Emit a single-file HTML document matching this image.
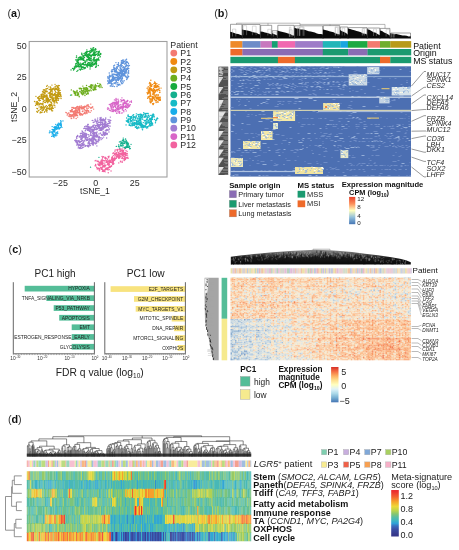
<!DOCTYPE html>
<html><head><meta charset="utf-8"><title>Figure</title>
<style>
html,body{margin:0;padding:0;background:#fff;}
body{width:459px;height:550px;overflow:hidden;}
svg{display:block;font-family:"Liberation Sans",Arial,sans-serif;}
</style></head><body>
<svg width="459" height="550" viewBox="0 0 459 550">
<rect width="459" height="550" fill="#fff"/>
<text x="7.4" y="17.2" font-size="10.8" fill="#333">(<tspan font-weight="bold" fill="#111">a</tspan>)</text>
<rect x="29.2" y="41.5" width="137.8" height="135.5" fill="none" stroke="#a0a0a0" stroke-width="1.1"/>
<text x="26.6" y="48.9" font-size="8.9" text-anchor="end" fill="#2a2a2a">50</text>
<text x="26.6" y="80.2" font-size="8.9" text-anchor="end" fill="#2a2a2a">25</text>
<text x="26.6" y="111.7" font-size="8.9" text-anchor="end" fill="#2a2a2a">0</text>
<text x="26.6" y="143.3" font-size="8.9" text-anchor="end" fill="#2a2a2a">−25</text>
<text x="26.6" y="174.7" font-size="8.9" text-anchor="end" fill="#2a2a2a">−50</text>
<text x="60.3" y="185.8" font-size="8.9" text-anchor="middle" fill="#2a2a2a">−25</text>
<text x="95.6" y="185.8" font-size="8.9" text-anchor="middle" fill="#2a2a2a">0</text>
<text x="134.7" y="185.8" font-size="8.9" text-anchor="middle" fill="#2a2a2a">25</text>
<text x="95" y="193.6" font-size="8.7" text-anchor="middle" fill="#2a2a2a">tSNE_1</text>
<text transform="translate(17,107) rotate(-90)" font-size="8.7" text-anchor="middle" fill="#2a2a2a">tSNE_2</text>
<text x="170.3" y="48" font-size="8.8" fill="#2a2a2a">Patient</text>
<circle cx="173.8" cy="53.1" r="3.4" fill="#F37A72"/>
<text x="180.3" y="56.3" font-size="8.8" fill="#2a2a2a">P1</text>
<circle cx="173.8" cy="61.5" r="3.4" fill="#F08A12"/>
<text x="180.3" y="64.7" font-size="8.8" fill="#2a2a2a">P2</text>
<circle cx="173.8" cy="69.8" r="3.4" fill="#C39B12"/>
<text x="180.3" y="73" font-size="8.8" fill="#2a2a2a">P3</text>
<circle cx="173.8" cy="78.2" r="3.4" fill="#6EAE1E"/>
<text x="180.3" y="81.4" font-size="8.8" fill="#2a2a2a">P4</text>
<circle cx="173.8" cy="86.5" r="3.4" fill="#18AB3E"/>
<text x="180.3" y="89.7" font-size="8.8" fill="#2a2a2a">P5</text>
<circle cx="173.8" cy="94.8" r="3.4" fill="#14B08E"/>
<text x="180.3" y="98" font-size="8.8" fill="#2a2a2a">P6</text>
<circle cx="173.8" cy="103.2" r="3.4" fill="#16BAC6"/>
<text x="180.3" y="106.4" font-size="8.8" fill="#2a2a2a">P7</text>
<circle cx="173.8" cy="111.5" r="3.4" fill="#18ADEA"/>
<text x="180.3" y="114.8" font-size="8.8" fill="#2a2a2a">P8</text>
<circle cx="173.8" cy="119.9" r="3.4" fill="#5E93DC"/>
<text x="180.3" y="123.1" font-size="8.8" fill="#2a2a2a">P9</text>
<circle cx="173.8" cy="128.2" r="3.4" fill="#A27CD2"/>
<text x="180.3" y="131.4" font-size="8.8" fill="#2a2a2a">P10</text>
<circle cx="173.8" cy="136.6" r="3.4" fill="#D866C8"/>
<text x="180.3" y="139.8" font-size="8.8" fill="#2a2a2a">P11</text>
<circle cx="173.8" cy="144.9" r="3.4" fill="#F2639F"/>
<text x="180.3" y="148.1" font-size="8.8" fill="#2a2a2a">P12</text>
<path d="M71.5 111.4h.1M67.7 113.8h.1M72.0 109.2h.1M72.3 109.5h.1M72.2 114.7h.1M85.7 106.3h.1M79.2 112.2h.1M77.5 106.5h.1M74.2 111.9h.1M87.1 111.8h.1M91.2 110.7h.1M79.6 114.8h.1M92.0 107.8h.1M79.7 109.1h.1M81.2 114.9h.1M80.0 107.4h.1M86.7 108.3h.1M86.0 112.5h.1M85.2 113.8h.1M70.5 111.7h.1M76.0 108.9h.1M80.9 113.7h.1M79.3 112.2h.1M79.0 109.8h.1M86.9 113.5h.1M79.7 111.1h.1M77.7 107.9h.1M77.8 108.5h.1M73.9 117.1h.1M90.8 108.3h.1M79.5 106.7h.1M85.9 110.9h.1M78.4 109.1h.1M86.4 110.2h.1M75.6 109.0h.1M89.7 107.1h.1M76.3 110.8h.1M76.1 118.5h.1M79.8 114.6h.1M83.4 108.5h.1M79.9 113.0h.1M84.5 106.8h.1M79.3 106.9h.1M75.5 108.9h.1M92.7 106.9h.1M88.5 110.6h.1M90.7 104.1h.1M74.5 108.0h.1M72.3 115.1h.1M77.2 111.5h.1M82.3 108.9h.1M87.4 104.9h.1M85.3 110.8h.1M82.7 114.5h.1M71.9 107.5h.1M81.5 108.9h.1M72.2 116.1h.1M83.6 106.9h.1M84.4 106.6h.1M76.2 112.5h.1M69.4 114.8h.1M75.1 110.3h.1M88.7 106.5h.1M79.7 109.8h.1M76.9 113.0h.1M77.7 110.7h.1M79.3 109.7h.1M90.7 108.0h.1M79.4 108.7h.1M69.6 116.2h.1M81.7 114.3h.1M81.8 106.9h.1M67.5 113.9h.1M76.4 107.9h.1M79.4 113.9h.1M73.7 108.4h.1M86.3 111.1h.1M74.4 115.7h.1M71.6 118.2h.1M81.2 108.6h.1M83.0 108.2h.1M86.7 106.9h.1M75.4 108.8h.1M80.3 107.1h.1M88.5 106.3h.1M67.9 113.8h.1M76.3 110.0h.1M71.5 111.0h.1M79.8 106.2h.1M86.0 110.6h.1M83.0 111.1h.1M76.4 115.5h.1M73.8 113.7h.1M77.0 110.9h.1M87.3 109.9h.1M65.8 112.3h.1M80.4 115.1h.1M88.7 112.0h.1M70.8 114.6h.1M76.9 114.8h.1M71.2 115.5h.1M71.0 116.5h.1M68.4 116.1h.1M78.3 112.6h.1M74.9 113.9h.1M78.3 108.3h.1M75.6 107.7h.1M73.5 111.3h.1M70.4 114.8h.1M78.3 112.7h.1M75.6 110.3h.1M83.2 113.8h.1M79.5 111.4h.1M75.3 111.2h.1M70.8 110.6h.1M79.3 108.0h.1M73.4 113.0h.1M84.9 113.2h.1M81.0 107.8h.1M66.3 112.7h.1M83.4 107.0h.1M88.4 104.9h.1M75.4 112.9h.1M74.3 113.4h.1M82.1 108.6h.1M75.6 114.6h.1M88.1 108.2h.1M77.0 113.0h.1M81.3 108.0h.1M91.7 107.4h.1M78.2 106.9h.1M75.2 112.7h.1M67.8 113.8h.1M81.1 107.8h.1M72.1 109.3h.1M85.5 106.7h.1M71.1 118.6h.1M88.6 111.3h.1M84.1 107.0h.1M70.1 110.6h.1M81.3 105.8h.1M85.3 106.8h.1M82.3 111.6h.1M82.5 115.0h.1M75.5 113.2h.1M77.6 111.9h.1M75.8 115.7h.1M76.0 110.4h.1M71.9 110.4h.1M82.7 107.6h.1M68.2 113.2h.1M72.5 111.1h.1M73.1 107.5h.1M70.5 115.0h.1M82.5 111.2h.1M71.1 111.9h.1M73.3 116.0h.1M77.5 115.4h.1M74.9 114.5h.1M88.5 111.9h.1M86.7 111.3h.1M86.9 113.0h.1M75.9 108.8h.1M79.2 110.7h.1M68.9 112.9h.1M92.5 106.9h.1M79.7 111.9h.1M75.1 113.2h.1M84.3 112.1h.1M76.3 112.6h.1M93.6 109.1h.1M84.1 106.8h.1M86.7 105.3h.1M77.7 109.8h.1M73.8 118.1h.1M73.7 117.7h.1M84.0 109.1h.1M77.6 117.1h.1M74.9 115.2h.1M82.3 107.0h.1M79.6 112.3h.1M75.9 114.2h.1M74.0 114.3h.1M75.2 111.7h.1M76.7 114.2h.1M84.8 109.9h.1M82.9 110.9h.1M77.1 111.8h.1M80.5 107.6h.1M76.6 106.8h.1M79.6 110.8h.1M69.6 114.3h.1M70.4 114.9h.1M74.1 111.1h.1M67.1 115.1h.1M81.1 113.7h.1M84.7 106.2h.1M87.5 110.4h.1M79.6 110.4h.1M84.3 113.4h.1M75.5 113.0h.1M78.9 112.5h.1M80.7 115.1h.1M87.2 105.8h.1M71.6 109.6h.1M74.6 115.9h.1M84.3 107.7h.1M73.1 114.7h.1M90.1 112.3h.1M70.0 116.8h.1M75.9 109.3h.1M72.6 111.7h.1M83.1 113.8h.1M73.5 115.9h.1M78.7 109.5h.1" stroke="#F37A72" stroke-width="1.35" stroke-linecap="round" fill="none"/>
<path d="M154.1 93.9h.1M151.8 100.1h.1M156.3 90.1h.1M155.1 90.3h.1M156.0 85.6h.1M156.2 87.5h.1M150.6 98.9h.1M156.8 95.0h.1M158.5 97.3h.1M150.1 90.8h.1M153.9 83.4h.1M157.6 86.9h.1M151.4 90.5h.1M152.4 90.3h.1M157.8 101.4h.1M152.3 97.9h.1M155.8 97.0h.1M154.7 85.6h.1M150.2 84.3h.1M156.2 100.8h.1M151.9 100.2h.1M147.9 89.9h.1M153.3 92.0h.1M148.8 97.1h.1M150.2 89.3h.1M149.3 98.0h.1M150.2 100.9h.1M152.1 97.9h.1M156.3 100.4h.1M157.3 89.3h.1M155.5 91.6h.1M152.8 91.9h.1M154.0 92.8h.1M154.9 99.3h.1M156.8 97.8h.1M157.0 90.5h.1M150.5 87.9h.1M150.5 85.1h.1M152.1 100.1h.1M152.7 94.2h.1M155.5 91.4h.1M154.1 96.9h.1M149.7 82.5h.1M150.1 94.6h.1M154.8 82.3h.1M153.0 97.0h.1M154.5 87.3h.1M148.7 86.8h.1M147.6 94.0h.1M158.4 94.9h.1M154.6 83.0h.1M154.6 92.7h.1M159.7 92.6h.1M156.9 85.8h.1M151.0 102.4h.1M150.1 94.9h.1M149.9 88.3h.1M160.2 98.9h.1M156.0 101.2h.1M156.7 98.7h.1M149.6 91.5h.1M160.2 97.2h.1M158.4 99.9h.1M159.0 90.2h.1M159.1 88.5h.1M153.5 88.4h.1M158.9 84.6h.1M149.0 93.2h.1M154.3 89.5h.1M154.1 89.1h.1M159.1 97.2h.1M157.9 102.4h.1M147.1 88.2h.1M150.8 99.1h.1M152.9 104.6h.1M156.7 89.6h.1M157.0 87.0h.1M159.0 99.9h.1M153.7 94.0h.1M150.7 89.1h.1M150.9 95.8h.1M154.8 98.9h.1M152.5 103.6h.1M152.5 100.2h.1M155.3 90.1h.1M159.3 99.8h.1M156.7 98.9h.1M155.8 86.9h.1M159.0 86.9h.1M148.0 97.0h.1M150.0 95.8h.1M155.1 85.5h.1M159.2 100.3h.1M153.4 88.6h.1M150.8 84.9h.1M150.6 94.1h.1M159.6 98.1h.1M160.1 100.2h.1M154.2 85.3h.1M153.2 98.4h.1M154.6 81.8h.1M159.9 92.2h.1M155.5 83.2h.1M155.4 96.0h.1M147.6 98.2h.1M152.6 96.9h.1M156.3 97.4h.1M150.5 83.9h.1M155.9 94.9h.1M149.7 90.8h.1M151.1 99.1h.1M153.4 90.2h.1M151.1 88.7h.1M153.2 104.6h.1M150.7 86.3h.1M150.1 102.2h.1M158.2 99.5h.1M149.0 93.3h.1M157.0 98.7h.1M156.4 95.0h.1M156.9 86.9h.1M153.3 98.3h.1M151.7 100.9h.1M150.0 101.5h.1M150.8 80.2h.1M149.0 96.5h.1M149.3 83.6h.1M152.3 96.4h.1M158.4 86.3h.1M152.3 99.2h.1M149.9 89.6h.1M148.3 91.5h.1M148.4 92.0h.1M153.6 103.5h.1M154.5 86.0h.1M153.5 98.4h.1M151.4 85.2h.1M153.7 98.6h.1M154.1 95.2h.1M153.8 92.8h.1M161.0 88.1h.1M153.4 94.1h.1M150.2 83.0h.1M153.4 90.3h.1M159.7 90.5h.1M150.3 96.5h.1M150.4 85.9h.1M153.7 96.9h.1M153.7 97.0h.1M152.0 96.6h.1M149.9 85.4h.1M148.6 90.2h.1M157.2 91.0h.1M156.1 97.7h.1M158.5 98.3h.1M150.0 100.0h.1M155.1 83.5h.1M153.0 93.4h.1M157.5 85.5h.1M150.0 99.4h.1M147.3 92.9h.1M154.2 93.1h.1M154.5 99.5h.1M149.9 88.0h.1M158.2 89.3h.1M156.2 87.0h.1M157.3 98.4h.1M158.1 95.2h.1M151.5 101.3h.1M152.1 89.4h.1M156.1 102.3h.1M152.3 101.1h.1M157.8 97.0h.1M158.3 99.6h.1M151.7 86.3h.1M152.6 100.1h.1M156.1 102.5h.1M153.9 90.5h.1M149.7 89.1h.1M155.5 90.9h.1M148.0 93.1h.1M152.3 97.8h.1M151.1 88.3h.1M154.8 92.6h.1M147.0 92.6h.1M155.6 86.5h.1M154.3 91.8h.1M150.4 93.0h.1M157.8 97.9h.1M156.8 83.6h.1M151.1 84.1h.1M149.5 87.9h.1M153.8 91.0h.1M152.6 90.9h.1M156.5 98.4h.1M152.6 84.6h.1M154.0 89.1h.1M151.6 89.7h.1M150.5 89.3h.1M148.9 88.8h.1M154.6 97.1h.1M149.2 89.6h.1M158.6 99.7h.1M150.6 102.7h.1M158.0 86.6h.1M159.5 92.3h.1M148.1 86.9h.1M153.2 98.2h.1M149.8 96.4h.1M155.2 100.3h.1M153.6 98.0h.1M160.3 100.2h.1M150.1 91.6h.1M154.0 86.7h.1M158.0 94.8h.1M150.9 95.8h.1M155.7 87.5h.1M149.7 92.7h.1M156.6 97.2h.1M156.8 97.9h.1M152.7 97.5h.1M154.1 94.4h.1M150.2 99.0h.1M151.6 99.2h.1M155.7 84.5h.1M157.2 90.8h.1" stroke="#F08A12" stroke-width="1.35" stroke-linecap="round" fill="none"/>
<path d="M55.5 96.5h.1M42.4 104.2h.1M39.0 98.6h.1M58.6 89.7h.1M43.7 101.6h.1M52.8 99.2h.1M58.1 93.5h.1M44.4 95.4h.1M56.6 97.0h.1M55.0 84.3h.1M39.1 98.5h.1M42.9 103.5h.1M56.3 100.4h.1M46.9 112.1h.1M37.2 101.5h.1M59.4 96.5h.1M49.3 108.9h.1M36.2 101.9h.1M42.5 91.7h.1M42.2 110.8h.1M51.5 108.9h.1M47.3 106.7h.1M41.2 104.0h.1M59.0 94.0h.1M38.6 110.6h.1M56.5 89.3h.1M57.2 86.3h.1M58.7 94.9h.1M50.5 89.1h.1M46.6 98.4h.1M50.3 99.4h.1M42.9 104.9h.1M52.5 94.5h.1M37.3 104.1h.1M60.5 95.1h.1M45.7 109.8h.1M50.0 97.1h.1M50.0 109.0h.1M52.1 108.4h.1M42.7 104.5h.1M37.8 103.3h.1M42.9 99.6h.1M54.7 94.4h.1M57.8 95.1h.1M39.9 96.5h.1M59.6 90.5h.1M50.8 104.5h.1M46.0 90.9h.1M35.5 105.4h.1M42.1 98.2h.1M54.6 94.5h.1M41.9 112.4h.1M40.0 112.9h.1M47.7 102.7h.1M47.4 108.3h.1M41.8 106.7h.1M44.6 107.1h.1M53.1 88.5h.1M54.5 90.1h.1M58.2 92.4h.1M58.6 94.6h.1M54.3 100.7h.1M57.2 88.1h.1M56.3 102.0h.1M56.2 96.6h.1M41.2 103.7h.1M50.8 90.5h.1M45.4 102.5h.1M54.9 107.1h.1M51.2 109.2h.1M50.5 94.7h.1M51.6 93.3h.1M49.3 104.3h.1M43.3 109.4h.1M45.1 93.7h.1M50.0 106.3h.1M41.9 98.0h.1M58.0 95.2h.1M42.8 104.2h.1M56.9 98.5h.1M57.4 89.9h.1M60.3 92.7h.1M58.2 100.2h.1M41.1 104.1h.1M58.9 95.6h.1M56.4 99.2h.1M45.1 92.1h.1M52.3 97.7h.1M60.8 96.8h.1M42.3 96.7h.1M57.4 94.5h.1M55.5 97.3h.1M46.0 88.6h.1M49.6 96.1h.1M46.7 99.4h.1M36.1 103.2h.1M42.1 96.6h.1M44.0 107.3h.1M45.3 100.1h.1M53.2 99.2h.1M46.8 109.1h.1M54.7 93.8h.1M56.4 99.7h.1M52.2 96.6h.1M54.9 86.9h.1M53.9 100.1h.1M39.8 96.2h.1M57.9 92.6h.1M54.7 93.6h.1M50.1 97.5h.1M49.4 108.1h.1M53.0 89.2h.1M39.1 106.9h.1M56.9 97.4h.1M54.8 101.4h.1M46.6 101.1h.1M53.9 98.0h.1M46.1 91.4h.1M52.5 100.3h.1M43.5 92.7h.1M53.9 105.0h.1M54.8 89.6h.1M56.1 88.4h.1M37.2 104.8h.1M56.3 98.7h.1M55.6 100.4h.1M46.1 96.3h.1M45.3 96.1h.1M46.9 101.0h.1M57.9 90.6h.1M56.7 97.4h.1M57.1 103.1h.1M46.1 90.9h.1M43.4 96.5h.1M54.6 93.3h.1M43.5 101.4h.1M51.7 110.1h.1M50.8 91.6h.1M41.6 96.4h.1M45.4 106.3h.1M53.5 94.7h.1M59.3 94.1h.1M49.1 89.6h.1M53.5 99.5h.1M49.2 107.8h.1M41.1 112.5h.1M37.5 102.8h.1M51.5 93.8h.1M52.8 98.6h.1M47.7 99.8h.1M37.3 103.7h.1M38.6 102.9h.1M49.8 99.8h.1M50.4 87.0h.1M59.0 93.0h.1M37.1 104.3h.1M59.1 92.9h.1M53.8 94.5h.1M57.7 97.1h.1M43.3 98.6h.1M55.7 99.9h.1M49.2 99.8h.1M38.1 103.3h.1M40.9 106.5h.1M55.4 95.2h.1M54.9 97.9h.1M41.6 96.7h.1M51.3 93.7h.1M42.7 103.4h.1M47.5 97.2h.1M47.4 101.7h.1M59.9 93.2h.1M49.6 105.1h.1M41.4 94.3h.1M54.2 102.7h.1M36.2 104.0h.1M42.0 98.8h.1M53.2 108.4h.1M58.2 89.4h.1M49.4 100.5h.1M46.6 89.0h.1M59.1 88.6h.1M51.1 94.3h.1M36.3 104.0h.1M47.6 88.3h.1M43.4 107.0h.1M51.9 96.9h.1M51.5 105.9h.1M53.6 101.5h.1M47.3 99.7h.1M50.0 93.2h.1M55.1 90.8h.1M58.7 89.5h.1M52.0 110.9h.1M46.1 96.4h.1M43.1 91.4h.1M36.8 108.3h.1M40.8 108.8h.1M56.9 100.6h.1M35.9 96.3h.1M43.7 95.7h.1M59.3 92.6h.1M50.4 95.5h.1M50.2 95.1h.1M41.7 98.5h.1M52.2 100.8h.1M45.0 89.6h.1M43.2 101.7h.1M51.8 94.6h.1M56.0 88.6h.1M40.8 94.8h.1M52.2 99.0h.1M45.4 96.0h.1M40.3 100.3h.1M55.2 98.0h.1M52.4 91.9h.1M42.0 109.9h.1M56.7 85.7h.1M44.3 107.5h.1M58.6 87.9h.1M48.6 101.5h.1M47.2 97.4h.1M49.4 92.6h.1M46.9 91.1h.1M38.1 98.4h.1M56.4 89.0h.1M34.5 101.5h.1M50.6 96.7h.1M48.8 86.9h.1M49.7 94.0h.1M46.5 100.5h.1M39.3 100.7h.1M51.2 107.7h.1M41.4 108.2h.1M53.5 88.2h.1M53.5 100.8h.1M51.8 98.5h.1M55.8 86.1h.1M51.1 102.7h.1M47.0 108.1h.1M57.0 86.1h.1M51.7 109.3h.1M48.1 93.1h.1M47.2 91.6h.1M56.0 92.5h.1M51.8 97.7h.1M39.4 104.0h.1M58.3 100.3h.1M57.0 102.7h.1M41.8 108.1h.1M58.0 91.0h.1M49.6 109.5h.1M53.6 99.3h.1M40.5 103.3h.1M46.2 101.5h.1M59.5 93.1h.1M59.6 94.2h.1M55.1 88.1h.1M49.7 107.8h.1M53.1 88.8h.1M41.6 95.9h.1M46.0 95.4h.1M43.2 99.2h.1M50.0 104.7h.1M53.5 100.6h.1M44.8 102.3h.1M58.7 94.5h.1M46.5 96.0h.1M59.0 92.2h.1M57.7 89.7h.1M57.4 89.5h.1M36.5 104.4h.1M46.1 98.4h.1M50.6 93.7h.1M49.8 89.4h.1M38.8 100.2h.1M52.9 98.9h.1M48.0 108.8h.1M50.6 90.0h.1M53.7 101.7h.1M42.6 103.6h.1M47.1 95.2h.1M49.5 109.3h.1M59.2 90.1h.1M53.4 95.6h.1M61.0 98.5h.1M58.7 88.9h.1M47.8 108.8h.1M58.7 95.1h.1M42.9 110.2h.1M51.6 110.3h.1M39.5 104.3h.1M46.0 91.8h.1M50.0 105.5h.1M51.7 94.6h.1M53.1 88.5h.1M43.1 108.6h.1M43.3 90.0h.1M43.4 106.1h.1M40.9 104.0h.1M50.7 87.6h.1M43.5 97.6h.1M42.4 110.3h.1M41.2 107.2h.1M50.4 105.2h.1M48.3 98.5h.1M48.6 100.4h.1M60.6 94.5h.1M43.2 99.0h.1M56.5 100.6h.1M53.7 88.9h.1M48.5 108.6h.1M47.1 99.4h.1M42.7 107.7h.1M40.2 109.2h.1M48.8 100.9h.1M47.2 98.5h.1M44.1 97.2h.1M41.2 103.7h.1M41.7 104.0h.1M52.7 99.7h.1M55.4 88.8h.1M52.6 110.8h.1M56.0 98.0h.1M58.1 87.2h.1M56.3 94.9h.1M50.3 95.4h.1M55.6 100.3h.1M36.8 104.3h.1M41.4 97.9h.1M51.9 99.3h.1M43.9 89.7h.1M61.2 96.1h.1M44.3 112.3h.1M41.5 96.4h.1M55.0 94.7h.1M36.8 111.5h.1M53.7 88.8h.1M41.4 107.7h.1M46.7 95.8h.1M50.2 92.7h.1M52.2 93.5h.1M56.5 97.8h.1M51.8 104.0h.1M47.2 85.3h.1M51.4 90.2h.1M48.3 108.4h.1M60.5 95.5h.1M55.5 98.8h.1M50.5 87.3h.1M52.0 101.1h.1M49.2 92.8h.1M46.4 108.2h.1M51.4 105.5h.1M51.7 105.6h.1M47.0 96.2h.1M59.2 92.3h.1M58.1 87.6h.1M42.0 94.6h.1M53.9 95.2h.1M48.6 99.4h.1M57.5 92.9h.1M54.5 93.6h.1M42.3 95.1h.1M48.9 105.6h.1M52.8 97.8h.1M44.2 108.6h.1M51.9 85.1h.1M39.0 96.6h.1M59.3 85.6h.1M44.6 93.2h.1M44.5 90.0h.1M47.5 108.7h.1M53.2 97.9h.1M55.7 97.6h.1M55.0 93.4h.1M53.3 94.6h.1M56.2 94.7h.1M37.5 108.7h.1M40.4 98.2h.1M42.7 103.5h.1M58.2 85.3h.1M58.9 94.8h.1M41.3 108.6h.1M52.3 89.0h.1M50.5 88.9h.1M55.4 94.6h.1M49.8 100.6h.1M45.7 110.3h.1M57.7 87.4h.1M44.8 102.4h.1M57.9 92.4h.1M37.5 97.8h.1M43.5 109.8h.1M45.3 97.0h.1M58.1 92.4h.1M53.7 98.7h.1M55.3 91.3h.1M56.6 95.6h.1M43.3 99.3h.1M48.5 99.5h.1M57.2 96.7h.1M49.9 105.3h.1M52.2 90.0h.1M39.1 99.4h.1M52.6 105.8h.1M38.4 104.8h.1M58.2 96.4h.1M44.9 91.0h.1M38.2 110.9h.1M44.5 92.1h.1M57.8 96.2h.1M54.8 102.8h.1M55.8 89.2h.1M46.3 101.4h.1M52.5 107.2h.1M57.4 87.2h.1M37.5 102.5h.1M52.8 89.3h.1M38.9 110.3h.1M54.1 94.3h.1M38.2 97.5h.1M52.4 89.4h.1M51.6 89.0h.1M51.7 90.7h.1M42.5 96.8h.1M48.5 108.5h.1M45.7 99.9h.1M43.7 94.4h.1M53.9 88.8h.1M58.0 86.3h.1M44.7 97.0h.1M46.0 110.0h.1M50.3 101.8h.1M51.1 94.6h.1M49.0 108.4h.1M53.2 101.0h.1M41.5 95.4h.1M42.3 94.0h.1M46.3 105.6h.1M44.1 100.3h.1M50.0 94.2h.1M49.6 95.6h.1M51.1 105.7h.1M53.7 100.3h.1M55.4 97.1h.1M50.6 91.5h.1M44.3 96.6h.1M46.5 95.0h.1M58.4 91.2h.1M49.8 95.0h.1M39.2 99.5h.1M44.6 111.6h.1M50.2 101.7h.1M49.1 93.0h.1M51.0 97.2h.1M45.5 90.9h.1M51.4 110.0h.1M50.8 108.6h.1M46.2 107.8h.1M49.3 93.2h.1M37.4 112.2h.1M39.4 104.7h.1M54.0 95.6h.1M43.6 109.7h.1M50.9 90.6h.1M54.7 105.3h.1M57.6 98.5h.1M54.1 103.1h.1M47.1 110.6h.1M45.2 106.7h.1M41.2 107.8h.1M41.6 95.3h.1M55.5 92.8h.1M40.7 107.5h.1M59.0 92.3h.1M42.9 99.4h.1M52.0 95.9h.1M54.8 100.4h.1M56.0 99.0h.1M58.8 98.5h.1M48.7 105.4h.1M46.1 111.1h.1M41.1 106.4h.1M58.0 98.9h.1M49.9 105.4h.1M54.8 94.3h.1M51.4 102.6h.1M40.4 112.0h.1M41.1 97.9h.1M60.6 94.4h.1M45.9 109.3h.1M60.1 90.3h.1M52.6 99.6h.1M56.2 88.9h.1M46.6 96.9h.1M53.9 94.4h.1M38.6 100.0h.1M46.6 86.3h.1M42.3 110.1h.1M50.4 92.2h.1M60.1 93.9h.1M47.4 100.6h.1M49.8 96.3h.1M49.5 106.3h.1M54.7 89.1h.1M53.3 101.3h.1M50.3 91.9h.1" stroke="#C39B12" stroke-width="1.35" stroke-linecap="round" fill="none"/>
<path d="M95.3 85.5h.1M82.8 93.7h.1M80.1 88.5h.1M87.2 91.2h.1M94.4 89.7h.1M99.8 83.8h.1M83.7 92.1h.1M84.3 88.0h.1M85.9 90.3h.1M102.0 87.5h.1M83.8 89.4h.1M85.8 91.5h.1M93.0 85.9h.1M85.5 93.1h.1M74.9 92.6h.1M79.7 88.9h.1M86.6 87.8h.1M95.7 87.2h.1M91.4 86.6h.1M85.9 91.8h.1M87.3 88.2h.1M94.9 89.5h.1M73.9 91.7h.1M81.4 88.6h.1M90.8 87.4h.1M83.1 93.5h.1M94.1 88.7h.1M95.1 89.4h.1M91.1 85.3h.1M78.2 95.0h.1M82.8 86.1h.1M93.3 89.8h.1M93.3 90.2h.1M87.2 93.5h.1M83.3 88.1h.1M74.9 93.9h.1M86.9 89.7h.1M77.8 93.5h.1M78.5 94.5h.1M90.6 85.1h.1M79.7 91.6h.1M86.9 88.0h.1M85.0 91.2h.1M80.9 91.9h.1M86.3 87.6h.1M79.2 96.7h.1M82.5 93.9h.1M77.9 95.0h.1M97.7 83.4h.1M78.5 93.2h.1M100.5 84.4h.1M75.0 94.0h.1M81.3 89.9h.1M87.2 88.2h.1M81.9 90.5h.1M75.3 93.0h.1M88.0 92.2h.1M83.3 92.7h.1M94.4 89.6h.1M83.0 91.6h.1M94.7 85.9h.1M74.7 91.7h.1M81.1 93.0h.1M91.5 88.2h.1M94.1 87.0h.1M75.2 95.3h.1M92.6 85.7h.1M95.6 88.0h.1M90.4 86.8h.1M84.0 93.8h.1M95.6 86.2h.1M77.7 92.9h.1M89.4 90.9h.1M96.8 85.9h.1M71.6 95.0h.1M81.6 93.4h.1M86.1 90.5h.1M84.9 95.5h.1M85.7 87.6h.1M81.7 92.3h.1M79.7 91.5h.1M83.8 88.7h.1M81.5 90.6h.1M87.6 90.0h.1M99.8 86.0h.1M91.5 86.6h.1M90.0 87.6h.1M98.5 86.5h.1M85.3 89.3h.1M81.8 90.2h.1M96.0 89.6h.1M84.5 90.8h.1M79.2 88.2h.1M82.7 93.6h.1M82.9 93.7h.1M88.7 90.5h.1M95.3 85.8h.1M91.9 87.3h.1M85.4 88.9h.1M78.6 93.0h.1M99.9 84.5h.1M91.3 85.5h.1M77.1 92.8h.1M77.0 90.5h.1M76.0 91.8h.1M88.2 93.4h.1M83.6 88.7h.1M84.6 89.1h.1M86.2 87.4h.1M89.5 86.3h.1M95.7 85.5h.1M85.0 91.5h.1M71.3 89.9h.1M86.3 88.8h.1M95.7 86.6h.1M93.9 87.4h.1M99.0 85.6h.1M85.9 88.2h.1M81.8 94.0h.1M92.8 89.2h.1M77.2 92.5h.1M94.7 88.1h.1M74.2 91.3h.1M95.4 87.9h.1M87.8 88.8h.1M90.7 89.8h.1M91.2 88.2h.1M85.7 89.6h.1M79.1 96.2h.1M89.1 90.2h.1M87.5 89.3h.1M94.2 89.8h.1M88.1 93.9h.1M84.6 88.6h.1M98.2 85.9h.1M82.1 90.8h.1M88.8 86.6h.1M75.7 93.3h.1M83.2 93.6h.1M80.6 88.1h.1M77.1 95.6h.1M96.3 86.0h.1M92.8 84.8h.1M73.3 91.0h.1M81.2 90.0h.1M86.4 94.4h.1M95.1 87.5h.1M75.4 94.5h.1M85.9 88.0h.1M101.1 86.0h.1M87.7 89.0h.1M74.6 93.4h.1M93.1 89.4h.1M74.2 93.3h.1M87.5 91.9h.1M77.6 94.4h.1M94.0 87.8h.1M87.9 90.9h.1M82.7 94.7h.1M90.5 86.2h.1M77.1 91.0h.1M83.2 88.6h.1M91.1 90.7h.1M86.5 85.4h.1M95.3 84.3h.1M76.0 94.9h.1M87.2 91.3h.1M76.6 92.1h.1M91.3 84.7h.1M83.5 87.8h.1M74.1 92.4h.1M84.9 92.8h.1M82.8 91.9h.1M83.6 91.9h.1M83.4 90.4h.1M99.9 87.5h.1" stroke="#6EAE1E" stroke-width="1.35" stroke-linecap="round" fill="none"/>
<path d="M82.9 67.0h.1M91.7 63.5h.1M91.5 60.7h.1M80.3 65.3h.1M89.1 62.4h.1M93.1 64.3h.1M89.0 54.2h.1M96.4 64.8h.1M88.2 63.8h.1M90.1 66.5h.1M96.5 61.4h.1M83.7 59.6h.1M84.0 65.1h.1M87.2 56.4h.1M88.5 63.9h.1M84.0 53.8h.1M82.7 58.5h.1M81.0 66.6h.1M95.9 59.6h.1M85.9 60.9h.1M81.6 66.4h.1M92.9 50.1h.1M94.1 55.6h.1M81.7 58.4h.1M96.0 54.2h.1M93.3 53.6h.1M96.0 52.1h.1M94.9 52.0h.1M95.4 60.6h.1M77.3 61.8h.1M85.8 54.3h.1M93.6 47.6h.1M92.5 50.0h.1M100.8 53.8h.1M76.8 71.3h.1M80.4 69.3h.1M93.0 47.8h.1M83.0 63.1h.1M98.6 57.8h.1M98.9 52.3h.1M79.2 64.5h.1M94.0 54.8h.1M80.0 56.9h.1M76.9 60.1h.1M98.7 53.0h.1M81.4 67.7h.1M96.4 63.2h.1M89.3 51.3h.1M77.9 65.9h.1M82.1 69.4h.1M92.9 50.0h.1M79.2 69.1h.1M78.1 65.2h.1M92.1 50.0h.1M96.0 64.1h.1M85.0 68.3h.1M83.7 58.3h.1M96.5 59.4h.1M92.1 66.4h.1M82.7 63.8h.1M83.9 56.0h.1M94.6 53.7h.1M83.4 62.9h.1M85.4 64.5h.1M91.1 60.6h.1M79.8 58.7h.1M95.5 48.7h.1M93.5 59.6h.1M83.1 59.5h.1M96.4 63.7h.1M98.2 52.0h.1M90.9 56.6h.1M79.2 67.0h.1M88.9 57.5h.1M81.0 65.5h.1M93.4 53.1h.1M81.8 57.0h.1M97.7 53.9h.1M75.6 64.0h.1M96.0 59.7h.1M88.0 51.4h.1M91.7 51.3h.1M90.4 62.9h.1M77.7 61.7h.1M86.3 53.9h.1M86.6 66.1h.1M87.9 63.6h.1M98.1 58.7h.1M77.3 61.3h.1M78.6 66.8h.1M89.6 52.1h.1M85.1 61.4h.1M90.3 58.3h.1M83.8 67.6h.1M99.3 54.8h.1M80.4 70.0h.1M81.3 57.9h.1M84.1 53.5h.1M89.8 64.4h.1M92.9 51.1h.1M90.9 59.4h.1M81.9 67.3h.1M99.2 52.8h.1M92.2 54.6h.1M95.1 48.8h.1M92.5 64.0h.1M100.7 54.2h.1M86.9 55.2h.1M83.7 64.5h.1M95.7 60.1h.1M95.2 62.7h.1M83.1 63.6h.1M98.2 59.5h.1M83.3 60.0h.1M76.3 57.6h.1M75.1 67.7h.1M84.5 62.1h.1M80.8 66.9h.1M76.8 61.2h.1M92.1 62.7h.1M94.2 58.3h.1M71.0 69.9h.1M88.5 57.6h.1M87.1 52.3h.1M98.2 65.5h.1M93.9 53.5h.1M89.8 64.4h.1M91.3 49.4h.1M78.7 65.9h.1M95.2 49.7h.1M81.7 53.2h.1M90.8 60.3h.1M97.1 60.2h.1M93.9 54.4h.1M98.9 54.7h.1M89.5 58.6h.1M77.0 60.0h.1M77.9 66.2h.1M98.8 59.6h.1M78.1 59.2h.1M93.8 60.5h.1M94.6 57.3h.1M75.6 59.9h.1M85.9 53.5h.1M84.1 60.4h.1M81.1 66.9h.1M88.1 63.8h.1M83.9 57.0h.1M88.1 65.5h.1M95.3 63.3h.1M87.7 56.9h.1M83.3 67.1h.1M77.8 63.2h.1M78.3 65.1h.1M86.1 65.8h.1M92.2 63.6h.1M82.7 59.3h.1M81.6 66.2h.1M98.6 54.5h.1M96.0 54.6h.1M81.9 59.6h.1M100.0 56.8h.1M88.9 64.9h.1M81.7 54.2h.1M89.3 57.8h.1M81.9 54.2h.1M91.3 64.1h.1M90.0 50.9h.1M91.0 65.6h.1M83.8 68.9h.1M76.2 66.3h.1M81.9 67.0h.1M95.0 59.8h.1M94.4 54.2h.1M74.9 67.1h.1M96.6 59.2h.1M83.0 55.6h.1M93.6 63.9h.1M78.0 66.2h.1M93.2 49.5h.1M95.0 54.6h.1M78.2 60.4h.1M78.5 62.5h.1M80.5 58.2h.1M84.6 67.7h.1M81.7 64.3h.1M90.7 65.9h.1M84.6 62.1h.1M91.9 54.8h.1M88.2 54.5h.1M76.3 63.5h.1M94.3 51.8h.1M91.5 61.0h.1M74.3 68.5h.1M93.6 65.0h.1M94.2 52.2h.1M88.8 56.9h.1M89.2 58.4h.1M90.6 60.8h.1M76.2 65.1h.1M87.3 65.2h.1M90.0 68.9h.1M82.6 67.5h.1M76.4 59.8h.1M79.2 57.3h.1M89.4 65.5h.1M91.2 52.0h.1M91.0 50.3h.1M99.3 51.2h.1M85.3 52.3h.1M84.4 57.4h.1M78.1 65.6h.1M83.2 59.4h.1M88.7 58.9h.1M74.3 69.0h.1M79.0 63.6h.1M87.5 54.4h.1M85.3 67.6h.1M74.7 67.6h.1M85.8 55.1h.1M90.3 58.1h.1M84.6 54.0h.1M91.3 55.5h.1M83.5 63.5h.1M93.3 55.6h.1M79.3 64.3h.1M92.1 63.4h.1M92.2 64.7h.1M77.6 61.9h.1M86.6 51.7h.1M94.6 64.2h.1M86.2 65.8h.1M80.2 65.1h.1M78.3 62.4h.1M93.3 48.1h.1M87.8 63.2h.1M77.8 70.5h.1M90.8 55.5h.1M91.3 49.8h.1M84.8 64.7h.1M86.2 56.0h.1M97.7 55.7h.1M97.3 59.4h.1M74.5 68.3h.1M85.4 62.7h.1M80.3 56.9h.1M85.8 52.3h.1M94.1 59.0h.1M98.9 60.3h.1M96.0 66.2h.1M94.9 50.5h.1M75.8 64.1h.1M88.3 62.6h.1M72.5 68.4h.1M79.1 59.7h.1M96.8 51.4h.1M82.0 54.8h.1M91.2 58.8h.1M95.8 49.5h.1M88.1 56.6h.1M74.8 68.2h.1M92.8 49.5h.1M95.9 62.5h.1M86.7 53.0h.1M89.6 63.6h.1M94.6 55.5h.1M81.3 58.7h.1M93.0 62.0h.1M78.2 58.0h.1M89.0 53.6h.1M95.7 60.5h.1M87.7 65.2h.1M80.5 65.3h.1M80.0 64.7h.1M86.5 64.7h.1M85.4 67.9h.1M98.7 53.1h.1M94.9 61.2h.1M86.8 49.9h.1M91.0 58.3h.1M91.9 63.2h.1M98.2 53.0h.1M96.3 66.7h.1M80.4 63.1h.1M85.2 55.3h.1M80.8 57.9h.1M77.1 66.5h.1M98.0 53.4h.1M89.5 54.4h.1M87.2 51.6h.1M87.5 66.9h.1M81.5 57.7h.1M86.8 59.5h.1M87.0 56.7h.1M92.3 55.1h.1M78.4 59.4h.1M90.5 64.8h.1M78.6 60.1h.1M74.2 67.1h.1M96.3 61.9h.1M80.7 58.7h.1M88.1 55.0h.1M76.5 66.2h.1M86.9 64.9h.1M93.5 55.5h.1M83.8 55.9h.1M82.9 56.9h.1M93.9 55.2h.1M96.8 54.3h.1M96.1 60.0h.1M94.6 60.4h.1M99.6 55.2h.1M92.8 48.6h.1M88.6 58.5h.1M88.1 57.9h.1M88.9 57.3h.1M93.6 59.0h.1M88.3 56.4h.1M82.5 64.3h.1M98.8 51.5h.1M78.0 59.7h.1M95.4 63.2h.1M100.6 53.5h.1M80.1 64.5h.1M94.7 49.3h.1M81.9 58.8h.1M98.2 52.3h.1M92.4 65.0h.1M93.6 57.8h.1M84.0 55.7h.1M91.3 66.1h.1M91.3 56.3h.1M93.4 50.7h.1M76.6 67.1h.1M98.6 57.8h.1M86.5 52.6h.1M88.3 57.7h.1M98.2 53.2h.1M90.9 48.4h.1M88.6 55.2h.1M83.6 67.1h.1M94.2 63.3h.1M82.5 63.6h.1M78.3 60.6h.1M98.5 55.0h.1M82.3 59.6h.1M92.7 50.4h.1M95.4 55.5h.1M88.2 62.7h.1M80.4 57.8h.1M80.6 65.8h.1M89.0 54.2h.1M90.3 63.1h.1M86.7 55.9h.1M87.2 57.1h.1M96.3 60.3h.1M87.4 67.0h.1M92.7 59.8h.1M93.3 52.9h.1M86.6 55.6h.1M77.9 65.7h.1M93.9 60.8h.1M95.5 67.2h.1M75.0 66.7h.1M89.3 63.9h.1M89.7 55.5h.1M87.2 55.9h.1M91.7 65.5h.1M89.4 60.2h.1M90.8 60.3h.1M84.6 64.9h.1M80.7 59.8h.1M89.5 59.7h.1M80.6 66.1h.1M85.3 67.9h.1M90.4 52.4h.1M90.9 62.9h.1M100.4 54.0h.1M91.4 56.8h.1M93.2 54.6h.1M77.7 64.3h.1M82.0 63.7h.1M96.6 61.1h.1M76.5 56.0h.1M95.7 49.1h.1M91.0 60.5h.1M94.8 53.0h.1M87.9 59.6h.1M81.2 68.8h.1M90.0 53.9h.1M93.5 59.9h.1M73.5 70.1h.1M88.4 59.9h.1M83.3 60.4h.1M90.1 67.1h.1M100.2 56.7h.1M87.8 57.5h.1M73.3 68.8h.1M91.9 63.3h.1M92.9 54.5h.1M88.5 57.4h.1M86.9 61.0h.1M87.1 64.2h.1M77.2 62.6h.1M75.3 65.9h.1M89.4 57.5h.1M93.4 59.8h.1M79.8 66.1h.1" stroke="#18AB3E" stroke-width="1.35" stroke-linecap="round" fill="none"/>
<path d="M125.5 139.0h.1M127.8 144.5h.1M128.2 144.6h.1M129.0 145.9h.1M124.3 143.4h.1M121.1 143.7h.1M127.9 143.0h.1M127.0 141.9h.1M124.3 141.8h.1M127.6 144.5h.1M125.7 141.6h.1M126.3 142.1h.1M127.1 146.5h.1M128.5 144.9h.1M126.5 142.2h.1M124.2 143.2h.1M126.0 140.1h.1M122.6 140.2h.1M126.3 142.5h.1M125.9 141.2h.1M126.3 144.0h.1M122.2 140.9h.1M120.7 141.3h.1M126.9 146.2h.1M126.9 143.8h.1M126.6 147.1h.1M122.3 142.7h.1M119.8 148.3h.1M120.7 142.9h.1M130.3 148.6h.1M126.3 143.7h.1M124.2 147.8h.1M122.9 140.0h.1M125.0 142.1h.1M123.6 139.7h.1M124.0 141.4h.1M131.0 144.3h.1M129.0 147.0h.1M126.4 143.5h.1M127.7 147.2h.1M122.8 146.8h.1M125.5 148.4h.1M128.4 143.6h.1M123.8 142.1h.1M123.2 140.8h.1M126.2 140.7h.1M126.6 146.2h.1M125.0 148.0h.1M124.8 143.1h.1M125.3 146.8h.1M129.6 148.7h.1M128.0 147.0h.1M129.1 146.6h.1M127.5 146.7h.1M121.8 142.3h.1M124.2 147.3h.1M127.0 147.4h.1M123.7 140.5h.1M128.0 144.3h.1M128.9 147.4h.1M126.0 147.4h.1M129.7 146.7h.1M127.3 145.8h.1M119.4 141.9h.1M121.0 145.4h.1M126.9 142.6h.1M126.9 145.6h.1M123.1 140.0h.1M126.9 145.4h.1M123.2 138.1h.1M122.5 140.2h.1" stroke="#14B08E" stroke-width="1.35" stroke-linecap="round" fill="none"/>
<path d="M119.0 146.8h.1M116.3 146.4h.1M118.4 146.6h.1M118.8 145.1h.1M121.3 143.4h.1M122.7 145.1h.1M122.6 143.7h.1M121.2 146.1h.1M118.6 145.0h.1M120.8 145.8h.1M123.9 143.5h.1M121.6 145.6h.1M123.1 145.2h.1M120.5 144.9h.1M119.6 146.8h.1" stroke="#14B08E" stroke-width="1.35" stroke-linecap="round" fill="none"/>
<path d="M145.6 115.1h.1M141.8 126.6h.1M150.9 118.2h.1M146.3 124.3h.1M148.8 122.7h.1M148.6 126.1h.1M135.3 123.4h.1M140.5 118.4h.1M142.9 126.4h.1M141.4 123.5h.1M147.5 119.8h.1M127.4 121.5h.1M145.4 127.0h.1M132.5 122.7h.1M130.7 122.0h.1M153.2 114.6h.1M133.6 114.6h.1M153.9 114.9h.1M156.5 120.0h.1M139.2 124.1h.1M143.9 126.5h.1M136.3 120.5h.1M138.5 114.6h.1M154.5 119.4h.1M149.4 122.1h.1M137.8 118.0h.1M140.8 115.6h.1M139.4 123.8h.1M146.9 126.9h.1M141.5 115.2h.1M138.6 127.4h.1M145.7 114.2h.1M142.5 129.7h.1M140.2 115.7h.1M138.6 124.2h.1M150.9 120.1h.1M141.1 117.7h.1M148.4 120.8h.1M136.5 126.4h.1M144.9 120.9h.1M134.7 116.9h.1M142.0 117.8h.1M133.2 125.1h.1M135.9 118.1h.1M151.1 123.3h.1M149.1 122.8h.1M141.7 124.3h.1M142.6 116.1h.1M134.1 123.4h.1M148.1 115.3h.1M144.9 126.6h.1M152.0 124.5h.1M151.3 121.3h.1M136.5 122.4h.1M132.3 124.6h.1M150.2 121.7h.1M136.4 115.8h.1M127.3 120.2h.1M129.4 116.7h.1M141.9 126.7h.1M143.0 114.9h.1M154.2 116.9h.1M140.9 126.0h.1M143.5 114.9h.1M128.4 121.4h.1M149.3 122.2h.1M132.0 121.6h.1M128.0 121.2h.1M145.5 117.1h.1M150.6 115.3h.1M140.0 125.3h.1M140.5 120.4h.1M141.3 125.2h.1M151.7 124.3h.1M137.7 124.7h.1M141.7 127.2h.1M144.1 125.4h.1M156.7 119.1h.1M148.4 120.3h.1M147.1 118.5h.1M142.2 117.3h.1M155.6 121.1h.1M143.7 112.7h.1M151.2 121.5h.1M139.6 114.6h.1M145.9 120.3h.1M139.8 117.8h.1M136.1 126.2h.1M143.9 127.2h.1M152.3 115.9h.1M144.2 117.2h.1M145.2 113.5h.1M148.1 121.7h.1M141.8 124.1h.1M145.1 126.7h.1M137.2 128.5h.1M138.2 115.1h.1M142.7 119.2h.1M150.2 124.0h.1M152.2 122.9h.1M138.8 119.8h.1M145.2 123.5h.1M146.7 122.9h.1M141.6 123.1h.1M150.1 124.8h.1M144.0 117.2h.1M126.6 118.0h.1M153.6 114.9h.1M154.0 116.3h.1M140.5 123.4h.1M152.6 116.3h.1M132.7 119.8h.1M153.1 114.0h.1M133.5 116.8h.1M142.8 115.0h.1M133.0 115.1h.1M142.5 126.5h.1M134.1 123.7h.1M145.7 126.4h.1M136.1 115.8h.1M132.7 123.2h.1M146.3 119.7h.1M133.5 116.1h.1M130.4 120.0h.1M134.9 123.3h.1M133.0 123.4h.1M138.8 123.2h.1M132.3 125.5h.1M136.4 121.9h.1M148.5 122.1h.1M133.9 125.4h.1M142.8 126.0h.1M143.8 112.8h.1M142.5 124.9h.1M152.7 116.9h.1M131.2 117.9h.1M133.1 117.5h.1M129.0 122.8h.1M148.6 116.9h.1M152.2 114.8h.1M152.4 119.4h.1M139.3 119.0h.1M136.6 121.7h.1M139.0 124.4h.1M150.0 123.5h.1M150.7 121.0h.1M132.9 115.2h.1M132.5 125.1h.1M157.8 118.6h.1M152.3 115.8h.1M147.6 122.7h.1M131.4 123.8h.1M138.4 124.5h.1M149.8 118.5h.1M134.3 125.6h.1M134.7 123.8h.1M128.1 122.3h.1M136.2 123.3h.1M136.5 124.5h.1M149.5 119.5h.1M130.6 117.8h.1M150.9 120.8h.1M151.3 121.9h.1M147.2 117.4h.1M131.5 117.1h.1M137.7 121.0h.1M140.6 116.3h.1M146.6 123.7h.1M127.8 116.0h.1M148.1 117.3h.1M138.2 121.0h.1M140.7 114.2h.1M141.3 114.5h.1M135.1 119.1h.1M143.3 127.6h.1M137.1 124.1h.1M143.7 125.5h.1M133.7 116.4h.1M151.1 125.5h.1M148.5 122.6h.1M147.3 117.8h.1M136.7 128.4h.1M145.8 115.7h.1M131.8 118.2h.1M149.9 121.6h.1M147.3 126.9h.1M139.0 122.2h.1M153.0 115.5h.1M128.5 116.5h.1M128.3 118.8h.1M151.4 120.8h.1M147.6 126.6h.1M132.8 115.4h.1M147.6 113.5h.1M140.7 127.1h.1M139.7 120.7h.1M152.1 118.1h.1M145.1 126.2h.1M151.3 125.3h.1M126.2 120.8h.1M142.1 128.8h.1M130.2 125.6h.1M138.8 121.3h.1M137.8 124.3h.1M151.4 123.4h.1M144.4 126.9h.1M135.3 127.2h.1M134.5 122.4h.1M132.6 124.8h.1M140.5 119.7h.1M144.8 116.1h.1M128.8 121.6h.1M141.7 117.0h.1M139.7 118.5h.1M135.7 123.1h.1M139.0 122.6h.1M133.4 119.0h.1M151.0 125.3h.1M137.0 121.6h.1M141.8 125.5h.1M130.9 125.7h.1M150.0 125.4h.1M151.8 119.5h.1M155.4 122.7h.1M148.4 122.6h.1M140.6 124.5h.1M136.3 113.8h.1M132.3 124.0h.1M146.6 123.5h.1M128.2 120.3h.1M143.0 127.6h.1M139.7 119.0h.1M145.4 126.5h.1M136.6 127.1h.1M138.1 123.1h.1M126.0 124.9h.1M140.5 119.3h.1M144.3 113.9h.1M135.5 123.1h.1M134.7 120.2h.1M137.6 128.6h.1M133.7 124.6h.1M141.2 126.3h.1M139.2 118.1h.1M152.5 123.5h.1M134.6 124.7h.1M150.6 125.3h.1M140.2 123.9h.1M138.7 127.7h.1M148.5 116.8h.1M137.8 114.3h.1M140.5 122.9h.1M140.8 121.1h.1M147.1 116.3h.1M141.1 125.4h.1M127.6 122.1h.1M139.1 123.7h.1M136.2 120.6h.1M140.9 121.9h.1M152.3 117.4h.1M140.0 114.2h.1M145.6 125.1h.1M132.2 125.7h.1M148.9 120.5h.1M129.0 119.2h.1M152.7 125.1h.1M136.3 122.7h.1M137.9 123.1h.1M135.5 117.2h.1M131.5 120.6h.1M141.3 127.0h.1M133.9 123.7h.1M127.4 121.4h.1M130.4 116.6h.1M142.1 117.8h.1M151.9 115.7h.1M138.6 127.5h.1M140.0 117.0h.1M149.7 122.6h.1M129.1 125.2h.1M138.0 118.1h.1M145.1 126.5h.1M128.1 114.9h.1M126.6 121.2h.1M142.9 127.1h.1M130.6 121.1h.1M137.3 127.6h.1M149.7 119.6h.1M133.4 122.9h.1M148.2 121.1h.1M132.2 123.8h.1M147.8 127.8h.1M130.4 119.3h.1M150.0 126.0h.1M136.1 124.4h.1M150.6 125.8h.1M144.8 116.7h.1M146.3 116.0h.1M145.2 122.2h.1M138.8 127.2h.1M128.1 119.8h.1M143.3 125.6h.1M137.1 121.4h.1M144.2 120.5h.1M149.5 118.7h.1M130.1 118.4h.1M148.7 122.7h.1M139.3 122.4h.1M156.9 118.5h.1M138.9 127.9h.1M131.4 117.6h.1M155.5 120.3h.1M128.5 120.1h.1M140.5 116.4h.1M144.5 116.8h.1M133.3 120.8h.1M149.6 124.4h.1M146.3 119.7h.1M131.7 116.5h.1M137.8 121.4h.1M136.4 126.8h.1M140.2 123.0h.1M130.8 123.8h.1M131.0 124.0h.1M138.7 116.5h.1M152.0 118.4h.1M148.7 126.0h.1M152.6 114.7h.1M148.5 115.4h.1M148.9 115.3h.1M142.8 116.1h.1M157.2 117.9h.1M134.3 117.2h.1M149.9 119.4h.1M129.3 124.2h.1M149.8 124.1h.1M147.2 117.4h.1M146.7 121.6h.1M146.3 124.0h.1M142.3 116.5h.1M146.5 122.1h.1M130.4 118.7h.1M146.5 128.0h.1M137.4 119.1h.1M152.0 124.9h.1M141.0 119.3h.1M140.7 119.0h.1M143.3 122.6h.1M135.8 127.1h.1M135.5 118.6h.1M140.2 119.3h.1M136.2 116.9h.1M128.8 121.1h.1M149.9 124.9h.1M127.5 121.2h.1M149.2 116.7h.1M139.2 119.7h.1M144.6 116.7h.1M139.7 124.9h.1M150.9 119.4h.1M135.1 117.1h.1M151.7 117.1h.1M140.9 121.6h.1M143.4 114.9h.1M138.0 123.5h.1M141.1 125.6h.1M137.5 123.2h.1M137.7 118.6h.1M136.9 121.9h.1M138.6 116.4h.1M148.1 113.5h.1M152.2 123.0h.1M146.9 118.8h.1M146.4 113.4h.1M150.4 118.4h.1M144.9 120.7h.1M138.5 126.8h.1M132.3 119.8h.1M146.6 119.7h.1" stroke="#16BAC6" stroke-width="1.35" stroke-linecap="round" fill="none"/>
<path d="M59.0 124.7h.1M54.1 135.1h.1M53.1 129.6h.1M57.2 127.7h.1M56.9 135.0h.1M53.8 136.7h.1M53.7 131.7h.1M52.1 133.9h.1M54.1 135.6h.1M60.8 125.5h.1M61.0 121.4h.1M51.6 136.3h.1M50.2 132.1h.1M54.6 127.0h.1M56.1 129.4h.1M59.6 128.1h.1M53.9 127.5h.1M58.5 127.9h.1M54.8 130.2h.1M57.6 124.5h.1M58.4 126.3h.1M53.9 136.7h.1M61.0 123.2h.1M55.0 128.0h.1M56.0 127.4h.1M55.7 124.3h.1M53.8 131.1h.1M52.5 133.6h.1M52.5 135.9h.1M51.5 132.0h.1M62.9 120.9h.1M61.1 124.2h.1M55.6 133.9h.1M57.9 127.9h.1M57.1 128.7h.1M56.0 133.1h.1M58.4 125.9h.1M52.3 132.7h.1M58.7 127.1h.1M54.2 134.6h.1M55.8 135.9h.1M52.8 131.0h.1M57.6 131.9h.1M55.6 127.5h.1M56.8 132.5h.1M60.1 125.0h.1M57.7 125.2h.1M55.7 128.0h.1M49.8 131.0h.1M59.8 123.5h.1M58.8 128.1h.1M52.7 132.2h.1M54.1 127.3h.1M58.1 123.6h.1M55.3 135.1h.1M56.7 126.9h.1M60.3 127.5h.1M54.0 130.9h.1M59.7 124.1h.1M52.1 126.6h.1M54.4 127.1h.1M55.3 128.2h.1M59.7 128.2h.1M54.5 127.6h.1M53.0 131.6h.1M60.8 122.5h.1M60.2 125.2h.1M60.7 120.7h.1M55.9 127.2h.1M56.9 125.3h.1M54.2 126.8h.1M54.7 131.5h.1M61.9 127.3h.1M58.4 123.1h.1M53.7 134.2h.1M56.3 128.7h.1M54.3 129.4h.1M57.1 128.9h.1M55.8 126.5h.1M57.7 133.4h.1M52.1 129.3h.1M55.7 132.8h.1M54.9 130.5h.1M53.6 134.4h.1M52.8 131.8h.1M57.6 128.9h.1M54.3 132.0h.1M52.8 133.7h.1M55.2 127.4h.1M53.8 136.4h.1M49.3 132.8h.1M57.9 124.5h.1M61.3 125.0h.1M55.3 128.8h.1M53.4 134.8h.1M61.4 126.6h.1M61.2 125.5h.1M53.9 129.5h.1M53.6 130.2h.1M58.2 126.5h.1M53.4 136.5h.1M54.4 129.2h.1M53.8 136.5h.1M54.2 137.0h.1M59.1 129.0h.1M56.0 133.7h.1M59.9 127.9h.1M52.9 134.1h.1" stroke="#18ADEA" stroke-width="1.35" stroke-linecap="round" fill="none"/>
<path d="M117.9 82.9h.1M125.2 69.3h.1M113.5 76.5h.1M122.5 60.2h.1M126.3 65.4h.1M112.1 79.1h.1M111.6 84.3h.1M122.2 60.7h.1M114.8 68.2h.1M122.6 75.7h.1M108.4 83.0h.1M126.0 64.0h.1M119.9 79.0h.1M116.4 70.9h.1M113.8 65.7h.1M121.2 64.7h.1M118.7 74.2h.1M116.4 77.5h.1M111.6 75.8h.1M117.8 73.1h.1M122.7 72.0h.1M110.9 83.3h.1M119.5 72.5h.1M111.0 82.1h.1M119.9 70.7h.1M125.4 66.3h.1M121.8 78.6h.1M119.5 84.5h.1M128.7 65.1h.1M113.2 79.5h.1M120.3 75.9h.1M127.5 68.6h.1M116.9 79.6h.1M113.0 86.0h.1M117.2 80.0h.1M129.4 65.6h.1M123.5 62.8h.1M115.0 74.7h.1M111.1 82.7h.1M123.7 71.1h.1M120.8 69.0h.1M116.9 74.7h.1M127.3 61.9h.1M119.9 65.7h.1M117.8 80.0h.1M120.1 78.1h.1M109.7 81.3h.1M111.8 79.4h.1M120.0 73.6h.1M116.6 75.4h.1M117.6 72.7h.1M113.0 75.0h.1M126.1 62.8h.1M124.6 67.7h.1M113.8 79.4h.1M121.8 70.1h.1M116.9 71.5h.1M118.0 79.3h.1M115.8 74.7h.1M125.7 76.8h.1M118.7 73.6h.1M119.8 73.6h.1M117.6 66.8h.1M120.6 77.1h.1M121.2 69.2h.1M123.3 73.7h.1M114.5 79.8h.1M117.0 77.5h.1M121.1 78.9h.1M112.1 73.8h.1M113.4 77.2h.1M125.8 65.6h.1M110.0 75.4h.1M128.6 73.2h.1M118.6 73.9h.1M118.5 64.0h.1M121.1 72.9h.1M121.1 82.0h.1M117.6 75.7h.1M116.3 69.8h.1M109.4 75.2h.1M120.0 72.7h.1M120.0 67.7h.1M111.1 85.7h.1M122.1 70.2h.1M122.1 62.5h.1M112.5 71.4h.1M107.8 76.7h.1M121.3 66.2h.1M124.5 64.0h.1M124.6 68.4h.1M123.4 66.8h.1M118.4 84.7h.1M122.6 75.6h.1M126.8 65.4h.1M120.1 76.2h.1M114.4 71.7h.1M121.4 83.0h.1M125.8 71.0h.1M117.2 68.4h.1M107.8 83.7h.1M120.9 76.7h.1M119.1 73.5h.1M121.5 63.6h.1M126.4 69.3h.1M115.8 83.8h.1M117.0 66.5h.1M122.1 63.2h.1M122.5 71.1h.1M113.9 74.0h.1M125.7 66.6h.1M116.6 68.1h.1M126.6 71.3h.1M108.7 77.8h.1M112.0 75.4h.1M119.1 79.3h.1M128.4 63.6h.1M115.7 74.6h.1M112.4 80.9h.1M116.0 72.7h.1M114.7 78.0h.1M121.9 76.1h.1M119.1 73.5h.1M119.3 75.0h.1M118.9 73.8h.1M109.1 78.6h.1M122.4 78.4h.1M128.4 63.1h.1M115.2 74.7h.1M111.3 83.5h.1M113.5 78.4h.1M116.5 74.4h.1M117.5 73.8h.1M114.6 65.1h.1M107.8 78.1h.1M114.5 83.2h.1M126.2 64.6h.1M121.7 79.9h.1M125.1 76.1h.1M126.7 65.8h.1M122.7 83.1h.1M116.1 69.6h.1M115.9 62.6h.1M126.5 59.2h.1M116.3 81.5h.1M120.7 81.6h.1M124.1 73.3h.1M124.2 69.7h.1M124.8 74.9h.1M117.0 86.6h.1M112.9 79.9h.1M114.1 69.5h.1M116.8 68.8h.1M119.2 84.3h.1M116.8 71.4h.1M123.7 75.8h.1M122.5 81.1h.1M114.7 69.2h.1M112.2 86.3h.1M121.3 61.1h.1M121.6 82.9h.1M127.3 62.3h.1M121.8 72.8h.1M111.8 72.0h.1M116.4 67.3h.1M114.3 78.5h.1M117.6 75.2h.1M119.8 79.0h.1M112.9 84.0h.1M121.1 76.4h.1M124.2 61.7h.1M119.5 78.7h.1M122.7 67.7h.1M124.3 74.4h.1M115.4 82.3h.1M122.2 78.8h.1M112.7 69.7h.1M118.5 76.8h.1M118.4 72.5h.1M125.7 63.2h.1M107.8 77.7h.1M126.7 79.1h.1M123.2 61.2h.1M119.1 73.2h.1M109.4 77.3h.1M124.8 61.4h.1M121.4 73.4h.1M122.2 65.6h.1M118.8 69.6h.1M120.6 77.1h.1M123.1 62.6h.1M110.9 81.1h.1M109.9 80.9h.1M127.0 78.7h.1M126.7 79.5h.1M117.3 84.6h.1M122.3 72.7h.1M115.7 71.8h.1M128.1 68.6h.1M112.1 74.4h.1M122.4 71.9h.1M127.6 69.2h.1M125.0 73.5h.1M114.8 77.4h.1M120.7 78.8h.1M117.4 77.1h.1M121.5 69.7h.1M111.2 82.1h.1M115.1 80.0h.1M111.8 70.0h.1M114.1 74.2h.1M127.6 77.7h.1M128.5 71.9h.1M122.3 77.3h.1M116.7 71.5h.1M124.9 67.5h.1M123.3 75.7h.1M125.9 62.2h.1M125.5 66.5h.1M120.0 72.6h.1M123.2 82.1h.1M125.1 66.7h.1M118.6 79.9h.1M117.1 67.9h.1M119.6 77.1h.1M126.1 77.0h.1M122.2 74.2h.1M118.0 79.1h.1M109.4 80.8h.1M120.0 70.8h.1M118.4 62.6h.1M118.3 76.2h.1M121.1 70.8h.1M121.4 60.6h.1M125.5 68.9h.1M116.1 80.4h.1M128.5 72.1h.1M126.8 68.4h.1M114.7 83.3h.1M107.6 81.0h.1M123.1 63.3h.1M124.1 74.8h.1M123.2 74.6h.1M116.0 77.1h.1M119.9 65.9h.1M115.8 78.1h.1M122.8 75.0h.1M123.0 70.0h.1M126.7 62.2h.1M118.5 65.4h.1M119.3 84.6h.1M123.7 73.4h.1M121.5 71.5h.1M123.6 69.5h.1M112.0 76.3h.1M109.6 79.9h.1M126.6 70.0h.1M121.4 75.4h.1M125.8 76.2h.1M128.4 72.2h.1M111.8 80.8h.1M113.9 78.6h.1M125.7 66.5h.1M125.6 66.6h.1M118.4 78.6h.1M124.2 68.5h.1M113.6 77.7h.1M114.4 71.2h.1M117.8 73.3h.1M115.4 70.8h.1M125.7 76.3h.1M124.8 74.1h.1M126.9 69.3h.1M112.1 80.1h.1M121.4 76.3h.1M110.9 82.1h.1M123.8 71.4h.1M120.7 80.7h.1M121.9 83.7h.1M126.4 61.7h.1M108.6 82.0h.1M115.6 70.5h.1M111.5 84.2h.1M121.7 65.1h.1M120.6 77.8h.1M121.0 72.8h.1M118.8 77.9h.1M120.8 64.1h.1M118.4 80.5h.1M124.6 71.4h.1M117.1 64.3h.1M127.0 73.0h.1M120.7 64.9h.1M110.4 76.2h.1M115.0 71.5h.1M118.9 69.8h.1M118.2 65.6h.1M125.0 70.1h.1M121.1 66.3h.1M126.4 72.9h.1M109.7 77.6h.1M118.4 85.2h.1M126.1 59.9h.1M111.0 80.2h.1M113.7 67.2h.1M121.5 76.6h.1M114.2 69.9h.1M115.3 68.3h.1M118.2 64.7h.1M124.1 68.0h.1M127.1 78.3h.1M109.6 83.3h.1M114.0 69.8h.1M126.9 77.4h.1M124.4 75.6h.1M124.5 72.2h.1M125.5 66.3h.1M120.0 84.9h.1M120.7 70.0h.1M121.7 80.1h.1M119.3 73.5h.1M120.2 73.8h.1M113.4 80.4h.1M120.8 81.8h.1M119.6 75.6h.1M109.3 77.7h.1M122.2 62.7h.1M109.5 79.5h.1M114.1 78.9h.1M112.3 77.9h.1M127.6 65.4h.1M120.2 68.3h.1M116.9 71.7h.1M126.0 72.8h.1M124.6 74.1h.1M117.0 75.4h.1M118.3 72.3h.1M109.3 76.7h.1M119.1 73.0h.1M123.2 67.2h.1M112.2 83.9h.1M113.9 67.7h.1M113.8 73.8h.1M115.7 79.6h.1M120.5 71.9h.1M120.9 77.2h.1M124.8 61.6h.1M120.3 78.5h.1M128.6 70.7h.1M112.8 78.9h.1M125.5 66.1h.1M123.2 61.4h.1M117.3 78.9h.1M124.1 80.7h.1M127.7 75.0h.1M116.2 72.2h.1M120.9 71.5h.1M128.6 76.4h.1M116.9 86.1h.1M119.5 72.7h.1M120.6 81.6h.1M126.9 72.8h.1M108.6 78.3h.1M117.5 78.2h.1M109.8 81.0h.1M128.2 66.6h.1M109.4 76.5h.1M109.9 82.1h.1M114.1 82.9h.1M120.9 68.0h.1M112.0 81.3h.1M109.0 82.5h.1M123.2 59.9h.1M125.5 72.5h.1M119.0 74.1h.1M118.6 85.0h.1M111.1 83.0h.1M111.3 84.1h.1M128.3 76.7h.1M117.0 82.7h.1M114.4 86.6h.1M110.5 81.6h.1M112.4 76.9h.1M122.3 72.5h.1M108.1 80.1h.1M109.2 73.0h.1M110.2 86.0h.1M125.1 60.2h.1M128.8 68.6h.1M109.9 76.1h.1M111.3 71.2h.1M121.3 62.5h.1M110.5 80.7h.1M123.2 66.6h.1M120.3 66.1h.1M127.9 76.3h.1M118.7 66.0h.1M120.0 71.1h.1M115.7 71.3h.1M110.5 86.1h.1M125.1 72.4h.1M117.8 73.7h.1M127.9 67.3h.1M121.2 74.2h.1M113.7 68.8h.1M115.1 70.6h.1" stroke="#5E93DC" stroke-width="1.35" stroke-linecap="round" fill="none"/>
<path d="M89.1 136.3h.1M93.0 137.0h.1M93.5 136.3h.1M87.2 145.6h.1M95.8 129.5h.1M80.2 145.2h.1M79.2 141.4h.1M77.5 143.1h.1M104.0 120.2h.1M89.7 139.5h.1M80.4 133.5h.1M92.9 120.6h.1M92.0 129.7h.1M80.1 141.9h.1M82.2 145.4h.1M96.5 133.7h.1M94.2 136.9h.1M106.0 130.0h.1M93.6 143.3h.1M94.1 124.9h.1M84.6 135.7h.1M89.1 130.0h.1M103.5 124.2h.1M97.7 135.7h.1M91.0 134.9h.1M87.6 124.3h.1M98.0 126.5h.1M100.9 118.7h.1M105.0 120.9h.1M91.5 138.8h.1M76.0 140.4h.1M93.4 143.0h.1M89.1 146.1h.1M93.1 127.0h.1M81.9 136.5h.1M94.1 122.1h.1M108.4 125.6h.1M93.4 130.3h.1M91.5 141.1h.1M88.8 141.3h.1M100.8 127.6h.1M88.6 134.7h.1M104.0 120.1h.1M75.6 141.8h.1M100.0 137.7h.1M97.0 125.5h.1M94.1 129.7h.1M89.3 142.1h.1M100.7 120.5h.1M80.9 137.2h.1M105.1 121.0h.1M93.3 135.8h.1M83.6 144.9h.1M103.3 118.8h.1M81.3 143.6h.1M102.1 129.1h.1M81.8 141.3h.1M104.1 124.5h.1M98.4 139.8h.1M84.8 146.1h.1M94.0 129.1h.1M76.5 141.8h.1M91.6 127.6h.1M93.8 135.4h.1M98.2 126.6h.1M101.1 120.0h.1M106.1 124.1h.1M92.6 138.9h.1M92.1 143.5h.1M91.0 143.4h.1M84.2 144.2h.1M84.6 133.1h.1M100.3 125.2h.1M82.5 147.5h.1M86.3 140.6h.1M90.7 127.2h.1M90.8 134.6h.1M81.5 145.9h.1M80.6 136.8h.1M107.3 125.5h.1M80.8 144.6h.1M106.1 133.1h.1M93.8 132.3h.1M102.6 128.3h.1M83.0 136.4h.1M93.7 137.9h.1M98.5 128.1h.1M93.4 126.3h.1M92.7 140.7h.1M102.5 122.8h.1M83.8 141.3h.1M103.5 133.7h.1M103.2 131.7h.1M77.0 142.6h.1M89.1 143.7h.1M79.1 145.3h.1M82.0 130.9h.1M103.5 134.6h.1M78.2 147.9h.1M104.7 121.0h.1M90.5 138.9h.1M102.3 125.5h.1M90.6 127.2h.1M82.1 133.8h.1M107.1 126.3h.1M78.3 146.1h.1M104.3 135.4h.1M80.8 136.6h.1M101.0 128.3h.1M101.6 128.6h.1M86.4 128.5h.1M84.1 140.5h.1M76.7 136.5h.1M85.2 130.9h.1M98.8 124.7h.1M105.8 132.7h.1M83.0 142.7h.1M106.4 130.3h.1M109.4 122.9h.1M96.9 137.0h.1M91.4 135.6h.1M102.0 124.4h.1M75.8 140.0h.1M102.2 126.6h.1M91.8 138.3h.1M95.4 142.8h.1M88.9 141.1h.1M103.4 127.3h.1M89.6 128.3h.1M83.6 147.1h.1M99.9 118.0h.1M91.8 143.8h.1M84.6 133.9h.1M105.8 125.7h.1M81.2 141.3h.1M95.0 132.4h.1M106.6 138.0h.1M89.6 144.8h.1M99.9 118.0h.1M80.5 142.1h.1M90.2 130.6h.1M95.4 132.7h.1M85.6 137.9h.1M94.5 136.3h.1M81.5 138.4h.1M96.8 142.7h.1M84.8 135.1h.1M86.2 135.5h.1M87.8 145.2h.1M79.2 144.7h.1M88.9 128.2h.1M85.0 138.9h.1M102.6 122.4h.1M105.1 134.4h.1M80.5 139.1h.1M93.6 143.7h.1M101.2 129.2h.1M86.7 128.7h.1M108.6 121.1h.1M101.9 137.9h.1M103.4 128.3h.1M107.1 125.2h.1M103.7 120.5h.1M82.4 134.2h.1M105.3 127.0h.1M87.4 128.2h.1M89.2 143.2h.1M93.6 139.4h.1M100.5 124.3h.1M107.8 129.9h.1M89.3 138.9h.1M98.4 137.4h.1M94.9 129.0h.1M104.9 126.0h.1M77.9 144.0h.1M95.1 139.4h.1M76.5 137.3h.1M88.6 145.5h.1M98.1 124.4h.1M87.7 126.7h.1M94.7 138.9h.1M89.6 130.4h.1M92.7 144.9h.1M84.0 133.9h.1M87.6 140.4h.1M95.7 136.1h.1M92.8 143.7h.1M100.9 121.5h.1M102.8 124.3h.1M102.5 124.2h.1M82.4 135.8h.1M85.7 146.2h.1M96.8 129.5h.1M84.5 137.1h.1M108.0 119.6h.1M83.5 132.7h.1M80.5 144.9h.1M86.6 134.0h.1M82.3 143.6h.1M94.6 138.8h.1M110.7 120.5h.1M100.6 118.0h.1M94.5 133.5h.1M100.8 122.4h.1M88.5 130.5h.1M78.7 145.4h.1M103.2 127.6h.1M108.8 129.8h.1M91.9 141.7h.1M109.4 128.9h.1M102.9 120.9h.1M97.6 118.1h.1M104.4 134.2h.1M97.6 125.2h.1M95.9 134.8h.1M94.9 120.0h.1M98.5 127.7h.1M99.7 122.2h.1M80.9 138.7h.1M105.4 122.3h.1M78.0 140.8h.1M80.8 135.8h.1M105.5 134.2h.1M105.4 130.7h.1M93.2 132.5h.1M93.4 133.6h.1M96.6 136.5h.1M92.8 136.4h.1M79.2 141.7h.1M99.8 130.0h.1M90.9 131.9h.1M106.3 130.8h.1M81.4 138.1h.1M96.7 121.8h.1M79.5 142.7h.1M90.8 128.2h.1M94.4 129.7h.1M85.5 139.0h.1M97.7 128.5h.1M98.5 125.2h.1M107.4 126.4h.1M90.8 139.3h.1M95.1 119.1h.1M101.4 130.1h.1M105.0 119.7h.1M87.2 126.4h.1M92.3 137.5h.1M89.5 143.4h.1M87.7 146.4h.1M79.1 147.5h.1M103.0 132.9h.1M93.1 130.8h.1M93.0 125.5h.1M99.8 119.7h.1M105.7 118.0h.1M82.9 135.8h.1M85.9 137.1h.1M102.5 138.6h.1M102.1 127.4h.1M79.0 144.6h.1M101.2 139.6h.1M105.6 121.4h.1M103.2 126.2h.1M110.1 123.0h.1M93.6 141.9h.1M92.0 142.5h.1M109.8 120.3h.1M97.6 123.3h.1M85.6 130.1h.1M84.7 140.9h.1M92.6 136.0h.1M82.9 142.7h.1M96.6 141.7h.1M100.1 128.2h.1M96.8 145.9h.1M91.7 126.9h.1M83.5 134.5h.1M85.4 130.3h.1M83.8 128.5h.1M95.9 139.7h.1M87.5 129.8h.1M108.7 121.5h.1M100.9 121.4h.1M88.3 124.3h.1M95.7 139.3h.1M82.8 136.0h.1M104.7 124.3h.1M83.8 137.4h.1M104.0 120.4h.1M82.0 146.8h.1M100.0 125.6h.1M80.8 144.5h.1M76.7 138.4h.1M102.5 123.5h.1M100.2 124.9h.1M91.6 139.8h.1M105.2 130.8h.1M85.7 136.0h.1M99.2 136.4h.1M105.5 125.1h.1M91.1 128.1h.1M102.2 119.5h.1M97.6 141.4h.1M78.3 141.5h.1M86.2 133.7h.1M88.8 143.6h.1M92.0 131.5h.1M86.2 129.1h.1M76.7 145.0h.1M89.7 140.1h.1M77.4 144.7h.1M100.2 119.3h.1M92.8 138.6h.1M101.9 122.5h.1M85.3 130.8h.1M85.0 136.1h.1M94.0 134.1h.1M100.9 124.2h.1M103.7 125.9h.1M92.4 131.3h.1M103.9 132.8h.1M84.1 140.8h.1M82.3 133.1h.1M92.4 130.7h.1M76.7 142.4h.1M106.5 133.6h.1M99.1 137.9h.1M110.3 117.1h.1M93.4 140.6h.1M97.9 136.8h.1M94.4 139.2h.1M104.7 125.7h.1M105.9 122.5h.1M100.1 138.0h.1M107.1 124.9h.1M97.1 135.3h.1M106.9 129.5h.1M95.2 125.9h.1M99.8 127.7h.1M82.0 135.6h.1M95.2 140.2h.1M96.5 136.0h.1M80.0 148.6h.1M83.6 147.1h.1M82.0 138.1h.1M84.6 126.7h.1M96.6 132.6h.1M109.0 125.8h.1M103.6 131.9h.1M88.7 142.0h.1M94.6 129.2h.1M90.4 145.6h.1M106.5 124.5h.1M93.6 142.9h.1M81.2 138.3h.1M90.7 134.9h.1M93.2 133.2h.1M83.9 136.1h.1M109.9 122.1h.1M104.2 134.2h.1M99.5 126.4h.1M83.4 135.9h.1M93.6 133.0h.1M104.3 127.7h.1M89.3 138.7h.1M99.5 137.5h.1M105.1 123.3h.1M102.3 135.4h.1M98.5 126.8h.1M108.1 119.6h.1M78.8 141.4h.1M80.8 135.3h.1M82.5 137.1h.1M102.1 135.4h.1M100.7 120.8h.1M94.2 130.0h.1M85.6 145.3h.1M106.2 125.0h.1M80.4 148.1h.1M87.8 137.6h.1M88.0 146.2h.1M98.9 133.9h.1M105.1 121.2h.1M88.4 130.2h.1M100.2 122.8h.1M77.1 143.8h.1M96.2 127.8h.1M104.5 133.2h.1M107.4 123.7h.1M82.5 140.5h.1M106.1 126.4h.1M89.2 138.3h.1M98.5 141.8h.1M89.5 127.1h.1M79.9 141.2h.1M98.2 137.0h.1M105.7 118.9h.1M99.6 127.7h.1M76.5 142.3h.1M82.4 144.6h.1M81.4 133.4h.1M103.7 119.6h.1M93.5 125.3h.1M77.0 143.2h.1M93.4 135.3h.1M93.2 133.6h.1M90.8 139.1h.1M90.6 132.3h.1M103.7 132.5h.1M107.2 133.3h.1M99.7 119.8h.1M86.0 125.9h.1M89.5 131.0h.1M90.0 145.0h.1M93.7 130.0h.1M96.9 134.5h.1M109.6 119.8h.1M77.6 141.0h.1M88.8 126.5h.1M105.0 132.7h.1M95.1 135.6h.1M79.5 148.3h.1M108.1 130.1h.1M98.2 139.2h.1M98.4 140.2h.1M85.4 134.2h.1M102.8 134.7h.1M79.4 147.9h.1M100.6 133.2h.1M107.3 133.9h.1M87.5 130.2h.1M77.5 143.8h.1M103.6 132.7h.1M100.5 124.3h.1M103.0 129.5h.1M80.4 147.4h.1M88.9 136.3h.1M84.7 133.9h.1M99.0 130.2h.1M85.0 133.2h.1M82.8 144.7h.1M90.2 140.4h.1M85.6 139.0h.1M103.9 134.5h.1M92.9 129.3h.1M106.1 130.4h.1M81.7 141.3h.1M82.5 140.4h.1M107.8 125.9h.1M95.7 120.4h.1M95.4 133.1h.1M94.2 142.7h.1M104.1 126.6h.1M92.4 130.4h.1M85.6 135.4h.1M95.5 143.9h.1M105.0 119.6h.1M94.4 138.4h.1M93.2 122.5h.1M96.5 140.8h.1M86.2 136.7h.1M87.7 126.6h.1M75.8 141.0h.1M105.6 132.9h.1M100.9 118.8h.1M92.3 129.2h.1M110.4 120.6h.1M96.8 128.5h.1M108.5 127.6h.1M90.8 132.7h.1M88.1 145.5h.1M83.4 143.8h.1M108.5 121.3h.1M82.7 145.0h.1M88.0 127.9h.1M87.4 138.0h.1M94.2 127.7h.1M98.5 125.6h.1M101.7 130.4h.1M92.1 137.7h.1M106.1 124.2h.1M87.8 143.1h.1M98.1 126.9h.1M98.0 124.7h.1M74.8 140.5h.1M108.7 123.7h.1M93.6 134.5h.1M80.9 137.8h.1M86.0 139.4h.1M94.6 134.8h.1M96.4 123.0h.1M103.1 128.8h.1M87.0 134.6h.1M79.1 136.3h.1M84.8 128.3h.1M89.2 143.7h.1M94.8 139.6h.1M92.1 140.0h.1M99.0 128.3h.1M90.7 133.6h.1M81.3 136.5h.1M101.7 120.3h.1M97.4 119.8h.1M81.4 133.2h.1M88.2 130.3h.1M101.2 120.3h.1M85.9 145.6h.1M86.9 137.6h.1M91.6 129.7h.1M81.7 139.6h.1M104.4 123.2h.1M101.2 129.8h.1M104.9 135.2h.1M98.6 122.4h.1M93.6 131.1h.1M101.7 127.3h.1M94.5 139.1h.1M77.4 142.7h.1M82.5 147.8h.1M81.1 138.2h.1M100.1 120.0h.1M102.2 125.9h.1M96.5 137.1h.1M92.3 131.0h.1M87.4 126.1h.1M89.5 131.3h.1M106.9 134.5h.1M95.2 125.6h.1M93.8 134.5h.1M79.2 137.0h.1M92.6 137.7h.1M89.1 136.3h.1M93.1 136.8h.1M94.2 143.0h.1M94.4 135.8h.1M80.5 135.3h.1M89.4 128.7h.1M90.9 127.2h.1M92.6 133.9h.1M87.0 139.3h.1M88.8 129.9h.1M105.7 127.2h.1M85.9 137.3h.1M95.4 132.6h.1M88.2 129.0h.1M89.0 126.9h.1M91.2 132.3h.1M82.3 137.9h.1M83.8 133.3h.1M99.2 137.0h.1M109.0 121.4h.1M88.1 143.0h.1M87.0 134.3h.1M92.4 141.9h.1M99.8 138.1h.1M105.1 132.6h.1M82.9 132.1h.1M102.8 120.0h.1M100.4 130.4h.1M104.8 121.7h.1M95.8 125.5h.1M88.4 146.9h.1M87.3 137.9h.1M97.7 126.5h.1M97.1 129.2h.1M79.4 136.3h.1M92.4 126.4h.1M95.8 141.0h.1M88.6 128.3h.1M85.1 138.6h.1M103.1 120.8h.1M92.6 142.1h.1M97.4 129.0h.1M92.2 131.0h.1M90.3 135.2h.1M96.0 143.6h.1M96.0 139.8h.1M90.2 140.9h.1M95.9 126.9h.1M105.1 119.4h.1M79.0 145.0h.1M83.7 145.3h.1M88.1 145.6h.1M102.8 128.9h.1M87.7 125.1h.1M103.6 126.4h.1M87.8 146.4h.1M97.8 124.2h.1M104.8 126.9h.1M97.1 124.3h.1M101.7 127.3h.1M88.4 146.6h.1M88.1 139.5h.1M100.9 124.1h.1M82.5 135.3h.1M108.9 123.5h.1M108.9 132.0h.1M90.4 131.1h.1M97.1 121.5h.1M84.8 134.9h.1M102.9 121.0h.1M99.4 124.7h.1M100.6 137.9h.1M80.5 146.0h.1M79.3 140.8h.1M98.3 140.4h.1M91.0 140.6h.1M98.0 120.9h.1M98.6 138.8h.1M96.3 134.6h.1M95.8 121.2h.1M82.0 138.4h.1M92.2 120.4h.1M81.9 145.5h.1M86.4 135.8h.1M91.8 130.6h.1M103.6 120.2h.1M105.7 125.0h.1M100.2 133.1h.1M94.5 121.8h.1M85.9 138.8h.1M92.7 131.4h.1M75.6 141.0h.1M100.5 123.1h.1M81.3 148.3h.1M94.7 127.7h.1M102.4 128.3h.1M100.9 122.7h.1M100.8 122.5h.1M84.8 134.4h.1M107.7 130.3h.1M83.3 143.8h.1M85.9 133.5h.1M94.9 129.1h.1M105.0 124.1h.1M87.2 140.3h.1M92.7 132.9h.1M99.3 130.0h.1M110.2 126.1h.1M104.9 123.5h.1M88.0 127.3h.1M78.3 140.6h.1M76.4 141.1h.1M77.4 136.6h.1M95.0 139.4h.1M101.0 117.5h.1M83.9 133.4h.1M98.2 139.1h.1M97.0 131.9h.1M88.5 145.6h.1M97.1 122.3h.1M89.5 144.6h.1M79.5 148.2h.1M83.5 142.2h.1M88.3 145.5h.1M100.3 128.8h.1M105.2 134.4h.1M86.1 126.7h.1M101.9 119.4h.1M85.2 128.3h.1M77.6 135.4h.1M90.6 129.2h.1M101.2 128.0h.1M95.4 136.7h.1M93.0 140.8h.1M103.6 132.3h.1M79.4 136.9h.1M99.0 125.0h.1M99.6 140.0h.1M93.3 145.1h.1M81.9 140.6h.1M107.9 123.4h.1M101.3 134.7h.1M82.4 131.4h.1M80.8 139.3h.1M76.4 140.3h.1M103.6 137.1h.1" stroke="#A27CD2" stroke-width="1.35" stroke-linecap="round" fill="none"/>
<path d="M116.8 102.1h.1M116.0 102.9h.1M126.1 106.1h.1M120.4 108.6h.1M114.0 104.1h.1M123.7 106.1h.1M118.1 103.5h.1M110.4 104.6h.1M124.3 102.0h.1M117.7 109.0h.1M117.4 109.4h.1M113.8 106.5h.1M120.3 104.6h.1M108.9 108.9h.1M115.5 106.3h.1M117.5 103.0h.1M112.0 107.3h.1M117.1 111.7h.1M116.0 98.5h.1M123.0 102.9h.1M120.3 108.0h.1M118.2 106.6h.1M115.6 107.4h.1M118.6 106.7h.1M115.3 111.2h.1M113.4 107.6h.1M124.8 106.7h.1M123.0 108.2h.1M115.6 110.2h.1M122.3 109.9h.1M115.2 111.3h.1M122.8 104.2h.1M121.3 107.5h.1M127.9 107.0h.1M116.2 104.9h.1M114.7 104.7h.1M127.5 107.3h.1M125.4 109.4h.1M112.8 108.9h.1M116.7 101.9h.1M123.1 105.4h.1M118.6 102.0h.1M122.3 108.9h.1M124.5 103.3h.1M114.4 103.5h.1M121.3 100.2h.1M127.2 101.4h.1M118.9 109.0h.1M112.8 104.8h.1M107.9 107.7h.1M130.3 104.6h.1M128.6 106.8h.1M129.5 106.0h.1M131.4 102.2h.1M120.4 107.0h.1M125.5 103.2h.1M111.2 108.5h.1M127.8 100.8h.1M108.0 108.1h.1M123.1 105.0h.1M121.0 106.7h.1M116.7 103.1h.1M118.8 105.0h.1M127.7 104.6h.1M123.5 103.9h.1M112.5 104.8h.1M123.0 106.2h.1M118.5 102.2h.1M127.0 103.7h.1M115.0 102.2h.1M123.8 111.7h.1M114.3 105.8h.1M116.2 101.0h.1M111.2 109.6h.1M122.8 105.9h.1M129.7 102.0h.1M118.9 111.5h.1M110.9 107.1h.1M116.8 103.0h.1M121.5 107.2h.1M110.9 104.7h.1M119.0 105.6h.1M116.8 108.6h.1M127.6 100.4h.1M115.6 103.4h.1M110.6 106.9h.1M128.5 105.7h.1M121.7 106.4h.1M126.2 103.8h.1M118.2 105.2h.1M112.1 105.1h.1M121.0 101.7h.1M118.0 105.6h.1M126.0 103.4h.1M123.7 104.8h.1M127.5 104.1h.1M119.4 109.1h.1M118.6 101.0h.1M123.5 105.1h.1M114.6 104.6h.1M125.8 106.6h.1M112.8 104.0h.1M119.8 107.4h.1M113.8 106.7h.1M125.7 102.7h.1M113.6 103.9h.1M114.1 110.2h.1M113.6 107.3h.1M122.5 107.9h.1M127.7 107.5h.1M112.9 110.2h.1M113.7 102.4h.1M114.1 106.4h.1M128.5 104.0h.1M117.0 102.5h.1M117.1 111.7h.1M122.1 100.7h.1M117.0 102.9h.1M126.9 101.2h.1M126.2 104.2h.1M118.2 101.0h.1M119.5 112.0h.1M123.4 105.2h.1M117.9 102.6h.1M122.7 108.6h.1M124.1 100.0h.1M114.9 110.8h.1M115.7 109.6h.1M118.6 109.9h.1M126.1 105.0h.1M123.7 106.1h.1M115.5 102.3h.1M124.5 102.4h.1M112.5 105.8h.1M125.7 107.4h.1M116.5 99.6h.1M127.0 107.1h.1M109.4 110.4h.1M121.0 104.8h.1M117.1 104.2h.1M123.6 107.4h.1M110.7 105.7h.1M128.1 106.3h.1M115.1 111.0h.1M112.8 102.4h.1M114.3 110.2h.1M118.2 103.4h.1M122.5 106.4h.1M113.1 110.9h.1M121.9 97.8h.1M124.5 100.6h.1M118.8 106.1h.1M114.8 106.0h.1M126.7 103.0h.1M128.3 106.5h.1M124.0 102.9h.1M116.8 113.4h.1M128.3 104.1h.1M126.8 107.6h.1M107.7 109.3h.1M131.3 100.9h.1M126.2 110.9h.1M123.7 110.4h.1M112.4 109.9h.1M123.1 99.9h.1M117.4 106.7h.1M117.4 103.4h.1M120.8 99.7h.1M112.0 111.5h.1M107.4 108.8h.1M125.7 106.3h.1M115.2 100.0h.1M118.0 102.0h.1M123.4 106.5h.1M118.6 109.3h.1M114.1 102.4h.1M122.7 100.4h.1M116.3 104.4h.1M125.9 101.4h.1M122.6 107.1h.1M113.5 111.6h.1M118.5 101.4h.1M120.9 104.9h.1M121.9 113.3h.1M113.4 109.9h.1M125.4 105.8h.1M110.9 106.4h.1M116.9 110.5h.1M111.0 103.7h.1M127.0 108.0h.1M131.1 101.4h.1M110.6 110.7h.1M112.5 103.3h.1M123.2 103.9h.1M111.4 103.5h.1M127.5 105.2h.1M122.0 112.6h.1M122.9 104.7h.1M109.3 104.5h.1M110.5 106.8h.1M122.8 110.0h.1M119.7 113.2h.1M116.8 104.8h.1M128.3 107.0h.1M117.4 107.6h.1M111.1 106.5h.1M118.3 106.4h.1M119.7 111.7h.1M118.5 105.4h.1M117.1 102.6h.1M118.0 99.2h.1M120.9 108.3h.1M115.7 109.3h.1M126.2 106.6h.1M117.7 103.1h.1M116.2 108.7h.1M114.4 99.9h.1M123.9 100.5h.1M115.9 104.7h.1M118.8 112.7h.1M123.9 100.2h.1M113.5 110.2h.1M112.6 103.7h.1M117.7 103.6h.1M112.7 104.7h.1M112.9 111.3h.1M112.1 107.0h.1M119.3 108.9h.1M129.7 104.9h.1M115.3 111.5h.1M116.6 103.5h.1M116.6 113.2h.1M116.8 108.1h.1M115.2 105.6h.1M116.5 103.3h.1M123.7 107.0h.1M118.1 108.0h.1M123.2 99.6h.1" stroke="#D866C8" stroke-width="1.35" stroke-linecap="round" fill="none"/>
<path d="M119.8 157.3h.1M122.5 155.2h.1M125.4 159.0h.1M122.1 162.4h.1M115.5 153.6h.1M117.6 149.4h.1M120.1 150.8h.1M114.5 154.4h.1M122.1 161.2h.1M117.5 151.0h.1M121.7 153.0h.1M121.1 150.2h.1M123.0 153.9h.1M124.6 148.9h.1M122.9 153.2h.1M125.3 152.5h.1M116.7 154.9h.1M115.5 158.1h.1M120.4 153.5h.1M119.6 155.8h.1M122.2 157.5h.1M114.4 154.1h.1M123.5 152.6h.1M118.1 156.4h.1M114.5 160.2h.1M120.8 149.1h.1M122.5 151.2h.1M114.8 153.2h.1M122.8 152.2h.1M123.3 155.1h.1M125.6 155.2h.1M120.4 153.7h.1M128.0 158.4h.1M116.2 158.4h.1M114.5 158.6h.1M114.8 155.9h.1M113.5 153.0h.1M124.8 152.7h.1M117.5 150.5h.1M126.4 153.3h.1M123.3 153.1h.1M118.0 155.6h.1M126.2 155.4h.1M118.6 157.4h.1M118.8 155.0h.1M122.7 154.5h.1M121.7 154.5h.1M123.8 154.8h.1M127.2 157.7h.1M124.6 154.1h.1M117.3 157.1h.1M117.4 156.0h.1M114.4 160.1h.1M120.7 149.4h.1M126.0 150.6h.1M115.7 158.6h.1M122.1 154.0h.1M125.3 154.0h.1M125.0 156.0h.1M119.8 151.2h.1M125.2 154.8h.1M118.7 162.9h.1M122.5 151.5h.1M127.1 151.3h.1M119.0 149.1h.1M125.4 159.5h.1M124.4 153.8h.1M124.9 154.5h.1M119.0 157.3h.1M122.9 152.9h.1M123.7 156.3h.1M116.0 153.0h.1M114.9 156.1h.1M123.2 155.7h.1M123.5 151.8h.1M124.3 157.2h.1M125.9 158.5h.1M122.6 158.6h.1M115.2 153.3h.1M120.6 151.6h.1M127.5 155.1h.1M113.2 152.9h.1M117.9 155.0h.1M114.9 151.2h.1M122.4 155.8h.1M122.4 157.6h.1M117.2 156.3h.1M112.1 157.7h.1M124.3 160.2h.1M124.9 159.3h.1M127.2 153.5h.1M124.0 159.2h.1M125.0 156.8h.1M115.2 149.9h.1M119.9 153.4h.1M125.5 152.8h.1M120.4 161.1h.1M113.4 158.6h.1M119.2 153.2h.1M126.3 155.2h.1M119.3 156.5h.1M116.8 156.2h.1M121.7 153.5h.1M125.5 158.2h.1M121.8 155.1h.1M116.1 157.6h.1M114.6 159.2h.1M112.8 153.6h.1M116.5 156.5h.1M119.6 158.1h.1M127.7 157.1h.1M123.2 152.1h.1M127.7 157.7h.1M124.2 153.2h.1M125.5 158.6h.1M124.9 158.7h.1M125.8 153.9h.1M118.2 152.5h.1M120.3 151.4h.1M123.7 152.5h.1M120.4 156.1h.1M114.3 158.7h.1M118.9 153.6h.1M122.5 151.5h.1M116.6 149.8h.1M122.1 148.8h.1M122.6 155.7h.1M116.7 154.1h.1M121.5 153.8h.1M119.8 154.7h.1M119.7 153.4h.1M117.9 154.2h.1M116.5 152.7h.1M122.9 154.3h.1M119.3 157.2h.1M121.6 150.7h.1M123.5 150.5h.1M120.5 161.7h.1M119.4 149.5h.1M121.3 154.6h.1M126.3 157.4h.1M113.3 155.6h.1M120.8 156.6h.1M121.8 158.4h.1M118.7 158.2h.1M120.9 156.5h.1M123.9 158.4h.1M114.9 159.6h.1M124.1 160.5h.1M122.7 150.2h.1M123.4 150.3h.1M112.3 156.7h.1M119.4 155.7h.1M126.0 154.7h.1M116.9 156.6h.1M117.3 157.0h.1M115.8 155.0h.1M118.9 153.0h.1M122.4 153.2h.1M125.3 153.9h.1" stroke="#F2639F" stroke-width="1.35" stroke-linecap="round" fill="none"/>
<path d="M103.8 171.0h.1M108.6 160.8h.1M105.8 165.2h.1M101.6 161.3h.1M99.3 164.7h.1M102.9 169.9h.1M104.4 160.7h.1M104.3 171.4h.1M107.1 162.5h.1M106.3 161.4h.1M111.8 160.2h.1M101.4 169.2h.1M99.5 170.7h.1M113.6 164.0h.1M102.4 163.8h.1M106.2 162.4h.1M107.2 161.2h.1M105.0 157.3h.1M108.1 168.2h.1M108.7 157.7h.1M103.5 166.4h.1M108.6 167.4h.1M105.1 171.8h.1M112.5 162.5h.1M109.2 169.6h.1M105.8 160.7h.1M97.9 168.4h.1M112.3 163.3h.1M114.5 159.8h.1M102.1 161.4h.1M104.9 169.3h.1M101.3 163.4h.1M100.7 161.1h.1M107.6 162.7h.1M111.3 159.7h.1M98.8 165.4h.1M102.3 167.3h.1M108.2 164.3h.1M97.2 161.5h.1M113.8 163.5h.1M100.8 167.5h.1M99.3 164.2h.1M96.6 167.3h.1M103.1 163.2h.1M106.5 161.2h.1M102.6 166.7h.1M114.3 159.5h.1M104.7 165.7h.1M112.9 163.0h.1M112.1 159.7h.1M101.7 160.0h.1M107.5 169.5h.1M113.2 162.2h.1M111.7 158.8h.1M113.2 159.4h.1M104.8 157.8h.1M109.5 166.9h.1M109.0 165.6h.1M111.6 157.8h.1M99.0 169.7h.1M109.3 160.1h.1M103.6 156.6h.1M114.2 157.6h.1M112.5 161.4h.1M104.7 166.7h.1M109.7 161.9h.1M106.8 167.9h.1M105.5 159.0h.1M103.0 166.2h.1M103.7 171.2h.1M102.7 157.6h.1M101.2 163.2h.1M108.1 169.9h.1M112.3 157.7h.1M104.1 170.5h.1M97.9 161.0h.1M108.6 163.0h.1M105.5 157.5h.1M105.9 157.8h.1M101.9 168.7h.1M111.0 162.2h.1M106.7 168.9h.1M103.2 160.4h.1M102.5 161.0h.1M105.1 166.3h.1M97.7 168.5h.1M110.1 160.4h.1M102.5 166.9h.1M108.1 163.3h.1M102.3 166.9h.1M112.8 164.4h.1M100.7 161.2h.1M102.0 160.5h.1M105.4 169.0h.1M110.4 161.2h.1M102.5 164.7h.1M95.0 165.8h.1M98.4 161.5h.1M109.4 162.7h.1M107.2 161.4h.1M112.5 164.0h.1M108.0 167.7h.1M98.1 168.0h.1M101.7 163.8h.1M109.7 160.4h.1M101.9 167.9h.1M101.6 168.0h.1M102.0 156.5h.1M107.4 164.4h.1M109.3 166.7h.1M104.7 163.1h.1M97.4 168.9h.1M104.6 165.3h.1M97.2 169.1h.1M107.8 163.4h.1M106.3 168.5h.1M104.1 166.5h.1M97.1 168.2h.1M104.4 165.3h.1M102.6 169.5h.1M104.7 158.1h.1M103.1 156.8h.1M105.8 168.2h.1M102.3 159.0h.1M98.7 161.7h.1M101.8 163.3h.1M105.1 165.3h.1M99.2 168.7h.1M102.8 165.0h.1M111.9 160.9h.1M107.2 168.6h.1M104.1 161.0h.1M103.4 156.8h.1M109.0 161.4h.1M107.0 158.7h.1M108.1 156.7h.1M110.6 162.4h.1M102.3 161.3h.1M103.8 166.0h.1M109.5 164.3h.1M107.0 160.3h.1M101.8 160.0h.1M102.3 159.1h.1M102.7 170.5h.1M103.9 167.0h.1M111.0 166.4h.1M95.4 165.5h.1M102.2 169.6h.1M106.0 169.5h.1M101.5 168.3h.1M101.4 160.1h.1M103.0 169.8h.1M112.7 161.9h.1M103.5 165.9h.1M102.3 171.3h.1M99.8 169.0h.1M113.5 160.7h.1M109.7 166.8h.1M100.9 164.1h.1M101.9 162.3h.1M111.6 165.6h.1M109.8 167.6h.1M95.9 160.5h.1M98.7 165.3h.1M111.0 171.0h.1M100.8 167.5h.1M97.9 168.2h.1M109.0 156.2h.1M95.9 165.9h.1M107.4 167.9h.1M113.4 161.4h.1M108.1 164.8h.1M104.4 164.8h.1M112.7 159.2h.1M108.5 161.3h.1M102.5 162.8h.1M111.5 166.2h.1M110.6 166.7h.1M109.1 162.5h.1M107.5 162.9h.1M110.2 166.2h.1M105.8 168.6h.1M103.2 171.6h.1M100.2 164.3h.1M95.6 164.5h.1M100.0 165.4h.1M99.9 168.2h.1M100.3 164.3h.1M100.1 163.8h.1M98.0 164.0h.1M103.2 163.1h.1M101.8 163.8h.1M95.0 160.8h.1M105.1 170.0h.1M98.0 164.5h.1M111.4 159.2h.1M98.5 161.4h.1M111.4 159.5h.1M101.8 164.8h.1M102.4 162.3h.1M108.9 164.0h.1M99.9 165.8h.1M111.9 162.4h.1M98.0 161.2h.1M100.2 164.0h.1M109.3 166.3h.1M107.4 159.3h.1M108.9 162.8h.1M102.1 164.5h.1M103.9 167.0h.1M99.4 162.3h.1M107.5 164.6h.1M112.5 158.3h.1M100.7 162.5h.1M108.2 172.7h.1M102.8 166.6h.1M99.2 162.7h.1M112.8 160.5h.1M99.6 163.0h.1M112.7 161.0h.1M102.1 167.7h.1" stroke="#F2639F" stroke-width="1.35" stroke-linecap="round" fill="none"/>
<path d="M90.5 167.2h.1M98.9 157.3h.1M70.5 95.2h.1" stroke="#14B08E" stroke-width="1.3" stroke-linecap="round"/>
<text x="214.2" y="17.4" font-size="10.8" fill="#333">(<tspan font-weight="bold" fill="#111">b</tspan>)</text>
<path d="M236.5 23.2H300M236.5 23.2V24.3M268 23.2V25.3M300 23.2V25.8M300 24.4H385M330 24.4V25.6M385 24.4V28.4" stroke="#888" stroke-width="0.6" fill="none"/>
<path d="M230.5 38.6V24.3H241.9V38.6" stroke="#555" stroke-width="0.55" fill="none"/>
<polygon points="230.2,38.6 230.2,31.8 232.2,32.3 234.2,32.9 236.2,33.8 238.2,34.1 240.2,34.8 242.2,35.6 242.2,38.6" fill="#0a0a0a"/>
<path d="M232.5 36.5V29.1H235.8V36.5" stroke="#aaa" stroke-width="0.4" fill="none"/>
<path d="M242.5 38.6V24.5H260.1V38.6" stroke="#555" stroke-width="0.55" fill="none"/>
<polygon points="242.2,38.6 242.2,29.5 244.2,30.1 246.2,30.2 248.3,30.8 250.3,31.2 252.3,32.1 254.3,32.6 256.4,32.8 258.4,33.9 260.4,34.5 260.4,38.6" fill="#0a0a0a"/>
<path d="M252.4 35.2V26.1H256.1V35.2M243.2 35.2V25.7H246.6V35.2" stroke="#aaa" stroke-width="0.4" fill="none"/>
<path d="M260.7 38.6V25.3H271.7V38.6" stroke="#555" stroke-width="0.55" fill="none"/>
<polygon points="260.4,38.6 260.4,31.5 262.7,31.8 265,32.4 267.4,32.9 269.7,33.8 272,34.5 272,38.6" fill="#0a0a0a"/>
<path d="M267.8 35.5V29.3H271.1V35.5" stroke="#aaa" stroke-width="0.4" fill="none"/>
<path d="M272.3 38.6V30.7H277.2V38.6" stroke="#555" stroke-width="0.55" fill="none"/>
<polygon points="272,38.6 272,33.2 273.8,33.9 275.7,34.8 277.5,35.5 277.5,38.6" fill="#0a0a0a"/>
<path d="M273.3 36.5V32.7H277.0V36.5" stroke="#aaa" stroke-width="0.4" fill="none"/>
<path d="M277.8 38.6V25.3H294.1V38.6" stroke="#555" stroke-width="0.55" fill="none"/>
<polygon points="277.5,38.6 277.5,30.5 279.6,31.2 281.7,31.8 283.8,32.2 285.9,32.8 288.1,33.5 290.2,34.1 292.3,35.2 294.4,35.7 294.4,38.6" fill="#0a0a0a"/>
<path d="M289.4 36.8V29.8H292.2V36.8M289.4 36.8V27.1H290.9V36.8" stroke="#aaa" stroke-width="0.4" fill="none"/>
<path d="M294.7 38.6V25.8H322.7V38.6" stroke="#555" stroke-width="0.55" fill="none"/>
<polygon points="294.4,38.6 294.4,27.8 296.4,28.4 298.5,28.6 300.5,29.4 302.6,29.5 304.6,29.8 306.7,30.6 308.7,31.2 310.7,31.4 312.8,31.9 314.8,32.5 316.9,33.4 318.9,33.9 321,34 323,34.6 323,38.6" fill="#0a0a0a"/>
<path d="M297.7 35.8V27.2H299.4V35.8M299.6 35.8V27.0H303.1V35.8M299.9 35.8V26.9H304.0V35.8" stroke="#aaa" stroke-width="0.4" fill="none"/>
<path d="M323.3 38.6V25.6H339.7V38.6" stroke="#555" stroke-width="0.55" fill="none"/>
<polygon points="323,38.6 323,29.5 325.1,30.1 327.2,30.4 329.4,31.2 331.5,31.7 333.6,32.3 335.8,33.4 337.9,34 340,34.4 340,38.6" fill="#0a0a0a"/>
<path d="M335.5 35.5V27.5H337.7V35.5M335.1 35.5V26.8H338.8V35.5" stroke="#aaa" stroke-width="0.4" fill="none"/>
<path d="M340.3 38.6V27H347.7V38.6" stroke="#555" stroke-width="0.55" fill="none"/>
<polygon points="340,38.6 340,30 342,31.3 344,31.9 346,33.1 348,34.7 348,38.6" fill="#0a0a0a"/>
<path d="M342.2 35.5V28.1H344.7V35.5" stroke="#aaa" stroke-width="0.4" fill="none"/>
<path d="M348.3 38.6V27.6H367V38.6" stroke="#555" stroke-width="0.55" fill="none"/>
<polygon points="348,38.6 348,28.6 350.1,28.9 352.3,29.8 354.4,30.2 356.6,31.1 358.7,31.6 360.9,32.3 363,33.4 365.2,33.8 367.3,34.5 367.3,38.6" fill="#0a0a0a"/>
<path d="M362.2 35.5V28.5H364.4V35.5M362.9 35.5V28.5H366.8V35.5" stroke="#aaa" stroke-width="0.4" fill="none"/>
<path d="M367.6 38.6V28H379.7V38.6" stroke="#555" stroke-width="0.55" fill="none"/>
<polygon points="367.3,38.6 367.3,29.2 369.4,29.8 371.5,31.1 373.6,32.2 375.8,32.7 377.9,34.2 380,35.2 380,38.6" fill="#0a0a0a"/>
<path d="M373.5 36.0V29.0H376.4V36.0" stroke="#aaa" stroke-width="0.4" fill="none"/>
<path d="M380.3 38.6V28.4H389.9V38.6" stroke="#555" stroke-width="0.55" fill="none"/>
<polygon points="380,38.6 380,30.5 382,31.1 384.1,32.6 386.1,33.2 388.2,34.5 390.2,35.4 390.2,38.6" fill="#0a0a0a"/>
<path d="M386.1 36.5V29.6H389.7V36.5" stroke="#aaa" stroke-width="0.4" fill="none"/>
<path d="M390.5 38.6V33H410.5V38.6" stroke="#555" stroke-width="0.55" fill="none"/>
<polygon points="390.2,38.6 390.2,33.6 392.3,33.6 394.3,34.2 396.4,34.1 398.4,34.5 400.5,35 402.6,35.5 404.6,35.6 406.7,35.7 408.7,36.4 410.8,36.3 410.8,38.6" fill="#0a0a0a"/>
<path d="M391.3 37.5V33.6H393.7V37.5M392.0 37.5V33.7H394.1V37.5" stroke="#aaa" stroke-width="0.4" fill="none"/>
<rect x="230.4" y="41.1" width="12.2" height="6.6" fill="#EE8A2A"/>
<rect x="242.4" y="41.1" width="18.3" height="6.6" fill="#6E8CC8"/>
<rect x="260.5" y="41.1" width="11.6" height="6.6" fill="#C878BE"/>
<rect x="271.9" y="41.1" width="6" height="6.6" fill="#14A072"/>
<rect x="277.7" y="41.1" width="17.6" height="6.6" fill="#F068B0"/>
<rect x="295.1" y="41.1" width="27.9" height="6.6" fill="#9E7CC8"/>
<rect x="322.8" y="41.1" width="18" height="6.6" fill="#22B6B8"/>
<rect x="340.6" y="41.1" width="7.5" height="6.6" fill="#1AA6E0"/>
<rect x="347.9" y="41.1" width="19.8" height="6.6" fill="#1EAA44"/>
<rect x="367.5" y="41.1" width="12.7" height="6.6" fill="#F27A70"/>
<rect x="380" y="41.1" width="10.5" height="6.6" fill="#6EAE2E"/>
<rect x="390.3" y="41.1" width="20.9" height="6.6" fill="#B89A1A"/>
<rect x="230.4" y="49" width="12.2" height="6.4" fill="#EE6A2A"/>
<rect x="242.4" y="49" width="80.6" height="6.4" fill="#8A6CB4"/>
<rect x="322.8" y="49" width="25.6" height="6.4" fill="#1A9A70"/>
<rect x="348.2" y="49" width="19.5" height="6.4" fill="#8A6CB4"/>
<rect x="367.5" y="49" width="43.7" height="6.4" fill="#1A9A70"/>
<rect x="230.4" y="56.8" width="47.7" height="6.4" fill="#1A9A70"/>
<rect x="277.9" y="56.8" width="17.2" height="6.4" fill="#EE6A2A"/>
<rect x="294.9" y="56.8" width="85.3" height="6.4" fill="#1A9A70"/>
<rect x="380" y="56.8" width="10.5" height="6.4" fill="#EE6A2A"/>
<rect x="390.3" y="56.8" width="20.9" height="6.4" fill="#1A9A70"/>
<text x="413.2" y="48.6" font-size="8.8" fill="#111">Patient</text>
<text x="413.2" y="56.3" font-size="8.8" fill="#111">Origin</text>
<text x="413.2" y="64" font-size="8.8" fill="#111">MS status</text>
<rect x="218.4" y="66.6" width="9.8" height="108.4" fill="#505050"/>
<path d="M219.9 67.5H228.2M225.2 68.5H228.2M223.8 70.5H228.2M220.0 71.5H228.2M219.1 72.5H228.2M223.5 76.5H228.2M224.1 77.5H228.2M226.0 78.5H228.2M222.8 79.5H228.2M223.8 86.5H228.2M224.5 89.5H228.2M223.4 91.5H228.2M223.1 92.5H228.2M219.6 93.5H228.2M226.0 94.5H228.2M224.1 97.5H228.2M222.1 98.5H228.2M224.3 100.5H228.2M223.2 101.5H228.2M220.6 102.5H228.2M222.5 103.5H228.2M225.4 104.5H228.2M219.1 105.5H228.2M223.7 106.5H228.2M220.2 107.5H228.2M222.1 109.5H228.2M223.7 111.5H228.2M222.0 112.5H228.2M223.1 116.5H228.2M220.0 117.5H228.2M224.9 118.5H228.2M220.2 122.5H228.2M220.9 123.5H228.2M221.9 124.5H228.2M222.5 125.5H228.2M224.9 126.5H228.2M219.5 128.5H228.2M225.1 129.5H228.2M224.0 130.5H228.2M221.2 131.5H228.2M220.0 133.5H228.2M219.2 134.5H228.2M220.0 136.5H228.2M223.4 137.5H228.2M223.4 138.5H228.2M224.7 139.5H228.2M220.4 141.5H228.2M220.3 142.5H228.2M222.3 143.5H228.2M220.9 145.5H228.2M223.9 146.5H228.2M223.3 147.5H228.2M224.5 149.5H228.2M225.5 151.5H228.2M222.2 153.5H228.2M225.4 154.5H228.2M223.0 155.5H228.2M223.6 159.5H228.2M224.1 160.5H228.2M224.0 162.5H228.2M225.3 163.5H228.2M224.5 166.5H228.2M225.4 167.5H228.2M219.6 169.5H228.2M222.9 170.5H228.2M219.2 172.5H228.2M224.6 174.5H228.2" stroke="#959595" stroke-width="0.5" fill="none"/>
<path d="M219.7 68.6h1.7M219.1 68.3h1.3M221.5 73.5h1.5M220.3 75.5h1.9M219.4 67.8h1.3M221.1 69.6h1.5M221.5 71.7h1.3M219.9 69.8h1.8M219.3 75.1h1.8M220.4 75.7h1.4M220.4 68.8h1.3M218.7 72.4h2.0M220.0 71.6h1.7M220.3 72.1h1.5M220.4 67.6h1.1M221.7 75.6h0.9M219.0 71.3h1.2M221.7 74.3h1.2M219.3 69.9h1.4M219.0 75.3h1.7M219.3 67.2h0.8M219.7 73.2h1.0M219.0 72.6h1.6M220.3 68.1h0.9M220.4 68.8h1.2M220.0 70.4h1.3M219.3 68.4h1.4M220.4 72.7h1.8M221.5 72.5h0.8M221.4 73.7h1.9M219.7 69.8h1.9M222.0 69.0h1.8M219.4 68.2h1.6M218.9 69.3h1.7M221.3 70.8h0.7M220.9 70.6h0.5M220.9 68.8h1.9M219.0 75.7h1.3M220.3 73.8h1.5M218.8 68.7h0.7" stroke="#d8d8d8" stroke-width="0.6" fill="none"/>
<polygon points="218.6,77.1 223.3,77.1 218.6,84.8" fill="#e6e6e6"/>
<path d="M219.9 77.9H223.3M220.0 81.0H221.4M219.0 78.6H222.9" stroke="#b0b0b0" stroke-width="0.4" fill="none"/>
<polygon points="218.6,87 223.3,87 218.6,94.6" fill="#e6e6e6"/>
<path d="M220.6 88.8H222.6M220.8 94.0H219.4M218.7 88.1H223.1" stroke="#b0b0b0" stroke-width="0.4" fill="none"/>
<polygon points="218.6,100 223.7,100 218.6,110" fill="#e6e6e6"/>
<path d="M219.7 109.1H219.6M219.4 107.4H220.4M219.8 104.7H221.8M220.0 104.4H222.0" stroke="#b0b0b0" stroke-width="0.4" fill="none"/>
<polygon points="218.6,111.5 225.8,111.5 218.6,123" fill="#e6e6e6"/>
<path d="M220.3 112.1H225.9M219.0 120.9H220.4M220.4 116.8H223.0M219.1 116.3H223.3" stroke="#b0b0b0" stroke-width="0.4" fill="none"/>
<polygon points="218.6,122.5 222,122.5 218.6,128.7" fill="#e6e6e6"/>
<path d="M219.8 123.9H221.8M220.7 123.1H222.2" stroke="#b0b0b0" stroke-width="0.4" fill="none"/>
<polygon points="218.6,131 223.7,131 218.6,138.6" fill="#e6e6e6"/>
<path d="M220.3 136.8H220.3M220.1 137.2H220.1M220.0 134.2H222.1" stroke="#b0b0b0" stroke-width="0.4" fill="none"/>
<polygon points="218.6,140.2 223.9,140.2 218.6,147.9" fill="#e6e6e6"/>
<path d="M221.0 144.1H221.7M219.2 146.1H220.3M220.4 146.8H219.8" stroke="#b0b0b0" stroke-width="0.4" fill="none"/>
<polygon points="218.6,149.5 223.9,149.5 218.6,157.2" fill="#e6e6e6"/>
<path d="M220.6 155.2H220.5M220.8 152.7H222.2M220.3 155.9H220.0" stroke="#b0b0b0" stroke-width="0.4" fill="none"/>
<polygon points="218.6,157.7 223.7,157.7 218.6,165.4" fill="#e6e6e6"/>
<path d="M220.4 163.3H220.5M220.3 160.9H222.1M219.4 158.7H223.6" stroke="#b0b0b0" stroke-width="0.4" fill="none"/>
<polygon points="218.6,167 223.9,167 218.6,174.6" fill="#e6e6e6"/>
<path d="M218.6 170.6H221.9M220.1 169.8H222.4M219.2 171.6H221.2" stroke="#b0b0b0" stroke-width="0.4" fill="none"/>
<rect x="230.5" y="66.3" width="180.5" height="110.3" fill="#4C6FB2"/>
<path d="M232.5 66.5h4M237.5 66.5h1M244.5 66.5h3M248.5 66.5h2M251.5 66.5h1M253.5 66.5h2M264.5 66.5h3M278.5 66.5h2M281.5 66.5h2M284.5 66.5h2M288.5 66.5h1M293.5 66.5h2M301.5 66.5h1M305.5 66.5h3M311.5 66.5h1M313.5 66.5h3M317.5 66.5h1M319.5 66.5h2M324.5 66.5h3M328.5 66.5h4M336.5 66.5h1M338.5 66.5h3M342.5 66.5h2M356.5 66.5h2M232.5 67.5h4M244.5 67.5h2M250.5 67.5h2M259.5 67.5h3M266.5 67.5h1M268.5 67.5h1M273.5 67.5h3M278.5 67.5h2M282.5 67.5h4M287.5 67.5h4M295.5 67.5h2M298.5 67.5h2M320.5 67.5h4M327.5 67.5h2M330.5 67.5h1M340.5 67.5h1M405.5 67.5h1M243.5 68.5h2M248.5 68.5h2M253.5 68.5h3M262.5 68.5h4M272.5 68.5h1M281.5 68.5h1M283.5 68.5h4M288.5 68.5h2M293.5 68.5h1M307.5 68.5h2M312.5 68.5h3M316.5 68.5h1M319.5 68.5h2M323.5 68.5h1M383.5 68.5h1M238.5 69.5h4M249.5 69.5h2M255.5 69.5h1M266.5 69.5h4M273.5 69.5h1M277.5 69.5h1M279.5 69.5h1M286.5 69.5h1M232.5 70.5h2M240.5 70.5h3M245.5 70.5h4M261.5 70.5h2M268.5 70.5h2M279.5 70.5h1M281.5 70.5h1M286.5 70.5h2M300.5 70.5h2M314.5 70.5h2M318.5 70.5h4M331.5 70.5h1M376.5 70.5h4M232.5 71.5h2M243.5 71.5h1M249.5 71.5h2M269.5 71.5h1M274.5 71.5h3M285.5 71.5h3M353.5 71.5h3M409.5 71.5h1.5M230.5 72.5h2M240.5 72.5h3M258.5 72.5h3M263.5 72.5h2M275.5 72.5h2M279.5 72.5h3M284.5 72.5h2M288.5 72.5h2M295.5 72.5h2M298.5 72.5h1M302.5 72.5h1M305.5 72.5h1M312.5 72.5h1M315.5 72.5h2M328.5 72.5h2M331.5 72.5h4M246.5 73.5h2M263.5 73.5h1M300.5 73.5h2M307.5 73.5h3M313.5 73.5h2M316.5 73.5h3M323.5 73.5h4M328.5 73.5h1M341.5 73.5h2M353.5 73.5h4M260.5 74.5h3M268.5 74.5h2M278.5 74.5h4M294.5 74.5h1M370.5 74.5h1M239.5 75.5h1M260.5 75.5h1M277.5 75.5h2M284.5 75.5h4M291.5 75.5h3M297.5 75.5h1M300.5 75.5h2M304.5 75.5h4M309.5 75.5h2M317.5 75.5h3M321.5 75.5h4M327.5 75.5h4M332.5 75.5h1M338.5 75.5h2M237.5 76.5h2M248.5 76.5h1M254.5 76.5h1M256.5 76.5h1M258.5 76.5h1M263.5 76.5h1M267.5 76.5h1M275.5 76.5h4M284.5 76.5h2M287.5 76.5h3M294.5 76.5h1M301.5 76.5h2M315.5 76.5h3M319.5 76.5h1M329.5 76.5h1M332.5 76.5h3M337.5 76.5h4M342.5 76.5h3M374.5 76.5h2M235.5 77.5h2M258.5 77.5h4M263.5 77.5h4M279.5 77.5h1M289.5 77.5h1M291.5 77.5h1M373.5 77.5h1M251.5 78.5h2M256.5 78.5h2M273.5 78.5h3M293.5 78.5h1M301.5 78.5h2M311.5 78.5h2M319.5 78.5h1M321.5 78.5h1M377.5 78.5h4M389.5 78.5h1M394.5 78.5h2M242.5 79.5h2M245.5 79.5h3M258.5 79.5h1M263.5 79.5h2M267.5 79.5h1M269.5 79.5h2M278.5 79.5h4M292.5 79.5h1M298.5 79.5h3M322.5 79.5h4M230.5 80.5h3M247.5 80.5h4M252.5 80.5h2M301.5 80.5h1M406.5 80.5h1M314.5 81.5h2M318.5 81.5h2M329.5 81.5h1M336.5 81.5h2M341.5 81.5h1M344.5 81.5h4M349.5 81.5h2M301.5 82.5h2M312.5 82.5h2M319.5 82.5h3M332.5 82.5h2M335.5 82.5h4M343.5 82.5h2M349.5 82.5h4M358.5 82.5h2M366.5 82.5h3M237.5 83.5h2M244.5 83.5h2M249.5 83.5h2M259.5 83.5h1M289.5 83.5h1M304.5 83.5h2M317.5 83.5h2M322.5 83.5h2M268.5 84.5h4M274.5 84.5h4M280.5 84.5h2M283.5 84.5h4M291.5 84.5h3M301.5 84.5h1M303.5 84.5h3M314.5 84.5h1M316.5 84.5h2M323.5 84.5h2M326.5 84.5h3M332.5 84.5h2M400.5 84.5h2M231.5 85.5h1M241.5 85.5h2M268.5 85.5h2M272.5 85.5h1M275.5 85.5h2M278.5 85.5h3M283.5 85.5h1M294.5 85.5h2M307.5 85.5h1M283.5 86.5h3M290.5 86.5h3M296.5 86.5h2M299.5 86.5h1M301.5 86.5h2M304.5 86.5h3M329.5 86.5h3M333.5 86.5h1M335.5 86.5h1M342.5 86.5h2M346.5 86.5h1M372.5 86.5h3M408.5 86.5h2M245.5 87.5h2M252.5 87.5h2M276.5 87.5h4M311.5 87.5h1M315.5 87.5h2M322.5 87.5h1M342.5 87.5h2M235.5 88.5h1M241.5 88.5h2M257.5 88.5h2M271.5 88.5h4M290.5 88.5h2M338.5 88.5h3M349.5 88.5h1M292.5 89.5h2M303.5 89.5h3M323.5 89.5h1M330.5 89.5h2M340.5 89.5h1M342.5 89.5h2M360.5 89.5h2M377.5 89.5h2M251.5 90.5h3M281.5 90.5h1M305.5 90.5h2M312.5 90.5h3M352.5 90.5h1M230.5 91.5h3M254.5 91.5h1M257.5 91.5h1M262.5 91.5h1M265.5 91.5h1M267.5 91.5h4M280.5 91.5h4M290.5 91.5h2M295.5 91.5h1M297.5 91.5h4M355.5 91.5h3M263.5 92.5h3M275.5 92.5h4M283.5 92.5h2M296.5 92.5h2M380.5 92.5h4M243.5 93.5h1M312.5 93.5h2M325.5 93.5h4M230.5 94.5h2M243.5 94.5h4M254.5 94.5h2M258.5 94.5h3M263.5 94.5h3M271.5 94.5h3M308.5 94.5h3M313.5 94.5h3M331.5 94.5h3M335.5 94.5h3M340.5 94.5h3M391.5 94.5h2M257.5 95.5h1M315.5 95.5h1M337.5 95.5h2M399.5 95.5h4M357.5 96.5h3M399.5 96.5h4M248.5 97.5h3M315.5 97.5h3M366.5 97.5h4M383.5 98.5h2M236.5 99.5h1M239.5 99.5h1M246.5 99.5h1M332.5 99.5h3M393.5 99.5h2M391.5 100.5h4M265.5 101.5h2M277.5 101.5h4M282.5 101.5h2M287.5 101.5h4M294.5 101.5h3M350.5 101.5h2M386.5 101.5h4M265.5 103.5h3M288.5 103.5h1M293.5 103.5h3M340.5 103.5h1M239.5 104.5h1M281.5 104.5h2M238.5 105.5h1M329.5 105.5h1M348.5 105.5h3M274.5 106.5h4M375.5 106.5h3M387.5 106.5h4M230.5 107.5h3M347.5 107.5h3M249.5 108.5h2M350.5 108.5h2M298.5 110.5h3M334.5 110.5h4M340.5 110.5h1M245.5 111.5h1M312.5 111.5h3M339.5 111.5h2M346.5 111.5h4M316.5 112.5h2M400.5 112.5h2M350.5 113.5h2M374.5 113.5h2M233.5 114.5h2M247.5 114.5h2M251.5 114.5h1M258.5 114.5h3M262.5 114.5h3M272.5 114.5h4M288.5 114.5h2M405.5 114.5h1M234.5 115.5h1M290.5 115.5h3M296.5 115.5h1M348.5 115.5h3M246.5 116.5h3M408.5 116.5h1M267.5 117.5h4M380.5 117.5h1M262.5 118.5h1M264.5 118.5h3M302.5 118.5h1M304.5 118.5h1M306.5 118.5h2M310.5 118.5h3M318.5 118.5h1M324.5 118.5h2M338.5 118.5h4M345.5 118.5h3M349.5 118.5h1M351.5 118.5h2M355.5 118.5h2M358.5 118.5h2M386.5 118.5h1M395.5 118.5h1M399.5 118.5h4M404.5 118.5h1M408.5 118.5h1M265.5 119.5h4M279.5 119.5h1M358.5 119.5h3M277.5 120.5h1M329.5 120.5h4M278.5 121.5h2M338.5 121.5h2M363.5 121.5h2M408.5 121.5h1M298.5 122.5h1M359.5 122.5h3M231.5 124.5h2M246.5 124.5h4M301.5 124.5h4M307.5 124.5h3M312.5 124.5h2M332.5 124.5h2M335.5 124.5h2M341.5 124.5h1M345.5 124.5h2M355.5 124.5h2M358.5 124.5h1M363.5 124.5h3M370.5 124.5h2M374.5 124.5h3M396.5 124.5h4M402.5 124.5h1M408.5 124.5h2.5M275.5 125.5h2M392.5 125.5h1M300.5 126.5h3M325.5 126.5h1M332.5 126.5h4M348.5 126.5h1M355.5 126.5h4M363.5 126.5h4M375.5 126.5h4M383.5 126.5h2M387.5 126.5h1M391.5 126.5h2M402.5 126.5h1M264.5 128.5h4M325.5 128.5h2M337.5 128.5h1M343.5 128.5h4M356.5 128.5h1M390.5 128.5h4M400.5 128.5h2M405.5 128.5h1M241.5 129.5h1M341.5 129.5h1M406.5 130.5h1M373.5 131.5h4M396.5 131.5h4M320.5 132.5h1M405.5 132.5h1M235.5 133.5h1M244.5 133.5h4M250.5 133.5h3M255.5 133.5h1M297.5 133.5h2M323.5 133.5h4M330.5 133.5h1M338.5 133.5h4M356.5 133.5h3M365.5 133.5h4M386.5 133.5h3M404.5 133.5h2M257.5 134.5h3M275.5 134.5h4M328.5 134.5h3M336.5 134.5h1M258.5 135.5h1M281.5 135.5h3M321.5 135.5h4M384.5 135.5h2M391.5 135.5h2M256.5 136.5h1M320.5 136.5h4M326.5 136.5h4M348.5 136.5h1M374.5 136.5h3M378.5 136.5h1M386.5 136.5h1M389.5 136.5h2M403.5 136.5h3M252.5 137.5h2M286.5 138.5h1M289.5 138.5h3M307.5 138.5h3M315.5 138.5h2M319.5 138.5h1M325.5 138.5h2M329.5 138.5h1M350.5 138.5h2M353.5 138.5h4M365.5 138.5h3M369.5 138.5h3M379.5 138.5h1M387.5 138.5h4M393.5 138.5h3M402.5 138.5h1M237.5 139.5h3M301.5 139.5h1M398.5 139.5h2M282.5 140.5h4M330.5 140.5h3M337.5 140.5h4M353.5 140.5h3M373.5 140.5h4M379.5 140.5h1M397.5 140.5h2M322.5 141.5h1M342.5 141.5h2M349.5 141.5h2M355.5 141.5h1M358.5 141.5h2M361.5 141.5h4M368.5 141.5h1M376.5 141.5h3M389.5 141.5h1M397.5 141.5h1M405.5 141.5h1M383.5 142.5h2M281.5 143.5h1M322.5 143.5h1M382.5 143.5h1M274.5 144.5h3M288.5 144.5h1M309.5 145.5h1M314.5 145.5h3M337.5 145.5h4M349.5 145.5h1M370.5 145.5h4M378.5 145.5h2M393.5 145.5h1M397.5 145.5h1M401.5 145.5h2M405.5 145.5h2M250.5 146.5h3M317.5 146.5h2M334.5 146.5h1M340.5 146.5h1M354.5 146.5h1M357.5 146.5h1M368.5 146.5h1M372.5 146.5h2M384.5 146.5h4M394.5 146.5h2M398.5 146.5h3M408.5 146.5h2M267.5 147.5h2M319.5 147.5h1M322.5 147.5h2M337.5 147.5h1M370.5 147.5h4M395.5 147.5h2M401.5 147.5h3M406.5 147.5h2M277.5 149.5h3M294.5 149.5h4M339.5 149.5h2M375.5 149.5h3M405.5 149.5h2M236.5 150.5h4M249.5 150.5h2M252.5 150.5h1M259.5 150.5h2M275.5 150.5h3M290.5 150.5h3M296.5 150.5h2M311.5 150.5h1M325.5 150.5h1M334.5 150.5h4M372.5 150.5h4M230.5 151.5h4M323.5 151.5h4M233.5 152.5h2M241.5 152.5h3M245.5 152.5h4M263.5 152.5h1M265.5 152.5h1M275.5 152.5h4M282.5 152.5h1M293.5 152.5h3M395.5 152.5h1M318.5 154.5h2M240.5 155.5h2M257.5 155.5h3M348.5 155.5h2M352.5 155.5h1M371.5 155.5h2M375.5 155.5h4M392.5 155.5h2M400.5 155.5h1M254.5 156.5h3M297.5 156.5h1M323.5 156.5h2M398.5 156.5h2M230.5 157.5h4M331.5 157.5h1M351.5 157.5h4M249.5 158.5h1M285.5 158.5h1M368.5 158.5h1M240.5 160.5h1M243.5 160.5h4M257.5 160.5h1M270.5 160.5h2M286.5 160.5h4M294.5 160.5h2M369.5 160.5h2M397.5 160.5h2M237.5 161.5h1M260.5 161.5h4M304.5 161.5h1M316.5 161.5h1M337.5 161.5h2M392.5 161.5h4M323.5 162.5h4M374.5 162.5h1M409.5 162.5h1M256.5 163.5h3M274.5 163.5h1M307.5 163.5h4M316.5 163.5h2M348.5 163.5h3M358.5 163.5h2M361.5 163.5h4M368.5 163.5h1M373.5 163.5h2M275.5 164.5h3M320.5 164.5h1M351.5 164.5h1M357.5 164.5h1M239.5 165.5h1M249.5 165.5h1M273.5 165.5h4M344.5 165.5h1M350.5 165.5h2M353.5 165.5h1M356.5 165.5h1M360.5 165.5h2M369.5 165.5h3M374.5 165.5h3M379.5 165.5h4M384.5 165.5h1M387.5 165.5h1M390.5 165.5h2M393.5 165.5h4M400.5 165.5h2M404.5 165.5h2M407.5 165.5h1M389.5 166.5h1M400.5 166.5h2M329.5 167.5h2M335.5 167.5h1M293.5 168.5h3M331.5 168.5h4M319.5 169.5h4M326.5 169.5h1M330.5 169.5h1M332.5 169.5h1M335.5 169.5h4M346.5 169.5h2M350.5 169.5h2M353.5 169.5h2M358.5 169.5h2M362.5 169.5h2M371.5 169.5h2M374.5 169.5h1M381.5 169.5h1M384.5 169.5h4M393.5 169.5h2M398.5 169.5h3M233.5 170.5h1M242.5 170.5h2M253.5 170.5h4M260.5 170.5h2M264.5 170.5h1M268.5 170.5h3M274.5 170.5h2M284.5 170.5h2M349.5 170.5h2M395.5 170.5h1M363.5 171.5h2M328.5 172.5h1M342.5 172.5h2M379.5 173.5h3M234.5 174.5h4M230.5 175.5h1M235.5 175.5h3M249.5 175.5h1M262.5 175.5h2M265.5 175.5h3M281.5 175.5h1M287.5 175.5h3M326.5 175.5h2M352.5 175.5h1M354.5 175.5h3M367.5 175.5h1M370.5 175.5h4M378.5 175.5h2M387.5 175.5h3M398.5 175.5h1M406.5 175.5h1M409.5 175.5h1.5" stroke="#6e8cc6" stroke-width="1" fill="none"/>
<path d="M296.5 66.5h4M240.5 67.5h3M263.5 67.5h2M333.5 67.5h1M335.5 67.5h1M337.5 67.5h2M268.5 68.5h2M295.5 68.5h2M301.5 68.5h1M325.5 68.5h3M231.5 69.5h1M290.5 69.5h2M293.5 69.5h4M298.5 69.5h2M301.5 69.5h4M399.5 69.5h2M257.5 70.5h3M265.5 70.5h2M295.5 70.5h2M303.5 70.5h3M338.5 70.5h2M254.5 71.5h4M281.5 71.5h3M245.5 72.5h1M252.5 72.5h1M256.5 72.5h1M292.5 72.5h1M319.5 72.5h2M324.5 72.5h2M243.5 74.5h3M235.5 75.5h1M252.5 75.5h3M265.5 75.5h3M341.5 75.5h2M349.5 75.5h2M233.5 76.5h3M240.5 76.5h2M243.5 76.5h4M250.5 76.5h3M269.5 76.5h4M280.5 76.5h1M296.5 76.5h1M304.5 76.5h2M312.5 76.5h2M321.5 76.5h1M323.5 76.5h2M230.5 77.5h1M238.5 77.5h1M248.5 77.5h2M253.5 77.5h4M272.5 77.5h2M282.5 77.5h3M283.5 78.5h4M304.5 78.5h2M326.5 78.5h2M239.5 80.5h2M242.5 80.5h2M256.5 80.5h4M332.5 81.5h2M258.5 82.5h1M305.5 82.5h1M307.5 82.5h1M316.5 82.5h2M323.5 82.5h2M327.5 82.5h2M406.5 82.5h1M241.5 83.5h2M267.5 83.5h1M272.5 83.5h1M276.5 83.5h2M292.5 83.5h1M298.5 83.5h4M327.5 83.5h2M338.5 84.5h2M343.5 84.5h2M349.5 84.5h2M254.5 85.5h4M287.5 85.5h2M342.5 85.5h4M238.5 86.5h3M310.5 86.5h3M316.5 86.5h4M337.5 86.5h2M402.5 86.5h1M285.5 87.5h3M294.5 87.5h1M306.5 87.5h1M319.5 87.5h2M250.5 88.5h2M265.5 88.5h4M277.5 88.5h3M319.5 89.5h1M326.5 89.5h2M235.5 91.5h4M240.5 91.5h3M248.5 91.5h1M275.5 91.5h3M286.5 91.5h3M349.5 91.5h1M405.5 91.5h2M233.5 92.5h2M250.5 92.5h2M268.5 92.5h1M407.5 92.5h3M237.5 93.5h1M364.5 93.5h1M234.5 94.5h4M250.5 94.5h1M275.5 94.5h3M351.5 96.5h2M376.5 96.5h3M294.5 98.5h4M308.5 98.5h4M398.5 98.5h1M266.5 99.5h3M313.5 100.5h3M238.5 101.5h1M248.5 101.5h1M298.5 101.5h3M262.5 102.5h3M260.5 103.5h2M279.5 103.5h1M277.5 104.5h1M244.5 105.5h2M257.5 105.5h1M362.5 106.5h3M298.5 108.5h2M327.5 108.5h2M283.5 110.5h1M261.5 111.5h3M292.5 111.5h2M352.5 112.5h4M280.5 114.5h2M255.5 115.5h1M352.5 117.5h2M356.5 117.5h2M320.5 118.5h1M368.5 118.5h2M293.5 119.5h1M258.5 121.5h4M270.5 121.5h2M347.5 121.5h2M241.5 123.5h2M326.5 124.5h3M330.5 124.5h1M378.5 124.5h1M232.5 125.5h2M398.5 125.5h2M341.5 126.5h3M389.5 126.5h1M396.5 126.5h2M408.5 126.5h2M289.5 127.5h2M403.5 127.5h4M319.5 128.5h2M363.5 128.5h2M380.5 128.5h2M272.5 129.5h3M230.5 131.5h3M272.5 133.5h1M307.5 133.5h3M314.5 133.5h1M370.5 133.5h2M374.5 133.5h4M390.5 133.5h2M378.5 135.5h1M334.5 136.5h4M353.5 136.5h2M397.5 136.5h2M351.5 137.5h3M395.5 137.5h4M302.5 138.5h2M339.5 138.5h4M362.5 138.5h2M398.5 138.5h1M406.5 138.5h2M248.5 139.5h1M271.5 139.5h3M298.5 140.5h1M302.5 140.5h1M310.5 140.5h1M408.5 140.5h2M334.5 141.5h2M371.5 141.5h2M374.5 141.5h1M380.5 141.5h2M288.5 142.5h2M298.5 142.5h4M262.5 143.5h4M391.5 143.5h2M302.5 145.5h1M318.5 145.5h3M333.5 145.5h2M366.5 145.5h3M389.5 145.5h1M392.5 146.5h1M306.5 147.5h1M344.5 147.5h1M350.5 147.5h4M355.5 147.5h2M358.5 147.5h1M378.5 147.5h1M238.5 148.5h2M302.5 148.5h1M325.5 148.5h1M345.5 148.5h4M283.5 149.5h2M299.5 149.5h3M244.5 150.5h3M268.5 150.5h2M231.5 152.5h1M252.5 152.5h4M312.5 153.5h1M278.5 155.5h2M361.5 155.5h3M252.5 160.5h1M231.5 162.5h3M401.5 163.5h3M262.5 164.5h4M283.5 164.5h1M366.5 165.5h2M311.5 166.5h1M322.5 168.5h1M389.5 169.5h1M405.5 169.5h1M292.5 170.5h3M303.5 172.5h2M232.5 175.5h2M258.5 175.5h2M308.5 175.5h3M315.5 175.5h2M334.5 175.5h1M343.5 175.5h3" stroke="#94aed8" stroke-width="1" fill="none"/>
<rect x="230.5" y="96.6" width="180.5" height="1.2" fill="#dfe8f2" opacity="0.9"/>
<rect x="230.5" y="109.8" width="180.5" height="1.2" fill="#f0e8b0" opacity="0.8"/>
<rect x="230.5" y="170.9" width="64.5" height="1.2" fill="#c8d8ec" opacity="0.8"/>
<rect x="230.5" y="75.9" width="180.5" height="1.2" fill="#a8c0e0" opacity="0.7"/>
<rect x="318" y="110.9" width="93" height="1.2" fill="#dfe8f2" opacity="0.6"/>
<rect x="273.1" y="111.2" width="22" height="9.8" fill="#f4e9a8"/>
<path d="M290.8 116.5h1M276.7 115.5h2M288.8 114.5h2M280.5 119.5h1M290.9 117.5h1M278.7 117.5h1M293.0 111.5h1M281.5 113.5h2M283.9 112.5h2M287.1 111.5h2M282.0 116.5h2M292.4 114.5h1M275.4 115.5h1M276.4 116.5h2M279.1 119.5h1M290.9 118.5h1M292.1 115.5h1M291.1 114.5h2M289.7 117.5h2M276.4 114.5h2M277.1 114.5h1M286.3 118.5h2M276.1 111.5h2M291.7 112.5h2M276.6 118.5h1M279.1 116.5h1M289.9 113.5h1M277.3 119.5h2M283.7 117.5h2M293.2 113.5h1M276.5 117.5h2M277.6 114.5h1M279.5 114.5h1M283.7 115.5h2M287.4 115.5h2M287.1 115.5h1M279.0 114.5h2M282.4 114.5h1" stroke="#98b6dc" stroke-width="1" fill="none" opacity="0.85"/>
<path d="M283.9 113.5h2M279.4 112.5h1M287.4 112.5h1M292.0 114.5h1M277.4 117.5h2M285.5 117.5h2M273.3 116.5h1M280.7 112.5h2M287.7 111.5h1M292.1 113.5h1M291.7 116.5h1M276.0 117.5h1" stroke="#fffbe8" stroke-width="1" fill="none"/>
<rect x="273.1" y="123" width="4.9" height="6" fill="#e9ecc8"/>
<path d="M276.4 127.5h1M275.5 126.5h2M273.4 125.5h1M275.0 125.5h1M275.3 124.5h1" stroke="#98b6dc" stroke-width="1" fill="none" opacity="0.85"/>
<path d="M276.0 123.5h1" stroke="#fffbe8" stroke-width="1" fill="none"/>
<rect x="261" y="131" width="11.5" height="9" fill="#f4e9a8"/>
<path d="M261.2 134.5h1M267.6 137.5h1M266.9 134.5h2M267.0 135.5h1M270.1 137.5h2M269.6 134.5h2M270.0 132.5h1M261.8 132.5h2M262.2 133.5h1M265.1 137.5h2M265.2 136.5h1M262.3 133.5h2M268.9 132.5h1M270.0 131.5h1M269.7 131.5h2M263.3 135.5h2M262.1 131.5h1M265.8 138.5h1" stroke="#98b6dc" stroke-width="1" fill="none" opacity="0.85"/>
<path d="M261.1 132.5h1M269.0 131.5h2M261.8 134.5h2M265.7 135.5h2M267.1 136.5h1M262.7 137.5h2" stroke="#fffbe8" stroke-width="1" fill="none"/>
<rect x="243" y="141" width="17.5" height="8" fill="#f1e6a6"/>
<path d="M246.5 144.5h1M255.6 144.5h2M253.1 142.5h1M255.3 142.5h1M255.6 141.5h2M243.0 144.5h1M245.4 142.5h2M249.6 146.5h2M248.6 144.5h2M256.9 143.5h1M258.6 145.5h1M248.9 143.5h1M258.4 141.5h2M247.5 145.5h2M259.0 146.5h2M249.9 141.5h2M244.3 141.5h1M252.0 144.5h2M244.7 145.5h1M257.0 142.5h2M255.9 142.5h1M257.1 147.5h1M255.2 145.5h1M256.0 145.5h1M248.6 145.5h1" stroke="#98b6dc" stroke-width="1" fill="none" opacity="0.85"/>
<path d="M257.7 146.5h1M250.0 143.5h1M258.9 142.5h1M252.9 144.5h2M248.5 147.5h2M255.4 143.5h2M243.2 144.5h1M258.9 144.5h1" stroke="#fffbe8" stroke-width="1" fill="none"/>
<rect x="231" y="158" width="12" height="9" fill="#eee8b8"/>
<path d="M239.1 165.5h2M241.3 163.5h1M232.0 165.5h1M231.3 162.5h1M240.8 164.5h1M240.0 164.5h1M239.0 163.5h1M237.7 164.5h1M232.1 163.5h1M235.1 161.5h1M235.9 159.5h1M232.3 164.5h1M239.4 161.5h2M240.9 158.5h1M234.8 160.5h1M233.5 165.5h2M231.4 164.5h2M238.6 158.5h1M238.0 161.5h1" stroke="#98b6dc" stroke-width="1" fill="none" opacity="0.85"/>
<path d="M237.8 164.5h2M231.1 164.5h1M233.8 161.5h1M236.5 164.5h1M235.9 162.5h1M239.3 164.5h1" stroke="#fffbe8" stroke-width="1" fill="none"/>
<rect x="295" y="167" width="28" height="7" fill="#f1e4a0"/>
<path d="M321.9 167.5h1M301.8 167.5h1M298.8 171.5h1M318.4 170.5h1M318.4 168.5h1M311.1 168.5h1M299.1 169.5h1M307.1 169.5h1M321.9 169.5h1M316.2 169.5h1M303.0 169.5h1M299.2 169.5h1M299.0 169.5h1M298.6 167.5h1M317.6 171.5h1M305.3 171.5h2M315.1 169.5h1M305.1 170.5h2M319.4 167.5h1M321.8 169.5h2M321.5 171.5h1M318.4 170.5h1M305.4 170.5h1M302.3 167.5h2M304.6 172.5h2M303.6 169.5h1M317.8 171.5h2M302.8 169.5h1M313.8 172.5h2M319.5 171.5h1M317.7 167.5h1M297.3 172.5h1M297.4 172.5h1M309.8 170.5h1M299.3 168.5h1" stroke="#98b6dc" stroke-width="1" fill="none" opacity="0.85"/>
<path d="M319.3 169.5h1M313.8 170.5h2M300.9 170.5h1M321.2 167.5h2M313.2 167.5h1M313.3 167.5h2M315.7 169.5h1M313.1 167.5h1M304.3 169.5h1M315.4 172.5h1M321.8 168.5h2" stroke="#fffbe8" stroke-width="1" fill="none"/>
<rect x="367.2" y="67" width="12.2" height="7.3" fill="#c9d8e6"/>
<path d="M371.6 71.5h1M374.7 72.5h2M376.9 72.5h2M371.1 69.5h1M378.3 71.5h1M372.9 69.5h1M368.2 72.5h1M375.9 71.5h1M373.5 68.5h1M377.8 72.5h2M370.7 73.5h1M370.7 68.5h2M367.8 67.5h1M371.5 68.5h2M370.7 70.5h2M376.9 71.5h1" stroke="#98b6dc" stroke-width="1" fill="none" opacity="0.85"/>
<path d="M368.9 71.5h1M375.1 70.5h1M374.9 69.5h1M371.4 68.5h2M370.6 68.5h1" stroke="#fffbe8" stroke-width="1" fill="none"/>
<rect x="348.7" y="74.3" width="18.5" height="11.2" fill="#cfdbe4"/>
<path d="M361.0 82.5h1M350.6 84.5h1M364.7 79.5h1M356.9 81.5h2M360.7 75.5h1M353.4 84.5h2M363.2 84.5h1M356.7 77.5h1M363.7 81.5h1M352.5 81.5h1M360.0 83.5h1M365.7 76.5h1M349.7 83.5h1M361.0 75.5h2M350.3 75.5h2M352.9 79.5h1M352.4 77.5h2M350.3 81.5h1M355.1 80.5h2M349.3 82.5h2M350.8 80.5h2M365.6 78.5h1M351.3 82.5h2M359.4 79.5h1M352.2 83.5h2M362.2 83.5h1M365.1 81.5h1M350.3 82.5h1M355.0 84.5h2M365.9 76.5h2M355.8 75.5h1M354.7 83.5h1M357.2 76.5h1M358.4 74.5h1M365.3 80.5h1M348.8 74.5h1M348.9 78.5h1" stroke="#98b6dc" stroke-width="1" fill="none" opacity="0.85"/>
<path d="M356.5 77.5h2M355.0 82.5h1M364.4 74.5h1M350.7 84.5h1M352.4 81.5h1M354.7 78.5h1M360.2 75.5h1M360.1 82.5h1M356.1 83.5h1M360.9 80.5h1M349.3 82.5h2M363.0 76.5h1" stroke="#fffbe8" stroke-width="1" fill="none"/>
<rect x="391.7" y="87" width="19.3" height="8.5" fill="#d6e2ea"/>
<path d="M398.3 91.5h1M397.1 94.5h2M397.4 87.5h2M396.9 87.5h1M397.5 90.5h1M408.5 87.5h2M395.2 94.5h1M396.4 90.5h1M407.8 91.5h1M402.9 91.5h1M395.8 91.5h2M408.5 92.5h1M406.8 89.5h1M408.7 88.5h1M407.1 87.5h1M403.2 91.5h2M395.2 91.5h1M408.2 87.5h1M394.2 93.5h1M406.9 88.5h2M403.2 92.5h1M406.7 90.5h1M397.1 87.5h1M394.8 87.5h1M396.3 93.5h1M403.0 92.5h1M404.6 90.5h1M403.1 88.5h1M392.5 91.5h1" stroke="#98b6dc" stroke-width="1" fill="none" opacity="0.85"/>
<path d="M397.0 89.5h1M405.9 87.5h1M406.8 89.5h1M395.0 92.5h1M395.1 87.5h2M402.0 92.5h1M409.4 92.5h1M392.8 89.5h2M399.7 92.5h2" stroke="#fffbe8" stroke-width="1" fill="none"/>
<rect x="379.2" y="97.2" width="10.4" height="6.2" fill="#c4d4e4"/>
<path d="M385.3 101.5h1M387.2 101.5h1M386.5 100.5h1M385.1 99.5h2M386.9 99.5h2M384.5 101.5h2M388.4 99.5h1M384.5 97.5h1M384.5 101.5h1M383.3 97.5h1M386.6 99.5h1" stroke="#98b6dc" stroke-width="1" fill="none" opacity="0.85"/>
<path d="M384.3 101.5h1M380.9 98.5h1M383.6 97.5h2" stroke="#fffbe8" stroke-width="1" fill="none"/>
<rect x="323.1" y="103" width="16.4" height="7.1" fill="#f0e4a4"/>
<path d="M337.2 107.5h1M327.2 105.5h2M328.3 108.5h2M338.3 104.5h1M333.8 108.5h2M328.6 106.5h2M338.2 108.5h1M331.7 106.5h2M335.8 105.5h1M335.9 104.5h1M325.6 103.5h1M330.6 105.5h1M323.6 108.5h2M332.9 108.5h1M327.4 107.5h1M329.8 104.5h1M332.3 105.5h1M324.4 108.5h1M327.5 108.5h2M334.5 108.5h1" stroke="#98b6dc" stroke-width="1" fill="none" opacity="0.85"/>
<path d="M335.2 104.5h1M329.1 108.5h1M337.9 105.5h2M333.8 103.5h1M333.1 103.5h2M337.9 103.5h1" stroke="#fffbe8" stroke-width="1" fill="none"/>
<rect x="340.5" y="150" width="7.8" height="8.1" fill="#e4e6c8"/>
<path d="M341.0 152.5h2M342.3 150.5h2M344.4 150.5h1M340.5 151.5h2M346.3 152.5h1M346.7 151.5h1M341.1 154.5h2M344.4 155.5h1M345.0 156.5h1M341.3 153.5h2M343.2 154.5h2" stroke="#98b6dc" stroke-width="1" fill="none" opacity="0.85"/>
<path d="M341.1 153.5h2M342.5 151.5h1M342.9 156.5h1" stroke="#fffbe8" stroke-width="1" fill="none"/>
<rect x="273" y="117" width="5" height="1.3" fill="#f08a40"/>
<rect x="261" y="117.8" width="12" height="1" fill="#f0d070"/>
<rect x="325" y="106" width="2" height="2" fill="#f08a40"/>
<rect x="381.5" y="88.2" width="8" height="1" fill="#f0d070"/>
<rect x="367" y="117.6" width="12" height="1" fill="#f0d070"/>
<text x="426.6" y="76.7" font-size="7" font-style="italic" fill="#222">MUC17</text>
<text x="426.6" y="82.1" font-size="7" font-style="italic" fill="#222">SPINK1</text>
<text x="426.6" y="87.5" font-size="7" font-style="italic" fill="#222">CES2</text>
<text x="426.6" y="99.8" font-size="7" font-style="italic" fill="#222">CXCL14</text>
<text x="426.6" y="105.1" font-size="7" font-style="italic" fill="#222">DEFA5</text>
<text x="426.6" y="110.4" font-size="7" font-style="italic" fill="#222">DEFA6</text>
<text x="426.6" y="120.7" font-size="7" font-style="italic" fill="#222">FRZB</text>
<text x="426.6" y="126.2" font-size="7" font-style="italic" fill="#222">SPINK4</text>
<text x="426.6" y="131.8" font-size="7" font-style="italic" fill="#222">MUC12</text>
<text x="426.6" y="141.1" font-size="7" font-style="italic" fill="#222">CD36</text>
<text x="426.6" y="146.9" font-size="7" font-style="italic" fill="#222">LBH</text>
<text x="426.6" y="152.2" font-size="7" font-style="italic" fill="#222">DKK1</text>
<text x="426.6" y="165.2" font-size="7" font-style="italic" fill="#222">TCF4</text>
<text x="426.6" y="171.4" font-size="7" font-style="italic" fill="#222">SOX2</text>
<text x="426.6" y="176.9" font-size="7" font-style="italic" fill="#222">LHFP</text>
<path d="M411.5 86L424 71.5H426M411.5 96L424 87.3H426M411.5 103.8L424 95H426M411.5 110.6L424 109.5H426M411.5 121.3L424 115.7H426M411.5 131.2L424 131H426M411.5 138.6L424 136.1H426M411.5 149L424 152.2H426M411.5 157.1L424 161.4H426M411.5 167L424 176.9H426" stroke="#555" stroke-width="0.6" fill="none"/>
<text x="229.2" y="188" font-size="7.75" font-weight="bold" fill="#111">Sample origin</text>
<text x="297.6" y="188" font-size="7.75" font-weight="bold" fill="#111">MS status</text>
<rect x="229.3" y="190.6" width="7.2" height="7.2" fill="#8A6CB4" stroke="#888" stroke-width="0.3"/>
<text x="238.3" y="197.1" font-size="7.3" fill="#222">Primary tumor</text>
<rect x="229.3" y="200.2" width="7.2" height="7.2" fill="#1A9A70" stroke="#888" stroke-width="0.3"/>
<text x="238.3" y="206.7" font-size="7.3" fill="#222">Liver metastasis</text>
<rect x="229.3" y="209.7" width="7.2" height="7.2" fill="#EE6A2A" stroke="#888" stroke-width="0.3"/>
<text x="238.3" y="216.2" font-size="7.3" fill="#222">Lung metastasis</text>
<rect x="297.6" y="190.8" width="7.6" height="6.8" fill="#1A9A70"/>
<text x="307" y="196.5" font-size="7.45" fill="#222">MSS</text>
<rect x="297.6" y="200.4" width="7.6" height="6.8" fill="#EE6A2A"/>
<text x="307" y="206.1" font-size="7.45" fill="#222">MSI</text>
<text x="341.8" y="187.2" font-size="7.6" font-weight="bold" fill="#111">Expression magnitude</text>
<text x="349.1" y="194.8" font-size="7.35" font-weight="bold" fill="#111">CPM (log<tspan font-size="5" dy="2">10</tspan><tspan dy="-2">)</tspan></text>
<defs><linearGradient id="gb" x1="0" y1="1" x2="0" y2="0"><stop offset="0" stop-color="#4575b4"/><stop offset="0.25" stop-color="#91bfdb"/><stop offset="0.5" stop-color="#ffffbf"/><stop offset="0.75" stop-color="#fc8d59"/><stop offset="1" stop-color="#e8402a"/></linearGradient></defs>
<rect x="349.1" y="196.9" width="6.2" height="27.3" fill="url(#gb)"/>
<text x="357.3" y="201.2" font-size="6.2" fill="#222">12</text>
<text x="357.3" y="209.1" font-size="6.2" fill="#222">8</text>
<text x="357.3" y="217.5" font-size="6.2" fill="#222">4</text>
<text x="357.3" y="225.1" font-size="6.2" fill="#222">0</text>
<text x="8.6" y="252.9" font-size="10.8" fill="#333">(<tspan font-weight="bold" fill="#111">c</tspan>)</text>
<text x="55.1" y="277.1" font-size="10" text-anchor="middle" fill="#222">PC1 high</text>
<text x="145.7" y="277.3" font-size="10.2" text-anchor="middle" fill="#222">PC1 low</text>
<rect x="24.7" y="285.8" width="69.7" height="5.7" fill="#54BD98"/>
<text x="89.9" y="290.4" font-size="4.9" text-anchor="end" fill="#222">HYPOXIA</text>
<rect x="46.4" y="295.3" width="48" height="5.7" fill="#54BD98"/>
<text x="89.9" y="299.9" font-size="4.9" text-anchor="end" fill="#222">TNFA_SIGNALING_VIA_NFKB</text>
<rect x="53.7" y="305.2" width="40.7" height="5.7" fill="#54BD98"/>
<text x="89.9" y="309.8" font-size="4.9" text-anchor="end" fill="#222">P53_PATHWAY</text>
<rect x="59.2" y="314.9" width="35.2" height="5.7" fill="#54BD98"/>
<text x="89.9" y="319.5" font-size="4.9" text-anchor="end" fill="#222">APOPTOSIS</text>
<rect x="71.7" y="324.4" width="22.7" height="5.7" fill="#54BD98"/>
<text x="89.9" y="329" font-size="4.9" text-anchor="end" fill="#222">EMT</text>
<rect x="71.7" y="334.1" width="22.7" height="5.7" fill="#54BD98"/>
<text x="89.9" y="338.7" font-size="4.9" text-anchor="end" fill="#222">ESTROGEN_RESPONSE_EARLY</text>
<rect x="71.7" y="343.9" width="22.7" height="5.7" fill="#54BD98"/>
<text x="89.9" y="348.5" font-size="4.9" text-anchor="end" fill="#222">GLYCOLYSIS</text>
<rect x="110.6" y="286.2" width="74.8" height="5.7" fill="#F8E37E"/>
<text x="183.2" y="290.8" font-size="4.9" text-anchor="end" fill="#222">E2F_TARGETS</text>
<rect x="134" y="296.1" width="51.4" height="5.7" fill="#F8E37E"/>
<text x="183.2" y="300.7" font-size="4.9" text-anchor="end" fill="#222">G2M_CHECKPOINT</text>
<rect x="135.7" y="306" width="49.7" height="5.7" fill="#F8E37E"/>
<text x="183.2" y="310.6" font-size="4.9" text-anchor="end" fill="#222">MYC_TARGETS_V1</text>
<rect x="171.7" y="315.8" width="13.7" height="5.7" fill="#F8E37E"/>
<text x="183.2" y="320.4" font-size="4.9" text-anchor="end" fill="#222">MITOTIC_SPINDLE</text>
<rect x="174" y="325.5" width="11.4" height="5.7" fill="#F8E37E"/>
<text x="183.2" y="330.1" font-size="4.9" text-anchor="end" fill="#222">DNA_REPAIR</text>
<rect x="175.3" y="335.2" width="10.1" height="5.7" fill="#F8E37E"/>
<text x="183.2" y="339.8" font-size="4.9" text-anchor="end" fill="#222">MTORC1_SIGNALING</text>
<rect x="177.7" y="345" width="7.7" height="5.7" fill="#F8E37E"/>
<text x="183.2" y="349.6" font-size="4.9" text-anchor="end" fill="#222">OXPHOS</text>
<path d="M13.3 282.2V353.8H94.4V282.2" stroke="#555" stroke-width="0.9" fill="none"/>
<path d="M104.8 282.2V353.8H185.4V282.2" stroke="#555" stroke-width="0.9" fill="none"/>
<path d="M13.3 353.8v1.3M16.0 353.8v1.3M18.7 353.8v1.3M21.4 353.8v1.3M24.1 353.8v1.3M26.8 353.8v1.3M29.5 353.8v1.3M32.2 353.8v1.3M34.9 353.8v1.3M37.6 353.8v1.3M40.3 353.8v1.3M43.0 353.8v1.3M45.7 353.8v1.3M48.4 353.8v1.3M51.1 353.8v1.3M53.9 353.8v1.3M56.6 353.8v1.3M59.3 353.8v1.3M62.0 353.8v1.3M64.7 353.8v1.3M67.4 353.8v1.3M70.1 353.8v1.3M72.8 353.8v1.3M75.5 353.8v1.3M78.2 353.8v1.3M80.9 353.8v1.3M83.6 353.8v1.3M86.3 353.8v1.3M89.0 353.8v1.3M91.7 353.8v1.3M94.4 353.8v1.3M104.8 353.8v1.3M106.8 353.8v1.3M108.8 353.8v1.3M110.8 353.8v1.3M112.9 353.8v1.3M114.9 353.8v1.3M116.9 353.8v1.3M118.9 353.8v1.3M120.9 353.8v1.3M122.9 353.8v1.3M125.0 353.8v1.3M127.0 353.8v1.3M129.0 353.8v1.3M131.0 353.8v1.3M133.0 353.8v1.3M135.0 353.8v1.3M137.0 353.8v1.3M139.1 353.8v1.3M141.1 353.8v1.3M143.1 353.8v1.3M145.1 353.8v1.3M147.1 353.8v1.3M149.1 353.8v1.3M151.1 353.8v1.3M153.2 353.8v1.3M155.2 353.8v1.3M157.2 353.8v1.3M159.2 353.8v1.3M161.2 353.8v1.3M163.2 353.8v1.3M165.2 353.8v1.3M167.3 353.8v1.3M169.3 353.8v1.3M171.3 353.8v1.3M173.3 353.8v1.3M175.3 353.8v1.3M177.3 353.8v1.3M179.4 353.8v1.3M181.4 353.8v1.3M183.4 353.8v1.3M185.4 353.8v1.3" stroke="#555" stroke-width="0.4"/>
<text x="10.3" y="359.9" font-size="4.8" fill="#333">10<tspan font-size="2.8" dy="-1.8">−30</tspan></text>
<text x="37.3" y="359.9" font-size="4.8" fill="#333">10<tspan font-size="2.8" dy="-1.8">−20</tspan></text>
<text x="64.4" y="359.9" font-size="4.8" fill="#333">10<tspan font-size="2.8" dy="-1.8">−10</tspan></text>
<text x="91.4" y="359.9" font-size="4.8" fill="#333">10<tspan font-size="2.8" dy="-1.8">0</tspan></text>
<text x="101.8" y="359.9" font-size="4.8" fill="#333">10<tspan font-size="2.8" dy="-1.8">−40</tspan></text>
<text x="122" y="359.9" font-size="4.8" fill="#333">10<tspan font-size="2.8" dy="-1.8">−30</tspan></text>
<text x="142.1" y="359.9" font-size="4.8" fill="#333">10<tspan font-size="2.8" dy="-1.8">−20</tspan></text>
<text x="162.3" y="359.9" font-size="4.8" fill="#333">10<tspan font-size="2.8" dy="-1.8">−10</tspan></text>
<text x="182.4" y="359.9" font-size="4.8" fill="#333">10<tspan font-size="2.8" dy="-1.8">0</tspan></text>
<text x="55.8" y="375.6" font-size="10.3" fill="#222">FDR q value (log<tspan font-size="6.5" dy="2.5">10</tspan><tspan dy="-2.5">)</tspan></text>
<defs><linearGradient id="gdc" gradientUnits="userSpaceOnUse" x1="0" y1="249" x2="0" y2="264.6"><stop offset="0" stop-color="#9a9a9a"/><stop offset="0.3" stop-color="#5a5a5a"/><stop offset="0.55" stop-color="#1c1c1c"/><stop offset="1" stop-color="#080808"/></linearGradient></defs>
<polygon points="230.8,256.8 240,255.6 250,254.5 260,253.4 270,252.5 280,251.7 290,251 300,250.4 315,249.8 330,250.2 340,250.9 352,252 365,253.7 378,255.2 390,257 400,258.8 406,260.2 410.8,262.2 410.8,264.6 230.8,264.6" fill="url(#gdc)"/>
<path d="M396.6 263.9v0.3M246.0 258.6v1.3M325.9 251.1v0.9M310.6 251.5v1.4M235.4 257.0v1.9M306.4 253.4v2.0M295.3 251.3v2.1M336.5 254.7v1.7M404.8 262.3v1.9M297.0 254.1v1.8M287.3 252.0v1.4M359.5 256.6v1.4M346.0 252.8v0.9M288.9 256.0v0.9M251.5 255.2v0.6M280.3 255.2v2.1M290.2 253.4v1.1M285.6 256.0v1.6M277.3 252.8v2.1M357.6 257.8v1.0M328.6 255.7v1.7M400.2 260.1v2.5M241.0 258.2v0.5M375.9 259.2v2.4M375.1 260.6v1.6M405.4 262.5v0.9M244.6 258.1v0.9M249.5 257.9v0.8M328.3 255.1v1.0M306.5 255.6v1.4M292.4 256.2v2.1M391.2 261.4v1.3M355.1 257.4v1.8M273.7 254.2v1.3M369.1 257.7v1.6M379.0 256.3v1.8M290.5 254.5v2.2M275.5 257.8v0.7M331.6 253.7v1.0M331.4 253.3v1.4M359.6 253.3v1.3M371.6 255.6v2.2M267.4 256.9v0.8M311.4 252.7v0.7M356.2 255.6v1.9M327.5 253.6v1.6M284.3 256.8v0.7M387.9 261.9v1.5M370.1 258.4v1.7M283.2 253.6v1.2M285.1 257.1v1.2M300.4 253.1v2.1M316.5 253.3v1.0M280.8 252.5v0.9M278.2 257.0v1.5M250.8 257.4v0.7M332.3 253.2v2.2M277.4 257.1v1.0M375.5 256.8v1.2M257.2 258.8v0.7M363.1 256.0v1.9M283.5 252.2v2.3M348.2 252.9v2.5M394.2 259.1v0.5M340.4 252.0v2.0M314.9 254.1v1.6M369.0 259.1v1.7M336.9 252.8v0.8M247.6 260.0v0.9M307.4 252.2v1.7M326.5 255.3v1.4M295.8 254.7v2.0M396.7 260.3v2.3M299.0 255.2v2.2M238.1 258.4v1.9M366.7 257.2v0.9M303.8 250.9v1.1M307.5 255.1v1.7M305.2 251.9v1.1M351.1 254.8v0.8M378.1 258.8v2.4M327.0 254.0v1.4M339.9 256.4v2.5M349.3 254.5v0.6M381.4 258.2v1.3M241.2 256.0v1.3M350.7 253.7v0.8M338.8 251.5v1.7M323.1 253.4v0.7M243.1 258.3v0.8M345.8 253.5v1.7M365.3 257.5v1.6M266.3 255.1v2.5M279.1 253.7v1.5M328.7 255.0v1.1M403.3 260.0v2.1M333.0 255.8v0.8M354.4 258.0v1.8M251.1 259.9v2.4M250.8 259.4v0.7M245.6 259.8v1.9M402.3 263.2v1.0M279.7 255.3v2.5M346.8 256.8v0.9M362.6 257.9v0.6M377.8 256.5v0.9M242.0 259.5v0.8M405.6 260.4v2.1M366.9 257.5v1.6M373.8 258.6v0.8M373.6 257.0v1.7M322.7 255.5v1.3M383.8 256.8v1.2M351.0 255.7v2.2M268.2 257.5v2.1M256.6 254.9v1.7M405.6 263.9v0.3M321.7 254.9v1.5M327.1 253.8v2.4M374.3 259.9v1.0M338.4 255.8v1.9M322.0 252.3v0.9M320.6 255.9v2.0M248.7 256.4v1.2M389.4 259.8v0.8M329.5 251.9v0.6M337.1 256.6v2.1M362.8 254.6v1.6M345.0 256.0v1.4M240.5 261.1v1.0M363.2 256.4v2.1M291.5 251.7v1.4M316.9 254.7v1.3M350.3 254.3v2.0M262.2 258.5v2.4M235.2 261.4v2.1M355.0 253.3v2.0M369.1 258.0v2.4M400.5 262.8v1.4M256.7 255.8v1.6M324.6 255.8v1.8M342.2 254.9v2.4M302.7 254.8v1.7M303.0 252.5v0.8M233.0 258.7v1.1M245.5 258.1v1.2M396.8 263.0v1.2M382.6 257.8v0.7M340.1 252.5v2.5M307.1 255.5v1.0M247.8 258.6v1.9M276.8 257.5v2.4M354.0 258.2v2.5M257.5 258.1v2.0M362.0 255.5v1.6M336.3 255.8v0.6M298.2 252.6v2.1M251.9 254.9v0.7M251.8 257.1v2.2M294.6 251.6v1.8M290.5 254.5v2.0M312.6 254.4v1.7M383.5 260.7v2.3M364.6 255.6v1.5M369.2 259.0v2.0M381.9 260.8v1.6M345.7 252.0v1.5M361.1 258.7v2.2M309.6 251.6v2.3M348.7 253.1v0.6M388.2 260.3v0.7M375.3 256.7v1.5M261.8 257.0v1.4M372.4 255.5v0.9M300.3 250.7v1.3M379.9 257.1v1.0M345.1 253.3v0.9M246.3 256.2v0.9M394.2 258.3v1.6M269.0 257.0v0.5M297.5 255.1v0.6M304.6 252.4v1.5M343.5 252.0v2.2M279.3 256.5v0.8M247.8 256.1v0.7M275.4 253.2v0.7M383.5 259.3v1.5M322.0 254.9v0.6M239.1 259.8v0.5M321.5 253.8v2.2M231.1 259.3v1.1M334.8 251.0v2.0M402.3 262.8v1.4M380.5 260.7v2.1M318.2 250.7v2.1M382.0 260.1v1.1M405.5 263.9v0.3M371.7 256.1v1.0M393.0 258.2v2.2M302.0 253.9v1.9M392.6 259.0v0.7M322.7 251.6v1.3M250.7 255.2v1.6M240.3 257.4v1.3M248.0 259.6v2.3M236.7 260.9v0.9M361.6 253.9v2.0M397.9 260.2v0.8M291.9 256.1v2.1M259.1 258.9v2.0M361.2 253.6v0.9M327.0 251.8v0.9M295.0 253.6v2.3M335.0 254.0v1.9M264.7 257.9v2.0M376.8 257.9v1.6M244.4 258.0v1.8M366.4 259.0v2.4M352.8 254.3v2.2M233.9 259.9v1.4M389.0 260.7v0.9M260.6 253.8v2.0M371.2 256.8v0.9M330.8 251.7v1.6M292.5 253.0v1.9M275.5 254.2v1.6M399.6 259.9v1.1M279.8 253.8v1.5M377.8 256.5v1.9M308.3 253.6v1.5M338.9 252.1v1.7M303.0 255.1v1.7M304.0 256.2v0.9M233.5 257.5v1.9M247.4 259.3v0.7M284.2 255.3v0.5M308.5 256.1v2.0M300.7 255.9v1.6M376.2 257.2v1.3M356.4 257.2v1.9M257.9 256.3v1.1M272.4 253.3v2.0M256.3 256.1v0.5M357.2 256.5v0.7M375.2 259.2v0.5M279.9 253.4v0.5M345.3 255.1v1.2M364.9 255.3v1.1M251.6 256.0v2.2M318.7 254.4v2.2M350.3 254.2v2.4M245.3 257.7v2.3M353.1 254.5v2.2M366.7 258.3v1.0M352.7 256.1v2.2M322.8 255.6v1.9M268.5 256.2v0.9M341.5 253.2v2.5M292.3 255.7v2.2M297.8 254.2v1.0M298.2 253.3v1.9M322.0 251.2v1.8M323.4 253.3v1.4M386.2 260.5v1.8M320.7 252.5v1.4M352.5 254.9v0.6M270.5 253.1v0.6M295.3 253.1v1.4M267.0 254.4v1.4M283.0 253.3v1.5M367.7 254.7v0.5M311.2 255.3v1.8M296.3 256.5v1.9M378.8 260.4v0.6M265.9 257.7v1.3M392.2 258.1v2.4M342.1 253.7v2.2M326.9 253.0v0.9M371.3 255.6v1.1M246.8 255.2v1.1M238.9 258.7v1.2M234.2 259.3v1.1M272.4 255.7v1.2M240.7 261.1v2.4M273.4 256.3v1.7M275.5 255.4v1.0M280.3 254.6v0.6M272.2 258.2v2.0M290.3 257.0v1.2" stroke="#b0b0b0" stroke-width="0.4" fill="none"/>
<path d="M383.4 259.2v3.7M311.9 257.8v1.4M301.6 253.8v3.3M385.9 258.0v2.2M261.9 254.3v1.4M244.2 258.2v2.3M392.9 263.6v0.9M290.2 254.2v2.2M272.7 253.0v1.8M397.2 259.2v2.5M272.5 259.3v1.1M322.3 256.7v2.4M256.7 261.8v1.1M385.9 260.0v2.9M315.1 255.3v2.1M384.0 259.2v2.7M243.2 256.2v3.7M294.8 254.4v4.0M360.3 254.9v2.6M317.5 255.5v1.8M280.3 260.2v2.8M329.6 256.6v3.3M263.0 260.3v2.4M257.9 256.8v4.0M382.3 264.0v0.5M344.9 255.2v3.2M326.9 253.7v3.9M320.7 250.8v3.4M248.2 257.6v2.4M268.9 256.9v2.3M325.9 256.1v3.1M240.0 258.1v1.3M290.6 255.3v3.6M233.5 263.8v0.7M363.6 261.2v3.3M334.0 251.5v1.9M309.0 256.3v3.9M387.9 257.7v1.4M347.6 253.9v2.8M322.1 255.1v2.0M393.9 260.7v2.1M259.9 256.4v1.4M345.4 252.1v1.7M375.6 262.7v1.8M362.5 260.8v3.0M342.2 258.0v2.0M290.2 253.7v1.7M322.9 255.1v1.6M246.3 255.6v1.6M258.9 259.3v3.4M326.7 256.1v2.3M244.3 262.0v2.5M257.4 256.8v3.0M357.3 254.6v2.2M300.0 255.5v3.5M257.2 257.4v3.8M262.8 255.2v3.4M342.7 255.7v2.4M242.2 261.3v1.8M310.0 258.4v2.5M301.7 253.8v1.9M341.6 257.6v1.3M231.8 260.5v1.5M338.2 252.6v2.5M316.0 258.6v2.0M277.9 255.2v3.0M274.0 254.7v3.1M325.8 251.2v3.5M253.7 257.1v2.6M312.7 256.9v1.4M348.2 253.7v1.3M356.1 259.6v1.3M237.0 258.2v2.7M363.8 260.9v2.2M376.9 257.1v3.3M333.9 258.2v3.4M371.9 262.3v1.8M236.6 258.0v3.2M323.7 254.7v2.4M335.8 255.3v3.7M315.6 254.9v3.4M257.5 261.2v2.9M290.5 252.7v2.5M283.5 252.0v3.5M364.9 261.8v2.7M303.7 258.5v1.7M277.1 256.4v3.0M248.8 255.6v3.8M233.5 263.3v1.2M328.9 256.6v1.8M374.2 259.8v1.2M249.4 257.1v3.9M377.0 258.1v2.3M325.6 252.0v2.7M243.8 260.1v1.3M238.0 262.8v1.7M259.6 257.3v3.7M295.6 253.5v2.4M391.3 263.0v1.5M343.4 254.7v3.8M279.7 254.1v2.5M374.4 261.8v2.7M231.4 264.0v0.5M253.5 256.3v1.7M254.3 255.8v2.5M355.4 256.9v2.6M354.0 259.8v3.9M357.4 257.4v1.2M283.7 253.6v3.9M361.3 254.8v2.0M306.5 256.0v3.9M290.6 257.4v2.2M392.9 262.3v2.2M335.4 257.2v3.3M300.9 254.7v2.9M358.9 258.4v2.1M318.5 254.7v2.1M288.5 252.2v1.2M258.9 254.8v2.1M404.5 263.7v0.8M354.2 260.7v3.0M348.1 260.2v4.0M325.0 253.4v2.8M355.8 253.8v3.4M231.7 260.5v3.5M312.4 254.0v2.4M323.5 252.4v2.1M316.8 250.5v2.7M242.5 260.6v1.2M264.1 257.4v3.3M308.9 254.9v2.6M354.5 258.9v3.7M397.5 262.2v2.2M273.1 254.4v3.6M363.8 261.1v2.0M367.7 254.6v2.5M286.9 254.3v4.0M329.7 255.6v2.9M277.8 257.5v1.5M236.8 262.6v1.1M395.9 260.5v3.7M286.0 257.9v2.0M355.3 254.5v1.7M278.8 260.6v3.7M300.2 259.0v3.8M256.5 259.5v1.6M292.7 253.9v1.7M336.0 253.0v2.0M256.2 256.6v3.3M282.4 260.3v1.3M236.0 258.7v2.5M286.6 255.1v3.2M349.6 254.3v3.6M295.6 256.0v2.1M366.5 259.3v2.5M261.9 254.4v1.8M244.0 257.4v3.8M254.0 258.1v1.2M319.8 253.4v4.0M351.6 256.4v3.3M237.1 257.9v3.5M323.6 256.3v2.8M381.6 258.4v1.5M282.8 259.4v2.5M367.7 261.1v2.0M362.9 260.6v2.5M325.1 254.6v2.4M268.7 258.0v3.6M276.6 256.0v2.1M284.0 259.8v3.2M246.5 259.8v2.0M296.4 252.1v2.8M295.3 256.9v1.4M323.7 254.3v2.9M242.2 262.6v1.9M276.0 253.9v3.4M233.3 262.0v1.9M292.4 259.6v1.4M264.0 253.6v2.1M244.6 256.0v3.1M400.1 260.8v2.8M403.4 261.6v1.5M321.4 250.9v2.7M380.3 263.5v1.0M330.6 255.0v2.4" stroke="#111" stroke-width="0.5" fill="none"/>
<path d="M313 249.2H330M313 249.2V250.5M330 249.2V250.5" stroke="#777" stroke-width="0.5" fill="none"/>
<path d="M230.6 270.9h1M231.6 270.9h1M241.1 270.9h1M250.6 270.9h1.5M253.6 270.9h1.5M263.1 270.9h1.5M273.1 270.9h1.5M302.1 270.9h1M303.1 270.9h1.5M306.6 270.9h1M313.1 270.9h1M324.1 270.9h1M326.1 270.9h1.5M333.1 270.9h1M334.1 270.9h1M346.6 270.9h1M352.6 270.9h1.5M365.6 270.9h1M366.6 270.9h1M377.1 270.9h1.5M384.6 270.9h1M394.6 270.9h1M398.6 270.9h1M402.6 270.9h1M404.6 270.9h1.5" stroke="#ece2a8" stroke-width="5.4" fill="none"/>
<path d="M232.6 270.9h1M275.6 270.9h1M315.1 270.9h1.5M325.1 270.9h1M328.6 270.9h1.5M332.1 270.9h1M362.1 270.9h1M373.6 270.9h1.5M378.6 270.9h1M401.6 270.9h1M410.6 270.9h1" stroke="#c8bcd8" stroke-width="5.4" fill="none"/>
<path d="M233.6 270.9h1M258.6 270.9h1.5M264.6 270.9h1M270.1 270.9h1M281.6 270.9h1M283.6 270.9h1M297.6 270.9h1M309.6 270.9h1.5M316.6 270.9h1.5M351.6 270.9h1M363.1 270.9h1.5M387.6 270.9h1M391.6 270.9h1" stroke="#e8b4bc" stroke-width="5.4" fill="none"/>
<path d="M234.6 270.9h1.5M238.6 270.9h1.5M240.1 270.9h1M261.1 270.9h1M262.1 270.9h1M279.6 270.9h1M295.1 270.9h1M300.6 270.9h1.5M304.6 270.9h1M318.1 270.9h1.5M335.1 270.9h1.5M339.6 270.9h1M341.6 270.9h1M347.6 270.9h1M348.6 270.9h1.5M356.1 270.9h1M369.6 270.9h1M370.6 270.9h1M375.1 270.9h1M376.1 270.9h1M383.6 270.9h1M389.6 270.9h1M408.6 270.9h1" stroke="#f0c4a4" stroke-width="5.4" fill="none"/>
<path d="M236.1 270.9h1M242.1 270.9h1M243.1 270.9h1M244.1 270.9h1M260.1 270.9h1M266.6 270.9h1M272.1 270.9h1M292.6 270.9h1.5M296.1 270.9h1.5M299.6 270.9h1M327.6 270.9h1M330.1 270.9h1M338.6 270.9h1M342.6 270.9h1M355.1 270.9h1M358.1 270.9h1M385.6 270.9h1M392.6 270.9h1" stroke="#d8d0d0" stroke-width="5.4" fill="none"/>
<path d="M237.1 270.9h1.5M245.1 270.9h1M246.1 270.9h1M248.1 270.9h1.5M252.1 270.9h1.5M256.1 270.9h1M298.6 270.9h1M319.6 270.9h1.5M344.6 270.9h1M354.1 270.9h1M364.6 270.9h1M368.6 270.9h1M372.6 270.9h1M381.6 270.9h1M396.6 270.9h1M397.6 270.9h1M399.6 270.9h1M406.1 270.9h1.5" stroke="#f2d8b0" stroke-width="5.4" fill="none"/>
<path d="M247.1 270.9h1M257.1 270.9h1.5M289.1 270.9h1M314.1 270.9h1M323.1 270.9h1M331.1 270.9h1M350.1 270.9h1.5M357.1 270.9h1M367.6 270.9h1M371.6 270.9h1M379.6 270.9h1M380.6 270.9h1M393.6 270.9h1M395.6 270.9h1M400.6 270.9h1M403.6 270.9h1" stroke="#b4c6dc" stroke-width="5.4" fill="none"/>
<path d="M249.6 270.9h1M255.1 270.9h1M267.6 270.9h1M271.1 270.9h1M276.6 270.9h1.5M280.6 270.9h1M282.6 270.9h1M286.6 270.9h1.5M288.1 270.9h1M307.6 270.9h1M308.6 270.9h1M311.1 270.9h1M321.1 270.9h1M343.6 270.9h1M345.6 270.9h1M360.6 270.9h1.5M382.6 270.9h1" stroke="#b8d2bc" stroke-width="5.4" fill="none"/>
<path d="M265.6 270.9h1M268.6 270.9h1.5M274.6 270.9h1M278.1 270.9h1.5M284.6 270.9h1M285.6 270.9h1M290.1 270.9h1.5M291.6 270.9h1M294.1 270.9h1M305.6 270.9h1M312.1 270.9h1M322.1 270.9h1M336.6 270.9h1M337.6 270.9h1M340.6 270.9h1M359.1 270.9h1.5M386.6 270.9h1M388.6 270.9h1M390.6 270.9h1M407.6 270.9h1M409.6 270.9h1" stroke="#e2bcd8" stroke-width="5.4" fill="none"/>
<text x="412.6" y="273.1" font-size="8.1" fill="#111">Patient</text>
<polygon points="204.6,277.8 218.6,277.8 218.6,360.3 213,360.3 206,325 205,321.5 204.6,300" fill="#a4a4a4"/>
<polygon points="205,278.5 208.5,278.5 207.5,292 205,296" fill="#f0f0f0"/>
<path d="M212.5 278.5H218.6M208.4 279.5H218.6M207.3 280.5H218.6M207.6 281.5H218.6M213.8 282.5H218.6M211.6 283.5H218.6M213.5 284.5H218.6M209.6 285.5H218.6M212.4 286.5H218.6M211.4 287.5H218.6M212.8 288.5H218.6M211.9 289.5H218.6M213.5 290.5H218.6M207.5 291.5H218.6M209.8 292.5H218.6M210.2 293.5H218.6M209.7 294.5H218.6M209.3 295.5H218.6M213.3 296.5H218.6M209.2 297.5H218.6M210.6 298.5H218.6M211.8 299.5H218.6M213.1 300.5H218.6M210.5 301.5H218.6M207.3 302.5H218.6M209.3 303.5H218.6M210.3 304.5H218.6M210.8 305.5H218.6M213.9 306.5H218.6M210.7 307.5H218.6M209.0 308.5H218.6M208.2 309.5H218.6M209.8 310.5H218.6M210.0 311.5H218.6M208.4 312.5H218.6M213.5 313.5H218.6M211.1 314.5H218.6M212.0 315.5H218.6M209.1 316.5H218.6M212.2 317.5H218.6M213.4 318.5H218.6M209.4 319.5H218.6M211.9 320.5H218.6M213.2 321.5H218.6M213.1 322.5H218.6M208.0 323.5H218.6M211.6 324.5H218.6M213.5 325.5H218.6M210.5 326.5H218.6M207.2 327.5H218.6M211.2 328.5H218.6M210.0 329.5H218.6M207.2 330.5H218.6M207.0 331.5H218.6M211.4 332.5H218.6M210.8 333.5H218.6M212.4 334.5H218.6M211.9 335.5H218.6M207.5 336.5H218.6M213.7 337.5H218.6M211.4 338.5H218.6M212.5 339.5H218.6M213.9 340.5H218.6M212.5 341.5H218.6M213.4 342.5H218.6M211.0 343.5H218.6M210.2 344.5H218.6M212.6 345.5H218.6M209.9 346.5H218.6M212.4 347.5H218.6M213.3 348.5H218.6M207.5 349.5H218.6M207.4 350.5H218.6M207.3 351.5H218.6M210.4 352.5H218.6M208.0 353.5H218.6M210.8 354.5H218.6M207.8 355.5H218.6M213.3 356.5H218.6M213.9 357.5H218.6M213.1 358.5H218.6M214.0 359.5H218.6" stroke="#a8a8a8" stroke-width="0.35" fill="none"/>
<path d="M206.9 279.0l0.6 1.2M207.0 280.9l0.2 2.0M206.0 283.5l-0.0 2.7M207.0 285.8l0.8 1.2M206.0 289.0l-0.2 1.3M206.2 292.9l0.0 2.3M206.0 296.5l-0.1 1.9M207.2 298.0l-0.2 2.2M206.4 301.2l-0.4 1.0M205.7 304.4l-0.4 1.3M206.2 306.0l0.1 1.4M205.1 307.9l0.5 2.4M207.1 310.1l0.8 1.5M207.1 311.1l0.1 1.2M206.3 312.9l-0.1 2.1M206.6 314.4l-0.1 2.3M206.6 316.6l0.1 1.2M206.3 319.9l-0.3 2.7M206.1 323.8l-0.4 2.5M206.5 327.0l0.0 2.9M207.7 329.6l-0.2 2.4M207.6 333.5l0.3 2.3M210.2 334.7l0.3 1.1M209.3 337.8l0.3 1.1M210.3 339.3l0.0 2.7M210.1 340.7l0.8 2.0M210.1 343.9l0.2 1.5M210.4 345.0l0.2 1.4M211.2 346.1l0.1 3.0M212.4 347.4l0.4 2.9M211.9 350.8l0.5 2.7M212.9 354.3l-0.4 2.7M213.7 357.7l-0.4 2.3" stroke="#111" stroke-width="0.7" fill="none"/>
<rect x="221.6" y="277.8" width="5.6" height="41" fill="#54BD98"/>
<rect x="221.6" y="318.8" width="5.6" height="41.5" fill="#F6EA8E"/>
<path d="M230.5 277.7h1.5M236.5 277.7h6M251.6 277.7h3M257.6 277.7h1.5M263.6 277.7h1.5M286.2 277.7h1.5M290.7 277.7h3M299.7 277.7h1.5M305.7 277.7h1.5M308.7 277.7h1.5M320.8 277.7h3M335.8 277.7h1.5M343.3 277.7h1.5M352.3 277.7h1.5M355.3 277.7h4.5M370.4 277.7h1.5M376.4 277.7h1.5M380.9 277.7h1.5M385.4 277.7h1.5M400.5 277.7h1.5M406.5 277.7h1.5M283.1 278.7h1.5M293.7 278.7h1.5M308.7 278.7h1.5M331.3 278.7h1.5M343.3 278.7h1.5M359.9 278.7h1.5M373.4 278.7h1.5M386.9 278.7h1.5M394.5 278.7h1.5M405 278.7h1.5M248.6 279.7h1.5M376.4 279.7h1.5M405 279.7h1.5M259.1 280.7h1.5M274.1 280.7h1.5M280.1 280.7h1.5M296.7 280.7h1.5M314.7 280.7h1.5M332.8 280.7h1.5M338.8 280.7h3M343.3 280.7h1.5M359.9 280.7h3M376.4 280.7h1.5M386.9 280.7h1.5M397.5 280.7h1.5M403.5 280.7h1.5M406.5 280.7h1.5M247 281.7h1.5M322.3 281.7h1.5M325.3 281.7h1.5M352.3 281.7h1.5M396 281.7h1.5M402 281.7h1.5M409.5 281.7h1.5M248.6 282.7h1.5M257.6 282.7h1.5M260.6 282.7h1.5M263.6 282.7h3M295.2 282.7h3M308.7 282.7h1.5M317.7 282.7h1.5M322.3 282.7h3M334.3 282.7h1.5M343.3 282.7h1.5M349.3 282.7h3M355.3 282.7h1.5M364.4 282.7h1.5M368.9 282.7h1.5M376.4 282.7h1.5M386.9 282.7h1.5M389.9 282.7h1.5M396 282.7h1.5M235 283.7h1.5M257.6 283.7h1.5M260.6 283.7h1.5M289.2 283.7h1.5M302.7 283.7h1.5M311.7 283.7h1.5M323.8 283.7h1.5M338.8 283.7h1.5M350.8 283.7h1.5M356.9 283.7h1.5M361.4 283.7h1.5M367.4 283.7h1.5M370.4 283.7h1.5M374.9 283.7h3M382.4 283.7h1.5M399 283.7h1.5M405 283.7h1.5M232 284.7h1.5M250.1 284.7h1.5M254.6 284.7h3M262.1 284.7h4.5M280.1 284.7h1.5M293.7 284.7h3M298.2 284.7h1.5M302.7 284.7h1.5M305.7 284.7h1.5M308.7 284.7h1.5M322.3 284.7h1.5M331.3 284.7h1.5M353.8 284.7h1.5M379.4 284.7h1.5M383.9 284.7h1.5M406.5 284.7h4.5M245.5 285.7h1.5M251.6 285.7h1.5M256.1 285.7h1.5M286.2 285.7h3M319.2 285.7h1.5M322.3 285.7h1.5M326.8 285.7h3M347.8 285.7h1.5M352.3 285.7h1.5M359.9 285.7h1.5M364.4 285.7h1.5M380.9 285.7h1.5M386.9 285.7h1.5M403.5 285.7h1.5M408 285.7h1.5M260.6 286.7h1.5M283.1 286.7h1.5M289.2 286.7h1.5M337.3 286.7h3M343.3 286.7h1.5M355.3 286.7h1.5M402 286.7h1.5M256.1 287.7h1.5M260.6 287.7h3M274.1 287.7h1.5M278.6 287.7h1.5M299.7 287.7h1.5M310.2 287.7h1.5M314.7 287.7h1.5M320.8 287.7h1.5M323.8 287.7h3M341.8 287.7h1.5M344.8 287.7h1.5M352.3 287.7h1.5M355.3 287.7h3M368.9 287.7h1.5M374.9 287.7h1.5M383.9 287.7h1.5M245.5 288.7h1.5M256.1 288.7h3M278.6 288.7h1.5M281.6 288.7h1.5M284.6 288.7h1.5M302.7 288.7h1.5M311.7 288.7h1.5M320.8 288.7h1.5M343.3 288.7h1.5M359.9 288.7h1.5M362.9 288.7h1.5M370.4 288.7h1.5M383.9 288.7h1.5M388.4 288.7h1.5M391.4 288.7h1.5M396 288.7h1.5M406.5 288.7h3M238 289.7h3M244 289.7h1.5M274.1 289.7h1.5M281.6 289.7h6M289.2 289.7h3M296.7 289.7h1.5M299.7 289.7h1.5M305.7 289.7h4.5M314.7 289.7h1.5M317.7 289.7h1.5M338.8 289.7h1.5M344.8 289.7h1.5M353.8 289.7h1.5M377.9 289.7h1.5M389.9 289.7h1.5M409.5 289.7h1.5M233.5 290.7h1.5M239.5 290.7h3M245.5 290.7h1.5M251.6 290.7h1.5M254.6 290.7h1.5M260.6 290.7h1.5M277.1 290.7h1.5M281.6 290.7h1.5M293.7 290.7h1.5M301.2 290.7h1.5M311.7 290.7h1.5M323.8 290.7h1.5M337.3 290.7h3M347.8 290.7h3M355.3 290.7h1.5M365.9 290.7h1.5M371.9 290.7h1.5M383.9 290.7h1.5M386.9 290.7h4.5M397.5 290.7h3M406.5 290.7h3M244 291.7h1.5M250.1 291.7h1.5M256.1 291.7h1.5M260.6 291.7h1.5M265.1 291.7h1.5M268.1 291.7h1.5M275.6 291.7h1.5M293.7 291.7h3M299.7 291.7h1.5M305.7 291.7h1.5M310.2 291.7h1.5M313.2 291.7h3M325.3 291.7h1.5M331.3 291.7h1.5M337.3 291.7h1.5M347.8 291.7h1.5M350.8 291.7h1.5M373.4 291.7h1.5M376.4 291.7h3M389.9 291.7h1.5M392.9 291.7h1.5M253.1 292.7h1.5M289.2 292.7h1.5M296.7 292.7h1.5M313.2 292.7h3M322.3 292.7h1.5M328.3 292.7h1.5M332.8 292.7h3M347.8 292.7h1.5M352.3 292.7h3M370.4 292.7h1.5M386.9 292.7h1.5M389.9 292.7h1.5M400.5 292.7h1.5M405 292.7h1.5M238 293.7h1.5M242.5 293.7h1.5M245.5 293.7h3M253.1 293.7h1.5M257.6 293.7h3M262.1 293.7h1.5M268.1 293.7h1.5M274.1 293.7h3M298.2 293.7h1.5M305.7 293.7h1.5M308.7 293.7h1.5M323.8 293.7h1.5M329.8 293.7h3M335.8 293.7h1.5M343.3 293.7h3M347.8 293.7h1.5M355.3 293.7h1.5M359.9 293.7h1.5M364.4 293.7h1.5M368.9 293.7h3M377.9 293.7h4.5M397.5 293.7h4.5M403.5 293.7h1.5M408 293.7h1.5M244 294.7h1.5M247 294.7h1.5M250.1 294.7h1.5M253.1 294.7h1.5M256.1 294.7h1.5M262.1 294.7h3M269.6 294.7h1.5M278.6 294.7h1.5M289.2 294.7h1.5M295.2 294.7h1.5M298.2 294.7h1.5M301.2 294.7h1.5M331.3 294.7h1.5M343.3 294.7h1.5M361.4 294.7h1.5M368.9 294.7h1.5M376.4 294.7h3M385.4 294.7h3M389.9 294.7h4.5M397.5 294.7h1.5M408 294.7h3M280.1 295.7h1.5M283.1 295.7h1.5M289.2 295.7h1.5M326.8 295.7h1.5M347.8 295.7h1.5M352.3 295.7h1.5M356.9 295.7h1.5M376.4 295.7h1.5M389.9 295.7h1.5M392.9 295.7h3M406.5 295.7h1.5M409.5 295.7h1.5M230.5 296.7h3M250.1 296.7h1.5M254.6 296.7h1.5M257.6 296.7h1.5M260.6 296.7h1.5M278.6 296.7h3M283.1 296.7h1.5M289.2 296.7h1.5M295.2 296.7h1.5M298.2 296.7h1.5M305.7 296.7h3M320.8 296.7h1.5M338.8 296.7h1.5M350.8 296.7h3M358.4 296.7h1.5M365.9 296.7h1.5M374.9 296.7h1.5M377.9 296.7h1.5M406.5 296.7h1.5M241 297.7h1.5M251.6 297.7h1.5M263.6 297.7h1.5M289.2 297.7h1.5M299.7 297.7h1.5M310.2 297.7h1.5M332.8 297.7h1.5M367.4 297.7h1.5M385.4 297.7h1.5M399 297.7h1.5M238 298.7h1.5M242.5 298.7h3M250.1 298.7h1.5M254.6 298.7h3M259.1 298.7h1.5M269.6 298.7h1.5M278.6 298.7h1.5M283.1 298.7h3M287.7 298.7h1.5M295.2 298.7h1.5M316.2 298.7h1.5M323.8 298.7h1.5M326.8 298.7h1.5M332.8 298.7h1.5M338.8 298.7h1.5M346.3 298.7h1.5M353.8 298.7h3M365.9 298.7h3M373.4 298.7h1.5M380.9 298.7h1.5M385.4 298.7h4.5M392.9 298.7h1.5M405 298.7h1.5M232 299.7h1.5M239.5 299.7h1.5M247 299.7h1.5M256.1 299.7h1.5M274.1 299.7h1.5M289.2 299.7h1.5M295.2 299.7h1.5M304.2 299.7h1.5M314.7 299.7h1.5M320.8 299.7h1.5M329.8 299.7h1.5M338.8 299.7h3M349.3 299.7h3M358.4 299.7h3M364.4 299.7h1.5M373.4 299.7h3M383.9 299.7h1.5M391.4 299.7h1.5M396 299.7h1.5M399 299.7h1.5M405 299.7h1.5M408 299.7h1.5M230.5 300.7h1.5M236.5 300.7h3M247 300.7h1.5M251.6 300.7h1.5M260.6 300.7h1.5M268.1 300.7h1.5M271.1 300.7h1.5M280.1 300.7h1.5M287.7 300.7h1.5M293.7 300.7h1.5M299.7 300.7h3M308.7 300.7h1.5M313.2 300.7h1.5M322.3 300.7h1.5M329.8 300.7h3M361.4 300.7h1.5M377.9 300.7h1.5M383.9 300.7h1.5M386.9 300.7h3M392.9 300.7h1.5M402 300.7h1.5M230.5 301.7h1.5M248.6 301.7h1.5M271.1 301.7h1.5M280.1 301.7h1.5M307.2 301.7h1.5M332.8 301.7h1.5M338.8 301.7h1.5M343.3 301.7h1.5M350.8 301.7h1.5M353.8 301.7h1.5M391.4 301.7h1.5M405 301.7h1.5M235 302.7h1.5M238 302.7h1.5M308.7 302.7h1.5M314.7 302.7h1.5M344.8 302.7h1.5M359.9 302.7h1.5M373.4 302.7h1.5M379.4 302.7h1.5M383.9 302.7h1.5M394.5 302.7h1.5M403.5 302.7h1.5M238 303.7h1.5M256.1 303.7h1.5M259.1 303.7h1.5M269.6 303.7h1.5M280.1 303.7h1.5M290.7 303.7h1.5M296.7 303.7h1.5M304.2 303.7h1.5M311.7 303.7h1.5M317.7 303.7h1.5M322.3 303.7h1.5M329.8 303.7h1.5M340.3 303.7h1.5M355.3 303.7h1.5M367.4 303.7h1.5M370.4 303.7h1.5M380.9 303.7h1.5M394.5 303.7h1.5M397.5 303.7h1.5M400.5 303.7h1.5M408 303.7h1.5M233.5 304.7h1.5M263.6 304.7h1.5M278.6 304.7h3M298.2 304.7h1.5M301.2 304.7h1.5M311.7 304.7h1.5M323.8 304.7h1.5M334.3 304.7h1.5M337.3 304.7h1.5M341.8 304.7h3M347.8 304.7h1.5M352.3 304.7h1.5M361.4 304.7h1.5M374.9 304.7h1.5M289.2 305.7h1.5M293.7 305.7h1.5M302.7 305.7h1.5M310.2 305.7h1.5M361.4 305.7h1.5M371.9 305.7h1.5M379.4 305.7h1.5M399 305.7h1.5M405 305.7h1.5M280.1 306.7h1.5M286.2 306.7h1.5M295.2 306.7h1.5M299.7 306.7h1.5M322.3 306.7h1.5M326.8 306.7h1.5M346.3 306.7h1.5M349.3 306.7h3M356.9 306.7h1.5M370.4 306.7h1.5M380.9 306.7h1.5M389.9 306.7h1.5M396 306.7h1.5M406.5 306.7h1.5M238 307.7h1.5M242.5 307.7h1.5M245.5 307.7h1.5M256.1 307.7h1.5M268.1 307.7h1.5M286.2 307.7h1.5M311.7 307.7h1.5M314.7 307.7h1.5M317.7 307.7h1.5M323.8 307.7h1.5M329.8 307.7h1.5M343.3 307.7h1.5M349.3 307.7h1.5M353.8 307.7h1.5M361.4 307.7h1.5M374.9 307.7h1.5M392.9 307.7h1.5M396 307.7h1.5M230.5 308.7h1.5M233.5 308.7h1.5M245.5 308.7h1.5M248.6 308.7h1.5M253.1 308.7h1.5M257.6 308.7h1.5M266.6 308.7h3M290.7 308.7h3M305.7 308.7h1.5M308.7 308.7h1.5M313.2 308.7h1.5M319.2 308.7h1.5M325.3 308.7h1.5M335.8 308.7h3M341.8 308.7h1.5M344.8 308.7h1.5M350.8 308.7h3M377.9 308.7h1.5M397.5 308.7h1.5M403.5 308.7h1.5M406.5 308.7h1.5M263.6 309.7h1.5M275.6 309.7h1.5M280.1 309.7h1.5M299.7 309.7h1.5M323.8 309.7h3M343.3 309.7h1.5M355.3 309.7h1.5M359.9 309.7h1.5M364.4 309.7h1.5M380.9 309.7h1.5M396 309.7h3M232 310.7h1.5M242.5 310.7h3M248.6 310.7h1.5M257.6 310.7h1.5M269.6 310.7h1.5M280.1 310.7h1.5M299.7 310.7h3M310.2 310.7h1.5M313.2 310.7h1.5M323.8 310.7h1.5M326.8 310.7h1.5M343.3 310.7h1.5M353.8 310.7h1.5M359.9 310.7h3M370.4 310.7h1.5M383.9 310.7h1.5M388.4 310.7h1.5M394.5 310.7h1.5M397.5 310.7h4.5M405 310.7h1.5M230.5 311.7h1.5M235 311.7h1.5M265.1 311.7h1.5M272.6 311.7h1.5M275.6 311.7h3M286.2 311.7h1.5M289.2 311.7h1.5M295.2 311.7h1.5M320.8 311.7h1.5M328.3 311.7h1.5M337.3 311.7h1.5M347.8 311.7h1.5M359.9 311.7h1.5M367.4 311.7h1.5M371.9 311.7h3M379.4 311.7h1.5M383.9 311.7h1.5M394.5 311.7h1.5M397.5 311.7h1.5M402 311.7h1.5M232 312.7h1.5M236.5 312.7h1.5M251.6 312.7h4.5M259.1 312.7h1.5M262.1 312.7h1.5M269.6 312.7h1.5M298.2 312.7h1.5M301.2 312.7h1.5M310.2 312.7h3M316.2 312.7h1.5M320.8 312.7h1.5M338.8 312.7h1.5M343.3 312.7h1.5M349.3 312.7h1.5M355.3 312.7h1.5M364.4 312.7h1.5M370.4 312.7h1.5M373.4 312.7h3M377.9 312.7h1.5M380.9 312.7h3M392.9 312.7h1.5M402 312.7h1.5M406.5 312.7h1.5M268.1 313.7h1.5M307.2 313.7h1.5M322.3 313.7h1.5M344.8 313.7h1.5M383.9 313.7h1.5M392.9 313.7h1.5M406.5 313.7h3M230.5 314.7h1.5M244 314.7h3M251.6 314.7h1.5M259.1 314.7h1.5M271.1 314.7h1.5M277.1 314.7h1.5M307.2 314.7h1.5M332.8 314.7h1.5M346.3 314.7h1.5M358.4 314.7h1.5M370.4 314.7h1.5M374.9 314.7h1.5M383.9 314.7h1.5M405 314.7h1.5M408 314.7h1.5M257.6 315.7h1.5M266.6 315.7h1.5M280.1 315.7h1.5M290.7 315.7h1.5M320.8 315.7h1.5M331.3 315.7h3M359.9 315.7h1.5M377.9 315.7h3M388.4 315.7h1.5M244 316.7h1.5M247 316.7h1.5M251.6 316.7h3M277.1 316.7h1.5M287.7 316.7h4.5M295.2 316.7h1.5M302.7 316.7h1.5M316.2 316.7h3M322.3 316.7h1.5M332.8 316.7h1.5M341.8 316.7h1.5M344.8 316.7h1.5M347.8 316.7h1.5M356.9 316.7h3M367.4 316.7h1.5M380.9 316.7h1.5M386.9 316.7h1.5M402 316.7h1.5M408 316.7h3M253.1 317.7h1.5M260.6 317.7h1.5M265.1 317.7h1.5M296.7 317.7h1.5M302.7 317.7h1.5M305.7 317.7h1.5M332.8 317.7h1.5M337.3 317.7h1.5M344.8 317.7h3M364.4 317.7h1.5M371.9 317.7h1.5M238 318.8h1.5M244 318.8h1.5M248.6 318.8h1.5M251.6 318.8h1.5M265.1 318.8h1.5M268.1 318.8h1.5M281.6 318.8h1.5M284.6 318.8h3M289.2 318.8h1.5M304.2 318.8h1.5M307.2 318.8h1.5M311.7 318.8h1.5M334.3 318.8h1.5M337.3 318.8h1.5M340.3 318.8h1.5M343.3 318.8h1.5M346.3 318.8h3M359.9 318.8h1.5M362.9 318.8h4.5M373.4 318.8h1.5M392.9 318.8h3M405 318.8h1.5M408 318.8h3M242.5 319.8h1.5M262.1 319.8h1.5M271.1 319.8h3M275.6 319.8h1.5M284.6 319.8h1.5M287.7 319.8h1.5M295.2 319.8h3M299.7 319.8h3M314.7 319.8h1.5M317.7 319.8h1.5M331.3 319.8h1.5M355.3 319.8h1.5M359.9 319.8h1.5M364.4 319.8h1.5M394.5 319.8h1.5M406.5 319.8h1.5M235 320.8h1.5M239.5 320.8h1.5M260.6 320.8h1.5M278.6 320.8h1.5M286.2 320.8h3M290.7 320.8h1.5M310.2 320.8h1.5M334.3 320.8h1.5M241 321.8h1.5M259.1 321.8h1.5M265.1 321.8h1.5M272.6 321.8h3M284.6 321.8h1.5M287.7 321.8h3M296.7 321.8h1.5M299.7 321.8h1.5M314.7 321.8h1.5M340.3 321.8h1.5M352.3 321.8h1.5M394.5 321.8h1.5M245.5 322.8h1.5M254.6 322.8h1.5M257.6 322.8h3M262.1 322.8h3M277.1 322.8h1.5M287.7 322.8h1.5M305.7 322.8h3M325.3 322.8h3M332.8 322.8h1.5M376.4 322.8h1.5M396 322.8h1.5M233.5 323.8h1.5M239.5 323.8h1.5M244 323.8h3M250.1 323.8h3M254.6 323.8h4.5M262.1 323.8h1.5M268.1 323.8h1.5M280.1 323.8h1.5M301.2 323.8h1.5M307.2 323.8h1.5M316.2 323.8h1.5M320.8 323.8h1.5M325.3 323.8h1.5M383.9 323.8h1.5M230.5 324.8h4.5M247 324.8h1.5M250.1 324.8h1.5M253.1 324.8h1.5M257.6 324.8h1.5M271.1 324.8h1.5M274.1 324.8h1.5M284.6 324.8h3M298.2 324.8h1.5M335.8 324.8h1.5M242.5 325.8h1.5M257.6 325.8h1.5M262.1 325.8h1.5M268.1 325.8h1.5M289.2 325.8h1.5M302.7 325.8h1.5M325.3 325.8h1.5M343.3 325.8h1.5M380.9 325.8h1.5M383.9 325.8h1.5M254.6 326.8h1.5M278.6 326.8h3M292.2 326.8h10.5M305.7 326.8h4.5M316.2 326.8h1.5M350.8 326.8h1.5M359.9 326.8h1.5M386.9 326.8h1.5M391.4 326.8h1.5M230.5 327.8h4.5M247 327.8h3M257.6 327.8h1.5M266.6 327.8h1.5M271.1 327.8h3M298.2 327.8h1.5M301.2 327.8h1.5M340.3 327.8h1.5M230.5 328.8h1.5M235 328.8h3M244 328.8h1.5M250.1 328.8h1.5M254.6 328.8h1.5M259.1 328.8h1.5M278.6 328.8h3M289.2 328.8h3M295.2 328.8h1.5M320.8 328.8h1.5M325.3 328.8h1.5M233.5 329.8h1.5M241 329.8h1.5M247 329.8h1.5M260.6 329.8h1.5M286.2 329.8h1.5M289.2 329.8h3M316.2 329.8h1.5M359.9 329.8h1.5M389.9 329.8h1.5M278.6 330.8h1.5M281.6 330.8h1.5M287.7 330.8h3M293.7 330.8h1.5M305.7 330.8h1.5M310.2 330.8h3M314.7 330.8h1.5M326.8 330.8h1.5M331.3 330.8h1.5M337.3 330.8h1.5M344.8 330.8h1.5M350.8 330.8h1.5M355.3 330.8h1.5M361.4 330.8h1.5M364.4 330.8h1.5M370.4 330.8h1.5M389.9 330.8h3M400.5 330.8h1.5M241 331.8h1.5M250.1 331.8h1.5M254.6 331.8h4.5M260.6 331.8h6M269.6 331.8h3M286.2 331.8h3M290.7 331.8h1.5M307.2 331.8h1.5M310.2 331.8h3M320.8 331.8h1.5M334.3 331.8h1.5M337.3 331.8h1.5M379.4 331.8h1.5M400.5 331.8h1.5M409.5 331.8h1.5M244 332.8h1.5M248.6 332.8h1.5M253.1 332.8h3M266.6 332.8h1.5M275.6 332.8h1.5M278.6 332.8h1.5M281.6 332.8h3M286.2 332.8h1.5M298.2 332.8h1.5M302.7 332.8h1.5M305.7 332.8h1.5M311.7 332.8h1.5M325.3 332.8h1.5M239.5 333.8h1.5M247 333.8h1.5M254.6 333.8h1.5M269.6 333.8h1.5M278.6 333.8h1.5M283.1 333.8h1.5M292.2 333.8h1.5M301.2 333.8h3M320.8 333.8h1.5M325.3 333.8h1.5M338.8 333.8h1.5M358.4 333.8h1.5M383.9 333.8h1.5M386.9 333.8h1.5M392.9 333.8h3M245.5 334.8h1.5M251.6 334.8h1.5M263.6 334.8h1.5M266.6 334.8h1.5M271.1 334.8h1.5M293.7 334.8h1.5M298.2 334.8h1.5M305.7 334.8h1.5M310.2 334.8h1.5M343.3 334.8h1.5M361.4 334.8h1.5M239.5 335.8h1.5M244 335.8h1.5M248.6 335.8h3M256.1 335.8h1.5M263.6 335.8h3M268.1 335.8h1.5M274.1 335.8h1.5M281.6 335.8h1.5M284.6 335.8h1.5M314.7 335.8h1.5M380.9 335.8h1.5M394.5 335.8h1.5M241 336.8h3M251.6 336.8h1.5M263.6 336.8h1.5M274.1 336.8h3M278.6 336.8h1.5M283.1 336.8h1.5M286.2 336.8h1.5M292.2 336.8h4.5M298.2 336.8h1.5M310.2 336.8h1.5M313.2 336.8h1.5M320.8 336.8h1.5M346.3 336.8h3M350.8 336.8h1.5M377.9 336.8h1.5M385.4 336.8h1.5M397.5 336.8h1.5M406.5 336.8h1.5M409.5 336.8h1.5M232 337.8h1.5M241 337.8h1.5M248.6 337.8h1.5M257.6 337.8h1.5M278.6 337.8h1.5M295.2 337.8h1.5M310.2 337.8h1.5M313.2 337.8h1.5M352.3 337.8h1.5M250.1 338.8h4.5M262.1 338.8h3M266.6 338.8h1.5M269.6 338.8h1.5M283.1 338.8h1.5M292.2 338.8h1.5M230.5 339.8h1.5M257.6 339.8h1.5M260.6 339.8h1.5M265.1 339.8h3M269.6 339.8h1.5M278.6 339.8h3M283.1 339.8h1.5M286.2 339.8h1.5M290.7 339.8h1.5M310.2 339.8h1.5M316.2 339.8h1.5M236.5 340.8h1.5M244 340.8h4.5M254.6 340.8h1.5M257.6 340.8h3M263.6 340.8h1.5M283.1 340.8h1.5M290.7 340.8h1.5M304.2 340.8h3M308.7 340.8h3M338.8 340.8h1.5M242.5 341.8h1.5M254.6 341.8h6M286.2 341.8h4.5M298.2 341.8h1.5M302.7 341.8h3M343.3 341.8h1.5M350.8 341.8h1.5M364.4 341.8h1.5M394.5 341.8h1.5M402 341.8h1.5M248.6 342.8h1.5M260.6 342.8h1.5M286.2 342.8h1.5M289.2 342.8h3M295.2 342.8h3M299.7 342.8h1.5M310.2 342.8h3M322.3 342.8h1.5M326.8 342.8h1.5M349.3 342.8h1.5M359.9 342.8h1.5M364.4 342.8h1.5M383.9 342.8h1.5M403.5 342.8h1.5M238 343.8h4.5M248.6 343.8h1.5M259.1 343.8h1.5M266.6 343.8h1.5M269.6 343.8h1.5M274.1 343.8h1.5M280.1 343.8h1.5M289.2 343.8h1.5M296.7 343.8h1.5M314.7 343.8h1.5M334.3 343.8h1.5M400.5 343.8h1.5M245.5 344.8h1.5M256.1 344.8h1.5M263.6 344.8h3M277.1 344.8h1.5M281.6 344.8h1.5M289.2 344.8h1.5M293.7 344.8h1.5M296.7 344.8h1.5M299.7 344.8h3M308.7 344.8h1.5M322.3 344.8h1.5M355.3 344.8h1.5M235 345.8h7.5M244 345.8h1.5M256.1 345.8h1.5M268.1 345.8h1.5M274.1 345.8h1.5M278.6 345.8h1.5M284.6 345.8h1.5M302.7 345.8h1.5M239.5 346.8h1.5M247 346.8h1.5M265.1 346.8h1.5M268.1 346.8h1.5M271.1 346.8h4.5M278.6 346.8h1.5M284.6 346.8h1.5M295.2 346.8h3M299.7 346.8h1.5M304.2 346.8h1.5M311.7 346.8h4.5M343.3 346.8h1.5M346.3 346.8h1.5M235 347.8h3M241 347.8h3M251.6 347.8h1.5M259.1 347.8h3M263.6 347.8h1.5M268.1 347.8h4.5M275.6 347.8h1.5M289.2 347.8h1.5M313.2 347.8h1.5M350.8 347.8h1.5M235 348.8h1.5M245.5 348.8h4.5M251.6 348.8h3M256.1 348.8h1.5M269.6 348.8h1.5M281.6 348.8h3M286.2 348.8h1.5M292.2 348.8h1.5M299.7 348.8h1.5M326.8 348.8h1.5M334.3 348.8h1.5M239.5 349.8h3M247 349.8h1.5M262.1 349.8h1.5M265.1 349.8h1.5M277.1 349.8h3M313.2 349.8h1.5M361.4 349.8h1.5M241 350.8h1.5M248.6 350.8h1.5M265.1 350.8h1.5M268.1 350.8h1.5M278.6 350.8h1.5M284.6 350.8h1.5M298.2 350.8h1.5M301.2 350.8h1.5M316.2 350.8h1.5M322.3 350.8h1.5M331.3 350.8h1.5M358.4 350.8h1.5M361.4 350.8h1.5M400.5 350.8h1.5M238 351.8h1.5M253.1 351.8h1.5M257.6 351.8h1.5M262.1 351.8h1.5M269.6 351.8h4.5M278.6 351.8h1.5M283.1 351.8h3M293.7 351.8h3M301.2 351.8h1.5M305.7 351.8h1.5M310.2 351.8h1.5M322.3 351.8h1.5M328.3 351.8h1.5M343.3 351.8h1.5M346.3 351.8h1.5M250.1 352.8h1.5M263.6 352.8h1.5M269.6 352.8h3M274.1 352.8h1.5M286.2 352.8h3M292.2 352.8h1.5M317.7 352.8h1.5M323.8 352.8h1.5M331.3 352.8h1.5M232 353.8h1.5M256.1 353.8h1.5M262.1 353.8h7.5M280.1 353.8h1.5M289.2 353.8h1.5M292.2 353.8h1.5M295.2 353.8h1.5M311.7 353.8h1.5M320.8 353.8h1.5M358.4 353.8h1.5M392.9 353.8h1.5M242.5 354.8h1.5M254.6 354.8h1.5M257.6 354.8h1.5M260.6 354.8h1.5M265.1 354.8h3M269.6 354.8h1.5M281.6 354.8h1.5M305.7 354.8h1.5M332.8 354.8h3M383.9 354.8h1.5M238 355.8h1.5M245.5 355.8h1.5M248.6 355.8h1.5M254.6 355.8h1.5M262.1 355.8h1.5M272.6 355.8h1.5M275.6 355.8h1.5M280.1 355.8h1.5M286.2 355.8h1.5M292.2 355.8h1.5M301.2 355.8h1.5M310.2 355.8h1.5M314.7 355.8h1.5M385.4 355.8h1.5M400.5 355.8h1.5M233.5 356.8h1.5M241 356.8h1.5M253.1 356.8h3M260.6 356.8h3M271.1 356.8h1.5M286.2 356.8h1.5M310.2 356.8h3M314.7 356.8h1.5M325.3 356.8h1.5M394.5 356.8h1.5M232 357.8h1.5M260.6 357.8h1.5M271.1 357.8h4.5M280.1 357.8h1.5M283.1 357.8h1.5M287.7 357.8h1.5M292.2 357.8h1.5M298.2 357.8h3M302.7 357.8h3M310.2 357.8h1.5M328.3 357.8h1.5M341.8 357.8h1.5M251.6 358.8h3M259.1 358.8h1.5M262.1 358.8h1.5M265.1 358.8h1.5M274.1 358.8h1.5M278.6 358.8h1.5M283.1 358.8h1.5M295.2 358.8h1.5M307.2 358.8h1.5M310.2 358.8h1.5M317.7 358.8h1.5M328.3 358.8h1.5M331.3 358.8h1.5M346.3 358.8h1.5M352.3 358.8h1.5M400.5 358.8h3M242.5 359.8h1.5M256.1 359.8h1.5M274.1 359.8h1.5M277.1 359.8h1.5M281.6 359.8h3M301.2 359.8h1.5M314.7 359.8h1.5M325.3 359.8h1.5M329.8 359.8h1.5M335.8 359.8h1.5M376.4 359.8h1.5" stroke="#e9e8d9" stroke-width="1.05" fill="none"/>
<path d="M232 277.7h3M244 277.7h1.5M250.1 277.7h1.5M259.1 277.7h3M265.1 277.7h1.5M269.6 277.7h1.5M272.6 277.7h4.5M284.6 277.7h1.5M287.7 277.7h3M296.7 277.7h1.5M301.2 277.7h1.5M304.2 277.7h1.5M307.2 277.7h1.5M313.2 277.7h1.5M317.7 277.7h1.5M328.3 277.7h1.5M332.8 277.7h1.5M344.8 277.7h1.5M359.9 277.7h1.5M364.4 277.7h1.5M373.4 277.7h1.5M388.4 277.7h3M244 278.7h1.5M248.6 278.7h1.5M262.1 278.7h1.5M278.6 278.7h1.5M281.6 278.7h1.5M286.2 278.7h4.5M292.2 278.7h1.5M299.7 278.7h3M305.7 278.7h3M310.2 278.7h1.5M314.7 278.7h1.5M328.3 278.7h1.5M334.3 278.7h1.5M340.3 278.7h3M344.8 278.7h1.5M347.8 278.7h1.5M350.8 278.7h1.5M362.9 278.7h3M370.4 278.7h1.5M391.4 278.7h1.5M409.5 278.7h1.5M236.5 279.7h1.5M244 279.7h1.5M256.1 279.7h1.5M262.1 279.7h3M266.6 279.7h1.5M274.1 279.7h1.5M281.6 279.7h1.5M295.2 279.7h1.5M301.2 279.7h1.5M316.2 279.7h3M322.3 279.7h3M350.8 279.7h1.5M353.8 279.7h1.5M367.4 279.7h1.5M370.4 279.7h1.5M380.9 279.7h3M386.9 279.7h3M391.4 279.7h3M397.5 279.7h3M403.5 279.7h1.5M239.5 280.7h1.5M248.6 280.7h4.5M260.6 280.7h1.5M265.1 280.7h3M277.1 280.7h3M284.6 280.7h3M289.2 280.7h3M298.2 280.7h1.5M304.2 280.7h1.5M310.2 280.7h1.5M313.2 280.7h1.5M323.8 280.7h1.5M331.3 280.7h1.5M335.8 280.7h3M352.3 280.7h3M365.9 280.7h1.5M373.4 280.7h3M377.9 280.7h1.5M380.9 280.7h1.5M388.4 280.7h6M230.5 281.7h1.5M235 281.7h1.5M250.1 281.7h3M256.1 281.7h1.5M265.1 281.7h1.5M277.1 281.7h1.5M290.7 281.7h1.5M296.7 281.7h3M311.7 281.7h1.5M317.7 281.7h1.5M337.3 281.7h3M343.3 281.7h1.5M346.3 281.7h1.5M349.3 281.7h3M353.8 281.7h4.5M361.4 281.7h6M371.9 281.7h4.5M380.9 281.7h1.5M386.9 281.7h3M391.4 281.7h1.5M397.5 281.7h1.5M233.5 282.7h1.5M236.5 282.7h1.5M245.5 282.7h1.5M250.1 282.7h1.5M253.1 282.7h3M259.1 282.7h1.5M266.6 282.7h1.5M269.6 282.7h1.5M274.1 282.7h1.5M277.1 282.7h1.5M280.1 282.7h1.5M293.7 282.7h1.5M298.2 282.7h6M305.7 282.7h1.5M310.2 282.7h3M319.2 282.7h3M332.8 282.7h1.5M338.8 282.7h1.5M344.8 282.7h1.5M347.8 282.7h1.5M352.3 282.7h1.5M359.9 282.7h1.5M370.4 282.7h3M374.9 282.7h1.5M382.4 282.7h1.5M385.4 282.7h1.5M400.5 282.7h1.5M236.5 283.7h1.5M250.1 283.7h1.5M256.1 283.7h1.5M272.6 283.7h3M277.1 283.7h4.5M283.1 283.7h1.5M286.2 283.7h1.5M293.7 283.7h1.5M298.2 283.7h3M310.2 283.7h1.5M319.2 283.7h4.5M328.3 283.7h1.5M337.3 283.7h1.5M341.8 283.7h3M346.3 283.7h1.5M349.3 283.7h1.5M377.9 283.7h1.5M385.4 283.7h1.5M389.9 283.7h3M396 283.7h1.5M408 283.7h1.5M238 284.7h3M259.1 284.7h1.5M278.6 284.7h1.5M287.7 284.7h4.5M299.7 284.7h3M304.2 284.7h1.5M316.2 284.7h1.5M328.3 284.7h1.5M332.8 284.7h1.5M338.8 284.7h3M344.8 284.7h1.5M349.3 284.7h1.5M356.9 284.7h3M364.4 284.7h1.5M374.9 284.7h1.5M388.4 284.7h1.5M392.9 284.7h1.5M403.5 284.7h1.5M230.5 285.7h3M235 285.7h1.5M244 285.7h1.5M248.6 285.7h1.5M262.1 285.7h1.5M271.1 285.7h3M277.1 285.7h1.5M283.1 285.7h1.5M289.2 285.7h1.5M295.2 285.7h3M301.2 285.7h1.5M305.7 285.7h1.5M308.7 285.7h3M325.3 285.7h1.5M332.8 285.7h3M344.8 285.7h1.5M349.3 285.7h3M362.9 285.7h1.5M365.9 285.7h4.5M391.4 285.7h1.5M394.5 285.7h1.5M405 285.7h1.5M232 286.7h1.5M236.5 286.7h1.5M244 286.7h1.5M247 286.7h1.5M254.6 286.7h1.5M278.6 286.7h1.5M284.6 286.7h1.5M290.7 286.7h1.5M301.2 286.7h1.5M310.2 286.7h3M314.7 286.7h1.5M322.3 286.7h1.5M341.8 286.7h1.5M349.3 286.7h3M361.4 286.7h1.5M368.9 286.7h1.5M376.4 286.7h1.5M382.4 286.7h1.5M385.4 286.7h4.5M392.9 286.7h1.5M408 286.7h1.5M232 287.7h3M238 287.7h1.5M241 287.7h1.5M250.1 287.7h1.5M269.6 287.7h1.5M281.6 287.7h1.5M289.2 287.7h3M293.7 287.7h1.5M298.2 287.7h1.5M301.2 287.7h1.5M304.2 287.7h6M322.3 287.7h1.5M328.3 287.7h1.5M331.3 287.7h1.5M335.8 287.7h1.5M338.8 287.7h1.5M346.3 287.7h1.5M353.8 287.7h1.5M370.4 287.7h1.5M382.4 287.7h1.5M385.4 287.7h1.5M403.5 287.7h3M232 288.7h1.5M235 288.7h1.5M238 288.7h3M248.6 288.7h3M254.6 288.7h1.5M266.6 288.7h1.5M271.1 288.7h1.5M280.1 288.7h1.5M286.2 288.7h3M293.7 288.7h1.5M301.2 288.7h1.5M307.2 288.7h1.5M310.2 288.7h1.5M314.7 288.7h1.5M338.8 288.7h1.5M356.9 288.7h3M364.4 288.7h1.5M367.4 288.7h1.5M377.9 288.7h1.5M386.9 288.7h1.5M400.5 288.7h1.5M409.5 288.7h1.5M230.5 289.7h4.5M247 289.7h1.5M253.1 289.7h1.5M256.1 289.7h1.5M260.6 289.7h1.5M265.1 289.7h1.5M272.6 289.7h1.5M278.6 289.7h1.5M287.7 289.7h1.5M293.7 289.7h3M322.3 289.7h1.5M326.8 289.7h3M331.3 289.7h1.5M349.3 289.7h1.5M356.9 289.7h3M365.9 289.7h1.5M376.4 289.7h1.5M385.4 289.7h1.5M402 289.7h1.5M238 290.7h1.5M247 290.7h1.5M250.1 290.7h1.5M257.6 290.7h1.5M265.1 290.7h4.5M272.6 290.7h3M278.6 290.7h1.5M283.1 290.7h1.5M289.2 290.7h1.5M302.7 290.7h1.5M305.7 290.7h1.5M308.7 290.7h1.5M329.8 290.7h1.5M343.3 290.7h4.5M352.3 290.7h1.5M359.9 290.7h1.5M368.9 290.7h1.5M382.4 290.7h1.5M402 290.7h1.5M405 290.7h1.5M248.6 291.7h1.5M251.6 291.7h1.5M257.6 291.7h3M262.1 291.7h1.5M269.6 291.7h4.5M281.6 291.7h1.5M286.2 291.7h1.5M290.7 291.7h1.5M302.7 291.7h1.5M317.7 291.7h1.5M320.8 291.7h1.5M326.8 291.7h1.5M332.8 291.7h1.5M344.8 291.7h3M353.8 291.7h1.5M374.9 291.7h1.5M391.4 291.7h1.5M397.5 291.7h1.5M400.5 291.7h1.5M230.5 292.7h1.5M235 292.7h1.5M244 292.7h1.5M251.6 292.7h1.5M254.6 292.7h1.5M259.1 292.7h1.5M263.6 292.7h1.5M268.1 292.7h1.5M271.1 292.7h7.5M283.1 292.7h1.5M290.7 292.7h1.5M293.7 292.7h3M302.7 292.7h1.5M305.7 292.7h4.5M316.2 292.7h3M323.8 292.7h1.5M343.3 292.7h1.5M350.8 292.7h1.5M358.4 292.7h6M371.9 292.7h1.5M376.4 292.7h1.5M382.4 292.7h4.5M391.4 292.7h1.5M394.5 292.7h3M399 292.7h1.5M402 292.7h1.5M230.5 293.7h1.5M235 293.7h1.5M239.5 293.7h3M248.6 293.7h1.5M251.6 293.7h1.5M254.6 293.7h1.5M263.6 293.7h1.5M272.6 293.7h1.5M277.1 293.7h1.5M281.6 293.7h1.5M287.7 293.7h1.5M292.2 293.7h3M310.2 293.7h1.5M313.2 293.7h4.5M319.2 293.7h1.5M337.3 293.7h3M341.8 293.7h1.5M346.3 293.7h1.5M367.4 293.7h1.5M373.4 293.7h1.5M382.4 293.7h1.5M385.4 293.7h1.5M232 294.7h3M236.5 294.7h1.5M241 294.7h1.5M254.6 294.7h1.5M275.6 294.7h1.5M292.2 294.7h1.5M310.2 294.7h1.5M320.8 294.7h1.5M323.8 294.7h1.5M344.8 294.7h1.5M352.3 294.7h1.5M359.9 294.7h1.5M362.9 294.7h1.5M388.4 294.7h1.5M399 294.7h1.5M403.5 294.7h1.5M233.5 295.7h1.5M236.5 295.7h3M242.5 295.7h1.5M245.5 295.7h1.5M248.6 295.7h1.5M292.2 295.7h6M307.2 295.7h1.5M317.7 295.7h3M322.3 295.7h3M331.3 295.7h1.5M340.3 295.7h1.5M343.3 295.7h3M349.3 295.7h3M358.4 295.7h3M364.4 295.7h3M373.4 295.7h3M379.4 295.7h1.5M397.5 295.7h1.5M242.5 296.7h1.5M266.6 296.7h1.5M269.6 296.7h1.5M272.6 296.7h1.5M277.1 296.7h1.5M299.7 296.7h3M304.2 296.7h1.5M310.2 296.7h1.5M316.2 296.7h1.5M319.2 296.7h1.5M322.3 296.7h4.5M337.3 296.7h1.5M340.3 296.7h1.5M344.8 296.7h1.5M359.9 296.7h1.5M379.4 296.7h3M385.4 296.7h1.5M403.5 296.7h1.5M233.5 297.7h1.5M238 297.7h1.5M244 297.7h4.5M256.1 297.7h1.5M259.1 297.7h3M266.6 297.7h1.5M272.6 297.7h3M286.2 297.7h1.5M296.7 297.7h3M308.7 297.7h1.5M323.8 297.7h1.5M331.3 297.7h1.5M343.3 297.7h1.5M347.8 297.7h1.5M353.8 297.7h1.5M359.9 297.7h1.5M365.9 297.7h1.5M377.9 297.7h1.5M383.9 297.7h1.5M389.9 297.7h3M397.5 297.7h1.5M400.5 297.7h1.5M406.5 297.7h1.5M232 298.7h1.5M239.5 298.7h3M257.6 298.7h1.5M260.6 298.7h1.5M266.6 298.7h3M271.1 298.7h1.5M281.6 298.7h1.5M299.7 298.7h1.5M322.3 298.7h1.5M328.3 298.7h1.5M356.9 298.7h4.5M364.4 298.7h1.5M236.5 299.7h1.5M241 299.7h1.5M248.6 299.7h1.5M257.6 299.7h1.5M266.6 299.7h3M272.6 299.7h1.5M278.6 299.7h1.5M284.6 299.7h1.5M287.7 299.7h1.5M290.7 299.7h1.5M305.7 299.7h1.5M308.7 299.7h1.5M322.3 299.7h1.5M326.8 299.7h1.5M335.8 299.7h1.5M346.3 299.7h1.5M361.4 299.7h1.5M367.4 299.7h1.5M370.4 299.7h1.5M394.5 299.7h1.5M403.5 299.7h1.5M232 300.7h1.5M235 300.7h1.5M242.5 300.7h1.5M245.5 300.7h1.5M257.6 300.7h1.5M263.6 300.7h1.5M269.6 300.7h1.5M272.6 300.7h1.5M283.1 300.7h1.5M302.7 300.7h1.5M305.7 300.7h1.5M323.8 300.7h1.5M340.3 300.7h1.5M346.3 300.7h1.5M350.8 300.7h1.5M355.3 300.7h1.5M397.5 300.7h1.5M235 301.7h3M239.5 301.7h1.5M253.1 301.7h1.5M259.1 301.7h3M268.1 301.7h1.5M274.1 301.7h1.5M281.6 301.7h3M292.2 301.7h1.5M295.2 301.7h1.5M301.2 301.7h1.5M305.7 301.7h1.5M310.2 301.7h1.5M314.7 301.7h1.5M317.7 301.7h1.5M320.8 301.7h1.5M325.3 301.7h1.5M335.8 301.7h1.5M341.8 301.7h1.5M347.8 301.7h1.5M355.3 301.7h3M359.9 301.7h1.5M362.9 301.7h1.5M377.9 301.7h4.5M385.4 301.7h1.5M389.9 301.7h1.5M399 301.7h1.5M408 301.7h1.5M241 302.7h1.5M245.5 302.7h1.5M251.6 302.7h1.5M260.6 302.7h1.5M266.6 302.7h3M275.6 302.7h1.5M286.2 302.7h1.5M290.7 302.7h1.5M299.7 302.7h4.5M305.7 302.7h1.5M320.8 302.7h1.5M337.3 302.7h1.5M340.3 302.7h1.5M343.3 302.7h1.5M346.3 302.7h1.5M349.3 302.7h1.5M355.3 302.7h1.5M365.9 302.7h1.5M377.9 302.7h1.5M386.9 302.7h1.5M397.5 302.7h1.5M402 302.7h1.5M232 303.7h1.5M236.5 303.7h1.5M239.5 303.7h1.5M251.6 303.7h1.5M257.6 303.7h1.5M266.6 303.7h3M272.6 303.7h1.5M275.6 303.7h4.5M287.7 303.7h1.5M301.2 303.7h1.5M308.7 303.7h1.5M313.2 303.7h1.5M323.8 303.7h3M328.3 303.7h1.5M332.8 303.7h1.5M356.9 303.7h1.5M371.9 303.7h1.5M374.9 303.7h1.5M377.9 303.7h1.5M383.9 303.7h3M388.4 303.7h1.5M392.9 303.7h1.5M396 303.7h1.5M244 304.7h1.5M247 304.7h1.5M274.1 304.7h1.5M283.1 304.7h1.5M293.7 304.7h1.5M299.7 304.7h1.5M305.7 304.7h1.5M320.8 304.7h3M325.3 304.7h1.5M328.3 304.7h1.5M344.8 304.7h1.5M353.8 304.7h1.5M358.4 304.7h1.5M370.4 304.7h1.5M373.4 304.7h1.5M376.4 304.7h1.5M379.4 304.7h3M383.9 304.7h1.5M386.9 304.7h1.5M389.9 304.7h1.5M397.5 304.7h1.5M400.5 304.7h1.5M403.5 304.7h3M409.5 304.7h1.5M230.5 305.7h1.5M235 305.7h1.5M244 305.7h1.5M247 305.7h1.5M253.1 305.7h1.5M257.6 305.7h4.5M265.1 305.7h1.5M280.1 305.7h1.5M283.1 305.7h1.5M290.7 305.7h1.5M295.2 305.7h1.5M301.2 305.7h1.5M304.2 305.7h3M308.7 305.7h1.5M314.7 305.7h1.5M320.8 305.7h3M332.8 305.7h1.5M335.8 305.7h1.5M338.8 305.7h1.5M347.8 305.7h1.5M356.9 305.7h1.5M365.9 305.7h1.5M373.4 305.7h1.5M377.9 305.7h1.5M380.9 305.7h3M386.9 305.7h1.5M397.5 305.7h1.5M400.5 305.7h1.5M406.5 305.7h3M232 306.7h3M250.1 306.7h1.5M253.1 306.7h1.5M260.6 306.7h1.5M265.1 306.7h1.5M271.1 306.7h1.5M278.6 306.7h1.5M289.2 306.7h1.5M296.7 306.7h1.5M301.2 306.7h3M305.7 306.7h1.5M314.7 306.7h1.5M319.2 306.7h1.5M338.8 306.7h3M347.8 306.7h1.5M353.8 306.7h1.5M358.4 306.7h1.5M361.4 306.7h1.5M364.4 306.7h1.5M367.4 306.7h3M376.4 306.7h4.5M382.4 306.7h1.5M391.4 306.7h1.5M394.5 306.7h1.5M403.5 306.7h1.5M233.5 307.7h1.5M236.5 307.7h1.5M244 307.7h1.5M250.1 307.7h1.5M259.1 307.7h7.5M272.6 307.7h1.5M278.6 307.7h6M287.7 307.7h1.5M292.2 307.7h3M301.2 307.7h1.5M313.2 307.7h1.5M322.3 307.7h1.5M326.8 307.7h1.5M331.3 307.7h1.5M350.8 307.7h1.5M355.3 307.7h4.5M364.4 307.7h1.5M367.4 307.7h1.5M377.9 307.7h1.5M389.9 307.7h1.5M405 307.7h1.5M408 307.7h1.5M242.5 308.7h3M254.6 308.7h1.5M272.6 308.7h1.5M280.1 308.7h1.5M283.1 308.7h1.5M287.7 308.7h3M301.2 308.7h1.5M304.2 308.7h1.5M311.7 308.7h1.5M320.8 308.7h1.5M326.8 308.7h3M340.3 308.7h1.5M347.8 308.7h1.5M365.9 308.7h3M370.4 308.7h1.5M376.4 308.7h1.5M399 308.7h1.5M408 308.7h1.5M232 309.7h1.5M242.5 309.7h1.5M245.5 309.7h1.5M257.6 309.7h1.5M277.1 309.7h3M281.6 309.7h3M289.2 309.7h1.5M296.7 309.7h1.5M305.7 309.7h1.5M310.2 309.7h1.5M313.2 309.7h1.5M316.2 309.7h1.5M335.8 309.7h3M344.8 309.7h1.5M352.3 309.7h3M379.4 309.7h1.5M383.9 309.7h1.5M388.4 309.7h1.5M400.5 309.7h1.5M405 309.7h3M238 310.7h1.5M241 310.7h1.5M245.5 310.7h1.5M250.1 310.7h3M254.6 310.7h1.5M262.1 310.7h1.5M266.6 310.7h1.5M271.1 310.7h1.5M286.2 310.7h1.5M289.2 310.7h4.5M295.2 310.7h1.5M305.7 310.7h1.5M314.7 310.7h4.5M325.3 310.7h1.5M328.3 310.7h3M332.8 310.7h1.5M338.8 310.7h1.5M341.8 310.7h1.5M349.3 310.7h1.5M355.3 310.7h3M367.4 310.7h1.5M402 310.7h3M232 311.7h3M239.5 311.7h1.5M242.5 311.7h1.5M253.1 311.7h1.5M257.6 311.7h1.5M262.1 311.7h1.5M266.6 311.7h1.5M280.1 311.7h1.5M284.6 311.7h1.5M290.7 311.7h3M298.2 311.7h1.5M301.2 311.7h1.5M329.8 311.7h1.5M343.3 311.7h1.5M350.8 311.7h3M355.3 311.7h1.5M358.4 311.7h1.5M376.4 311.7h1.5M391.4 311.7h3M399 311.7h1.5M235 312.7h1.5M241 312.7h1.5M257.6 312.7h1.5M265.1 312.7h1.5M280.1 312.7h3M287.7 312.7h1.5M290.7 312.7h3M302.7 312.7h1.5M319.2 312.7h1.5M325.3 312.7h3M337.3 312.7h1.5M340.3 312.7h1.5M344.8 312.7h1.5M350.8 312.7h1.5M358.4 312.7h1.5M367.4 312.7h3M397.5 312.7h1.5M405 312.7h1.5M244 313.7h1.5M248.6 313.7h1.5M256.1 313.7h1.5M263.6 313.7h1.5M269.6 313.7h1.5M281.6 313.7h3M290.7 313.7h1.5M299.7 313.7h3M305.7 313.7h1.5M311.7 313.7h1.5M331.3 313.7h1.5M335.8 313.7h1.5M350.8 313.7h1.5M361.4 313.7h1.5M364.4 313.7h1.5M367.4 313.7h1.5M370.4 313.7h1.5M385.4 313.7h1.5M389.9 313.7h3M394.5 313.7h1.5M402 313.7h3M247 314.7h1.5M257.6 314.7h1.5M262.1 314.7h3M266.6 314.7h1.5M281.6 314.7h1.5M284.6 314.7h1.5M290.7 314.7h1.5M295.2 314.7h1.5M299.7 314.7h1.5M305.7 314.7h1.5M313.2 314.7h4.5M325.3 314.7h1.5M328.3 314.7h1.5M343.3 314.7h1.5M347.8 314.7h3M355.3 314.7h3M361.4 314.7h3M371.9 314.7h3M380.9 314.7h1.5M397.5 314.7h1.5M400.5 314.7h1.5M406.5 314.7h1.5M230.5 315.7h1.5M239.5 315.7h1.5M268.1 315.7h1.5M275.6 315.7h1.5M292.2 315.7h1.5M296.7 315.7h3M304.2 315.7h3M310.2 315.7h3M316.2 315.7h3M334.3 315.7h1.5M338.8 315.7h1.5M344.8 315.7h1.5M356.9 315.7h1.5M362.9 315.7h1.5M367.4 315.7h1.5M370.4 315.7h1.5M376.4 315.7h1.5M380.9 315.7h1.5M391.4 315.7h3M396 315.7h3M400.5 315.7h1.5M405 315.7h1.5M233.5 316.7h4.5M250.1 316.7h1.5M256.1 316.7h1.5M265.1 316.7h1.5M269.6 316.7h1.5M278.6 316.7h3M284.6 316.7h3M298.2 316.7h1.5M301.2 316.7h1.5M305.7 316.7h1.5M310.2 316.7h1.5M319.2 316.7h3M323.8 316.7h1.5M329.8 316.7h1.5M335.8 316.7h1.5M343.3 316.7h1.5M346.3 316.7h1.5M359.9 316.7h1.5M365.9 316.7h1.5M371.9 316.7h3M385.4 316.7h1.5M388.4 316.7h3M396 316.7h1.5M403.5 316.7h1.5M233.5 317.7h1.5M245.5 317.7h1.5M256.1 317.7h3M266.6 317.7h1.5M284.6 317.7h6M295.2 317.7h1.5M298.2 317.7h1.5M301.2 317.7h1.5M308.7 317.7h1.5M311.7 317.7h1.5M322.3 317.7h1.5M325.3 317.7h4.5M335.8 317.7h1.5M338.8 317.7h3M350.8 317.7h4.5M367.4 317.7h1.5M379.4 317.7h1.5M391.4 317.7h1.5M406.5 317.7h1.5M232 318.8h3M236.5 318.8h1.5M247 318.8h1.5M254.6 318.8h1.5M266.6 318.8h1.5M269.6 318.8h4.5M283.1 318.8h1.5M287.7 318.8h1.5M290.7 318.8h1.5M308.7 318.8h1.5M313.2 318.8h1.5M317.7 318.8h1.5M331.3 318.8h1.5M352.3 318.8h1.5M361.4 318.8h1.5M370.4 318.8h3M382.4 318.8h1.5M386.9 318.8h1.5M391.4 318.8h1.5M403.5 318.8h1.5M292.2 319.8h1.5M304.2 319.8h1.5M311.7 319.8h1.5M316.2 319.8h1.5M325.3 319.8h1.5M329.8 319.8h1.5M334.3 319.8h1.5M340.3 319.8h1.5M350.8 319.8h1.5M358.4 319.8h1.5M379.4 319.8h3M391.4 319.8h1.5M405 319.8h1.5M253.1 320.8h1.5M263.6 320.8h1.5M275.6 320.8h1.5M292.2 320.8h1.5M298.2 320.8h1.5M301.2 320.8h1.5M305.7 320.8h1.5M311.7 320.8h1.5M314.7 320.8h3M323.8 320.8h1.5M326.8 320.8h3M337.3 320.8h1.5M340.3 320.8h1.5M347.8 320.8h1.5M361.4 320.8h3M368.9 320.8h1.5M391.4 320.8h1.5M400.5 320.8h1.5M408 320.8h3M253.1 321.8h3M263.6 321.8h1.5M275.6 321.8h1.5M278.6 321.8h1.5M292.2 321.8h1.5M301.2 321.8h1.5M304.2 321.8h1.5M316.2 321.8h1.5M325.3 321.8h1.5M331.3 321.8h1.5M346.3 321.8h1.5M349.3 321.8h1.5M362.9 321.8h3M373.4 321.8h1.5M376.4 321.8h1.5M379.4 321.8h1.5M383.9 321.8h1.5M386.9 321.8h1.5M391.4 321.8h1.5M400.5 321.8h3M405 321.8h1.5M271.1 322.8h3M286.2 322.8h1.5M290.7 322.8h1.5M295.2 322.8h3M301.2 322.8h1.5M308.7 322.8h1.5M314.7 322.8h4.5M335.8 322.8h4.5M341.8 322.8h1.5M347.8 322.8h1.5M353.8 322.8h1.5M356.9 322.8h1.5M361.4 322.8h1.5M370.4 322.8h1.5M374.9 322.8h1.5M379.4 322.8h1.5M383.9 322.8h1.5M399 322.8h1.5M403.5 322.8h4.5M247 323.8h1.5M263.6 323.8h1.5M272.6 323.8h3M283.1 323.8h1.5M293.7 323.8h1.5M313.2 323.8h1.5M323.8 323.8h1.5M329.8 323.8h3M337.3 323.8h3M341.8 323.8h1.5M346.3 323.8h1.5M358.4 323.8h1.5M361.4 323.8h1.5M367.4 323.8h1.5M374.9 323.8h1.5M385.4 323.8h1.5M397.5 323.8h3M408 323.8h1.5M254.6 324.8h1.5M263.6 324.8h1.5M272.6 324.8h1.5M283.1 324.8h1.5M292.2 324.8h1.5M296.7 324.8h1.5M302.7 324.8h3M308.7 324.8h4.5M319.2 324.8h3M332.8 324.8h1.5M343.3 324.8h1.5M346.3 324.8h1.5M353.8 324.8h1.5M362.9 324.8h1.5M365.9 324.8h1.5M376.4 324.8h1.5M382.4 324.8h1.5M406.5 324.8h1.5M253.1 325.8h1.5M263.6 325.8h1.5M272.6 325.8h1.5M275.6 325.8h1.5M283.1 325.8h1.5M287.7 325.8h1.5M295.2 325.8h1.5M298.2 325.8h1.5M305.7 325.8h1.5M311.7 325.8h3M316.2 325.8h3M320.8 325.8h1.5M334.3 325.8h3M338.8 325.8h3M347.8 325.8h1.5M350.8 325.8h1.5M361.4 325.8h1.5M365.9 325.8h1.5M377.9 325.8h3M386.9 325.8h1.5M389.9 325.8h1.5M394.5 325.8h1.5M406.5 325.8h1.5M311.7 326.8h1.5M319.2 326.8h1.5M328.3 326.8h1.5M334.3 326.8h3M338.8 326.8h1.5M353.8 326.8h3M362.9 326.8h1.5M368.9 326.8h3M374.9 326.8h1.5M389.9 326.8h1.5M394.5 326.8h1.5M397.5 326.8h3M402 326.8h3M409.5 326.8h1.5M260.6 327.8h1.5M274.1 327.8h1.5M283.1 327.8h1.5M293.7 327.8h3M305.7 327.8h1.5M317.7 327.8h1.5M320.8 327.8h1.5M325.3 327.8h1.5M337.3 327.8h1.5M343.3 327.8h1.5M346.3 327.8h1.5M362.9 327.8h1.5M370.4 327.8h1.5M379.4 327.8h3M386.9 327.8h1.5M394.5 327.8h1.5M409.5 327.8h1.5M232 328.8h1.5M268.1 328.8h1.5M275.6 328.8h1.5M292.2 328.8h1.5M298.2 328.8h1.5M304.2 328.8h1.5M307.2 328.8h1.5M346.3 328.8h3M373.4 328.8h1.5M379.4 328.8h1.5M385.4 328.8h1.5M391.4 328.8h1.5M400.5 328.8h1.5M409.5 328.8h1.5M251.6 329.8h1.5M269.6 329.8h1.5M278.6 329.8h1.5M292.2 329.8h1.5M298.2 329.8h3M305.7 329.8h1.5M308.7 329.8h1.5M320.8 329.8h1.5M326.8 329.8h3M334.3 329.8h1.5M346.3 329.8h1.5M350.8 329.8h1.5M361.4 329.8h1.5M365.9 329.8h1.5M377.9 329.8h1.5M380.9 329.8h1.5M396 329.8h1.5M403.5 329.8h1.5M263.6 330.8h1.5M298.2 330.8h1.5M301.2 330.8h1.5M313.2 330.8h1.5M319.2 330.8h1.5M323.8 330.8h1.5M332.8 330.8h1.5M338.8 330.8h3M347.8 330.8h1.5M356.9 330.8h1.5M365.9 330.8h1.5M373.4 330.8h1.5M379.4 330.8h1.5M385.4 330.8h1.5M388.4 330.8h1.5M396 330.8h1.5M301.2 331.8h1.5M313.2 331.8h6M322.3 331.8h1.5M326.8 331.8h1.5M340.3 331.8h7.5M355.3 331.8h1.5M368.9 331.8h1.5M380.9 331.8h1.5M383.9 331.8h1.5M394.5 331.8h1.5M406.5 331.8h1.5M271.1 332.8h1.5M277.1 332.8h1.5M280.1 332.8h1.5M289.2 332.8h1.5M296.7 332.8h1.5M310.2 332.8h1.5M337.3 332.8h1.5M359.9 332.8h1.5M364.4 332.8h1.5M394.5 332.8h1.5M400.5 332.8h1.5M403.5 332.8h1.5M277.1 333.8h1.5M296.7 333.8h4.5M304.2 333.8h1.5M307.2 333.8h1.5M322.3 333.8h1.5M329.8 333.8h1.5M344.8 333.8h1.5M347.8 333.8h1.5M352.3 333.8h1.5M364.4 333.8h3M370.4 333.8h1.5M374.9 333.8h1.5M397.5 333.8h1.5M403.5 333.8h1.5M406.5 333.8h3M233.5 334.8h1.5M244 334.8h1.5M254.6 334.8h1.5M262.1 334.8h1.5M283.1 334.8h3M287.7 334.8h1.5M292.2 334.8h1.5M311.7 334.8h1.5M314.7 334.8h1.5M317.7 334.8h1.5M320.8 334.8h1.5M325.3 334.8h1.5M331.3 334.8h1.5M338.8 334.8h1.5M341.8 334.8h1.5M359.9 334.8h1.5M370.4 334.8h1.5M383.9 334.8h1.5M389.9 334.8h1.5M406.5 334.8h1.5M283.1 335.8h1.5M289.2 335.8h3M295.2 335.8h1.5M298.2 335.8h3M304.2 335.8h1.5M308.7 335.8h1.5M317.7 335.8h1.5M323.8 335.8h1.5M328.3 335.8h1.5M331.3 335.8h1.5M338.8 335.8h1.5M347.8 335.8h1.5M350.8 335.8h1.5M373.4 335.8h3M377.9 335.8h1.5M386.9 335.8h1.5M392.9 335.8h1.5M400.5 335.8h1.5M408 335.8h1.5M262.1 336.8h1.5M269.6 336.8h1.5M281.6 336.8h1.5M325.3 336.8h3M331.3 336.8h3M335.8 336.8h1.5M352.3 336.8h1.5M358.4 336.8h1.5M368.9 336.8h1.5M373.4 336.8h1.5M380.9 336.8h1.5M383.9 336.8h1.5M388.4 336.8h1.5M392.9 336.8h1.5M399 336.8h1.5M403.5 336.8h1.5M408 336.8h1.5M254.6 337.8h1.5M271.1 337.8h1.5M274.1 337.8h1.5M277.1 337.8h1.5M283.1 337.8h3M293.7 337.8h1.5M299.7 337.8h1.5M304.2 337.8h1.5M307.2 337.8h3M311.7 337.8h1.5M316.2 337.8h1.5M319.2 337.8h1.5M328.3 337.8h1.5M337.3 337.8h1.5M356.9 337.8h1.5M380.9 337.8h1.5M391.4 337.8h1.5M396 337.8h4.5M236.5 338.8h1.5M242.5 338.8h1.5M254.6 338.8h1.5M260.6 338.8h1.5M271.1 338.8h1.5M274.1 338.8h1.5M277.1 338.8h1.5M280.1 338.8h1.5M286.2 338.8h1.5M290.7 338.8h1.5M298.2 338.8h1.5M302.7 338.8h1.5M307.2 338.8h1.5M314.7 338.8h1.5M320.8 338.8h1.5M325.3 338.8h1.5M331.3 338.8h1.5M268.1 339.8h1.5M271.1 339.8h3M281.6 339.8h1.5M292.2 339.8h4.5M298.2 339.8h1.5M308.7 339.8h1.5M320.8 339.8h1.5M323.8 339.8h1.5M326.8 339.8h3M334.3 339.8h1.5M338.8 339.8h4.5M347.8 339.8h1.5M350.8 339.8h1.5M353.8 339.8h1.5M365.9 339.8h1.5M379.4 339.8h1.5M394.5 339.8h3M262.1 340.8h1.5M281.6 340.8h1.5M286.2 340.8h1.5M292.2 340.8h4.5M311.7 340.8h1.5M314.7 340.8h1.5M317.7 340.8h1.5M323.8 340.8h3M328.3 340.8h3M337.3 340.8h1.5M341.8 340.8h1.5M344.8 340.8h1.5M349.3 340.8h1.5M356.9 340.8h1.5M370.4 340.8h1.5M374.9 340.8h1.5M396 340.8h1.5M402 340.8h1.5M280.1 341.8h1.5M283.1 341.8h1.5M295.2 341.8h1.5M310.2 341.8h1.5M313.2 341.8h6M323.8 341.8h1.5M361.4 341.8h1.5M367.4 341.8h1.5M377.9 341.8h1.5M386.9 341.8h1.5M403.5 341.8h1.5M406.5 341.8h1.5M262.1 342.8h1.5M277.1 342.8h1.5M292.2 342.8h1.5M308.7 342.8h1.5M313.2 342.8h1.5M317.7 342.8h1.5M338.8 342.8h1.5M347.8 342.8h1.5M352.3 342.8h3M370.4 342.8h1.5M373.4 342.8h1.5M379.4 342.8h3M391.4 342.8h1.5M254.6 343.8h1.5M271.1 343.8h1.5M284.6 343.8h1.5M304.2 343.8h1.5M307.2 343.8h1.5M320.8 343.8h1.5M325.3 343.8h1.5M328.3 343.8h1.5M332.8 343.8h1.5M338.8 343.8h3M347.8 343.8h1.5M350.8 343.8h1.5M353.8 343.8h1.5M373.4 343.8h3M380.9 343.8h1.5M388.4 343.8h1.5M396 343.8h1.5M409.5 343.8h1.5M271.1 344.8h1.5M278.6 344.8h3M302.7 344.8h1.5M307.2 344.8h1.5M311.7 344.8h1.5M319.2 344.8h3M326.8 344.8h1.5M332.8 344.8h3M340.3 344.8h1.5M349.3 344.8h1.5M352.3 344.8h3M356.9 344.8h1.5M367.4 344.8h1.5M400.5 344.8h1.5M233.5 345.8h1.5M245.5 345.8h1.5M253.1 345.8h1.5M277.1 345.8h1.5M286.2 345.8h3M290.7 345.8h3M308.7 345.8h1.5M314.7 345.8h1.5M320.8 345.8h1.5M326.8 345.8h1.5M341.8 345.8h3M352.3 345.8h1.5M364.4 345.8h3M399 345.8h1.5M254.6 346.8h3M260.6 346.8h1.5M281.6 346.8h1.5M286.2 346.8h3M305.7 346.8h1.5M320.8 346.8h1.5M325.3 346.8h3M332.8 346.8h3M337.3 346.8h3M349.3 346.8h1.5M355.3 346.8h1.5M364.4 346.8h3M370.4 346.8h1.5M376.4 346.8h1.5M379.4 346.8h1.5M399 346.8h1.5M403.5 346.8h1.5M408 346.8h1.5M253.1 347.8h1.5M262.1 347.8h1.5M286.2 347.8h1.5M290.7 347.8h1.5M293.7 347.8h1.5M296.7 347.8h1.5M299.7 347.8h1.5M302.7 347.8h1.5M311.7 347.8h1.5M316.2 347.8h1.5M320.8 347.8h1.5M326.8 347.8h1.5M331.3 347.8h1.5M340.3 347.8h1.5M346.3 347.8h3M359.9 347.8h1.5M364.4 347.8h1.5M377.9 347.8h1.5M386.9 347.8h1.5M402 347.8h1.5M260.6 348.8h1.5M274.1 348.8h1.5M278.6 348.8h1.5M295.2 348.8h1.5M301.2 348.8h3M311.7 348.8h1.5M316.2 348.8h1.5M322.3 348.8h1.5M331.3 348.8h3M340.3 348.8h1.5M346.3 348.8h1.5M350.8 348.8h1.5M353.8 348.8h1.5M371.9 348.8h1.5M400.5 348.8h1.5M257.6 349.8h1.5M266.6 349.8h1.5M274.1 349.8h1.5M280.1 349.8h1.5M292.2 349.8h3M302.7 349.8h1.5M328.3 349.8h1.5M334.3 349.8h1.5M337.3 349.8h1.5M340.3 349.8h1.5M343.3 349.8h1.5M359.9 349.8h1.5M362.9 349.8h1.5M370.4 349.8h1.5M409.5 349.8h1.5M269.6 350.8h1.5M286.2 350.8h1.5M293.7 350.8h1.5M299.7 350.8h1.5M304.2 350.8h1.5M308.7 350.8h4.5M314.7 350.8h1.5M323.8 350.8h3M343.3 350.8h4.5M368.9 350.8h1.5M373.4 350.8h1.5M383.9 350.8h1.5M391.4 350.8h1.5M394.5 350.8h1.5M274.1 351.8h1.5M281.6 351.8h1.5M290.7 351.8h3M298.2 351.8h1.5M308.7 351.8h1.5M314.7 351.8h1.5M317.7 351.8h1.5M323.8 351.8h1.5M326.8 351.8h1.5M337.3 351.8h1.5M355.3 351.8h1.5M379.4 351.8h1.5M402 351.8h1.5M277.1 352.8h1.5M280.1 352.8h3M302.7 352.8h3M307.2 352.8h3M320.8 352.8h1.5M332.8 352.8h1.5M337.3 352.8h1.5M349.3 352.8h1.5M362.9 352.8h4.5M373.4 352.8h1.5M377.9 352.8h1.5M380.9 352.8h1.5M383.9 352.8h1.5M386.9 352.8h1.5M396 352.8h1.5M409.5 352.8h1.5M271.1 353.8h1.5M274.1 353.8h1.5M283.1 353.8h1.5M286.2 353.8h3M302.7 353.8h1.5M310.2 353.8h1.5M316.2 353.8h4.5M323.8 353.8h1.5M328.3 353.8h1.5M331.3 353.8h3M347.8 353.8h1.5M350.8 353.8h3M373.4 353.8h1.5M376.4 353.8h1.5M386.9 353.8h1.5M263.6 354.8h1.5M272.6 354.8h1.5M293.7 354.8h1.5M296.7 354.8h1.5M299.7 354.8h1.5M304.2 354.8h1.5M308.7 354.8h1.5M311.7 354.8h1.5M316.2 354.8h6M323.8 354.8h1.5M328.3 354.8h3M341.8 354.8h1.5M350.8 354.8h1.5M361.4 354.8h1.5M364.4 354.8h1.5M379.4 354.8h3M385.4 354.8h1.5M409.5 354.8h1.5M253.1 355.8h1.5M274.1 355.8h1.5M283.1 355.8h1.5M293.7 355.8h1.5M298.2 355.8h1.5M304.2 355.8h1.5M308.7 355.8h1.5M311.7 355.8h1.5M316.2 355.8h1.5M323.8 355.8h1.5M335.8 355.8h1.5M340.3 355.8h1.5M344.8 355.8h1.5M359.9 355.8h7.5M373.4 355.8h1.5M377.9 355.8h1.5M392.9 355.8h1.5M396 355.8h1.5M408 355.8h3M236.5 356.8h1.5M269.6 356.8h1.5M275.6 356.8h1.5M280.1 356.8h1.5M283.1 356.8h1.5M290.7 356.8h1.5M299.7 356.8h1.5M308.7 356.8h1.5M313.2 356.8h1.5M322.3 356.8h3M328.3 356.8h1.5M331.3 356.8h3M347.8 356.8h1.5M352.3 356.8h1.5M370.4 356.8h1.5M391.4 356.8h3M253.1 357.8h1.5M281.6 357.8h1.5M290.7 357.8h1.5M308.7 357.8h1.5M311.7 357.8h3M323.8 357.8h1.5M326.8 357.8h1.5M329.8 357.8h1.5M337.3 357.8h3M343.3 357.8h1.5M346.3 357.8h1.5M349.3 357.8h3M359.9 357.8h3M364.4 357.8h1.5M380.9 357.8h1.5M392.9 357.8h1.5M400.5 357.8h1.5M298.2 358.8h1.5M311.7 358.8h1.5M320.8 358.8h1.5M332.8 358.8h1.5M341.8 358.8h1.5M349.3 358.8h3M355.3 358.8h1.5M362.9 358.8h4.5M377.9 358.8h1.5M385.4 358.8h1.5M391.4 358.8h1.5M397.5 358.8h1.5M406.5 358.8h1.5M409.5 358.8h1.5M304.2 359.8h1.5M310.2 359.8h1.5M313.2 359.8h1.5M316.2 359.8h1.5M320.8 359.8h3M340.3 359.8h1.5M358.4 359.8h1.5M361.4 359.8h1.5M364.4 359.8h1.5M379.4 359.8h4.5M394.5 359.8h1.5" stroke="#fad3aa" stroke-width="1.05" fill="none"/>
<path d="M235 277.7h1.5M242.5 277.7h1.5M248.6 277.7h1.5M262.1 277.7h1.5M266.6 277.7h1.5M277.1 277.7h3M283.1 277.7h1.5M293.7 277.7h3M298.2 277.7h1.5M302.7 277.7h1.5M311.7 277.7h1.5M314.7 277.7h3M331.3 277.7h1.5M340.3 277.7h1.5M346.3 277.7h6M361.4 277.7h3M367.4 277.7h3M374.9 277.7h1.5M377.9 277.7h1.5M382.4 277.7h1.5M392.9 277.7h1.5M396 277.7h4.5M402 277.7h1.5M233.5 278.7h3M247 278.7h1.5M256.1 278.7h1.5M284.6 278.7h1.5M290.7 278.7h1.5M295.2 278.7h3M302.7 278.7h3M320.8 278.7h3M337.3 278.7h1.5M349.3 278.7h1.5M352.3 278.7h1.5M361.4 278.7h1.5M368.9 278.7h1.5M377.9 278.7h4.5M396 278.7h1.5M406.5 278.7h1.5M257.6 279.7h1.5M275.6 279.7h1.5M280.1 279.7h1.5M298.2 279.7h1.5M304.2 279.7h3M325.3 279.7h1.5M328.3 279.7h1.5M331.3 279.7h1.5M334.3 279.7h1.5M346.3 279.7h3M352.3 279.7h1.5M358.4 279.7h1.5M365.9 279.7h1.5M374.9 279.7h1.5M389.9 279.7h1.5M400.5 279.7h3M233.5 280.7h3M238 280.7h1.5M241 280.7h3M247 280.7h1.5M253.1 280.7h1.5M256.1 280.7h1.5M269.6 280.7h1.5M275.6 280.7h1.5M283.1 280.7h1.5M293.7 280.7h1.5M301.2 280.7h3M305.7 280.7h1.5M311.7 280.7h1.5M317.7 280.7h6M325.3 280.7h1.5M328.3 280.7h1.5M334.3 280.7h1.5M341.8 280.7h1.5M344.8 280.7h1.5M349.3 280.7h3M356.9 280.7h3M364.4 280.7h1.5M371.9 280.7h1.5M383.9 280.7h3M394.5 280.7h1.5M400.5 280.7h3M405 280.7h1.5M408 280.7h1.5M236.5 281.7h1.5M239.5 281.7h1.5M244 281.7h1.5M257.6 281.7h1.5M293.7 281.7h1.5M308.7 281.7h1.5M323.8 281.7h1.5M334.3 281.7h1.5M344.8 281.7h1.5M358.4 281.7h3M367.4 281.7h1.5M370.4 281.7h1.5M383.9 281.7h1.5M394.5 281.7h1.5M400.5 281.7h1.5M406.5 281.7h3M230.5 282.7h3M235 282.7h1.5M239.5 282.7h4.5M251.6 282.7h1.5M275.6 282.7h1.5M281.6 282.7h4.5M313.2 282.7h3M325.3 282.7h1.5M328.3 282.7h1.5M340.3 282.7h3M346.3 282.7h1.5M358.4 282.7h1.5M365.9 282.7h1.5M379.4 282.7h3M388.4 282.7h1.5M391.4 282.7h1.5M399 282.7h1.5M402 282.7h1.5M408 282.7h1.5M230.5 283.7h1.5M239.5 283.7h3M244 283.7h1.5M247 283.7h3M259.1 283.7h1.5M263.6 283.7h1.5M266.6 283.7h1.5M284.6 283.7h1.5M287.7 283.7h1.5M295.2 283.7h1.5M301.2 283.7h1.5M304.2 283.7h1.5M307.2 283.7h3M314.7 283.7h1.5M317.7 283.7h1.5M331.3 283.7h1.5M340.3 283.7h1.5M352.3 283.7h1.5M358.4 283.7h1.5M379.4 283.7h1.5M383.9 283.7h1.5M392.9 283.7h1.5M400.5 283.7h3M245.5 284.7h1.5M257.6 284.7h1.5M268.1 284.7h3M275.6 284.7h1.5M284.6 284.7h3M296.7 284.7h1.5M317.7 284.7h4.5M325.3 284.7h1.5M329.8 284.7h1.5M337.3 284.7h1.5M346.3 284.7h1.5M350.8 284.7h1.5M355.3 284.7h1.5M361.4 284.7h1.5M370.4 284.7h1.5M373.4 284.7h1.5M376.4 284.7h1.5M380.9 284.7h1.5M386.9 284.7h1.5M389.9 284.7h1.5M394.5 284.7h1.5M397.5 284.7h3M247 285.7h1.5M253.1 285.7h1.5M257.6 285.7h1.5M260.6 285.7h1.5M268.1 285.7h1.5M275.6 285.7h1.5M278.6 285.7h1.5M284.6 285.7h1.5M292.2 285.7h3M302.7 285.7h3M316.2 285.7h1.5M331.3 285.7h1.5M346.3 285.7h1.5M358.4 285.7h1.5M373.4 285.7h1.5M376.4 285.7h1.5M379.4 285.7h1.5M397.5 285.7h1.5M230.5 286.7h1.5M248.6 286.7h1.5M295.2 286.7h1.5M325.3 286.7h1.5M340.3 286.7h1.5M352.3 286.7h3M362.9 286.7h3M396 286.7h1.5M403.5 286.7h1.5M406.5 286.7h1.5M230.5 287.7h1.5M235 287.7h1.5M239.5 287.7h1.5M242.5 287.7h4.5M254.6 287.7h1.5M266.6 287.7h1.5M283.1 287.7h1.5M292.2 287.7h1.5M295.2 287.7h1.5M302.7 287.7h1.5M313.2 287.7h1.5M316.2 287.7h4.5M329.8 287.7h1.5M347.8 287.7h4.5M358.4 287.7h3M367.4 287.7h1.5M371.9 287.7h1.5M379.4 287.7h1.5M386.9 287.7h1.5M392.9 287.7h1.5M397.5 287.7h1.5M400.5 287.7h1.5M409.5 287.7h1.5M236.5 288.7h1.5M242.5 288.7h1.5M247 288.7h1.5M251.6 288.7h3M260.6 288.7h1.5M283.1 288.7h1.5M289.2 288.7h3M298.2 288.7h3M304.2 288.7h1.5M316.2 288.7h1.5M319.2 288.7h1.5M322.3 288.7h3M326.8 288.7h1.5M332.8 288.7h1.5M335.8 288.7h3M346.3 288.7h1.5M349.3 288.7h1.5M352.3 288.7h1.5M355.3 288.7h1.5M361.4 288.7h1.5M368.9 288.7h1.5M371.9 288.7h1.5M374.9 288.7h1.5M389.9 288.7h1.5M397.5 288.7h1.5M402 288.7h1.5M405 288.7h1.5M241 289.7h1.5M248.6 289.7h3M254.6 289.7h1.5M268.1 289.7h1.5M298.2 289.7h1.5M302.7 289.7h3M310.2 289.7h1.5M329.8 289.7h1.5M332.8 289.7h6M346.3 289.7h3M350.8 289.7h1.5M355.3 289.7h1.5M361.4 289.7h3M367.4 289.7h1.5M371.9 289.7h1.5M374.9 289.7h1.5M382.4 289.7h1.5M386.9 289.7h1.5M391.4 289.7h1.5M399 289.7h3M403.5 289.7h1.5M406.5 289.7h3M232 290.7h1.5M236.5 290.7h1.5M256.1 290.7h1.5M259.1 290.7h1.5M275.6 290.7h1.5M280.1 290.7h1.5M286.2 290.7h3M290.7 290.7h1.5M298.2 290.7h3M307.2 290.7h1.5M310.2 290.7h1.5M313.2 290.7h4.5M319.2 290.7h1.5M328.3 290.7h1.5M353.8 290.7h1.5M356.9 290.7h3M361.4 290.7h3M367.4 290.7h1.5M374.9 290.7h1.5M380.9 290.7h1.5M385.4 290.7h1.5M391.4 290.7h1.5M396 290.7h1.5M400.5 290.7h1.5M409.5 290.7h1.5M235 291.7h3M242.5 291.7h1.5M247 291.7h1.5M266.6 291.7h1.5M274.1 291.7h1.5M277.1 291.7h1.5M296.7 291.7h1.5M304.2 291.7h1.5M307.2 291.7h1.5M311.7 291.7h1.5M316.2 291.7h1.5M322.3 291.7h1.5M328.3 291.7h1.5M334.3 291.7h3M338.8 291.7h1.5M352.3 291.7h1.5M364.4 291.7h4.5M370.4 291.7h1.5M380.9 291.7h1.5M385.4 291.7h4.5M394.5 291.7h1.5M399 291.7h1.5M402 291.7h1.5M405 291.7h1.5M408 291.7h3M242.5 292.7h1.5M247 292.7h3M256.1 292.7h1.5M269.6 292.7h1.5M280.1 292.7h1.5M286.2 292.7h1.5M298.2 292.7h1.5M304.2 292.7h1.5M310.2 292.7h3M326.8 292.7h1.5M329.8 292.7h1.5M337.3 292.7h4.5M356.9 292.7h1.5M367.4 292.7h3M373.4 292.7h3M377.9 292.7h1.5M380.9 292.7h1.5M392.9 292.7h1.5M406.5 292.7h1.5M409.5 292.7h1.5M232 293.7h1.5M236.5 293.7h1.5M265.1 293.7h1.5M278.6 293.7h1.5M283.1 293.7h1.5M290.7 293.7h1.5M295.2 293.7h3M302.7 293.7h1.5M320.8 293.7h3M328.3 293.7h1.5M361.4 293.7h1.5M374.9 293.7h1.5M388.4 293.7h1.5M391.4 293.7h1.5M239.5 294.7h1.5M242.5 294.7h1.5M245.5 294.7h1.5M257.6 294.7h1.5M260.6 294.7h1.5M266.6 294.7h1.5M271.1 294.7h3M277.1 294.7h1.5M281.6 294.7h4.5M287.7 294.7h1.5M290.7 294.7h1.5M293.7 294.7h1.5M296.7 294.7h1.5M302.7 294.7h1.5M311.7 294.7h1.5M316.2 294.7h3M322.3 294.7h1.5M338.8 294.7h4.5M349.3 294.7h3M358.4 294.7h1.5M364.4 294.7h3M370.4 294.7h1.5M373.4 294.7h1.5M380.9 294.7h1.5M396 294.7h1.5M232 295.7h1.5M247 295.7h1.5M251.6 295.7h1.5M256.1 295.7h4.5M269.6 295.7h3M274.1 295.7h3M298.2 295.7h1.5M304.2 295.7h3M308.7 295.7h3M320.8 295.7h1.5M367.4 295.7h4.5M380.9 295.7h1.5M383.9 295.7h4.5M396 295.7h1.5M402 295.7h1.5M408 295.7h1.5M233.5 296.7h3M241 296.7h1.5M248.6 296.7h1.5M262.1 296.7h4.5M274.1 296.7h1.5M286.2 296.7h1.5M290.7 296.7h1.5M296.7 296.7h1.5M302.7 296.7h1.5M317.7 296.7h1.5M331.3 296.7h1.5M341.8 296.7h3M346.3 296.7h1.5M353.8 296.7h1.5M361.4 296.7h1.5M364.4 296.7h1.5M367.4 296.7h1.5M371.9 296.7h1.5M382.4 296.7h1.5M388.4 296.7h1.5M397.5 296.7h1.5M405 296.7h1.5M408 296.7h1.5M239.5 297.7h1.5M242.5 297.7h1.5M248.6 297.7h1.5M257.6 297.7h1.5M269.6 297.7h1.5M278.6 297.7h4.5M293.7 297.7h1.5M307.2 297.7h1.5M314.7 297.7h1.5M317.7 297.7h3M322.3 297.7h1.5M325.3 297.7h3M329.8 297.7h1.5M334.3 297.7h1.5M341.8 297.7h1.5M346.3 297.7h1.5M349.3 297.7h1.5M352.3 297.7h1.5M355.3 297.7h1.5M364.4 297.7h1.5M371.9 297.7h3M380.9 297.7h1.5M392.9 297.7h1.5M408 297.7h1.5M230.5 298.7h1.5M247 298.7h3M251.6 298.7h1.5M262.1 298.7h1.5M274.1 298.7h4.5M280.1 298.7h1.5M289.2 298.7h3M293.7 298.7h1.5M305.7 298.7h3M313.2 298.7h3M317.7 298.7h3M334.3 298.7h3M340.3 298.7h3M349.3 298.7h1.5M361.4 298.7h1.5M368.9 298.7h1.5M371.9 298.7h1.5M376.4 298.7h4.5M397.5 298.7h3M233.5 299.7h3M245.5 299.7h1.5M250.1 299.7h1.5M254.6 299.7h1.5M265.1 299.7h1.5M269.6 299.7h1.5M280.1 299.7h1.5M296.7 299.7h1.5M299.7 299.7h4.5M307.2 299.7h1.5M310.2 299.7h1.5M313.2 299.7h1.5M316.2 299.7h1.5M323.8 299.7h1.5M328.3 299.7h1.5M331.3 299.7h1.5M334.3 299.7h1.5M344.8 299.7h1.5M352.3 299.7h3M365.9 299.7h1.5M376.4 299.7h4.5M385.4 299.7h4.5M392.9 299.7h1.5M397.5 299.7h1.5M406.5 299.7h1.5M233.5 300.7h1.5M244 300.7h1.5M256.1 300.7h1.5M262.1 300.7h1.5M265.1 300.7h3M277.1 300.7h1.5M298.2 300.7h1.5M307.2 300.7h1.5M317.7 300.7h4.5M326.8 300.7h3M338.8 300.7h1.5M349.3 300.7h1.5M352.3 300.7h3M362.9 300.7h6M370.4 300.7h3M379.4 300.7h3M389.9 300.7h1.5M394.5 300.7h1.5M399 300.7h1.5M265.1 301.7h1.5M272.6 301.7h1.5M277.1 301.7h1.5M286.2 301.7h1.5M296.7 301.7h4.5M319.2 301.7h1.5M328.3 301.7h4.5M334.3 301.7h1.5M344.8 301.7h3M361.4 301.7h1.5M364.4 301.7h7.5M373.4 301.7h1.5M376.4 301.7h1.5M383.9 301.7h1.5M386.9 301.7h3M394.5 301.7h4.5M403.5 301.7h1.5M406.5 301.7h1.5M247 302.7h1.5M277.1 302.7h1.5M326.8 302.7h1.5M331.3 302.7h1.5M334.3 302.7h1.5M338.8 302.7h1.5M347.8 302.7h1.5M350.8 302.7h1.5M388.4 302.7h1.5M391.4 302.7h1.5M399 302.7h1.5M406.5 302.7h1.5M230.5 303.7h1.5M241 303.7h1.5M248.6 303.7h1.5M253.1 303.7h1.5M274.1 303.7h1.5M283.1 303.7h4.5M289.2 303.7h1.5M302.7 303.7h1.5M305.7 303.7h3M310.2 303.7h1.5M320.8 303.7h1.5M331.3 303.7h1.5M337.3 303.7h3M352.3 303.7h1.5M373.4 303.7h1.5M376.4 303.7h1.5M391.4 303.7h1.5M399 303.7h1.5M402 303.7h3M406.5 303.7h1.5M250.1 304.7h1.5M257.6 304.7h1.5M266.6 304.7h1.5M281.6 304.7h1.5M284.6 304.7h1.5M290.7 304.7h3M314.7 304.7h1.5M331.3 304.7h3M346.3 304.7h1.5M356.9 304.7h1.5M391.4 304.7h1.5M396 304.7h1.5M399 304.7h1.5M408 304.7h1.5M232 305.7h3M239.5 305.7h1.5M242.5 305.7h1.5M263.6 305.7h1.5M274.1 305.7h3M298.2 305.7h1.5M307.2 305.7h1.5M313.2 305.7h1.5M323.8 305.7h6M334.3 305.7h1.5M337.3 305.7h1.5M349.3 305.7h3M362.9 305.7h1.5M367.4 305.7h1.5M376.4 305.7h1.5M383.9 305.7h3M403.5 305.7h1.5M230.5 306.7h1.5M235 306.7h1.5M245.5 306.7h1.5M254.6 306.7h4.5M268.1 306.7h1.5M275.6 306.7h1.5M290.7 306.7h1.5M298.2 306.7h1.5M307.2 306.7h1.5M310.2 306.7h4.5M316.2 306.7h3M329.8 306.7h4.5M335.8 306.7h3M341.8 306.7h4.5M359.9 306.7h1.5M362.9 306.7h1.5M365.9 306.7h1.5M373.4 306.7h3M383.9 306.7h1.5M386.9 306.7h1.5M392.9 306.7h1.5M397.5 306.7h6M409.5 306.7h1.5M230.5 307.7h1.5M235 307.7h1.5M251.6 307.7h1.5M257.6 307.7h1.5M269.6 307.7h1.5M275.6 307.7h1.5M289.2 307.7h1.5M295.2 307.7h1.5M299.7 307.7h1.5M307.2 307.7h1.5M310.2 307.7h1.5M328.3 307.7h1.5M332.8 307.7h1.5M338.8 307.7h4.5M344.8 307.7h1.5M359.9 307.7h1.5M362.9 307.7h1.5M365.9 307.7h1.5M368.9 307.7h1.5M380.9 307.7h3M391.4 307.7h1.5M403.5 307.7h1.5M406.5 307.7h1.5M236.5 308.7h1.5M239.5 308.7h3M247 308.7h1.5M250.1 308.7h1.5M256.1 308.7h1.5M259.1 308.7h1.5M262.1 308.7h1.5M269.6 308.7h1.5M277.1 308.7h3M281.6 308.7h1.5M284.6 308.7h3M293.7 308.7h3M299.7 308.7h1.5M302.7 308.7h1.5M317.7 308.7h1.5M322.3 308.7h3M331.3 308.7h1.5M338.8 308.7h1.5M343.3 308.7h1.5M358.4 308.7h1.5M364.4 308.7h1.5M368.9 308.7h1.5M374.9 308.7h1.5M385.4 308.7h4.5M392.9 308.7h3M233.5 309.7h1.5M251.6 309.7h1.5M256.1 309.7h1.5M262.1 309.7h1.5M266.6 309.7h1.5M272.6 309.7h3M286.2 309.7h1.5M292.2 309.7h1.5M295.2 309.7h1.5M302.7 309.7h3M308.7 309.7h1.5M311.7 309.7h1.5M317.7 309.7h1.5M322.3 309.7h1.5M328.3 309.7h1.5M341.8 309.7h1.5M347.8 309.7h1.5M350.8 309.7h1.5M361.4 309.7h1.5M367.4 309.7h1.5M370.4 309.7h7.5M389.9 309.7h6M399 309.7h1.5M402 309.7h3M408 309.7h3M230.5 310.7h1.5M233.5 310.7h1.5M236.5 310.7h1.5M247 310.7h1.5M274.1 310.7h1.5M278.6 310.7h1.5M287.7 310.7h1.5M311.7 310.7h1.5M320.8 310.7h1.5M337.3 310.7h1.5M340.3 310.7h1.5M350.8 310.7h3M362.9 310.7h1.5M365.9 310.7h1.5M368.9 310.7h1.5M376.4 310.7h1.5M385.4 310.7h1.5M396 310.7h1.5M406.5 310.7h1.5M241 311.7h1.5M244 311.7h6M251.6 311.7h1.5M260.6 311.7h1.5M268.1 311.7h1.5M278.6 311.7h1.5M281.6 311.7h1.5M287.7 311.7h1.5M296.7 311.7h1.5M302.7 311.7h1.5M308.7 311.7h4.5M317.7 311.7h3M322.3 311.7h1.5M331.3 311.7h1.5M338.8 311.7h1.5M344.8 311.7h1.5M362.9 311.7h4.5M368.9 311.7h1.5M374.9 311.7h1.5M385.4 311.7h4.5M396 311.7h1.5M400.5 311.7h1.5M238 312.7h1.5M242.5 312.7h1.5M250.1 312.7h1.5M260.6 312.7h1.5M263.6 312.7h1.5M272.6 312.7h3M277.1 312.7h1.5M283.1 312.7h3M289.2 312.7h1.5M299.7 312.7h1.5M307.2 312.7h1.5M317.7 312.7h1.5M322.3 312.7h3M332.8 312.7h4.5M341.8 312.7h1.5M352.3 312.7h3M356.9 312.7h1.5M361.4 312.7h1.5M365.9 312.7h1.5M376.4 312.7h1.5M379.4 312.7h1.5M383.9 312.7h1.5M391.4 312.7h1.5M403.5 312.7h1.5M409.5 312.7h1.5M238 313.7h1.5M250.1 313.7h1.5M286.2 313.7h4.5M296.7 313.7h1.5M310.2 313.7h1.5M316.2 313.7h1.5M320.8 313.7h1.5M326.8 313.7h1.5M332.8 313.7h3M338.8 313.7h1.5M346.3 313.7h4.5M365.9 313.7h1.5M373.4 313.7h3M396 313.7h1.5M405 313.7h1.5M235 314.7h1.5M238 314.7h1.5M248.6 314.7h1.5M268.1 314.7h3M272.6 314.7h4.5M280.1 314.7h1.5M286.2 314.7h3M293.7 314.7h1.5M296.7 314.7h1.5M302.7 314.7h1.5M310.2 314.7h1.5M323.8 314.7h1.5M334.3 314.7h1.5M337.3 314.7h1.5M340.3 314.7h1.5M350.8 314.7h1.5M359.9 314.7h1.5M364.4 314.7h4.5M376.4 314.7h1.5M386.9 314.7h3M391.4 314.7h1.5M244 315.7h1.5M248.6 315.7h1.5M256.1 315.7h1.5M265.1 315.7h1.5M274.1 315.7h1.5M326.8 315.7h1.5M337.3 315.7h1.5M350.8 315.7h1.5M383.9 315.7h1.5M394.5 315.7h1.5M399 315.7h1.5M402 315.7h1.5M406.5 315.7h1.5M239.5 316.7h3M245.5 316.7h1.5M254.6 316.7h1.5M257.6 316.7h1.5M268.1 316.7h1.5M271.1 316.7h3M281.6 316.7h3M292.2 316.7h3M299.7 316.7h1.5M304.2 316.7h1.5M308.7 316.7h1.5M314.7 316.7h1.5M325.3 316.7h4.5M334.3 316.7h1.5M337.3 316.7h1.5M349.3 316.7h1.5M353.8 316.7h3M361.4 316.7h1.5M364.4 316.7h1.5M368.9 316.7h1.5M376.4 316.7h3M391.4 316.7h1.5M397.5 316.7h1.5M405 316.7h1.5M241 317.7h1.5M250.1 317.7h1.5M275.6 317.7h1.5M278.6 317.7h1.5M299.7 317.7h1.5M304.2 317.7h1.5M314.7 317.7h1.5M331.3 317.7h1.5M347.8 317.7h3M355.3 317.7h3M359.9 317.7h1.5M376.4 317.7h1.5M383.9 317.7h1.5M388.4 317.7h1.5M392.9 317.7h1.5M396 317.7h1.5M400.5 317.7h1.5M409.5 317.7h1.5M235 318.8h1.5M239.5 318.8h1.5M242.5 318.8h1.5M250.1 318.8h1.5M257.6 318.8h1.5M274.1 318.8h3M278.6 318.8h3M296.7 318.8h1.5M299.7 318.8h1.5M302.7 318.8h1.5M305.7 318.8h1.5M310.2 318.8h1.5M314.7 318.8h3M320.8 318.8h1.5M328.3 318.8h1.5M332.8 318.8h1.5M338.8 318.8h1.5M341.8 318.8h1.5M344.8 318.8h1.5M350.8 318.8h1.5M353.8 318.8h3M367.4 318.8h1.5M379.4 318.8h1.5M385.4 318.8h1.5M388.4 318.8h3M396 318.8h7.5M263.6 319.8h1.5M274.1 319.8h1.5M280.1 319.8h4.5M293.7 319.8h1.5M298.2 319.8h1.5M305.7 319.8h1.5M310.2 319.8h1.5M313.2 319.8h1.5M322.3 319.8h1.5M332.8 319.8h1.5M337.3 319.8h3M353.8 319.8h1.5M356.9 319.8h1.5M361.4 319.8h1.5M370.4 319.8h1.5M374.9 319.8h3M383.9 319.8h1.5M399 319.8h1.5M408 319.8h3M251.6 320.8h1.5M268.1 320.8h1.5M271.1 320.8h1.5M280.1 320.8h1.5M283.1 320.8h1.5M293.7 320.8h4.5M299.7 320.8h1.5M302.7 320.8h3M307.2 320.8h1.5M317.7 320.8h1.5M325.3 320.8h1.5M332.8 320.8h1.5M350.8 320.8h1.5M396 320.8h1.5M251.6 321.8h1.5M262.1 321.8h1.5M268.1 321.8h3M305.7 321.8h1.5M311.7 321.8h1.5M326.8 321.8h3M337.3 321.8h3M380.9 321.8h3M247 322.8h1.5M250.1 322.8h1.5M253.1 322.8h1.5M260.6 322.8h1.5M265.1 322.8h4.5M275.6 322.8h1.5M280.1 322.8h1.5M283.1 322.8h1.5M293.7 322.8h1.5M299.7 322.8h1.5M302.7 322.8h1.5M319.2 322.8h6M329.8 322.8h3M343.3 322.8h1.5M352.3 322.8h1.5M377.9 322.8h1.5M389.9 322.8h1.5M394.5 322.8h1.5M397.5 322.8h1.5M408 322.8h3M248.6 323.8h1.5M260.6 323.8h1.5M275.6 323.8h1.5M281.6 323.8h1.5M284.6 323.8h1.5M287.7 323.8h1.5M295.2 323.8h1.5M299.7 323.8h1.5M308.7 323.8h1.5M314.7 323.8h1.5M332.8 323.8h1.5M340.3 323.8h1.5M365.9 323.8h1.5M370.4 323.8h1.5M376.4 323.8h1.5M245.5 324.8h1.5M251.6 324.8h1.5M259.1 324.8h1.5M266.6 324.8h1.5M269.6 324.8h1.5M277.1 324.8h6M287.7 324.8h3M295.2 324.8h1.5M299.7 324.8h1.5M313.2 324.8h1.5M326.8 324.8h1.5M350.8 324.8h1.5M373.4 324.8h1.5M397.5 324.8h1.5M259.1 325.8h1.5M271.1 325.8h1.5M280.1 325.8h1.5M293.7 325.8h1.5M296.7 325.8h1.5M310.2 325.8h1.5M319.2 325.8h1.5M322.3 325.8h3M328.3 325.8h1.5M359.9 325.8h1.5M373.4 325.8h1.5M399 325.8h1.5M263.6 326.8h3M269.6 326.8h1.5M313.2 326.8h3M322.3 326.8h1.5M329.8 326.8h1.5M347.8 326.8h3M352.3 326.8h1.5M361.4 326.8h1.5M380.9 326.8h1.5M388.4 326.8h1.5M396 326.8h1.5M400.5 326.8h1.5M408 326.8h1.5M236.5 327.8h1.5M253.1 327.8h1.5M259.1 327.8h1.5M265.1 327.8h1.5M268.1 327.8h3M275.6 327.8h1.5M278.6 327.8h3M290.7 327.8h3M299.7 327.8h1.5M304.2 327.8h1.5M310.2 327.8h1.5M314.7 327.8h3M326.8 327.8h1.5M331.3 327.8h1.5M338.8 327.8h1.5M344.8 327.8h1.5M349.3 327.8h1.5M353.8 327.8h1.5M383.9 327.8h1.5M391.4 327.8h1.5M400.5 327.8h1.5M247 328.8h1.5M257.6 328.8h1.5M263.6 328.8h1.5M271.1 328.8h1.5M274.1 328.8h1.5M284.6 328.8h1.5M287.7 328.8h1.5M299.7 328.8h1.5M302.7 328.8h1.5M305.7 328.8h1.5M308.7 328.8h1.5M328.3 328.8h1.5M340.3 328.8h3M344.8 328.8h1.5M355.3 328.8h1.5M396 328.8h3M236.5 329.8h1.5M242.5 329.8h1.5M253.1 329.8h3M257.6 329.8h3M263.6 329.8h1.5M271.1 329.8h3M277.1 329.8h1.5M281.6 329.8h3M296.7 329.8h1.5M307.2 329.8h1.5M317.7 329.8h1.5M325.3 329.8h1.5M337.3 329.8h3M343.3 329.8h1.5M352.3 329.8h1.5M364.4 329.8h1.5M383.9 329.8h3M394.5 329.8h1.5M271.1 330.8h1.5M274.1 330.8h1.5M296.7 330.8h1.5M299.7 330.8h1.5M304.2 330.8h1.5M307.2 330.8h3M320.8 330.8h1.5M328.3 330.8h3M334.3 330.8h3M346.3 330.8h1.5M349.3 330.8h1.5M359.9 330.8h1.5M367.4 330.8h1.5M371.9 330.8h1.5M377.9 330.8h1.5M380.9 330.8h1.5M386.9 330.8h1.5M402 330.8h1.5M408 330.8h1.5M289.2 331.8h1.5M299.7 331.8h1.5M302.7 331.8h3M308.7 331.8h1.5M319.2 331.8h1.5M328.3 331.8h3M335.8 331.8h1.5M338.8 331.8h1.5M356.9 331.8h3M364.4 331.8h1.5M367.4 331.8h1.5M370.4 331.8h1.5M388.4 331.8h4.5M397.5 331.8h1.5M402 331.8h1.5M405 331.8h1.5M408 331.8h1.5M251.6 332.8h1.5M265.1 332.8h1.5M290.7 332.8h1.5M308.7 332.8h1.5M316.2 332.8h1.5M322.3 332.8h1.5M349.3 332.8h1.5M358.4 332.8h1.5M371.9 332.8h1.5M374.9 332.8h1.5M242.5 333.8h1.5M245.5 333.8h1.5M257.6 333.8h1.5M260.6 333.8h1.5M266.6 333.8h1.5M271.1 333.8h1.5M275.6 333.8h1.5M281.6 333.8h1.5M284.6 333.8h1.5M289.2 333.8h3M305.7 333.8h1.5M308.7 333.8h3M314.7 333.8h3M323.8 333.8h1.5M326.8 333.8h3M331.3 333.8h3M341.8 333.8h1.5M349.3 333.8h1.5M356.9 333.8h1.5M367.4 333.8h1.5M380.9 333.8h1.5M409.5 333.8h1.5M236.5 334.8h1.5M268.1 334.8h3M272.6 334.8h4.5M278.6 334.8h1.5M281.6 334.8h1.5M286.2 334.8h1.5M296.7 334.8h1.5M299.7 334.8h3M304.2 334.8h1.5M308.7 334.8h1.5M316.2 334.8h1.5M319.2 334.8h1.5M328.3 334.8h1.5M337.3 334.8h1.5M347.8 334.8h1.5M364.4 334.8h1.5M368.9 334.8h1.5M376.4 334.8h1.5M397.5 334.8h1.5M400.5 334.8h1.5M403.5 334.8h1.5M409.5 334.8h1.5M238 335.8h1.5M241 335.8h1.5M260.6 335.8h1.5M269.6 335.8h3M278.6 335.8h1.5M286.2 335.8h1.5M293.7 335.8h1.5M302.7 335.8h1.5M310.2 335.8h1.5M316.2 335.8h1.5M325.3 335.8h3M332.8 335.8h1.5M346.3 335.8h1.5M388.4 335.8h1.5M409.5 335.8h1.5M254.6 336.8h1.5M287.7 336.8h3M299.7 336.8h3M304.2 336.8h3M314.7 336.8h4.5M328.3 336.8h1.5M334.3 336.8h1.5M338.8 336.8h1.5M343.3 336.8h3M349.3 336.8h1.5M355.3 336.8h1.5M359.9 336.8h1.5M365.9 336.8h3M370.4 336.8h1.5M379.4 336.8h1.5M391.4 336.8h1.5M400.5 336.8h3M238 337.8h1.5M247 337.8h1.5M251.6 337.8h3M280.1 337.8h1.5M286.2 337.8h1.5M289.2 337.8h3M296.7 337.8h1.5M302.7 337.8h1.5M317.7 337.8h1.5M332.8 337.8h3M347.8 337.8h3M394.5 337.8h1.5M232 338.8h1.5M241 338.8h1.5M244 338.8h1.5M247 338.8h1.5M257.6 338.8h1.5M278.6 338.8h1.5M296.7 338.8h1.5M299.7 338.8h1.5M316.2 338.8h1.5M359.9 338.8h1.5M236.5 339.8h1.5M247 339.8h1.5M251.6 339.8h1.5M284.6 339.8h1.5M289.2 339.8h1.5M301.2 339.8h3M307.2 339.8h1.5M332.8 339.8h1.5M337.3 339.8h1.5M349.3 339.8h1.5M400.5 339.8h3M271.1 340.8h1.5M275.6 340.8h1.5M284.6 340.8h1.5M301.2 340.8h3M313.2 340.8h1.5M322.3 340.8h1.5M326.8 340.8h1.5M350.8 340.8h1.5M362.9 340.8h1.5M377.9 340.8h1.5M233.5 341.8h1.5M239.5 341.8h1.5M251.6 341.8h3M271.1 341.8h3M275.6 341.8h1.5M278.6 341.8h1.5M284.6 341.8h1.5M292.2 341.8h1.5M296.7 341.8h1.5M299.7 341.8h1.5M305.7 341.8h3M320.8 341.8h3M325.3 341.8h1.5M328.3 341.8h1.5M344.8 341.8h3M352.3 341.8h1.5M359.9 341.8h1.5M365.9 341.8h1.5M251.6 342.8h1.5M263.6 342.8h1.5M271.1 342.8h3M278.6 342.8h1.5M283.1 342.8h3M293.7 342.8h1.5M298.2 342.8h1.5M301.2 342.8h3M320.8 342.8h1.5M323.8 342.8h1.5M332.8 342.8h3M340.3 342.8h3M344.8 342.8h1.5M362.9 342.8h1.5M368.9 342.8h1.5M386.9 342.8h1.5M253.1 343.8h1.5M260.6 343.8h1.5M268.1 343.8h1.5M272.6 343.8h1.5M281.6 343.8h3M287.7 343.8h1.5M290.7 343.8h1.5M293.7 343.8h3M298.2 343.8h3M302.7 343.8h1.5M305.7 343.8h1.5M311.7 343.8h3M317.7 343.8h3M346.3 343.8h1.5M352.3 343.8h1.5M356.9 343.8h1.5M397.5 343.8h1.5M247 344.8h1.5M262.1 344.8h1.5M272.6 344.8h1.5M284.6 344.8h1.5M287.7 344.8h1.5M292.2 344.8h1.5M295.2 344.8h1.5M298.2 344.8h1.5M304.2 344.8h1.5M310.2 344.8h1.5M313.2 344.8h1.5M329.8 344.8h1.5M338.8 344.8h1.5M394.5 344.8h1.5M405 344.8h1.5M242.5 345.8h1.5M254.6 345.8h1.5M263.6 345.8h3M269.6 345.8h1.5M272.6 345.8h1.5M280.1 345.8h3M289.2 345.8h1.5M293.7 345.8h1.5M299.7 345.8h3M304.2 345.8h1.5M307.2 345.8h1.5M311.7 345.8h1.5M334.3 345.8h1.5M355.3 345.8h1.5M236.5 346.8h1.5M253.1 346.8h1.5M257.6 346.8h1.5M262.1 346.8h1.5M269.6 346.8h1.5M280.1 346.8h1.5M289.2 346.8h1.5M292.2 346.8h3M301.2 346.8h3M310.2 346.8h1.5M322.3 346.8h1.5M340.3 346.8h3M344.8 346.8h1.5M350.8 346.8h3M394.5 346.8h1.5M405 346.8h3M233.5 347.8h1.5M238 347.8h1.5M245.5 347.8h1.5M254.6 347.8h1.5M272.6 347.8h3M277.1 347.8h1.5M281.6 347.8h1.5M287.7 347.8h1.5M292.2 347.8h1.5M298.2 347.8h1.5M305.7 347.8h1.5M308.7 347.8h1.5M317.7 347.8h1.5M323.8 347.8h1.5M329.8 347.8h1.5M352.3 347.8h1.5M244 348.8h1.5M250.1 348.8h1.5M254.6 348.8h1.5M265.1 348.8h1.5M271.1 348.8h1.5M275.6 348.8h1.5M280.1 348.8h1.5M289.2 348.8h1.5M293.7 348.8h1.5M298.2 348.8h1.5M307.2 348.8h1.5M310.2 348.8h1.5M323.8 348.8h1.5M242.5 349.8h1.5M245.5 349.8h1.5M248.6 349.8h1.5M254.6 349.8h1.5M268.1 349.8h1.5M271.1 349.8h3M281.6 349.8h3M305.7 349.8h1.5M323.8 349.8h1.5M254.6 350.8h3M266.6 350.8h1.5M271.1 350.8h3M277.1 350.8h1.5M280.1 350.8h3M287.7 350.8h1.5M290.7 350.8h1.5M302.7 350.8h1.5M305.7 350.8h3M317.7 350.8h1.5M320.8 350.8h1.5M337.3 350.8h1.5M340.3 350.8h1.5M352.3 350.8h1.5M355.3 350.8h1.5M359.9 350.8h1.5M374.9 350.8h1.5M402 350.8h1.5M266.6 351.8h1.5M287.7 351.8h1.5M296.7 351.8h1.5M299.7 351.8h1.5M302.7 351.8h1.5M307.2 351.8h1.5M325.3 351.8h1.5M334.3 351.8h3M344.8 351.8h1.5M349.3 351.8h1.5M353.8 351.8h1.5M356.9 351.8h1.5M359.9 351.8h1.5M376.4 351.8h1.5M394.5 351.8h1.5M403.5 351.8h1.5M239.5 352.8h1.5M251.6 352.8h1.5M275.6 352.8h1.5M278.6 352.8h1.5M283.1 352.8h3M295.2 352.8h3M299.7 352.8h1.5M305.7 352.8h1.5M325.3 352.8h1.5M328.3 352.8h3M346.3 352.8h3M355.3 352.8h1.5M402 352.8h1.5M253.1 353.8h3M272.6 353.8h1.5M277.1 353.8h1.5M293.7 353.8h1.5M296.7 353.8h1.5M305.7 353.8h1.5M313.2 353.8h3M325.3 353.8h3M337.3 353.8h1.5M349.3 353.8h1.5M356.9 353.8h1.5M365.9 353.8h1.5M394.5 353.8h1.5M409.5 353.8h1.5M245.5 354.8h1.5M262.1 354.8h1.5M277.1 354.8h1.5M290.7 354.8h1.5M295.2 354.8h1.5M298.2 354.8h1.5M302.7 354.8h1.5M310.2 354.8h1.5M313.2 354.8h3M326.8 354.8h1.5M331.3 354.8h1.5M338.8 354.8h1.5M346.3 354.8h1.5M353.8 354.8h3M376.4 354.8h1.5M394.5 354.8h1.5M402 354.8h1.5M241 355.8h1.5M259.1 355.8h1.5M271.1 355.8h1.5M278.6 355.8h1.5M289.2 355.8h1.5M296.7 355.8h1.5M317.7 355.8h1.5M325.3 355.8h1.5M334.3 355.8h1.5M338.8 355.8h1.5M346.3 355.8h1.5M350.8 355.8h1.5M391.4 355.8h1.5M250.1 356.8h3M257.6 356.8h1.5M265.1 356.8h1.5M274.1 356.8h1.5M277.1 356.8h1.5M281.6 356.8h1.5M284.6 356.8h1.5M292.2 356.8h1.5M301.2 356.8h1.5M305.7 356.8h3M320.8 356.8h1.5M326.8 356.8h1.5M335.8 356.8h1.5M361.4 356.8h1.5M364.4 356.8h1.5M383.9 356.8h1.5M239.5 357.8h1.5M254.6 357.8h1.5M286.2 357.8h1.5M293.7 357.8h1.5M296.7 357.8h1.5M307.2 357.8h1.5M317.7 357.8h1.5M322.3 357.8h1.5M325.3 357.8h1.5M340.3 357.8h1.5M377.9 357.8h3M263.6 358.8h1.5M272.6 358.8h1.5M281.6 358.8h1.5M289.2 358.8h1.5M292.2 358.8h3M301.2 358.8h3M313.2 358.8h4.5M335.8 358.8h1.5M338.8 358.8h1.5M343.3 358.8h3M361.4 358.8h1.5M374.9 358.8h1.5M396 358.8h1.5M235 359.8h1.5M247 359.8h1.5M269.6 359.8h1.5M272.6 359.8h1.5M280.1 359.8h1.5M284.6 359.8h1.5M287.7 359.8h1.5M290.7 359.8h7.5M305.7 359.8h1.5M308.7 359.8h1.5M317.7 359.8h1.5M323.8 359.8h1.5M334.3 359.8h1.5M338.8 359.8h1.5M347.8 359.8h3M352.3 359.8h1.5M362.9 359.8h1.5M374.9 359.8h1.5M409.5 359.8h1.5" stroke="#f6e5c8" stroke-width="1.05" fill="none"/>
<path d="M245.5 277.7h3M280.1 277.7h3M323.8 277.7h3M334.3 277.7h1.5M341.8 277.7h1.5M386.9 277.7h1.5M403.5 277.7h3M409.5 277.7h1.5M242.5 278.7h1.5M260.6 278.7h1.5M274.1 278.7h1.5M319.2 278.7h1.5M355.3 278.7h1.5M374.9 278.7h1.5M383.9 278.7h1.5M403.5 278.7h1.5M364.4 279.7h1.5M394.5 279.7h1.5M406.5 279.7h1.5M262.1 280.7h3M316.2 280.7h1.5M346.3 280.7h3M396 280.7h1.5M238 281.7h1.5M347.8 281.7h1.5M376.4 281.7h1.5M392.9 281.7h1.5M256.1 282.7h1.5M271.1 282.7h1.5M286.2 282.7h1.5M289.2 282.7h1.5M316.2 282.7h1.5M331.3 282.7h1.5M335.8 282.7h1.5M361.4 282.7h3M377.9 282.7h1.5M383.9 282.7h1.5M392.9 282.7h3M397.5 282.7h1.5M347.8 283.7h1.5M359.9 283.7h1.5M235 284.7h1.5M253.1 284.7h1.5M283.1 284.7h1.5M314.7 284.7h1.5M323.8 284.7h1.5M347.8 284.7h1.5M352.3 284.7h1.5M391.4 284.7h1.5M396 284.7h1.5M400.5 284.7h1.5M405 284.7h1.5M259.1 285.7h1.5M299.7 285.7h1.5M383.9 285.7h1.5M399 285.7h3M409.5 285.7h1.5M239.5 286.7h1.5M346.3 286.7h1.5M247 287.7h1.5M263.6 287.7h3M296.7 287.7h1.5M311.7 287.7h1.5M332.8 287.7h3M337.3 287.7h1.5M343.3 287.7h1.5M361.4 287.7h1.5M365.9 287.7h1.5M373.4 287.7h1.5M377.9 287.7h1.5M391.4 287.7h1.5M394.5 287.7h3M399 287.7h1.5M406.5 287.7h1.5M259.1 288.7h1.5M268.1 288.7h1.5M277.1 288.7h1.5M296.7 288.7h1.5M328.3 288.7h1.5M340.3 288.7h1.5M344.8 288.7h1.5M347.8 288.7h1.5M350.8 288.7h1.5M353.8 288.7h1.5M365.9 288.7h1.5M373.4 288.7h1.5M379.4 288.7h1.5M392.9 288.7h1.5M399 288.7h1.5M277.1 289.7h1.5M340.3 289.7h1.5M364.4 289.7h1.5M368.9 289.7h1.5M379.4 289.7h3M388.4 289.7h1.5M396 289.7h1.5M405 289.7h1.5M230.5 290.7h1.5M235 290.7h1.5M244 290.7h1.5M292.2 290.7h1.5M320.8 290.7h1.5M325.3 290.7h3M332.8 290.7h1.5M350.8 290.7h1.5M364.4 290.7h1.5M376.4 290.7h1.5M394.5 290.7h1.5M403.5 290.7h1.5M232 291.7h1.5M245.5 291.7h1.5M289.2 291.7h1.5M308.7 291.7h1.5M343.3 291.7h1.5M356.9 291.7h4.5M383.9 291.7h1.5M396 291.7h1.5M403.5 291.7h1.5M406.5 291.7h1.5M265.1 292.7h1.5M244 293.7h1.5M250.1 293.7h1.5M260.6 293.7h1.5M266.6 293.7h1.5M269.6 293.7h1.5M299.7 293.7h3M311.7 293.7h1.5M325.3 293.7h3M332.8 293.7h1.5M349.3 293.7h1.5M353.8 293.7h1.5M356.9 293.7h1.5M362.9 293.7h1.5M371.9 293.7h1.5M376.4 293.7h1.5M383.9 293.7h1.5M402 293.7h1.5M259.1 294.7h1.5M286.2 294.7h1.5M299.7 294.7h1.5M304.2 294.7h4.5M314.7 294.7h1.5M326.8 294.7h1.5M334.3 294.7h1.5M337.3 294.7h1.5M346.3 294.7h3M353.8 294.7h1.5M374.9 294.7h1.5M402 294.7h1.5M250.1 295.7h1.5M353.8 295.7h1.5M271.1 296.7h1.5M281.6 296.7h1.5M308.7 296.7h1.5M383.9 296.7h1.5M386.9 296.7h1.5M400.5 296.7h1.5M409.5 296.7h1.5M302.7 297.7h1.5M320.8 297.7h1.5M361.4 297.7h1.5M388.4 297.7h1.5M402 297.7h1.5M263.6 298.7h3M272.6 298.7h1.5M298.2 298.7h1.5M302.7 298.7h3M308.7 298.7h3M320.8 298.7h1.5M329.8 298.7h3M337.3 298.7h1.5M350.8 298.7h1.5M370.4 298.7h1.5M374.9 298.7h1.5M382.4 298.7h1.5M391.4 298.7h1.5M396 298.7h1.5M400.5 298.7h1.5M408 298.7h1.5M251.6 299.7h1.5M277.1 299.7h1.5M286.2 299.7h1.5M292.2 299.7h3M317.7 299.7h3M325.3 299.7h1.5M337.3 299.7h1.5M341.8 299.7h1.5M368.9 299.7h1.5M380.9 299.7h3M389.9 299.7h1.5M248.6 300.7h1.5M278.6 300.7h1.5M281.6 300.7h1.5M286.2 300.7h1.5M289.2 300.7h4.5M295.2 300.7h1.5M310.2 300.7h1.5M314.7 300.7h1.5M325.3 300.7h1.5M335.8 300.7h3M343.3 300.7h1.5M347.8 300.7h1.5M359.9 300.7h1.5M373.4 300.7h1.5M396 300.7h1.5M403.5 300.7h1.5M409.5 300.7h1.5M256.1 301.7h1.5M263.6 301.7h1.5M337.3 301.7h1.5M349.3 301.7h1.5M392.9 301.7h1.5M402 301.7h1.5M409.5 301.7h1.5M248.6 302.7h1.5M310.2 302.7h1.5M409.5 302.7h1.5M260.6 303.7h1.5M298.2 303.7h1.5M341.8 303.7h4.5M361.4 303.7h1.5M379.4 303.7h1.5M386.9 303.7h1.5M409.5 303.7h1.5M235 304.7h1.5M289.2 304.7h1.5M238 305.7h1.5M251.6 305.7h1.5M331.3 305.7h1.5M355.3 305.7h1.5M364.4 305.7h1.5M388.4 305.7h1.5M396 305.7h1.5M409.5 305.7h1.5M320.8 306.7h1.5M334.3 306.7h1.5M325.3 307.7h1.5M337.3 307.7h1.5M346.3 307.7h1.5M370.4 307.7h1.5M373.4 307.7h1.5M376.4 307.7h1.5M383.9 307.7h1.5M394.5 307.7h1.5M400.5 307.7h1.5M409.5 307.7h1.5M235 308.7h1.5M238 308.7h1.5M274.1 308.7h1.5M298.2 308.7h1.5M316.2 308.7h1.5M329.8 308.7h1.5M346.3 308.7h1.5M353.8 308.7h1.5M356.9 308.7h1.5M359.9 308.7h1.5M371.9 308.7h3M383.9 308.7h1.5M400.5 308.7h3M250.1 309.7h1.5M254.6 309.7h1.5M268.1 309.7h1.5M314.7 309.7h1.5M319.2 309.7h1.5M349.3 309.7h1.5M365.9 309.7h1.5M377.9 309.7h1.5M277.1 310.7h1.5M307.2 310.7h1.5M334.3 310.7h1.5M346.3 310.7h3M377.9 310.7h1.5M380.9 310.7h1.5M408 310.7h1.5M314.7 311.7h1.5M325.3 311.7h1.5M340.3 311.7h1.5M377.9 311.7h1.5M406.5 311.7h1.5M409.5 311.7h1.5M247 312.7h1.5M266.6 312.7h1.5M293.7 312.7h3M308.7 312.7h1.5M328.3 312.7h1.5M331.3 312.7h1.5M347.8 312.7h1.5M359.9 312.7h1.5M362.9 312.7h1.5M400.5 312.7h1.5M304.2 313.7h1.5M323.8 313.7h3M343.3 313.7h1.5M283.1 314.7h1.5M311.7 314.7h1.5M399 314.7h1.5M403.5 314.7h1.5M409.5 314.7h1.5M232 316.7h1.5M331.3 316.7h1.5M352.3 316.7h1.5M406.5 316.7h1.5M361.4 317.7h1.5M370.4 317.7h1.5M377.9 317.7h1.5M385.4 317.7h1.5M256.1 318.8h1.5M262.1 318.8h3M277.1 318.8h1.5M298.2 318.8h1.5M301.2 318.8h1.5M322.3 318.8h3M326.8 318.8h1.5M377.9 318.8h1.5M380.9 318.8h1.5M383.9 318.8h1.5M406.5 318.8h1.5M238 319.8h1.5M253.1 319.8h1.5M265.1 319.8h1.5M269.6 319.8h1.5M277.1 319.8h1.5M286.2 319.8h1.5M302.7 319.8h1.5M308.7 319.8h1.5M320.8 319.8h1.5M344.8 319.8h1.5M347.8 319.8h1.5M402 319.8h1.5M230.5 320.8h3M236.5 320.8h1.5M242.5 320.8h1.5M245.5 320.8h1.5M248.6 320.8h3M254.6 320.8h1.5M262.1 320.8h1.5M265.1 320.8h1.5M274.1 320.8h1.5M277.1 320.8h1.5M281.6 320.8h1.5M232 321.8h3M236.5 321.8h1.5M244 321.8h1.5M247 321.8h3M256.1 321.8h1.5M266.6 321.8h1.5M271.1 321.8h1.5M280.1 321.8h4.5M286.2 321.8h1.5M298.2 321.8h1.5M310.2 321.8h1.5M322.3 321.8h1.5M233.5 322.8h6M242.5 322.8h1.5M251.6 322.8h1.5M256.1 322.8h1.5M274.1 322.8h1.5M289.2 322.8h1.5M298.2 322.8h1.5M304.2 322.8h1.5M310.2 322.8h1.5M230.5 323.8h1.5M235 323.8h1.5M238 323.8h1.5M241 323.8h1.5M253.1 323.8h1.5M259.1 323.8h1.5M266.6 323.8h1.5M269.6 323.8h1.5M286.2 323.8h1.5M296.7 323.8h1.5M394.5 323.8h1.5M235 324.8h4.5M242.5 324.8h1.5M260.6 324.8h1.5M265.1 324.8h1.5M275.6 324.8h1.5M290.7 324.8h1.5M337.3 324.8h1.5M230.5 325.8h1.5M233.5 325.8h1.5M239.5 325.8h3M244 325.8h1.5M247 325.8h3M251.6 325.8h1.5M254.6 325.8h1.5M260.6 325.8h1.5M265.1 325.8h1.5M281.6 325.8h1.5M284.6 325.8h1.5M290.7 325.8h1.5M301.2 325.8h1.5M337.3 325.8h1.5M409.5 325.8h1.5M239.5 326.8h1.5M250.1 326.8h1.5M272.6 326.8h1.5M277.1 326.8h1.5M281.6 326.8h1.5M284.6 326.8h3M310.2 326.8h1.5M317.7 326.8h1.5M323.8 326.8h1.5M326.8 326.8h1.5M343.3 326.8h1.5M364.4 326.8h1.5M392.9 326.8h1.5M406.5 326.8h1.5M235 327.8h1.5M238 327.8h1.5M251.6 327.8h1.5M262.1 327.8h3M287.7 327.8h1.5M296.7 327.8h1.5M302.7 327.8h1.5M238 328.8h1.5M242.5 328.8h1.5M251.6 328.8h3M256.1 328.8h1.5M260.6 328.8h1.5M266.6 328.8h1.5M269.6 328.8h1.5M277.1 328.8h1.5M283.1 328.8h1.5M286.2 328.8h1.5M310.2 328.8h3M235 329.8h1.5M238 329.8h3M245.5 329.8h1.5M250.1 329.8h1.5M274.1 329.8h1.5M284.6 329.8h1.5M301.2 329.8h1.5M310.2 329.8h1.5M245.5 330.8h1.5M266.6 330.8h1.5M272.6 330.8h1.5M283.1 330.8h1.5M286.2 330.8h1.5M292.2 330.8h1.5M316.2 330.8h1.5M325.3 330.8h1.5M341.8 330.8h1.5M383.9 330.8h1.5M392.9 330.8h1.5M247 331.8h3M251.6 331.8h1.5M266.6 331.8h3M274.1 331.8h1.5M277.1 331.8h1.5M281.6 331.8h1.5M284.6 331.8h1.5M293.7 331.8h1.5M296.7 331.8h3M305.7 331.8h1.5M331.3 331.8h1.5M233.5 332.8h1.5M236.5 332.8h6M260.6 332.8h3M269.6 332.8h1.5M272.6 332.8h3M284.6 332.8h1.5M235 333.8h1.5M238 333.8h1.5M248.6 333.8h1.5M251.6 333.8h3M259.1 333.8h1.5M262.1 333.8h1.5M265.1 333.8h1.5M268.1 333.8h1.5M272.6 333.8h1.5M280.1 333.8h1.5M286.2 333.8h1.5M293.7 333.8h1.5M311.7 333.8h1.5M346.3 333.8h1.5M235 334.8h1.5M238 334.8h1.5M241 334.8h1.5M247 334.8h4.5M259.1 334.8h1.5M277.1 334.8h1.5M280.1 334.8h1.5M289.2 334.8h1.5M302.7 334.8h1.5M253.1 335.8h1.5M262.1 335.8h1.5M266.6 335.8h1.5M275.6 335.8h3M292.2 335.8h1.5M296.7 335.8h1.5M271.1 336.8h1.5M277.1 336.8h1.5M284.6 336.8h1.5M290.7 336.8h1.5M302.7 336.8h1.5M376.4 336.8h1.5M389.9 336.8h1.5M394.5 336.8h1.5M235 337.8h1.5M239.5 337.8h1.5M244 337.8h1.5M259.1 337.8h1.5M262.1 337.8h1.5M268.1 337.8h1.5M275.6 337.8h1.5M287.7 337.8h1.5M364.4 337.8h1.5M230.5 338.8h1.5M235 338.8h1.5M245.5 338.8h1.5M256.1 338.8h1.5M235 339.8h1.5M239.5 339.8h4.5M253.1 339.8h1.5M263.6 339.8h1.5M274.1 339.8h4.5M296.7 339.8h1.5M313.2 339.8h3M232 340.8h3M242.5 340.8h1.5M251.6 340.8h3M265.1 340.8h1.5M272.6 340.8h1.5M277.1 340.8h3M289.2 340.8h1.5M298.2 340.8h3M364.4 340.8h1.5M230.5 341.8h3M236.5 341.8h3M241 341.8h1.5M260.6 341.8h3M266.6 341.8h1.5M281.6 341.8h1.5M290.7 341.8h1.5M301.2 341.8h1.5M308.7 341.8h1.5M353.8 341.8h1.5M233.5 342.8h1.5M242.5 342.8h1.5M245.5 342.8h3M254.6 342.8h1.5M266.6 342.8h3M274.1 342.8h1.5M307.2 342.8h1.5M314.7 342.8h3M325.3 342.8h1.5M328.3 342.8h1.5M335.8 342.8h1.5M394.5 342.8h1.5M232 343.8h1.5M242.5 343.8h4.5M250.1 343.8h1.5M256.1 343.8h3M263.6 343.8h1.5M275.6 343.8h1.5M278.6 343.8h1.5M286.2 343.8h1.5M301.2 343.8h1.5M242.5 344.8h1.5M253.1 344.8h3M259.1 344.8h3M269.6 344.8h1.5M283.1 344.8h1.5M286.2 344.8h1.5M314.7 344.8h1.5M325.3 344.8h1.5M248.6 345.8h3M260.6 345.8h1.5M266.6 345.8h1.5M275.6 345.8h1.5M305.7 345.8h1.5M235 346.8h1.5M250.1 346.8h3M266.6 346.8h1.5M275.6 346.8h1.5M283.1 346.8h1.5M290.7 346.8h1.5M307.2 346.8h1.5M244 347.8h1.5M247 347.8h1.5M256.1 347.8h1.5M230.5 348.8h1.5M242.5 348.8h1.5M259.1 348.8h1.5M266.6 348.8h1.5M277.1 348.8h1.5M284.6 348.8h1.5M287.7 348.8h1.5M317.7 348.8h1.5M233.5 349.8h4.5M251.6 349.8h1.5M256.1 349.8h1.5M259.1 349.8h1.5M284.6 349.8h1.5M289.2 349.8h1.5M304.2 349.8h1.5M308.7 349.8h1.5M314.7 349.8h1.5M236.5 350.8h1.5M239.5 350.8h1.5M242.5 350.8h1.5M247 350.8h1.5M251.6 350.8h1.5M259.1 350.8h6M274.1 350.8h3M289.2 350.8h1.5M296.7 350.8h1.5M230.5 351.8h1.5M239.5 351.8h1.5M242.5 351.8h1.5M248.6 351.8h4.5M265.1 351.8h1.5M268.1 351.8h1.5M277.1 351.8h1.5M280.1 351.8h1.5M286.2 351.8h1.5M331.3 351.8h1.5M338.8 351.8h1.5M232 352.8h1.5M238 352.8h1.5M244 352.8h1.5M253.1 352.8h3M259.1 352.8h4.5M265.1 352.8h1.5M289.2 352.8h3M298.2 352.8h1.5M301.2 352.8h1.5M338.8 352.8h1.5M358.4 352.8h1.5M233.5 353.8h1.5M236.5 353.8h4.5M248.6 353.8h1.5M259.1 353.8h3M284.6 353.8h1.5M290.7 353.8h1.5M298.2 353.8h1.5M308.7 353.8h1.5M232 354.8h1.5M236.5 354.8h1.5M239.5 354.8h1.5M247 354.8h1.5M256.1 354.8h1.5M268.1 354.8h1.5M280.1 354.8h1.5M283.1 354.8h7.5M307.2 354.8h1.5M230.5 355.8h3M242.5 355.8h1.5M247 355.8h1.5M250.1 355.8h3M256.1 355.8h1.5M265.1 355.8h1.5M268.1 355.8h3M302.7 355.8h1.5M322.3 355.8h1.5M232 356.8h1.5M235 356.8h1.5M239.5 356.8h1.5M242.5 356.8h4.5M248.6 356.8h1.5M259.1 356.8h1.5M278.6 356.8h1.5M287.7 356.8h3M236.5 357.8h1.5M242.5 357.8h3M251.6 357.8h1.5M256.1 357.8h4.5M268.1 357.8h1.5M278.6 357.8h1.5M289.2 357.8h1.5M295.2 357.8h1.5M232 358.8h1.5M239.5 358.8h1.5M248.6 358.8h3M269.6 358.8h3M275.6 358.8h1.5M280.1 358.8h1.5M284.6 358.8h3M290.7 358.8h1.5M299.7 358.8h1.5M304.2 358.8h1.5M308.7 358.8h1.5M322.3 358.8h1.5M325.3 358.8h1.5M239.5 359.8h3M244 359.8h3M250.1 359.8h3M257.6 359.8h1.5M268.1 359.8h1.5M271.1 359.8h1.5M275.6 359.8h1.5M289.2 359.8h1.5M298.2 359.8h3" stroke="#d3dedf" stroke-width="1.05" fill="none"/>
<path d="M254.6 277.7h1.5M268.1 277.7h1.5M271.1 277.7h1.5M310.2 277.7h1.5M338.8 277.7h1.5M365.9 277.7h1.5M379.4 277.7h1.5M230.5 278.7h1.5M238 278.7h4.5M245.5 278.7h1.5M250.1 278.7h1.5M265.1 278.7h3M269.6 278.7h1.5M275.6 278.7h3M298.2 278.7h1.5M313.2 278.7h1.5M317.7 278.7h1.5M325.3 278.7h1.5M332.8 278.7h1.5M335.8 278.7h1.5M338.8 278.7h1.5M353.8 278.7h1.5M356.9 278.7h1.5M371.9 278.7h1.5M376.4 278.7h1.5M382.4 278.7h1.5M385.4 278.7h1.5M392.9 278.7h1.5M400.5 278.7h3M235 279.7h1.5M238 279.7h6M260.6 279.7h1.5M268.1 279.7h1.5M272.6 279.7h1.5M284.6 279.7h1.5M287.7 279.7h3M302.7 279.7h1.5M307.2 279.7h1.5M310.2 279.7h1.5M313.2 279.7h1.5M326.8 279.7h1.5M332.8 279.7h1.5M337.3 279.7h1.5M340.3 279.7h6M355.3 279.7h1.5M359.9 279.7h4.5M377.9 279.7h1.5M385.4 279.7h1.5M396 279.7h1.5M408 279.7h3M230.5 280.7h3M236.5 280.7h1.5M244 280.7h3M254.6 280.7h1.5M268.1 280.7h1.5M271.1 280.7h3M281.6 280.7h1.5M287.7 280.7h1.5M299.7 280.7h1.5M326.8 280.7h1.5M355.3 280.7h1.5M362.9 280.7h1.5M368.9 280.7h1.5M379.4 280.7h1.5M382.4 280.7h1.5M399 280.7h1.5M232 281.7h3M245.5 281.7h1.5M248.6 281.7h1.5M254.6 281.7h1.5M259.1 281.7h1.5M263.6 281.7h1.5M272.6 281.7h1.5M275.6 281.7h1.5M283.1 281.7h1.5M286.2 281.7h3M292.2 281.7h1.5M295.2 281.7h1.5M301.2 281.7h3M307.2 281.7h1.5M310.2 281.7h1.5M313.2 281.7h3M326.8 281.7h3M377.9 281.7h3M382.4 281.7h1.5M385.4 281.7h1.5M389.9 281.7h1.5M399 281.7h1.5M403.5 281.7h3M244 282.7h1.5M262.1 282.7h1.5M268.1 282.7h1.5M287.7 282.7h1.5M290.7 282.7h3M304.2 282.7h1.5M307.2 282.7h1.5M326.8 282.7h1.5M329.8 282.7h1.5M353.8 282.7h1.5M356.9 282.7h1.5M367.4 282.7h1.5M403.5 282.7h1.5M406.5 282.7h1.5M233.5 283.7h1.5M251.6 283.7h4.5M262.1 283.7h1.5M269.6 283.7h1.5M275.6 283.7h1.5M281.6 283.7h1.5M296.7 283.7h1.5M305.7 283.7h1.5M313.2 283.7h1.5M325.3 283.7h3M332.8 283.7h4.5M344.8 283.7h1.5M353.8 283.7h3M364.4 283.7h3M368.9 283.7h1.5M371.9 283.7h1.5M380.9 283.7h1.5M397.5 283.7h1.5M406.5 283.7h1.5M230.5 284.7h1.5M233.5 284.7h1.5M236.5 284.7h1.5M241 284.7h1.5M247 284.7h3M272.6 284.7h3M277.1 284.7h1.5M281.6 284.7h1.5M292.2 284.7h1.5M310.2 284.7h3M326.8 284.7h1.5M334.3 284.7h3M341.8 284.7h1.5M359.9 284.7h1.5M365.9 284.7h4.5M371.9 284.7h1.5M236.5 285.7h3M241 285.7h3M250.1 285.7h1.5M265.1 285.7h1.5M269.6 285.7h1.5M274.1 285.7h1.5M298.2 285.7h1.5M311.7 285.7h4.5M320.8 285.7h1.5M335.8 285.7h3M340.3 285.7h3M356.9 285.7h1.5M371.9 285.7h1.5M377.9 285.7h1.5M389.9 285.7h1.5M392.9 285.7h1.5M396 285.7h1.5M402 285.7h1.5M406.5 285.7h1.5M238 286.7h1.5M242.5 286.7h1.5M256.1 286.7h1.5M266.6 286.7h3M271.1 286.7h1.5M277.1 286.7h1.5M280.1 286.7h3M286.2 286.7h3M296.7 286.7h3M302.7 286.7h1.5M317.7 286.7h4.5M326.8 286.7h1.5M335.8 286.7h1.5M347.8 286.7h1.5M356.9 286.7h1.5M359.9 286.7h1.5M370.4 286.7h1.5M377.9 286.7h1.5M380.9 286.7h1.5M383.9 286.7h1.5M389.9 286.7h1.5M399 286.7h1.5M405 286.7h1.5M248.6 287.7h1.5M251.6 287.7h3M271.1 287.7h1.5M275.6 287.7h1.5M284.6 287.7h3M326.8 287.7h1.5M340.3 287.7h1.5M364.4 287.7h1.5M388.4 287.7h3M408 287.7h1.5M244 288.7h1.5M262.1 288.7h1.5M265.1 288.7h1.5M269.6 288.7h1.5M272.6 288.7h4.5M292.2 288.7h1.5M295.2 288.7h1.5M313.2 288.7h1.5M325.3 288.7h1.5M331.3 288.7h1.5M334.3 288.7h1.5M341.8 288.7h1.5M376.4 288.7h1.5M385.4 288.7h1.5M394.5 288.7h1.5M403.5 288.7h1.5M235 289.7h1.5M242.5 289.7h1.5M245.5 289.7h1.5M251.6 289.7h1.5M257.6 289.7h1.5M262.1 289.7h3M266.6 289.7h1.5M269.6 289.7h1.5M275.6 289.7h1.5M292.2 289.7h1.5M311.7 289.7h3M316.2 289.7h1.5M319.2 289.7h1.5M323.8 289.7h1.5M341.8 289.7h1.5M370.4 289.7h1.5M397.5 289.7h1.5M242.5 290.7h1.5M248.6 290.7h1.5M269.6 290.7h1.5M284.6 290.7h1.5M295.2 290.7h3M304.2 290.7h1.5M317.7 290.7h1.5M322.3 290.7h1.5M331.3 290.7h1.5M335.8 290.7h1.5M340.3 290.7h3M230.5 291.7h1.5M239.5 291.7h3M253.1 291.7h3M283.1 291.7h1.5M287.7 291.7h1.5M292.2 291.7h1.5M298.2 291.7h1.5M301.2 291.7h1.5M319.2 291.7h1.5M361.4 291.7h3M368.9 291.7h1.5M371.9 291.7h1.5M232 292.7h3M236.5 292.7h3M245.5 292.7h1.5M257.6 292.7h1.5M260.6 292.7h3M266.6 292.7h1.5M278.6 292.7h1.5M284.6 292.7h1.5M287.7 292.7h1.5M292.2 292.7h1.5M299.7 292.7h1.5M325.3 292.7h1.5M335.8 292.7h1.5M341.8 292.7h1.5M349.3 292.7h1.5M365.9 292.7h1.5M397.5 292.7h1.5M408 292.7h1.5M271.1 293.7h1.5M280.1 293.7h1.5M286.2 293.7h1.5M304.2 293.7h1.5M317.7 293.7h1.5M340.3 293.7h1.5M392.9 293.7h1.5M230.5 294.7h1.5M235 294.7h1.5M248.6 294.7h1.5M251.6 294.7h1.5M274.1 294.7h1.5M280.1 294.7h1.5M308.7 294.7h1.5M328.3 294.7h1.5M382.4 294.7h1.5M235 295.7h1.5M239.5 295.7h3M254.6 295.7h1.5M266.6 295.7h3M277.1 295.7h1.5M281.6 295.7h1.5M287.7 295.7h1.5M299.7 295.7h1.5M302.7 295.7h1.5M311.7 295.7h1.5M314.7 295.7h3M328.3 295.7h3M335.8 295.7h4.5M346.3 295.7h1.5M355.3 295.7h1.5M361.4 295.7h1.5M371.9 295.7h1.5M391.4 295.7h1.5M399 295.7h3M403.5 295.7h1.5M238 296.7h1.5M244 296.7h1.5M251.6 296.7h1.5M256.1 296.7h1.5M259.1 296.7h1.5M268.1 296.7h1.5M275.6 296.7h1.5M284.6 296.7h1.5M287.7 296.7h1.5M292.2 296.7h1.5M311.7 296.7h3M326.8 296.7h4.5M335.8 296.7h1.5M349.3 296.7h1.5M355.3 296.7h1.5M362.9 296.7h1.5M376.4 296.7h1.5M389.9 296.7h1.5M396 296.7h1.5M399 296.7h1.5M230.5 297.7h3M236.5 297.7h1.5M250.1 297.7h1.5M254.6 297.7h1.5M268.1 297.7h1.5M275.6 297.7h3M284.6 297.7h1.5M287.7 297.7h1.5M290.7 297.7h3M295.2 297.7h1.5M301.2 297.7h1.5M304.2 297.7h1.5M337.3 297.7h1.5M340.3 297.7h1.5M344.8 297.7h1.5M350.8 297.7h1.5M358.4 297.7h1.5M362.9 297.7h1.5M368.9 297.7h1.5M382.4 297.7h1.5M386.9 297.7h1.5M233.5 298.7h1.5M253.1 298.7h1.5M292.2 298.7h1.5M301.2 298.7h1.5M347.8 298.7h1.5M362.9 298.7h1.5M389.9 298.7h1.5M238 299.7h1.5M242.5 299.7h1.5M259.1 299.7h3M263.6 299.7h1.5M311.7 299.7h1.5M355.3 299.7h3M362.9 299.7h1.5M400.5 299.7h1.5M239.5 300.7h3M253.1 300.7h3M275.6 300.7h1.5M296.7 300.7h1.5M304.2 300.7h1.5M341.8 300.7h1.5M374.9 300.7h1.5M385.4 300.7h1.5M391.4 300.7h1.5M406.5 300.7h1.5M238 301.7h1.5M242.5 301.7h6M250.1 301.7h1.5M257.6 301.7h1.5M262.1 301.7h1.5M266.6 301.7h1.5M284.6 301.7h1.5M289.2 301.7h1.5M302.7 301.7h1.5M308.7 301.7h1.5M316.2 301.7h1.5M322.3 301.7h1.5M326.8 301.7h1.5M340.3 301.7h1.5M352.3 301.7h1.5M358.4 301.7h1.5M371.9 301.7h1.5M382.4 301.7h1.5M400.5 301.7h1.5M233.5 302.7h1.5M236.5 302.7h1.5M253.1 302.7h1.5M257.6 302.7h1.5M265.1 302.7h1.5M269.6 302.7h3M278.6 302.7h1.5M283.1 302.7h1.5M287.7 302.7h3M292.2 302.7h1.5M298.2 302.7h1.5M307.2 302.7h1.5M311.7 302.7h3M316.2 302.7h3M322.3 302.7h4.5M328.3 302.7h3M335.8 302.7h1.5M352.3 302.7h1.5M356.9 302.7h3M361.4 302.7h1.5M367.4 302.7h1.5M374.9 302.7h1.5M385.4 302.7h1.5M396 302.7h1.5M405 302.7h1.5M408 302.7h1.5M233.5 303.7h3M242.5 303.7h3M247 303.7h1.5M254.6 303.7h1.5M263.6 303.7h3M271.1 303.7h1.5M295.2 303.7h1.5M299.7 303.7h1.5M314.7 303.7h3M319.2 303.7h1.5M326.8 303.7h1.5M334.3 303.7h3M347.8 303.7h4.5M353.8 303.7h1.5M358.4 303.7h3M362.9 303.7h4.5M389.9 303.7h1.5M405 303.7h1.5M230.5 304.7h3M238 304.7h1.5M242.5 304.7h1.5M245.5 304.7h1.5M248.6 304.7h1.5M253.1 304.7h3M259.1 304.7h1.5M262.1 304.7h1.5M265.1 304.7h1.5M271.1 304.7h1.5M275.6 304.7h3M296.7 304.7h1.5M302.7 304.7h3M308.7 304.7h3M326.8 304.7h1.5M329.8 304.7h1.5M335.8 304.7h1.5M349.3 304.7h1.5M362.9 304.7h3M368.9 304.7h1.5M392.9 304.7h1.5M241 305.7h1.5M245.5 305.7h1.5M248.6 305.7h1.5M254.6 305.7h3M266.6 305.7h3M272.6 305.7h1.5M278.6 305.7h1.5M286.2 305.7h1.5M311.7 305.7h1.5M316.2 305.7h1.5M343.3 305.7h4.5M352.3 305.7h1.5M359.9 305.7h1.5M368.9 305.7h1.5M389.9 305.7h3M241 306.7h4.5M251.6 306.7h1.5M262.1 306.7h3M266.6 306.7h1.5M269.6 306.7h1.5M272.6 306.7h1.5M281.6 306.7h4.5M287.7 306.7h1.5M292.2 306.7h3M304.2 306.7h1.5M308.7 306.7h1.5M325.3 306.7h1.5M328.3 306.7h1.5M352.3 306.7h1.5M355.3 306.7h1.5M385.4 306.7h1.5M408 306.7h1.5M239.5 307.7h3M253.1 307.7h1.5M266.6 307.7h1.5M277.1 307.7h1.5M284.6 307.7h1.5M290.7 307.7h1.5M296.7 307.7h3M302.7 307.7h4.5M308.7 307.7h1.5M316.2 307.7h1.5M319.2 307.7h3M334.3 307.7h3M352.3 307.7h1.5M371.9 307.7h1.5M379.4 307.7h1.5M385.4 307.7h4.5M399 307.7h1.5M263.6 308.7h1.5M310.2 308.7h1.5M332.8 308.7h1.5M349.3 308.7h1.5M355.3 308.7h1.5M362.9 308.7h1.5M382.4 308.7h1.5M391.4 308.7h1.5M230.5 309.7h1.5M235 309.7h1.5M238 309.7h3M247 309.7h3M253.1 309.7h1.5M259.1 309.7h1.5M265.1 309.7h1.5M269.6 309.7h3M290.7 309.7h1.5M293.7 309.7h1.5M298.2 309.7h1.5M301.2 309.7h1.5M329.8 309.7h3M338.8 309.7h3M358.4 309.7h1.5M362.9 309.7h1.5M382.4 309.7h1.5M386.9 309.7h1.5M239.5 310.7h1.5M256.1 310.7h1.5M259.1 310.7h1.5M263.6 310.7h1.5M268.1 310.7h1.5M272.6 310.7h1.5M275.6 310.7h1.5M283.1 310.7h3M293.7 310.7h1.5M298.2 310.7h1.5M302.7 310.7h3M308.7 310.7h1.5M319.2 310.7h1.5M331.3 310.7h1.5M335.8 310.7h1.5M344.8 310.7h1.5M358.4 310.7h1.5M364.4 310.7h1.5M373.4 310.7h1.5M379.4 310.7h1.5M382.4 310.7h1.5M389.9 310.7h1.5M392.9 310.7h1.5M238 311.7h1.5M250.1 311.7h1.5M254.6 311.7h3M259.1 311.7h1.5M263.6 311.7h1.5M269.6 311.7h3M274.1 311.7h1.5M293.7 311.7h1.5M316.2 311.7h1.5M323.8 311.7h1.5M332.8 311.7h3M341.8 311.7h1.5M349.3 311.7h1.5M353.8 311.7h1.5M356.9 311.7h1.5M361.4 311.7h1.5M370.4 311.7h1.5M382.4 311.7h1.5M389.9 311.7h1.5M403.5 311.7h3M233.5 312.7h1.5M239.5 312.7h1.5M245.5 312.7h1.5M248.6 312.7h1.5M256.1 312.7h1.5M268.1 312.7h1.5M271.1 312.7h1.5M278.6 312.7h1.5M296.7 312.7h1.5M304.2 312.7h3M313.2 312.7h3M329.8 312.7h1.5M385.4 312.7h4.5M399 312.7h1.5M236.5 313.7h1.5M241 313.7h1.5M245.5 313.7h1.5M253.1 313.7h1.5M259.1 313.7h3M272.6 313.7h1.5M275.6 313.7h4.5M292.2 313.7h4.5M298.2 313.7h1.5M302.7 313.7h1.5M319.2 313.7h1.5M328.3 313.7h1.5M340.3 313.7h3M352.3 313.7h3M356.9 313.7h1.5M359.9 313.7h1.5M371.9 313.7h1.5M377.9 313.7h6M386.9 313.7h1.5M399 313.7h1.5M233.5 314.7h1.5M241 314.7h1.5M253.1 314.7h4.5M260.6 314.7h1.5M265.1 314.7h1.5M304.2 314.7h1.5M317.7 314.7h6M326.8 314.7h1.5M329.8 314.7h3M341.8 314.7h1.5M344.8 314.7h1.5M352.3 314.7h3M379.4 314.7h1.5M382.4 314.7h1.5M385.4 314.7h1.5M402 314.7h1.5M233.5 315.7h6M242.5 315.7h1.5M245.5 315.7h1.5M250.1 315.7h1.5M253.1 315.7h1.5M262.1 315.7h1.5M269.6 315.7h1.5M277.1 315.7h3M286.2 315.7h4.5M293.7 315.7h3M301.2 315.7h1.5M307.2 315.7h3M322.3 315.7h4.5M340.3 315.7h1.5M346.3 315.7h1.5M352.3 315.7h1.5M355.3 315.7h1.5M358.4 315.7h1.5M364.4 315.7h3M371.9 315.7h3M389.9 315.7h1.5M403.5 315.7h1.5M230.5 316.7h1.5M242.5 316.7h1.5M260.6 316.7h1.5M266.6 316.7h1.5M274.1 316.7h1.5M350.8 316.7h1.5M362.9 316.7h1.5M370.4 316.7h1.5M374.9 316.7h1.5M379.4 316.7h1.5M230.5 317.7h3M235 317.7h1.5M238 317.7h3M242.5 317.7h3M248.6 317.7h1.5M262.1 317.7h3M269.6 317.7h1.5M272.6 317.7h1.5M280.1 317.7h1.5M283.1 317.7h1.5M290.7 317.7h1.5M293.7 317.7h1.5M310.2 317.7h1.5M320.8 317.7h1.5M323.8 317.7h1.5M329.8 317.7h1.5M334.3 317.7h1.5M343.3 317.7h1.5M358.4 317.7h1.5M365.9 317.7h1.5M373.4 317.7h3M380.9 317.7h1.5M403.5 317.7h1.5M408 317.7h1.5M230.5 318.8h1.5M241 318.8h1.5M245.5 318.8h1.5M260.6 318.8h1.5M292.2 318.8h1.5M319.2 318.8h1.5M329.8 318.8h1.5M335.8 318.8h1.5M368.9 318.8h1.5M374.9 318.8h1.5M307.2 319.8h1.5M319.2 319.8h1.5M323.8 319.8h1.5M335.8 319.8h1.5M341.8 319.8h3M346.3 319.8h1.5M352.3 319.8h1.5M362.9 319.8h1.5M365.9 319.8h3M373.4 319.8h1.5M382.4 319.8h1.5M388.4 319.8h3M400.5 319.8h1.5M403.5 319.8h1.5M256.1 320.8h1.5M308.7 320.8h1.5M319.2 320.8h1.5M329.8 320.8h3M338.8 320.8h1.5M352.3 320.8h1.5M355.3 320.8h1.5M364.4 320.8h1.5M370.4 320.8h1.5M374.9 320.8h1.5M377.9 320.8h1.5M382.4 320.8h3M389.9 320.8h1.5M394.5 320.8h1.5M402 320.8h1.5M290.7 321.8h1.5M307.2 321.8h3M313.2 321.8h1.5M317.7 321.8h3M323.8 321.8h1.5M332.8 321.8h3M344.8 321.8h1.5M347.8 321.8h1.5M350.8 321.8h1.5M356.9 321.8h1.5M361.4 321.8h1.5M370.4 321.8h1.5M377.9 321.8h1.5M392.9 321.8h1.5M396 321.8h3M311.7 322.8h3M340.3 322.8h1.5M344.8 322.8h1.5M349.3 322.8h3M359.9 322.8h1.5M365.9 322.8h3M380.9 322.8h3M386.9 322.8h3M402 322.8h1.5M271.1 323.8h1.5M277.1 323.8h3M289.2 323.8h4.5M298.2 323.8h1.5M302.7 323.8h1.5M305.7 323.8h1.5M310.2 323.8h1.5M317.7 323.8h1.5M322.3 323.8h1.5M328.3 323.8h1.5M334.3 323.8h1.5M347.8 323.8h4.5M364.4 323.8h1.5M368.9 323.8h1.5M377.9 323.8h1.5M380.9 323.8h1.5M386.9 323.8h3M400.5 323.8h1.5M405 323.8h1.5M293.7 324.8h1.5M314.7 324.8h1.5M317.7 324.8h1.5M331.3 324.8h1.5M338.8 324.8h4.5M355.3 324.8h1.5M358.4 324.8h3M367.4 324.8h1.5M370.4 324.8h1.5M374.9 324.8h1.5M379.4 324.8h3M385.4 324.8h3M389.9 324.8h7.5M399 324.8h1.5M409.5 324.8h1.5M292.2 325.8h1.5M307.2 325.8h3M326.8 325.8h1.5M331.3 325.8h3M346.3 325.8h1.5M353.8 325.8h1.5M364.4 325.8h1.5M368.9 325.8h1.5M376.4 325.8h1.5M382.4 325.8h1.5M388.4 325.8h1.5M392.9 325.8h1.5M396 325.8h1.5M402 325.8h4.5M320.8 326.8h1.5M331.3 326.8h1.5M341.8 326.8h1.5M344.8 326.8h1.5M358.4 326.8h1.5M365.9 326.8h3M371.9 326.8h3M376.4 326.8h3M382.4 326.8h1.5M385.4 326.8h1.5M405 326.8h1.5M256.1 327.8h1.5M281.6 327.8h1.5M286.2 327.8h1.5M308.7 327.8h1.5M311.7 327.8h1.5M328.3 327.8h1.5M332.8 327.8h1.5M341.8 327.8h1.5M347.8 327.8h1.5M350.8 327.8h1.5M361.4 327.8h1.5M365.9 327.8h1.5M376.4 327.8h3M385.4 327.8h1.5M392.9 327.8h1.5M397.5 327.8h1.5M406.5 327.8h3M281.6 328.8h1.5M293.7 328.8h1.5M313.2 328.8h1.5M319.2 328.8h1.5M322.3 328.8h3M326.8 328.8h1.5M329.8 328.8h1.5M332.8 328.8h1.5M337.3 328.8h3M349.3 328.8h6M359.9 328.8h3M364.4 328.8h1.5M374.9 328.8h4.5M380.9 328.8h4.5M389.9 328.8h1.5M394.5 328.8h1.5M399 328.8h1.5M402 328.8h1.5M406.5 328.8h1.5M275.6 329.8h1.5M280.1 329.8h1.5M287.7 329.8h1.5M293.7 329.8h1.5M302.7 329.8h3M311.7 329.8h1.5M319.2 329.8h1.5M323.8 329.8h1.5M332.8 329.8h1.5M362.9 329.8h1.5M374.9 329.8h3M397.5 329.8h1.5M402 329.8h1.5M405 329.8h1.5M409.5 329.8h1.5M317.7 330.8h1.5M358.4 330.8h1.5M368.9 330.8h1.5M374.9 330.8h3M394.5 330.8h1.5M399 330.8h1.5M403.5 330.8h4.5M325.3 331.8h1.5M350.8 331.8h1.5M353.8 331.8h1.5M361.4 331.8h1.5M373.4 331.8h4.5M396 331.8h1.5M250.1 332.8h1.5M287.7 332.8h1.5M292.2 332.8h4.5M299.7 332.8h3M317.7 332.8h3M329.8 332.8h1.5M334.3 332.8h1.5M340.3 332.8h1.5M343.3 332.8h4.5M356.9 332.8h1.5M361.4 332.8h3M376.4 332.8h1.5M382.4 332.8h6M397.5 332.8h3M406.5 332.8h4.5M287.7 333.8h1.5M313.2 333.8h1.5M319.2 333.8h1.5M334.3 333.8h3M343.3 333.8h1.5M359.9 333.8h1.5M368.9 333.8h1.5M371.9 333.8h3M376.4 333.8h1.5M379.4 333.8h1.5M388.4 333.8h4.5M400.5 333.8h3M290.7 334.8h1.5M307.2 334.8h1.5M322.3 334.8h1.5M332.8 334.8h1.5M340.3 334.8h1.5M356.9 334.8h1.5M362.9 334.8h1.5M373.4 334.8h1.5M379.4 334.8h1.5M382.4 334.8h1.5M386.9 334.8h1.5M392.9 334.8h1.5M396 334.8h1.5M254.6 335.8h1.5M272.6 335.8h1.5M280.1 335.8h1.5M287.7 335.8h1.5M301.2 335.8h1.5M307.2 335.8h1.5M311.7 335.8h3M320.8 335.8h3M329.8 335.8h1.5M337.3 335.8h1.5M340.3 335.8h1.5M361.4 335.8h4.5M368.9 335.8h3M379.4 335.8h1.5M382.4 335.8h1.5M403.5 335.8h3M308.7 336.8h1.5M311.7 336.8h1.5M319.2 336.8h1.5M322.3 336.8h3M329.8 336.8h1.5M337.3 336.8h1.5M340.3 336.8h1.5M356.9 336.8h1.5M361.4 336.8h1.5M364.4 336.8h1.5M396 336.8h1.5M405 336.8h1.5M263.6 337.8h1.5M305.7 337.8h1.5M314.7 337.8h1.5M320.8 337.8h1.5M325.3 337.8h3M331.3 337.8h1.5M340.3 337.8h1.5M350.8 337.8h1.5M355.3 337.8h1.5M370.4 337.8h1.5M373.4 337.8h3M379.4 337.8h1.5M383.9 337.8h1.5M389.9 337.8h1.5M406.5 337.8h1.5M409.5 337.8h1.5M239.5 338.8h1.5M265.1 338.8h1.5M268.1 338.8h1.5M275.6 338.8h1.5M281.6 338.8h1.5M284.6 338.8h1.5M287.7 338.8h1.5M295.2 338.8h1.5M305.7 338.8h1.5M310.2 338.8h4.5M326.8 338.8h1.5M334.3 338.8h1.5M341.8 338.8h3M353.8 338.8h1.5M365.9 338.8h1.5M400.5 338.8h1.5M254.6 339.8h1.5M287.7 339.8h1.5M299.7 339.8h1.5M305.7 339.8h1.5M322.3 339.8h1.5M325.3 339.8h1.5M331.3 339.8h1.5M346.3 339.8h1.5M352.3 339.8h1.5M359.9 339.8h1.5M367.4 339.8h1.5M371.9 339.8h4.5M385.4 339.8h1.5M397.5 339.8h1.5M409.5 339.8h1.5M287.7 340.8h1.5M307.2 340.8h1.5M316.2 340.8h1.5M320.8 340.8h1.5M331.3 340.8h4.5M340.3 340.8h1.5M343.3 340.8h1.5M346.3 340.8h3M355.3 340.8h1.5M358.4 340.8h3M371.9 340.8h1.5M379.4 340.8h3M383.9 340.8h1.5M388.4 340.8h1.5M394.5 340.8h1.5M397.5 340.8h1.5M403.5 340.8h4.5M409.5 340.8h1.5M293.7 341.8h1.5M326.8 341.8h1.5M329.8 341.8h3M338.8 341.8h4.5M347.8 341.8h3M355.3 341.8h3M362.9 341.8h1.5M370.4 341.8h1.5M373.4 341.8h4.5M379.4 341.8h1.5M382.4 341.8h1.5M391.4 341.8h1.5M396 341.8h1.5M400.5 341.8h1.5M304.2 342.8h1.5M337.3 342.8h1.5M350.8 342.8h1.5M355.3 342.8h1.5M358.4 342.8h1.5M361.4 342.8h1.5M389.9 342.8h1.5M392.9 342.8h1.5M397.5 342.8h4.5M236.5 343.8h1.5M308.7 343.8h3M322.3 343.8h1.5M326.8 343.8h1.5M335.8 343.8h3M343.3 343.8h1.5M355.3 343.8h1.5M359.9 343.8h1.5M362.9 343.8h1.5M365.9 343.8h3M370.4 343.8h1.5M394.5 343.8h1.5M402 343.8h3M406.5 343.8h3M305.7 344.8h1.5M316.2 344.8h3M323.8 344.8h1.5M328.3 344.8h1.5M343.3 344.8h4.5M350.8 344.8h1.5M359.9 344.8h3M365.9 344.8h1.5M368.9 344.8h7.5M392.9 344.8h1.5M399 344.8h1.5M403.5 344.8h1.5M262.1 345.8h1.5M271.1 345.8h1.5M295.2 345.8h3M310.2 345.8h1.5M313.2 345.8h1.5M325.3 345.8h1.5M328.3 345.8h6M337.3 345.8h1.5M340.3 345.8h1.5M344.8 345.8h1.5M356.9 345.8h4.5M371.9 345.8h1.5M379.4 345.8h1.5M391.4 345.8h1.5M396 345.8h3M400.5 345.8h6M408 345.8h1.5M242.5 346.8h1.5M298.2 346.8h1.5M308.7 346.8h1.5M317.7 346.8h3M328.3 346.8h1.5M331.3 346.8h1.5M353.8 346.8h1.5M359.9 346.8h3M368.9 346.8h1.5M373.4 346.8h3M392.9 346.8h1.5M400.5 346.8h1.5M409.5 346.8h1.5M232 347.8h1.5M266.6 347.8h1.5M280.1 347.8h1.5M283.1 347.8h3M295.2 347.8h1.5M301.2 347.8h1.5M307.2 347.8h1.5M310.2 347.8h1.5M314.7 347.8h1.5M319.2 347.8h1.5M325.3 347.8h1.5M334.3 347.8h1.5M380.9 347.8h1.5M388.4 347.8h1.5M396 347.8h1.5M400.5 347.8h1.5M408 347.8h1.5M263.6 348.8h1.5M272.6 348.8h1.5M290.7 348.8h1.5M296.7 348.8h1.5M305.7 348.8h1.5M313.2 348.8h3M320.8 348.8h1.5M325.3 348.8h1.5M328.3 348.8h3M335.8 348.8h1.5M338.8 348.8h1.5M343.3 348.8h3M361.4 348.8h4.5M373.4 348.8h1.5M383.9 348.8h1.5M386.9 348.8h1.5M394.5 348.8h1.5M402 348.8h1.5M408 348.8h3M287.7 349.8h1.5M290.7 349.8h1.5M295.2 349.8h1.5M298.2 349.8h4.5M311.7 349.8h1.5M319.2 349.8h3M325.3 349.8h1.5M329.8 349.8h4.5M338.8 349.8h1.5M341.8 349.8h1.5M346.3 349.8h1.5M356.9 349.8h3M364.4 349.8h1.5M380.9 349.8h1.5M253.1 350.8h1.5M292.2 350.8h1.5M295.2 350.8h1.5M313.2 350.8h1.5M319.2 350.8h1.5M326.8 350.8h4.5M349.3 350.8h3M362.9 350.8h4.5M370.4 350.8h1.5M382.4 350.8h1.5M392.9 350.8h1.5M408 350.8h3M289.2 351.8h1.5M304.2 351.8h1.5M320.8 351.8h1.5M332.8 351.8h1.5M340.3 351.8h3M347.8 351.8h1.5M352.3 351.8h1.5M358.4 351.8h1.5M361.4 351.8h3M367.4 351.8h3M373.4 351.8h1.5M377.9 351.8h1.5M382.4 351.8h3M391.4 351.8h1.5M399 351.8h3M406.5 351.8h1.5M313.2 352.8h4.5M319.2 352.8h1.5M322.3 352.8h1.5M326.8 352.8h1.5M334.3 352.8h3M344.8 352.8h1.5M350.8 352.8h1.5M359.9 352.8h3M368.9 352.8h3M376.4 352.8h1.5M382.4 352.8h1.5M388.4 352.8h7.5M399 352.8h1.5M406.5 352.8h3M278.6 353.8h1.5M304.2 353.8h1.5M307.2 353.8h1.5M322.3 353.8h1.5M329.8 353.8h1.5M335.8 353.8h1.5M338.8 353.8h6M359.9 353.8h4.5M368.9 353.8h1.5M380.9 353.8h1.5M383.9 353.8h1.5M388.4 353.8h1.5M396 353.8h1.5M400.5 353.8h4.5M408 353.8h1.5M292.2 354.8h1.5M301.2 354.8h1.5M322.3 354.8h1.5M325.3 354.8h1.5M335.8 354.8h1.5M340.3 354.8h1.5M343.3 354.8h1.5M347.8 354.8h1.5M356.9 354.8h4.5M362.9 354.8h1.5M373.4 354.8h1.5M382.4 354.8h1.5M388.4 354.8h3M392.9 354.8h1.5M400.5 354.8h1.5M405 354.8h1.5M287.7 355.8h1.5M295.2 355.8h1.5M299.7 355.8h1.5M305.7 355.8h3M313.2 355.8h1.5M328.3 355.8h1.5M332.8 355.8h1.5M337.3 355.8h1.5M343.3 355.8h1.5M352.3 355.8h1.5M355.3 355.8h1.5M368.9 355.8h1.5M380.9 355.8h1.5M389.9 355.8h1.5M394.5 355.8h1.5M406.5 355.8h1.5M263.6 356.8h1.5M298.2 356.8h1.5M304.2 356.8h1.5M316.2 356.8h3M329.8 356.8h1.5M337.3 356.8h1.5M349.3 356.8h3M373.4 356.8h1.5M376.4 356.8h1.5M379.4 356.8h1.5M388.4 356.8h1.5M397.5 356.8h1.5M406.5 356.8h3M314.7 357.8h3M320.8 357.8h1.5M331.3 357.8h6M344.8 357.8h1.5M347.8 357.8h1.5M353.8 357.8h1.5M358.4 357.8h1.5M365.9 357.8h1.5M371.9 357.8h1.5M374.9 357.8h1.5M383.9 357.8h1.5M389.9 357.8h3M394.5 357.8h4.5M403.5 357.8h1.5M408 357.8h3M305.7 358.8h1.5M319.2 358.8h1.5M326.8 358.8h1.5M329.8 358.8h1.5M334.3 358.8h1.5M337.3 358.8h1.5M359.9 358.8h1.5M368.9 358.8h1.5M373.4 358.8h1.5M376.4 358.8h1.5M379.4 358.8h3M383.9 358.8h1.5M386.9 358.8h1.5M389.9 358.8h1.5M392.9 358.8h1.5M403.5 358.8h3M302.7 359.8h1.5M319.2 359.8h1.5M326.8 359.8h3M337.3 359.8h1.5M341.8 359.8h4.5M353.8 359.8h1.5M359.9 359.8h1.5M367.4 359.8h1.5M370.4 359.8h1.5M373.4 359.8h1.5M377.9 359.8h1.5M386.9 359.8h3M391.4 359.8h3M400.5 359.8h3" stroke="#fbc090" stroke-width="1.05" fill="none"/>
<path d="M256.1 277.7h1.5M329.8 277.7h1.5M383.9 277.7h1.5M405 282.7h1.5M394.5 283.7h1.5M266.6 284.7h1.5M394.5 286.7h1.5M380.9 288.7h1.5M259.1 289.7h1.5M320.8 289.7h1.5M343.3 289.7h1.5M373.4 289.7h1.5M394.5 289.7h1.5M370.4 290.7h1.5M373.4 290.7h1.5M377.9 290.7h1.5M349.3 291.7h1.5M344.8 292.7h1.5M284.6 293.7h1.5M289.2 293.7h1.5M307.2 293.7h1.5M350.8 293.7h1.5M405 293.7h1.5M356.9 294.7h1.5M394.5 296.7h1.5M394.5 297.7h1.5M245.5 298.7h1.5M296.7 298.7h1.5M250.1 300.7h1.5M376.4 300.7h1.5M405 300.7h1.5M290.7 301.7h1.5M256.1 304.7h1.5M394.5 304.7h1.5M374.9 305.7h1.5M392.9 305.7h1.5M260.6 308.7h1.5M265.1 308.7h1.5M271.1 308.7h1.5M380.9 308.7h1.5M409.5 308.7h1.5M322.3 310.7h1.5M389.9 312.7h1.5M275.6 316.7h1.5M383.9 316.7h1.5M392.9 316.7h1.5M235 319.8h1.5M239.5 319.8h1.5M257.6 319.8h1.5M266.6 319.8h3M278.6 319.8h1.5M289.2 319.8h1.5M238 320.8h1.5M266.6 320.8h1.5M238 321.8h3M250.1 321.8h1.5M257.6 321.8h1.5M260.6 321.8h1.5M232 323.8h1.5M236.5 323.8h1.5M232 325.8h1.5M235 325.8h1.5M238 325.8h1.5M245.5 325.8h1.5M256.1 325.8h1.5M269.6 325.8h1.5M277.1 325.8h1.5M286.2 325.8h1.5M241 326.8h1.5M251.6 326.8h3M262.1 326.8h1.5M266.6 326.8h1.5M271.1 326.8h1.5M287.7 326.8h1.5M340.3 326.8h1.5M239.5 327.8h1.5M250.1 327.8h1.5M284.6 327.8h1.5M289.2 327.8h1.5M241 328.8h1.5M262.1 328.8h1.5M244 329.8h1.5M256.1 329.8h1.5M266.6 329.8h1.5M232 330.8h6M244 330.8h1.5M247 330.8h1.5M253.1 330.8h1.5M259.1 330.8h1.5M262.1 330.8h1.5M268.1 330.8h1.5M275.6 330.8h1.5M280.1 330.8h1.5M230.5 331.8h3M235 331.8h3M242.5 331.8h3M232 332.8h1.5M256.1 332.8h4.5M233.5 333.8h1.5M241 333.8h1.5M274.1 333.8h1.5M242.5 334.8h1.5M253.1 334.8h1.5M257.6 334.8h1.5M260.6 334.8h1.5M265.1 334.8h1.5M230.5 335.8h3M235 335.8h3M242.5 335.8h1.5M257.6 335.8h1.5M230.5 336.8h1.5M233.5 336.8h1.5M239.5 336.8h1.5M244 336.8h1.5M250.1 336.8h1.5M259.1 336.8h1.5M265.1 336.8h1.5M268.1 336.8h1.5M280.1 336.8h1.5M296.7 336.8h1.5M233.5 337.8h1.5M236.5 337.8h1.5M250.1 337.8h1.5M256.1 337.8h1.5M238 338.8h1.5M232 339.8h1.5M256.1 339.8h1.5M238 340.8h1.5M248.6 340.8h1.5M260.6 340.8h1.5M266.6 340.8h3M274.1 340.8h1.5M235 341.8h1.5M245.5 341.8h1.5M274.1 341.8h1.5M236.5 342.8h6M259.1 342.8h1.5M265.1 342.8h1.5M251.6 343.8h1.5M265.1 343.8h1.5M230.5 344.8h1.5M235 344.8h1.5M241 344.8h1.5M250.1 344.8h3M247 345.8h1.5M230.5 346.8h1.5M244 346.8h3M233.5 348.8h1.5M238 348.8h3M230.5 349.8h3M238 349.8h1.5M275.6 349.8h1.5M232 350.8h1.5M235 350.8h1.5M238 350.8h1.5M245.5 350.8h1.5M232 351.8h4.5M259.1 351.8h1.5M263.6 351.8h1.5M233.5 352.8h4.5M241 352.8h3M248.6 352.8h1.5M257.6 352.8h1.5M266.6 352.8h3M245.5 353.8h1.5M299.7 353.8h1.5M230.5 354.8h1.5M238 354.8h1.5M250.1 354.8h3M275.6 354.8h1.5M235 355.8h3M263.6 355.8h1.5M290.7 355.8h1.5M247 356.8h1.5M256.1 356.8h1.5M266.6 356.8h1.5M296.7 356.8h1.5M235 357.8h1.5M245.5 357.8h1.5M248.6 357.8h1.5M266.6 357.8h1.5M235 358.8h3M241 358.8h6M268.1 358.8h1.5M236.5 359.8h3M266.6 359.8h1.5" stroke="#a4c0d8" stroke-width="1.05" fill="none"/>
<path d="M319.2 277.7h1.5M353.8 277.7h1.5M232 278.7h1.5M236.5 278.7h1.5M251.6 278.7h1.5M254.6 278.7h1.5M257.6 278.7h3M263.6 278.7h1.5M271.1 278.7h3M280.1 278.7h1.5M311.7 278.7h1.5M316.2 278.7h1.5M323.8 278.7h1.5M326.8 278.7h1.5M329.8 278.7h1.5M346.3 278.7h1.5M365.9 278.7h3M399 278.7h1.5M408 278.7h1.5M230.5 279.7h3M245.5 279.7h1.5M251.6 279.7h1.5M259.1 279.7h1.5M265.1 279.7h1.5M269.6 279.7h1.5M277.1 279.7h3M283.1 279.7h1.5M286.2 279.7h1.5M290.7 279.7h1.5M296.7 279.7h1.5M299.7 279.7h1.5M308.7 279.7h1.5M311.7 279.7h1.5M314.7 279.7h1.5M320.8 279.7h1.5M329.8 279.7h1.5M349.3 279.7h1.5M356.9 279.7h1.5M371.9 279.7h3M379.4 279.7h1.5M383.9 279.7h1.5M292.2 280.7h1.5M295.2 280.7h1.5M307.2 280.7h3M329.8 280.7h1.5M367.4 280.7h1.5M370.4 280.7h1.5M241 281.7h1.5M253.1 281.7h1.5M266.6 281.7h3M278.6 281.7h1.5M284.6 281.7h1.5M299.7 281.7h1.5M304.2 281.7h3M316.2 281.7h1.5M319.2 281.7h3M329.8 281.7h4.5M340.3 281.7h1.5M368.9 281.7h1.5M238 282.7h1.5M247 282.7h1.5M272.6 282.7h1.5M278.6 282.7h1.5M337.3 282.7h1.5M265.1 283.7h1.5M268.1 283.7h1.5M290.7 283.7h1.5M386.9 283.7h1.5M403.5 283.7h1.5M242.5 284.7h1.5M260.6 284.7h1.5M271.1 284.7h1.5M307.2 284.7h1.5M313.2 284.7h1.5M362.9 284.7h1.5M385.4 284.7h1.5M233.5 285.7h1.5M239.5 285.7h1.5M254.6 285.7h1.5M263.6 285.7h1.5M266.6 285.7h1.5M281.6 285.7h1.5M290.7 285.7h1.5M317.7 285.7h1.5M323.8 285.7h1.5M343.3 285.7h1.5M353.8 285.7h1.5M361.4 285.7h1.5M370.4 285.7h1.5M382.4 285.7h1.5M388.4 285.7h1.5M233.5 286.7h1.5M245.5 286.7h1.5M250.1 286.7h1.5M257.6 286.7h3M265.1 286.7h1.5M274.1 286.7h3M293.7 286.7h1.5M299.7 286.7h1.5M304.2 286.7h3M308.7 286.7h1.5M323.8 286.7h1.5M328.3 286.7h4.5M334.3 286.7h1.5M365.9 286.7h1.5M397.5 286.7h1.5M400.5 286.7h1.5M409.5 286.7h1.5M236.5 287.7h1.5M268.1 287.7h1.5M272.6 287.7h1.5M280.1 287.7h1.5M287.7 287.7h1.5M380.9 287.7h1.5M233.5 288.7h1.5M263.6 288.7h1.5M305.7 288.7h1.5M317.7 288.7h1.5M329.8 288.7h1.5M382.4 288.7h1.5M236.5 289.7h1.5M271.1 289.7h1.5M253.1 290.7h1.5M262.1 290.7h3M271.1 290.7h1.5M392.9 290.7h1.5M233.5 291.7h1.5M238 291.7h1.5M263.6 291.7h1.5M278.6 291.7h3M341.8 291.7h1.5M379.4 291.7h1.5M382.4 291.7h1.5M239.5 292.7h3M301.2 292.7h1.5M319.2 292.7h3M379.4 292.7h1.5M388.4 292.7h1.5M233.5 293.7h1.5M352.3 293.7h1.5M238 294.7h1.5M268.1 294.7h1.5M313.2 294.7h1.5M319.2 294.7h1.5M329.8 294.7h1.5M335.8 294.7h1.5M367.4 294.7h1.5M379.4 294.7h1.5M405 294.7h1.5M230.5 295.7h1.5M244 295.7h1.5M253.1 295.7h1.5M262.1 295.7h1.5M272.6 295.7h1.5M286.2 295.7h1.5M325.3 295.7h1.5M341.8 295.7h1.5M362.9 295.7h1.5M377.9 295.7h1.5M388.4 295.7h1.5M405 295.7h1.5M236.5 296.7h1.5M247 296.7h1.5M253.1 296.7h1.5M293.7 296.7h1.5M314.7 296.7h1.5M356.9 296.7h1.5M368.9 296.7h1.5M373.4 296.7h1.5M402 296.7h1.5M235 297.7h1.5M253.1 297.7h1.5M262.1 297.7h1.5M265.1 297.7h1.5M271.1 297.7h1.5M283.1 297.7h1.5M305.7 297.7h1.5M313.2 297.7h1.5M335.8 297.7h1.5M356.9 297.7h1.5M370.4 297.7h1.5M374.9 297.7h1.5M396 297.7h1.5M405 297.7h1.5M311.7 298.7h1.5M352.3 298.7h1.5M253.1 299.7h1.5M262.1 299.7h1.5M271.1 299.7h1.5M281.6 299.7h1.5M371.9 299.7h1.5M356.9 300.7h1.5M408 300.7h1.5M232 301.7h3M241 301.7h1.5M251.6 301.7h1.5M254.6 301.7h1.5M278.6 301.7h1.5M313.2 301.7h1.5M374.9 301.7h1.5M230.5 302.7h3M250.1 302.7h1.5M254.6 302.7h3M295.2 302.7h1.5M319.2 302.7h1.5M341.8 302.7h1.5M353.8 302.7h1.5M364.4 302.7h1.5M368.9 302.7h1.5M371.9 302.7h1.5M376.4 302.7h1.5M380.9 302.7h3M389.9 302.7h1.5M392.9 302.7h1.5M400.5 302.7h1.5M250.1 303.7h1.5M262.1 303.7h1.5M281.6 303.7h1.5M293.7 303.7h1.5M346.3 303.7h1.5M382.4 303.7h1.5M236.5 304.7h1.5M239.5 304.7h3M251.6 304.7h1.5M269.6 304.7h1.5M286.2 304.7h1.5M295.2 304.7h1.5M313.2 304.7h1.5M316.2 304.7h4.5M338.8 304.7h3M350.8 304.7h1.5M365.9 304.7h1.5M371.9 304.7h1.5M377.9 304.7h1.5M382.4 304.7h1.5M388.4 304.7h1.5M250.1 305.7h1.5M269.6 305.7h3M281.6 305.7h1.5M284.6 305.7h1.5M292.2 305.7h1.5M296.7 305.7h1.5M299.7 305.7h1.5M317.7 305.7h3M340.3 305.7h1.5M353.8 305.7h1.5M358.4 305.7h1.5M370.4 305.7h1.5M238 306.7h3M248.6 306.7h1.5M259.1 306.7h1.5M274.1 306.7h1.5M323.8 306.7h1.5M405 306.7h1.5M247 307.7h3M254.6 307.7h1.5M274.1 307.7h1.5M397.5 307.7h1.5M402 307.7h1.5M232 308.7h1.5M275.6 308.7h1.5M236.5 309.7h1.5M241 309.7h1.5M260.6 309.7h1.5M284.6 309.7h1.5M287.7 309.7h1.5M307.2 309.7h1.5M332.8 309.7h1.5M346.3 309.7h1.5M385.4 309.7h1.5M235 310.7h1.5M296.7 310.7h1.5M391.4 310.7h1.5M283.1 311.7h1.5M299.7 311.7h1.5M304.2 311.7h3M313.2 311.7h1.5M326.8 311.7h1.5M335.8 311.7h1.5M346.3 311.7h1.5M380.9 311.7h1.5M244 312.7h1.5M230.5 313.7h4.5M247 313.7h1.5M251.6 313.7h1.5M254.6 313.7h1.5M266.6 313.7h1.5M271.1 313.7h1.5M280.1 313.7h1.5M284.6 313.7h1.5M308.7 313.7h1.5M313.2 313.7h3M317.7 313.7h1.5M329.8 313.7h1.5M355.3 313.7h1.5M358.4 313.7h1.5M362.9 313.7h1.5M368.9 313.7h1.5M388.4 313.7h1.5M239.5 314.7h1.5M242.5 314.7h1.5M278.6 314.7h1.5M301.2 314.7h1.5M335.8 314.7h1.5M368.9 314.7h1.5M389.9 314.7h1.5M392.9 314.7h1.5M396 314.7h1.5M247 315.7h1.5M254.6 315.7h1.5M263.6 315.7h1.5M272.6 315.7h1.5M281.6 315.7h4.5M299.7 315.7h1.5M319.2 315.7h1.5M328.3 315.7h1.5M347.8 315.7h3M353.8 315.7h1.5M361.4 315.7h1.5M374.9 315.7h1.5M386.9 315.7h1.5M409.5 315.7h1.5M248.6 316.7h1.5M259.1 316.7h1.5M263.6 316.7h1.5M296.7 316.7h1.5M311.7 316.7h3M382.4 316.7h1.5M236.5 317.7h1.5M247 317.7h1.5M251.6 317.7h1.5M254.6 317.7h1.5M259.1 317.7h1.5M268.1 317.7h1.5M277.1 317.7h1.5M281.6 317.7h1.5M292.2 317.7h1.5M307.2 317.7h1.5M313.2 317.7h1.5M317.7 317.7h3M341.8 317.7h1.5M368.9 317.7h1.5M382.4 317.7h1.5M389.9 317.7h1.5M397.5 317.7h3M402 317.7h1.5M405 317.7h1.5M293.7 318.8h3M326.8 319.8h3M349.3 319.8h1.5M371.9 319.8h1.5M377.9 319.8h1.5M385.4 319.8h3M392.9 319.8h1.5M396 319.8h3M335.8 320.8h1.5M341.8 320.8h1.5M344.8 320.8h3M353.8 320.8h1.5M358.4 320.8h3M365.9 320.8h3M373.4 320.8h1.5M376.4 320.8h1.5M380.9 320.8h1.5M386.9 320.8h3M392.9 320.8h1.5M397.5 320.8h1.5M406.5 320.8h1.5M302.7 321.8h1.5M320.8 321.8h1.5M329.8 321.8h1.5M343.3 321.8h1.5M353.8 321.8h1.5M358.4 321.8h3M365.9 321.8h4.5M371.9 321.8h1.5M388.4 321.8h3M403.5 321.8h1.5M409.5 321.8h1.5M281.6 322.8h1.5M292.2 322.8h1.5M334.3 322.8h1.5M355.3 322.8h1.5M364.4 322.8h1.5M368.9 322.8h1.5M371.9 322.8h3M392.9 322.8h1.5M400.5 322.8h1.5M352.3 323.8h6M359.9 323.8h1.5M362.9 323.8h1.5M373.4 323.8h1.5M379.4 323.8h1.5M389.9 323.8h4.5M396 323.8h1.5M402 323.8h1.5M409.5 323.8h1.5M301.2 324.8h1.5M305.7 324.8h1.5M316.2 324.8h1.5M323.8 324.8h1.5M328.3 324.8h3M344.8 324.8h1.5M349.3 324.8h1.5M352.3 324.8h1.5M356.9 324.8h1.5M361.4 324.8h1.5M364.4 324.8h1.5M383.9 324.8h1.5M388.4 324.8h1.5M400.5 324.8h1.5M299.7 325.8h1.5M304.2 325.8h1.5M314.7 325.8h1.5M341.8 325.8h1.5M344.8 325.8h1.5M355.3 325.8h1.5M358.4 325.8h1.5M362.9 325.8h1.5M367.4 325.8h1.5M374.9 325.8h1.5M385.4 325.8h1.5M391.4 325.8h1.5M400.5 325.8h1.5M408 325.8h1.5M356.9 326.8h1.5M379.4 326.8h1.5M383.9 326.8h1.5M307.2 327.8h1.5M319.2 327.8h1.5M322.3 327.8h3M334.3 327.8h1.5M355.3 327.8h1.5M358.4 327.8h1.5M364.4 327.8h1.5M367.4 327.8h1.5M371.9 327.8h3M399 327.8h1.5M402 327.8h4.5M296.7 328.8h1.5M301.2 328.8h1.5M314.7 328.8h4.5M331.3 328.8h1.5M334.3 328.8h1.5M343.3 328.8h1.5M356.9 328.8h3M365.9 328.8h6M386.9 328.8h3M392.9 328.8h1.5M403.5 328.8h3M408 328.8h1.5M295.2 329.8h1.5M329.8 329.8h1.5M344.8 329.8h1.5M347.8 329.8h1.5M353.8 329.8h1.5M358.4 329.8h1.5M370.4 329.8h1.5M373.4 329.8h1.5M379.4 329.8h1.5M392.9 329.8h1.5M399 329.8h1.5M343.3 330.8h1.5M353.8 330.8h1.5M280.1 331.8h1.5M323.8 331.8h1.5M332.8 331.8h1.5M347.8 331.8h1.5M352.3 331.8h1.5M359.9 331.8h1.5M365.9 331.8h1.5M371.9 331.8h1.5M377.9 331.8h1.5M392.9 331.8h1.5M399 331.8h1.5M403.5 331.8h1.5M304.2 332.8h1.5M307.2 332.8h1.5M313.2 332.8h3M320.8 332.8h1.5M323.8 332.8h1.5M328.3 332.8h1.5M331.3 332.8h3M335.8 332.8h1.5M341.8 332.8h1.5M347.8 332.8h1.5M352.3 332.8h1.5M355.3 332.8h1.5M367.4 332.8h3M373.4 332.8h1.5M377.9 332.8h4.5M389.9 332.8h3M402 332.8h1.5M295.2 333.8h1.5M317.7 333.8h1.5M337.3 333.8h1.5M340.3 333.8h1.5M350.8 333.8h1.5M355.3 333.8h1.5M361.4 333.8h3M385.4 333.8h1.5M396 333.8h1.5M405 333.8h1.5M313.2 334.8h1.5M323.8 334.8h1.5M326.8 334.8h1.5M329.8 334.8h1.5M334.3 334.8h1.5M344.8 334.8h3M349.3 334.8h1.5M352.3 334.8h4.5M358.4 334.8h1.5M365.9 334.8h1.5M371.9 334.8h1.5M377.9 334.8h1.5M380.9 334.8h1.5M388.4 334.8h1.5M391.4 334.8h1.5M394.5 334.8h1.5M399 334.8h1.5M402 334.8h1.5M405 334.8h1.5M408 334.8h1.5M305.7 335.8h1.5M319.2 335.8h1.5M334.3 335.8h3M344.8 335.8h1.5M353.8 335.8h3M359.9 335.8h1.5M365.9 335.8h3M371.9 335.8h1.5M383.9 335.8h1.5M396 335.8h4.5M402 335.8h1.5M406.5 335.8h1.5M353.8 336.8h1.5M371.9 336.8h1.5M374.9 336.8h1.5M382.4 336.8h1.5M386.9 336.8h1.5M272.6 337.8h1.5M281.6 337.8h1.5M292.2 337.8h1.5M298.2 337.8h1.5M322.3 337.8h1.5M329.8 337.8h1.5M341.8 337.8h1.5M346.3 337.8h1.5M353.8 337.8h1.5M358.4 337.8h1.5M361.4 337.8h1.5M367.4 337.8h3M376.4 337.8h3M382.4 337.8h1.5M392.9 337.8h1.5M400.5 337.8h1.5M403.5 337.8h3M272.6 338.8h1.5M289.2 338.8h1.5M293.7 338.8h1.5M308.7 338.8h1.5M332.8 338.8h1.5M337.3 338.8h1.5M346.3 338.8h1.5M349.3 338.8h1.5M352.3 338.8h1.5M355.3 338.8h1.5M358.4 338.8h1.5M364.4 338.8h1.5M379.4 338.8h1.5M382.4 338.8h3M391.4 338.8h3M402 338.8h4.5M304.2 339.8h1.5M311.7 339.8h1.5M319.2 339.8h1.5M329.8 339.8h1.5M344.8 339.8h1.5M356.9 339.8h1.5M361.4 339.8h1.5M364.4 339.8h1.5M368.9 339.8h3M380.9 339.8h3M388.4 339.8h1.5M391.4 339.8h1.5M399 339.8h1.5M403.5 339.8h1.5M352.3 340.8h3M365.9 340.8h1.5M368.9 340.8h1.5M373.4 340.8h1.5M376.4 340.8h1.5M389.9 340.8h1.5M392.9 340.8h1.5M400.5 340.8h1.5M311.7 341.8h1.5M319.2 341.8h1.5M332.8 341.8h1.5M337.3 341.8h1.5M368.9 341.8h1.5M380.9 341.8h1.5M383.9 341.8h3M389.9 341.8h1.5M409.5 341.8h1.5M319.2 342.8h1.5M331.3 342.8h1.5M365.9 342.8h3M374.9 342.8h1.5M377.9 342.8h1.5M382.4 342.8h1.5M385.4 342.8h1.5M396 342.8h1.5M402 342.8h1.5M405 342.8h1.5M408 342.8h3M292.2 343.8h1.5M316.2 343.8h1.5M331.3 343.8h1.5M344.8 343.8h1.5M349.3 343.8h1.5M361.4 343.8h1.5M364.4 343.8h1.5M368.9 343.8h1.5M379.4 343.8h1.5M382.4 343.8h1.5M389.9 343.8h1.5M405 343.8h1.5M331.3 344.8h1.5M347.8 344.8h1.5M358.4 344.8h1.5M376.4 344.8h1.5M388.4 344.8h1.5M391.4 344.8h1.5M396 344.8h1.5M402 344.8h1.5M406.5 344.8h1.5M409.5 344.8h1.5M283.1 345.8h1.5M298.2 345.8h1.5M319.2 345.8h1.5M322.3 345.8h1.5M338.8 345.8h1.5M346.3 345.8h6M353.8 345.8h1.5M361.4 345.8h1.5M383.9 345.8h3M394.5 345.8h1.5M316.2 346.8h1.5M323.8 346.8h1.5M329.8 346.8h1.5M335.8 346.8h1.5M358.4 346.8h1.5M362.9 346.8h1.5M380.9 346.8h1.5M385.4 346.8h3M396 346.8h3M304.2 347.8h1.5M322.3 347.8h1.5M328.3 347.8h1.5M335.8 347.8h1.5M349.3 347.8h1.5M361.4 347.8h1.5M368.9 347.8h1.5M371.9 347.8h1.5M376.4 347.8h1.5M379.4 347.8h1.5M383.9 347.8h1.5M392.9 347.8h3M397.5 347.8h1.5M403.5 347.8h4.5M304.2 348.8h1.5M308.7 348.8h1.5M319.2 348.8h1.5M337.3 348.8h1.5M341.8 348.8h1.5M347.8 348.8h3M352.3 348.8h1.5M355.3 348.8h6M368.9 348.8h3M376.4 348.8h1.5M380.9 348.8h1.5M389.9 348.8h1.5M396 348.8h1.5M405 348.8h1.5M310.2 349.8h1.5M316.2 349.8h3M322.3 349.8h1.5M326.8 349.8h1.5M344.8 349.8h1.5M349.3 349.8h1.5M352.3 349.8h3M368.9 349.8h1.5M371.9 349.8h1.5M377.9 349.8h3M402 349.8h7.5M332.8 350.8h1.5M347.8 350.8h1.5M353.8 350.8h1.5M356.9 350.8h1.5M367.4 350.8h1.5M371.9 350.8h1.5M377.9 350.8h1.5M385.4 350.8h6M397.5 350.8h3M403.5 350.8h1.5M311.7 351.8h1.5M329.8 351.8h1.5M350.8 351.8h1.5M364.4 351.8h1.5M370.4 351.8h1.5M380.9 351.8h1.5M386.9 351.8h3M396 351.8h1.5M405 351.8h1.5M408 351.8h3M272.6 352.8h1.5M293.7 352.8h1.5M311.7 352.8h1.5M340.3 352.8h4.5M353.8 352.8h1.5M356.9 352.8h1.5M367.4 352.8h1.5M379.4 352.8h1.5M397.5 352.8h1.5M334.3 353.8h1.5M344.8 353.8h3M355.3 353.8h1.5M364.4 353.8h1.5M374.9 353.8h1.5M377.9 353.8h3M391.4 353.8h1.5M397.5 353.8h1.5M365.9 354.8h6M374.9 354.8h1.5M386.9 354.8h1.5M391.4 354.8h1.5M403.5 354.8h1.5M406.5 354.8h3M320.8 355.8h1.5M326.8 355.8h1.5M347.8 355.8h3M356.9 355.8h1.5M367.4 355.8h1.5M370.4 355.8h3M374.9 355.8h1.5M383.9 355.8h1.5M386.9 355.8h1.5M397.5 355.8h1.5M403.5 355.8h3M295.2 356.8h1.5M319.2 356.8h1.5M334.3 356.8h1.5M341.8 356.8h1.5M344.8 356.8h1.5M353.8 356.8h1.5M358.4 356.8h3M362.9 356.8h1.5M365.9 356.8h4.5M377.9 356.8h1.5M385.4 356.8h3M396 356.8h1.5M399 356.8h6M409.5 356.8h1.5M319.2 357.8h1.5M355.3 357.8h3M367.4 357.8h3M373.4 357.8h1.5M376.4 357.8h1.5M405 357.8h1.5M323.8 358.8h1.5M340.3 358.8h1.5M347.8 358.8h1.5M356.9 358.8h3M370.4 358.8h3M388.4 358.8h1.5M394.5 358.8h1.5M399 358.8h1.5M408 358.8h1.5M346.3 359.8h1.5M355.3 359.8h1.5M365.9 359.8h1.5M383.9 359.8h1.5M399 359.8h1.5" stroke="#faae78" stroke-width="1.05" fill="none"/>
<path d="M326.8 277.7h1.5M268.1 278.7h1.5M358.4 278.7h1.5M389.9 278.7h1.5M397.5 278.7h1.5M247 279.7h1.5M250.1 279.7h1.5M253.1 279.7h3M271.1 279.7h1.5M292.2 279.7h3M319.2 279.7h1.5M335.8 279.7h1.5M338.8 279.7h1.5M368.9 279.7h1.5M242.5 281.7h1.5M262.1 281.7h1.5M269.6 281.7h3M274.1 281.7h1.5M281.6 281.7h1.5M335.8 281.7h1.5M341.8 281.7h1.5M232 283.7h1.5M238 283.7h1.5M242.5 283.7h1.5M245.5 283.7h1.5M271.1 283.7h1.5M292.2 283.7h1.5M316.2 283.7h1.5M362.9 283.7h1.5M373.4 283.7h1.5M388.4 283.7h1.5M251.6 284.7h1.5M307.2 285.7h1.5M338.8 285.7h1.5M355.3 285.7h1.5M374.9 285.7h1.5M385.4 285.7h1.5M235 286.7h1.5M251.6 286.7h3M262.1 286.7h3M269.6 286.7h1.5M272.6 286.7h1.5M292.2 286.7h1.5M307.2 286.7h1.5M313.2 286.7h1.5M316.2 286.7h1.5M332.8 286.7h1.5M344.8 286.7h1.5M358.4 286.7h1.5M371.9 286.7h4.5M379.4 286.7h1.5M391.4 286.7h1.5M362.9 287.7h1.5M241 288.7h1.5M308.7 288.7h1.5M281.6 292.7h1.5M346.3 292.7h1.5M364.4 292.7h1.5M355.3 294.7h1.5M278.6 295.7h1.5M284.6 295.7h1.5M290.7 295.7h1.5M301.2 295.7h1.5M313.2 295.7h1.5M332.8 295.7h3M382.4 295.7h1.5M311.7 297.7h1.5M316.2 297.7h1.5M328.3 297.7h1.5M338.8 297.7h1.5M376.4 297.7h1.5M409.5 297.7h1.5M343.3 298.7h1.5M230.5 299.7h1.5M275.6 299.7h1.5M311.7 300.7h1.5M287.7 301.7h1.5M304.2 301.7h1.5M311.7 301.7h1.5M323.8 301.7h1.5M244 302.7h1.5M272.6 302.7h3M281.6 302.7h1.5M284.6 302.7h1.5M296.7 302.7h1.5M362.9 302.7h1.5M370.4 302.7h1.5M292.2 303.7h1.5M260.6 304.7h1.5M287.7 304.7h1.5M307.2 304.7h1.5M355.3 304.7h1.5M359.9 304.7h1.5M367.4 304.7h1.5M385.4 304.7h1.5M402 304.7h1.5M406.5 304.7h1.5M236.5 305.7h1.5M287.7 305.7h1.5M329.8 305.7h1.5M341.8 305.7h1.5M236.5 306.7h1.5M247 306.7h1.5M277.1 306.7h1.5M371.9 306.7h1.5M388.4 306.7h1.5M379.4 308.7h1.5M334.3 309.7h1.5M356.9 309.7h1.5M253.1 310.7h1.5M260.6 310.7h1.5M265.1 310.7h1.5M281.6 310.7h1.5M371.9 310.7h1.5M374.9 310.7h1.5M307.2 311.7h1.5M396 312.7h1.5M235 313.7h1.5M239.5 313.7h1.5M242.5 313.7h1.5M257.6 313.7h1.5M262.1 313.7h1.5M265.1 313.7h1.5M337.3 313.7h1.5M376.4 313.7h1.5M397.5 313.7h1.5M400.5 313.7h1.5M232 314.7h1.5M236.5 314.7h1.5M289.2 314.7h1.5M292.2 314.7h1.5M338.8 314.7h1.5M394.5 314.7h1.5M232 315.7h1.5M241 315.7h1.5M251.6 315.7h1.5M259.1 315.7h3M271.1 315.7h1.5M302.7 315.7h1.5M313.2 315.7h3M329.8 315.7h1.5M335.8 315.7h1.5M368.9 315.7h1.5M385.4 315.7h1.5M408 315.7h1.5M238 316.7h1.5M262.1 316.7h1.5M271.1 317.7h1.5M316.2 317.7h1.5M253.1 318.8h1.5M356.9 318.8h1.5M368.9 319.8h1.5M272.6 320.8h1.5M313.2 320.8h1.5M322.3 320.8h1.5M343.3 320.8h1.5M349.3 320.8h1.5M356.9 320.8h1.5M379.4 320.8h1.5M385.4 320.8h1.5M399 320.8h1.5M403.5 320.8h1.5M293.7 321.8h3M335.8 321.8h1.5M385.4 321.8h1.5M399 321.8h1.5M406.5 321.8h1.5M328.3 322.8h1.5M346.3 322.8h1.5M385.4 322.8h1.5M391.4 322.8h1.5M304.2 323.8h1.5M311.7 323.8h1.5M319.2 323.8h1.5M335.8 323.8h1.5M343.3 323.8h3M371.9 323.8h1.5M382.4 323.8h1.5M403.5 323.8h1.5M406.5 323.8h1.5M307.2 324.8h1.5M322.3 324.8h1.5M325.3 324.8h1.5M334.3 324.8h1.5M368.9 324.8h1.5M371.9 324.8h1.5M402 324.8h3M408 324.8h1.5M329.8 325.8h1.5M352.3 325.8h1.5M356.9 325.8h1.5M370.4 325.8h3M397.5 325.8h1.5M332.8 326.8h1.5M329.8 327.8h1.5M335.8 327.8h1.5M352.3 327.8h1.5M356.9 327.8h1.5M359.9 327.8h1.5M368.9 327.8h1.5M374.9 327.8h1.5M382.4 327.8h1.5M388.4 327.8h1.5M396 327.8h1.5M335.8 328.8h1.5M362.9 328.8h1.5M371.9 328.8h1.5M313.2 329.8h1.5M322.3 329.8h1.5M335.8 329.8h1.5M340.3 329.8h1.5M349.3 329.8h1.5M355.3 329.8h3M367.4 329.8h3M371.9 329.8h1.5M382.4 329.8h1.5M386.9 329.8h3M391.4 329.8h1.5M400.5 329.8h1.5M406.5 329.8h3M362.9 330.8h1.5M382.4 330.8h1.5M397.5 330.8h1.5M349.3 331.8h1.5M362.9 331.8h1.5M382.4 331.8h1.5M386.9 331.8h1.5M353.8 332.8h1.5M365.9 332.8h1.5M370.4 332.8h1.5M388.4 332.8h1.5M392.9 332.8h1.5M396 332.8h1.5M377.9 333.8h1.5M399 333.8h1.5M295.2 334.8h1.5M374.9 334.8h1.5M385.4 334.8h1.5M341.8 335.8h3M349.3 335.8h1.5M352.3 335.8h1.5M356.9 335.8h1.5M376.4 335.8h1.5M391.4 335.8h1.5M362.9 336.8h1.5M338.8 337.8h1.5M344.8 337.8h1.5M359.9 337.8h1.5M365.9 337.8h1.5M371.9 337.8h1.5M385.4 337.8h4.5M402 337.8h1.5M301.2 338.8h1.5M319.2 338.8h1.5M323.8 338.8h1.5M328.3 338.8h3M347.8 338.8h1.5M356.9 338.8h1.5M361.4 338.8h1.5M370.4 338.8h1.5M385.4 338.8h1.5M389.9 338.8h1.5M394.5 338.8h1.5M397.5 338.8h3M408 338.8h1.5M335.8 339.8h1.5M343.3 339.8h1.5M355.3 339.8h1.5M358.4 339.8h1.5M376.4 339.8h3M383.9 339.8h1.5M406.5 339.8h3M335.8 340.8h1.5M367.4 340.8h1.5M382.4 340.8h1.5M385.4 340.8h3M391.4 340.8h1.5M408 340.8h1.5M335.8 341.8h1.5M358.4 341.8h1.5M371.9 341.8h1.5M392.9 341.8h1.5M405 341.8h1.5M408 341.8h1.5M329.8 342.8h1.5M343.3 342.8h1.5M346.3 342.8h1.5M356.9 342.8h1.5M371.9 342.8h1.5M376.4 342.8h1.5M406.5 342.8h1.5M323.8 343.8h1.5M329.8 343.8h1.5M341.8 343.8h1.5M358.4 343.8h1.5M371.9 343.8h1.5M377.9 343.8h1.5M383.9 343.8h4.5M392.9 343.8h1.5M399 343.8h1.5M335.8 344.8h3M362.9 344.8h3M380.9 344.8h1.5M386.9 344.8h1.5M389.9 344.8h1.5M408 344.8h1.5M317.7 345.8h1.5M323.8 345.8h1.5M362.9 345.8h1.5M367.4 345.8h1.5M374.9 345.8h3M380.9 345.8h1.5M386.9 345.8h3M406.5 345.8h1.5M409.5 345.8h1.5M356.9 346.8h1.5M371.9 346.8h1.5M377.9 346.8h1.5M382.4 346.8h3M402 346.8h1.5M332.8 347.8h1.5M337.3 347.8h3M341.8 347.8h3M353.8 347.8h1.5M358.4 347.8h1.5M365.9 347.8h1.5M370.4 347.8h1.5M373.4 347.8h3M382.4 347.8h1.5M385.4 347.8h1.5M399 347.8h1.5M409.5 347.8h1.5M365.9 348.8h3M374.9 348.8h1.5M379.4 348.8h1.5M382.4 348.8h1.5M385.4 348.8h1.5M403.5 348.8h1.5M406.5 348.8h1.5M296.7 349.8h1.5M335.8 349.8h1.5M347.8 349.8h1.5M350.8 349.8h1.5M355.3 349.8h1.5M365.9 349.8h3M374.9 349.8h1.5M382.4 349.8h3M386.9 349.8h1.5M389.9 349.8h9M400.5 349.8h1.5M335.8 350.8h1.5M338.8 350.8h1.5M376.4 350.8h1.5M380.9 350.8h1.5M405 350.8h3M374.9 351.8h1.5M385.4 351.8h1.5M392.9 351.8h1.5M397.5 351.8h1.5M371.9 352.8h1.5M374.9 352.8h1.5M385.4 352.8h1.5M400.5 352.8h1.5M403.5 352.8h1.5M367.4 353.8h1.5M370.4 353.8h3M385.4 353.8h1.5M389.9 353.8h1.5M399 353.8h1.5M406.5 353.8h1.5M371.9 354.8h1.5M396 354.8h3M319.2 355.8h1.5M329.8 355.8h3M358.4 355.8h1.5M376.4 355.8h1.5M379.4 355.8h1.5M338.8 356.8h3M343.3 356.8h1.5M346.3 356.8h1.5M355.3 356.8h3M371.9 356.8h1.5M374.9 356.8h1.5M380.9 356.8h1.5M389.9 356.8h1.5M370.4 357.8h1.5M385.4 357.8h4.5M402 357.8h1.5M353.8 358.8h1.5M367.4 358.8h1.5M382.4 358.8h1.5M332.8 359.8h1.5M350.8 359.8h1.5M356.9 359.8h1.5M371.9 359.8h1.5M389.9 359.8h1.5M397.5 359.8h1.5M403.5 359.8h6" stroke="#f89a64" stroke-width="1.05" fill="none"/>
<path d="M337.3 277.7h1.5M371.9 277.7h1.5M391.4 277.7h1.5M394.5 277.7h1.5M408 277.7h1.5M257.6 280.7h1.5M409.5 280.7h1.5M289.2 281.7h1.5M373.4 282.7h1.5M409.5 282.7h1.5M329.8 283.7h1.5M409.5 283.7h1.5M244 284.7h1.5M343.3 284.7h1.5M377.9 284.7h1.5M382.4 284.7h1.5M402 284.7h1.5M257.6 287.7h3M277.1 287.7h1.5M376.4 287.7h1.5M402 287.7h1.5M230.5 288.7h1.5M280.1 289.7h1.5M301.2 289.7h1.5M325.3 289.7h1.5M352.3 289.7h1.5M383.9 289.7h1.5M392.9 289.7h1.5M334.3 290.7h1.5M323.8 291.7h1.5M340.3 291.7h1.5M355.3 291.7h1.5M250.1 292.7h1.5M355.3 292.7h1.5M403.5 292.7h1.5M256.1 293.7h1.5M334.3 293.7h1.5M358.4 293.7h1.5M365.9 293.7h1.5M386.9 293.7h1.5M389.9 293.7h1.5M394.5 293.7h3M406.5 293.7h1.5M409.5 293.7h1.5M265.1 294.7h1.5M325.3 294.7h1.5M332.8 294.7h1.5M371.9 294.7h1.5M383.9 294.7h1.5M394.5 294.7h1.5M400.5 294.7h1.5M406.5 294.7h1.5M239.5 296.7h1.5M245.5 296.7h1.5M332.8 296.7h1.5M347.8 296.7h1.5M370.4 296.7h1.5M391.4 296.7h3M379.4 297.7h1.5M403.5 297.7h1.5M235 298.7h3M286.2 298.7h1.5M325.3 298.7h1.5M344.8 298.7h1.5M383.9 298.7h1.5M394.5 298.7h1.5M402 298.7h3M406.5 298.7h1.5M409.5 298.7h1.5M244 299.7h1.5M283.1 299.7h1.5M298.2 299.7h1.5M332.8 299.7h1.5M343.3 299.7h1.5M402 299.7h1.5M409.5 299.7h1.5M259.1 300.7h1.5M274.1 300.7h1.5M284.6 300.7h1.5M316.2 300.7h1.5M332.8 300.7h3M344.8 300.7h1.5M358.4 300.7h1.5M368.9 300.7h1.5M400.5 300.7h1.5M275.6 301.7h1.5M332.8 302.7h1.5M368.9 303.7h1.5M268.1 304.7h1.5M394.5 305.7h1.5M402 305.7h1.5M251.6 308.7h1.5M296.7 308.7h1.5M307.2 308.7h1.5M314.7 308.7h1.5M334.3 308.7h1.5M361.4 308.7h1.5M389.9 308.7h1.5M396 308.7h1.5M405 308.7h1.5M320.8 309.7h1.5M326.8 309.7h1.5M368.9 309.7h1.5M386.9 310.7h1.5M409.5 310.7h1.5M408 311.7h1.5M230.5 312.7h1.5M275.6 312.7h1.5M286.2 312.7h1.5M346.3 312.7h1.5M371.9 312.7h1.5M394.5 312.7h1.5M408 312.7h1.5M409.5 313.7h1.5M250.1 314.7h1.5M298.2 314.7h1.5M308.7 314.7h1.5M377.9 314.7h1.5M338.8 316.7h1.5M394.5 316.7h1.5M399 316.7h3M386.9 317.7h1.5M394.5 317.7h1.5M259.1 318.8h1.5M325.3 318.8h1.5M349.3 318.8h1.5M358.4 318.8h1.5M376.4 318.8h1.5M233.5 319.8h1.5M241 319.8h1.5M245.5 319.8h1.5M250.1 319.8h3M254.6 319.8h1.5M260.6 319.8h1.5M290.7 319.8h1.5M233.5 320.8h1.5M241 320.8h1.5M244 320.8h1.5M247 320.8h1.5M257.6 320.8h3M269.6 320.8h1.5M284.6 320.8h1.5M289.2 320.8h1.5M320.8 320.8h1.5M230.5 321.8h1.5M235 321.8h1.5M242.5 321.8h1.5M245.5 321.8h1.5M277.1 321.8h1.5M230.5 322.8h3M239.5 322.8h1.5M244 322.8h1.5M248.6 322.8h1.5M269.6 322.8h1.5M278.6 322.8h1.5M284.6 322.8h1.5M242.5 323.8h1.5M265.1 323.8h1.5M239.5 324.8h3M244 324.8h1.5M248.6 324.8h1.5M256.1 324.8h1.5M262.1 324.8h1.5M268.1 324.8h1.5M236.5 325.8h1.5M250.1 325.8h1.5M266.6 325.8h1.5M274.1 325.8h1.5M278.6 325.8h1.5M242.5 326.8h3M247 326.8h3M256.1 326.8h1.5M259.1 326.8h3M274.1 326.8h3M283.1 326.8h1.5M289.2 326.8h3M302.7 326.8h3M325.3 326.8h1.5M337.3 326.8h1.5M346.3 326.8h1.5M242.5 327.8h4.5M254.6 327.8h1.5M277.1 327.8h1.5M233.5 328.8h1.5M239.5 328.8h1.5M245.5 328.8h1.5M248.6 328.8h1.5M265.1 328.8h1.5M272.6 328.8h1.5M248.6 329.8h1.5M262.1 329.8h1.5M265.1 329.8h1.5M268.1 329.8h1.5M314.7 329.8h1.5M230.5 330.8h1.5M241 330.8h3M248.6 330.8h1.5M251.6 330.8h1.5M254.6 330.8h1.5M260.6 330.8h1.5M269.6 330.8h1.5M277.1 330.8h1.5M290.7 330.8h1.5M295.2 330.8h1.5M302.7 330.8h1.5M322.3 330.8h1.5M352.3 330.8h1.5M409.5 330.8h1.5M239.5 331.8h1.5M245.5 331.8h1.5M253.1 331.8h1.5M259.1 331.8h1.5M272.6 331.8h1.5M275.6 331.8h1.5M278.6 331.8h1.5M283.1 331.8h1.5M292.2 331.8h1.5M295.2 331.8h1.5M235 332.8h1.5M242.5 332.8h1.5M245.5 332.8h3M263.6 332.8h1.5M268.1 332.8h1.5M232 333.8h1.5M236.5 333.8h1.5M244 333.8h1.5M250.1 333.8h1.5M256.1 333.8h1.5M263.6 333.8h1.5M232 334.8h1.5M239.5 334.8h1.5M233.5 335.8h1.5M245.5 335.8h3M251.6 335.8h1.5M259.1 335.8h1.5M232 336.8h1.5M235 336.8h4.5M247 336.8h3M253.1 336.8h1.5M260.6 336.8h1.5M266.6 336.8h1.5M272.6 336.8h1.5M307.2 336.8h1.5M230.5 337.8h1.5M242.5 337.8h1.5M245.5 337.8h1.5M260.6 337.8h1.5M265.1 337.8h3M269.6 337.8h1.5M301.2 337.8h1.5M233.5 338.8h1.5M248.6 338.8h1.5M259.1 338.8h1.5M233.5 339.8h1.5M238 339.8h1.5M244 339.8h1.5M248.6 339.8h3M259.1 339.8h1.5M262.1 339.8h1.5M239.5 340.8h3M250.1 340.8h1.5M256.1 340.8h1.5M269.6 340.8h1.5M280.1 340.8h1.5M296.7 340.8h1.5M244 341.8h1.5M247 341.8h1.5M263.6 341.8h3M268.1 341.8h3M277.1 341.8h1.5M334.3 341.8h1.5M230.5 342.8h3M250.1 342.8h1.5M253.1 342.8h1.5M256.1 342.8h3M275.6 342.8h1.5M280.1 342.8h1.5M287.7 342.8h1.5M305.7 342.8h1.5M233.5 343.8h3M247 343.8h1.5M277.1 343.8h1.5M236.5 344.8h4.5M244 344.8h1.5M248.6 344.8h1.5M257.6 344.8h1.5M266.6 344.8h3M274.1 344.8h3M290.7 344.8h1.5M230.5 345.8h3M251.6 345.8h1.5M257.6 345.8h3M233.5 346.8h1.5M248.6 346.8h1.5M259.1 346.8h1.5M277.1 346.8h1.5M230.5 347.8h1.5M248.6 347.8h1.5M257.6 347.8h1.5M265.1 347.8h1.5M278.6 347.8h1.5M232 348.8h1.5M236.5 348.8h1.5M241 348.8h1.5M257.6 348.8h1.5M268.1 348.8h1.5M244 349.8h1.5M250.1 349.8h1.5M253.1 349.8h1.5M260.6 349.8h1.5M263.6 349.8h1.5M269.6 349.8h1.5M286.2 349.8h1.5M230.5 350.8h1.5M233.5 350.8h1.5M250.1 350.8h1.5M283.1 350.8h1.5M247 351.8h1.5M254.6 351.8h3M260.6 351.8h1.5M316.2 351.8h1.5M245.5 352.8h3M256.1 352.8h1.5M310.2 352.8h1.5M235 353.8h1.5M250.1 353.8h3M269.6 353.8h1.5M275.6 353.8h1.5M281.6 353.8h1.5M301.2 353.8h1.5M233.5 354.8h3M248.6 354.8h1.5M253.1 354.8h1.5M259.1 354.8h1.5M271.1 354.8h1.5M274.1 354.8h1.5M278.6 354.8h1.5M337.3 354.8h1.5M233.5 355.8h1.5M244 355.8h1.5M257.6 355.8h1.5M260.6 355.8h1.5M266.6 355.8h1.5M277.1 355.8h1.5M281.6 355.8h1.5M284.6 355.8h1.5M230.5 356.8h1.5M268.1 356.8h1.5M272.6 356.8h1.5M302.7 356.8h1.5M230.5 357.8h1.5M238 357.8h1.5M241 357.8h1.5M247 357.8h1.5M250.1 357.8h1.5M262.1 357.8h4.5M275.6 357.8h3M284.6 357.8h1.5M301.2 357.8h1.5M305.7 357.8h1.5M247 358.8h1.5M257.6 358.8h1.5M260.6 358.8h1.5M266.6 358.8h1.5M277.1 358.8h1.5M287.7 358.8h1.5M296.7 358.8h1.5M233.5 359.8h1.5M253.1 359.8h3M259.1 359.8h6M278.6 359.8h1.5M286.2 359.8h1.5M307.2 359.8h1.5M311.7 359.8h1.5" stroke="#bcd0de" stroke-width="1.05" fill="none"/>
<path d="M253.1 278.7h1.5M241 286.7h1.5M304.2 302.7h1.5M262.1 305.7h1.5M274.1 313.7h1.5M371.9 320.8h1.5M338.8 332.8h1.5M335.8 337.8h1.5M304.2 338.8h1.5M344.8 338.8h1.5M406.5 338.8h1.5M399 340.8h1.5M399 341.8h1.5M391.4 343.8h1.5M385.4 344.8h1.5M397.5 344.8h1.5M316.2 345.8h1.5M368.9 345.8h1.5M392.9 345.8h1.5M391.4 346.8h1.5M391.4 347.8h1.5M377.9 348.8h1.5M397.5 348.8h1.5M307.2 349.8h1.5M373.4 349.8h1.5M371.9 351.8h1.5M405 352.8h1.5M349.3 354.8h1.5M353.8 355.8h1.5M405 356.8h1.5M362.9 357.8h1.5M399 357.8h1.5M368.9 359.8h1.5" stroke="#f17144" stroke-width="1.05" fill="none"/>
<path d="M388.4 278.7h1.5M233.5 279.7h1.5M260.6 281.7h1.5M280.1 281.7h1.5M280.1 285.7h1.5M329.8 285.7h1.5M367.4 286.7h1.5M379.4 290.7h1.5M284.6 291.7h1.5M331.3 292.7h1.5M263.6 295.7h3M334.3 296.7h1.5M382.4 300.7h1.5M269.6 301.7h1.5M293.7 301.7h1.5M239.5 302.7h1.5M242.5 302.7h1.5M259.1 302.7h1.5M262.1 302.7h3M280.1 302.7h1.5M293.7 302.7h1.5M245.5 303.7h1.5M272.6 304.7h1.5M277.1 305.7h1.5M232 307.7h1.5M271.1 307.7h1.5M347.8 307.7h1.5M244 309.7h1.5M236.5 311.7h1.5M341.8 315.7h3M382.4 315.7h1.5M307.2 316.7h1.5M274.1 317.7h1.5M362.9 317.7h1.5M405 320.8h1.5M341.8 321.8h1.5M355.3 321.8h1.5M374.9 321.8h1.5M408 321.8h1.5M358.4 322.8h1.5M362.9 322.8h1.5M326.8 323.8h1.5M347.8 324.8h1.5M377.9 324.8h1.5M405 324.8h1.5M349.3 325.8h1.5M313.2 327.8h1.5M389.9 327.8h1.5M331.3 329.8h1.5M341.8 329.8h1.5M385.4 331.8h1.5M326.8 332.8h1.5M350.8 332.8h1.5M405 332.8h1.5M353.8 333.8h1.5M382.4 333.8h1.5M335.8 334.8h1.5M350.8 334.8h1.5M367.4 334.8h1.5M358.4 335.8h1.5M385.4 335.8h1.5M389.9 335.8h1.5M341.8 336.8h1.5M323.8 337.8h1.5M343.3 337.8h1.5M362.9 337.8h1.5M408 337.8h1.5M317.7 338.8h1.5M322.3 338.8h1.5M335.8 338.8h1.5M340.3 338.8h1.5M350.8 338.8h1.5M362.9 338.8h1.5M371.9 338.8h7.5M380.9 338.8h1.5M386.9 338.8h1.5M409.5 338.8h1.5M317.7 339.8h1.5M362.9 339.8h1.5M386.9 339.8h1.5M389.9 339.8h1.5M392.9 339.8h1.5M405 339.8h1.5M319.2 340.8h1.5M361.4 340.8h1.5M388.4 341.8h1.5M397.5 341.8h1.5M388.4 342.8h1.5M376.4 343.8h1.5M341.8 344.8h1.5M377.9 344.8h3M382.4 344.8h3M370.4 345.8h1.5M373.4 345.8h1.5M377.9 345.8h1.5M382.4 345.8h1.5M389.9 345.8h1.5M347.8 346.8h1.5M367.4 346.8h1.5M388.4 346.8h3M344.8 347.8h1.5M355.3 347.8h3M362.9 347.8h1.5M367.4 347.8h1.5M389.9 347.8h1.5M388.4 348.8h1.5M391.4 348.8h3M399 348.8h1.5M376.4 349.8h1.5M385.4 349.8h1.5M388.4 349.8h1.5M334.3 350.8h1.5M341.8 350.8h1.5M379.4 350.8h1.5M396 350.8h1.5M313.2 351.8h1.5M319.2 351.8h1.5M365.9 351.8h1.5M389.9 351.8h1.5M352.3 352.8h1.5M353.8 353.8h1.5M382.4 353.8h1.5M405 353.8h1.5M344.8 354.8h1.5M352.3 354.8h1.5M377.9 354.8h1.5M399 354.8h1.5M341.8 355.8h1.5M388.4 355.8h1.5M399 355.8h1.5M402 355.8h1.5M293.7 356.8h1.5M382.4 356.8h1.5M352.3 357.8h1.5M406.5 357.8h1.5M331.3 359.8h1.5M385.4 359.8h1.5M396 359.8h1.5" stroke="#f58654" stroke-width="1.05" fill="none"/>
<path d="M359.9 289.7h1.5M329.8 291.7h1.5M260.6 295.7h1.5M347.8 299.7h1.5M340.3 316.7h1.5M230.5 319.8h3M236.5 319.8h1.5M247 319.8h3M256.1 319.8h1.5M241 322.8h1.5M232 326.8h7.5M245.5 326.8h1.5M257.6 326.8h1.5M241 327.8h1.5M232 329.8h1.5M239.5 330.8h1.5M250.1 330.8h1.5M256.1 330.8h1.5M284.6 330.8h1.5M233.5 331.8h1.5M238 331.8h1.5M230.5 332.8h1.5M230.5 333.8h1.5M230.5 334.8h1.5M256.1 334.8h1.5M245.5 336.8h1.5M257.6 336.8h1.5M245.5 339.8h1.5M230.5 340.8h1.5M248.6 341.8h1.5M235 342.8h1.5M244 342.8h1.5M269.6 342.8h1.5M281.6 342.8h1.5M230.5 343.8h1.5M262.1 343.8h1.5M233.5 344.8h1.5M238 346.8h1.5M241 346.8h1.5M263.6 346.8h1.5M239.5 347.8h1.5M250.1 347.8h1.5M262.1 348.8h1.5M244 350.8h1.5M257.6 350.8h1.5M236.5 351.8h1.5M241 351.8h1.5M230.5 352.8h1.5M230.5 353.8h1.5M242.5 353.8h3M247 353.8h1.5M257.6 353.8h1.5M241 354.8h1.5M238 356.8h1.5M233.5 357.8h1.5M269.6 357.8h1.5M230.5 358.8h1.5M233.5 358.8h1.5M238 358.8h1.5M254.6 358.8h1.5M232 359.8h1.5M248.6 359.8h1.5M265.1 359.8h1.5" stroke="#8caecf" stroke-width="1.05" fill="none"/>
<path d="M244 319.8h1.5M257.6 330.8h1.5M244 354.8h1.5" stroke="#5f84b7" stroke-width="1.05" fill="none"/>
<path d="M259.1 319.8h1.5M230.5 326.8h1.5M268.1 326.8h1.5M230.5 329.8h1.5M238 330.8h1.5M265.1 330.8h1.5M256.1 336.8h1.5M235 340.8h1.5M250.1 341.8h1.5M232 344.8h1.5M232 346.8h1.5M244 351.8h3M275.6 351.8h1.5M241 353.8h1.5M239.5 355.8h1.5M256.1 358.8h1.5M230.5 359.8h1.5" stroke="#749ac5" stroke-width="1.05" fill="none"/>
<path d="M338.8 338.8h1.5M367.4 338.8h3M388.4 338.8h1.5M396 338.8h1.5M335.8 345.8h1.5M399 349.8h1.5M382.4 355.8h1.5M382.4 357.8h1.5" stroke="#eb5b34" stroke-width="1.05" fill="none"/>
<text x="422.3" y="283" font-size="4.75" font-style="italic" fill="#222">ALDOA</text>
<text x="422.3" y="287.3" font-size="4.75" font-style="italic" fill="#222">KRT19</text>
<text x="422.3" y="291.6" font-size="4.75" font-style="italic" fill="#222">H1F0</text>
<text x="422.3" y="295.6" font-size="4.75" font-style="italic" fill="#222">PKM</text>
<text x="422.3" y="299.8" font-size="4.75" font-style="italic" fill="#222">TFF3</text>
<text x="422.3" y="304.1" font-size="4.75" font-style="italic" fill="#222">CA9</text>
<text x="422.3" y="308" font-size="4.75" font-style="italic" fill="#222">FABP1</text>
<text x="422.3" y="312.3" font-size="4.75" font-style="italic" fill="#222">VEGFA</text>
<text x="422.3" y="316.7" font-size="4.75" font-style="italic" fill="#222">EGLN3</text>
<text x="422.3" y="327" font-size="4.75" font-style="italic" fill="#222">PCNA</text>
<text x="422.3" y="332.2" font-size="4.75" font-style="italic" fill="#222">DNMT1</text>
<text x="422.3" y="342.5" font-size="4.75" font-style="italic" fill="#222">CDKN3</text>
<text x="422.3" y="347.2" font-size="4.75" font-style="italic" fill="#222">CCNB1</text>
<text x="422.3" y="350.8" font-size="4.75" font-style="italic" fill="#222">CDK1</text>
<text x="422.3" y="355.5" font-size="4.75" font-style="italic" fill="#222">MKI67</text>
<text x="422.3" y="361.2" font-size="4.75" font-style="italic" fill="#222">TOP2A</text>
<path d="M411.6 279.5L418 279.5L421.3 281.2M411.6 282.5L418 282.5L421.3 285.5M411.6 285.5L418 285.5L421.3 289.8M411.6 289L418 289L421.3 293.8M411.6 292.5L418 292.5L421.3 298M411.6 296L418 296L421.3 302.3M411.6 298.5L418 298.5L421.3 306.2M411.6 301L418 301L421.3 310.5M411.6 303.5L418 303.5L421.3 314.9M411.6 326.5L418 326.5L421.3 325.2M411.6 328.5L418 328.5L421.3 330.4M411.6 338.5L418 338.5L421.3 340.7M411.6 343L418 343L421.3 345.4M411.6 346.5L418 346.5L421.3 349M411.6 351.5L418 351.5L421.3 353.7M411.6 357.5L418 357.5L421.3 359.4" stroke="#666" stroke-width="0.45" fill="none"/>
<text x="240.3" y="371.8" font-size="8.2" font-weight="bold" fill="#111">PC1</text>
<rect x="240.4" y="376.5" width="9.6" height="9.6" fill="#54BD98" stroke="#999" stroke-width="0.4"/>
<rect x="240.4" y="389.7" width="9.6" height="9.6" fill="#F6EA8E" stroke="#999" stroke-width="0.4"/>
<text x="254" y="384.6" font-size="8.4" fill="#222">high</text>
<text x="254" y="397.7" font-size="8.4" fill="#222">low</text>
<text x="278.4" y="372.4" font-size="8.2" font-weight="bold" fill="#111">Expression</text>
<text x="278.4" y="380" font-size="8.2" font-weight="bold" fill="#111">magnitude</text>
<text x="278.4" y="388" font-size="8.2" font-weight="bold" fill="#111">CPM (log<tspan font-size="5.2" dy="2">10</tspan><tspan dy="-2">)</tspan></text>
<defs><linearGradient id="gc" x1="0" y1="1" x2="0" y2="0"><stop offset="0.000" stop-color="#4575b4"/><stop offset="0.125" stop-color="#74add1"/><stop offset="0.250" stop-color="#abd9e9"/><stop offset="0.375" stop-color="#e0f3f8"/><stop offset="0.500" stop-color="#ffffbf"/><stop offset="0.625" stop-color="#fee090"/><stop offset="0.750" stop-color="#fdae61"/><stop offset="0.875" stop-color="#f46d43"/><stop offset="1.000" stop-color="#d73027"/></linearGradient></defs>
<rect x="331.1" y="367" width="7.4" height="35.3" fill="url(#gc)"/>
<text x="341.2" y="374.5" font-size="9" fill="#222">5</text>
<text x="341.2" y="388.9" font-size="9" fill="#222">0</text>
<text x="339.6" y="403.7" font-size="9" fill="#222">−5</text>
<text x="7.9" y="423.1" font-size="10.8" fill="#333">(<tspan font-weight="bold" fill="#111">d</tspan>)</text>
<path d="M27.4 456.6V446.0H28.4V456.6M30.0 456.6V451.7H30.7V456.6M29.4 456.6V448.7H30.4V451.7M27.9 446.0V445.0H29.9V448.7M31.7 456.6V446.5H32.4V456.6M32.0 446.5V445.7H32.7V456.6M33.5 456.6V446.7H34.2V456.6M32.4 445.7V444.9H33.8V446.7M28.9 445.0V442.2H33.1V444.9M35.8 456.6V453.3H36.6V456.6M35.2 456.6V452.1H36.2V453.3M34.7 456.6V449.8H35.7V452.1M37.3 456.6V451.5H38.1V456.6M39.2 456.6V453.6H40.0V456.6M39.6 453.6V452.9H40.7V456.6M37.7 451.5V450.8H40.2V452.9M35.2 449.8V449.3H38.9V450.8M42.1 456.6V451.2H42.9V456.6M41.3 456.6V449.8H42.5V451.2M37.1 449.3V447.6H41.9V449.8M43.6 456.6V451.7H44.3V456.6M45.8 456.6V454.7H46.5V456.6M46.1 454.7V454.5H47.4V456.6M46.8 454.5V454.2H48.4V456.6M45.1 456.6V453.0H47.6V454.2M44.0 451.7V450.7H46.3V453.0M50.5 456.6V454.3H51.4V456.6M52.5 456.6V455.2H53.4V456.6M51.9 456.6V455.0H53.0V455.2M50.9 454.3V454.1H52.4V455.0M49.4 456.6V453.0H51.7V454.1M54.0 456.6V453.9H54.7V456.6M54.3 453.9V453.7H55.5V456.6M54.9 453.7V453.0H56.4V456.6M50.5 453.0V452.0H55.6V453.0M45.2 450.7V450.1H53.1V452.0M57.5 456.6V452.4H58.3V456.6M57.9 452.4V451.8H58.8V456.6M60.6 456.6V454.0H61.2V456.6M59.5 456.6V453.1H60.9V454.0M58.3 451.8V450.6H60.2V453.1M49.1 450.1V449.1H59.3V450.6M39.5 447.6V446.2H54.2V449.1M31.0 442.2V440.9H46.8V446.2M61.8 456.6V447.8H62.7V456.6M64.5 456.6V452.6H65.1V456.6M63.7 456.6V451.4H64.8V452.6M65.6 456.6V452.8H66.3V456.6M64.2 451.4V450.4H65.9V452.8M62.2 447.8V446.0H65.1V450.4M67.9 456.6V451.1H68.6V456.6M68.3 451.1V450.1H69.3V456.6M67.2 456.6V447.4H68.8V450.1M70.0 456.6V451.6H70.6V456.6M70.3 451.6V450.7H71.0V456.6M70.7 450.7V450.0H71.6V456.6M68.0 447.4V446.9H71.1V450.0M63.7 446.0V444.8H69.5V446.9M38.9 440.9V438.9H66.6V444.8M72.4 456.6V448.6H73.3V456.6M74.1 456.6V449.8H74.8V456.6M72.9 448.6V447.1H74.5V449.8M75.5 456.6V450.3H76.4V456.6M73.7 447.1V446.4H75.9V450.3M77.1 456.6V450.6H77.8V456.6M78.6 456.6V451.2H79.4V456.6M77.4 450.6V450.1H79.0V451.2M80.4 456.6V450.2H81.4V456.6M78.2 450.1V448.9H80.9V450.2M74.8 446.4V444.4H79.6V448.9M84.1 456.6V452.2H85.1V456.6M83.3 456.6V451.3H84.6V452.2M82.5 456.6V449.3H83.9V451.3M86.5 456.6V454.4H87.2V456.6M86.9 454.4V453.9H87.8V456.6M85.9 456.6V452.6H87.3V453.9M86.6 452.6V451.9H88.5V456.6M87.6 451.9V450.8H89.6V456.6M83.2 449.3V448.6H88.6V450.8M91.5 456.6V452.8H92.1V456.6M92.7 456.6V453.9H93.4V456.6M93.0 453.9V453.3H94.0V456.6M91.8 452.8V452.3H93.5V453.3M90.6 456.6V449.2H92.6V452.3M95.2 456.6V453.1H96.1V456.6M94.5 456.6V451.7H95.6V453.1M97.5 456.6V454.2H98.3V456.6M97.9 454.2V453.7H99.0V456.6M96.9 456.6V452.8H98.4V453.7M95.1 451.7V451.2H97.7V452.8M99.4 456.6V454.2H100.1V456.6M99.8 454.2V453.8H101.1V456.6M102.1 456.6V454.5H103.1V456.6M103.8 456.6V455.1H104.4V456.6M104.1 455.1V454.9H105.2V456.6M102.6 454.5V454.3H104.7V454.9M100.4 453.8V453.3H103.6V454.3M96.4 451.2V450.6H102.0V453.3M91.6 449.2V448.5H99.2V450.6M85.9 448.6V447.4H95.4V448.5M77.2 444.4V442.7H90.7V447.4M52.8 438.9V436.7H83.9V442.7M106.7 456.6V449.4H107.4V456.6M108.2 456.6V450.8H108.9V456.6M107.1 449.4V448.3H108.5V450.8M109.5 456.6V448.3H110.1V456.6M107.8 448.3V446.3H109.8V448.3M111.4 456.6V452.5H112.1V456.6M111.8 452.5V451.7H112.5V456.6M110.6 456.6V447.7H112.1V451.7M108.8 446.3V444.9H111.4V447.7M113.9 456.6V451.7H114.5V456.6M113.1 456.6V450.4H114.2V451.7M113.7 450.4V449.3H115.1V456.6M110.1 444.9V444.2H114.4V449.3M115.9 456.6V446.6H116.9V456.6M117.9 456.6V448.0H118.7V456.6M116.4 446.6V446.0H118.3V448.0M112.2 444.2V443.6H117.3V446.0M120.6 456.6V449.3H121.5V456.6M122.1 456.6V451.9H122.8V456.6M121.0 449.3V448.3H122.5V451.9M119.6 456.6V445.5H121.8V448.3M114.8 443.6V442.5H120.7V445.5M123.6 456.6V448.8H124.5V456.6M124.0 448.8V447.6H125.5V456.6M126.2 456.6V449.9H126.9V456.6M129.0 456.6V453.1H129.9V456.6M129.4 453.1V452.6H130.5V456.6M127.9 456.6V451.4H130.0V452.6M126.6 449.9V448.6H129.0V451.4M124.8 447.6V446.2H127.8V448.6M132.0 456.6V452.2H133.0V456.6M131.1 456.6V448.7H132.5V452.2M126.3 446.2V444.6H131.8V448.7M117.7 442.5V441.0H129.0V444.6M134.8 456.6V450.2H135.8V456.6M133.9 456.6V446.9H135.3V450.2M136.7 456.6V451.6H137.3V456.6M137.0 451.6V450.8H138.3V456.6M140.2 456.6V453.8H141.1V456.6M139.2 456.6V451.7H140.7V453.8M137.6 450.8V449.5H139.9V451.7M142.2 456.6V451.5H143.3V456.6M138.8 449.5V448.2H142.7V451.5M134.6 446.9V445.3H140.8V448.2M144.1 456.6V448.9H144.8V456.6M145.6 456.6V449.5H146.4V456.6M144.4 448.9V447.9H146.0V449.5M137.7 445.3V443.9H145.2V447.9M123.4 441.0V439.7H141.4V443.9M147.8 456.6V446.3H148.6V456.6M147.0 456.6V442.6H148.2V446.3M149.2 456.6V448.0H150.0V456.6M150.8 456.6V447.9H151.7V456.6M149.6 448.0V445.9H151.3V447.9M147.6 442.6V441.3H150.4V445.9M152.4 456.6V444.0H153.5V456.6M155.0 456.6V451.9H155.6V456.6M154.3 456.6V448.3H155.3V451.9M154.8 448.3V446.7H156.4V456.6M158.0 456.6V452.3H158.7V456.6M158.3 452.3V451.6H159.3V456.6M160.0 456.6V453.0H161.0V456.6M158.8 451.6V451.4H160.5V453.0M157.4 456.6V448.0H159.7V451.4M155.6 446.7V445.3H158.5V448.0M152.9 444.0V442.9H157.1V445.3M149.0 441.3V440.3H155.0V442.9M132.4 439.7V438.0H152.0V440.3M163.7 456.6V443.6H164.3V456.6M163.0 456.6V440.8H164.0V443.6M163.5 440.8V439.5H165.0V456.6M166.9 456.6V447.8H168.1V456.6M165.8 456.6V443.7H167.5V447.8M166.7 443.7V441.5H169.2V456.6M164.2 439.5V438.5H167.9V441.5M170.4 456.6V449.7H171.1V456.6M170.0 456.6V445.0H170.8V449.7M173.1 456.6V450.5H173.7V456.6M173.4 450.5V450.0H174.4V456.6M172.1 456.6V447.3H173.9V450.0M170.4 445.0V444.2H173.0V447.3M175.3 456.6V449.1H176.0V456.6M176.9 456.6V451.5H177.7V456.6M175.7 449.1V448.3H177.3V451.5M178.2 456.6V451.8H179.0V456.6M178.6 451.8V451.2H180.0V456.6M180.7 456.6V451.7H181.4V456.6M179.3 451.2V450.2H181.0V451.7M182.1 456.6V452.4H183.0V456.6M180.2 450.2V449.1H182.6V452.4M176.5 448.3V447.3H181.4V449.1M171.7 444.2V443.2H178.9V447.3M183.5 456.6V449.1H184.3V456.6M183.9 449.1V447.2H185.2V456.6M186.1 456.6V450.7H187.1V456.6M186.6 450.7V449.5H188.1V456.6M189.5 456.6V454.3H190.3V456.6M188.9 456.6V452.6H189.9V454.3M191.2 456.6V454.5H191.8V456.6M191.5 454.5V454.2H192.2V456.6M191.8 454.2V453.6H192.8V456.6M189.4 452.6V451.6H192.3V453.6M187.4 449.5V449.1H190.9V451.6M184.6 447.2V446.5H189.1V449.1M175.3 443.2V441.5H186.8V446.5M166.1 438.5V437.4H181.1V441.5M193.7 456.6V446.6H194.4V456.6M195.1 456.6V449.0H195.8V456.6M195.4 449.0V448.0H196.6V456.6M194.1 446.6V445.5H196.0V448.0M198.5 456.6V452.1H199.4V456.6M199.0 452.1V451.8H200.2V456.6M197.7 456.6V448.9H199.6V451.8M195.0 445.5V444.2H198.6V448.9M201.2 456.6V450.3H201.8V456.6M200.8 456.6V448.1H201.5V450.3M202.9 456.6V452.8H203.7V456.6M203.3 452.8V452.1H204.4V456.6M203.9 452.1V451.1H205.3V456.6M206.6 456.6V453.6H207.4V456.6M205.9 456.6V452.5H207.0V453.6M208.0 456.6V453.0H208.7V456.6M206.4 452.5V451.9H208.4V453.0M204.6 451.1V450.1H207.4V451.9M201.2 448.1V446.9H206.0V450.1M209.6 456.6V451.2H210.3V456.6M209.9 451.2V450.0H211.1V456.6M212.2 456.6V451.8H212.9V456.6M210.5 450.0V448.3H212.6V451.8M213.4 456.6V451.8H214.1V456.6M213.7 451.8V451.2H215.0V456.6M211.5 448.3V447.8H214.4V451.2M203.6 446.9V445.6H212.9V447.8M196.8 444.2V443.4H208.3V445.6M217.3 456.6V453.9H218.0V456.6M216.8 456.6V452.2H217.7V453.9M216.0 456.6V448.9H217.3V452.2M216.7 448.9V448.2H219.0V456.6M221.1 456.6V452.5H221.7V456.6M220.0 456.6V450.7H221.4V452.5M220.7 450.7V449.3H222.4V456.6M217.8 448.2V446.6H221.6V449.3M223.3 456.6V451.0H223.9V456.6M224.7 456.6V453.4H225.5V456.6M225.1 453.4V453.2H226.1V456.6M226.8 456.6V454.4H227.5V456.6M227.1 454.4V454.0H228.2V456.6M225.6 453.2V452.6H227.7V454.0M223.6 451.0V450.6H226.6V452.6M229.5 456.6V452.2H230.3V456.6M228.8 456.6V451.0H229.9V452.2M231.0 456.6V452.8H231.7V456.6M231.4 452.8V451.9H232.4V456.6M229.3 451.0V450.7H231.9V451.9M225.1 450.6V449.1H230.6V450.7M219.7 446.6V446.2H227.9V449.1M235.3 456.6V453.1H236.0V456.6M234.2 456.6V451.1H235.6V453.1M233.2 456.6V449.6H234.9V451.1M236.6 456.6V450.2H237.3V456.6M237.9 456.6V450.8H238.5V456.6M237.0 450.2V449.4H238.2V450.8M234.1 449.6V447.8H237.6V449.4M223.8 446.2V444.6H235.8V447.8M202.6 443.4V441.4H229.8V444.6M240.4 456.6V449.3H241.3V456.6M239.4 456.6V446.2H240.8V449.3M243.2 456.6V452.9H243.9V456.6M242.3 456.6V450.3H243.6V452.9M244.6 456.6V451.5H245.4V456.6M242.9 450.3V449.0H245.0V451.5M246.4 456.6V451.9H247.2V456.6M246.8 451.9V451.1H247.6V456.6M249.1 456.6V453.6H249.8V456.6M248.3 456.6V452.7H249.4V453.6M248.9 452.7V452.5H250.7V456.6M247.2 451.1V450.8H249.8V452.5M244.0 449.0V448.2H248.5V450.8M240.1 446.2V444.9H246.2V448.2M216.2 441.4V440.9H243.2V444.9M173.6 437.4V436.7H229.7V440.9M68.3 436.7V435.8H201.6V436.7M142.2 438V435.8" stroke="#222" stroke-width="0.55" fill="none"/>
<rect x="26.8" y="453.6" width="224.4" height="3" fill="#1a1a1a" opacity="0.8"/>
<path d="M26.8 463.8h1M47.8 463.8h1.5M51.3 463.8h1.5M65.3 463.8h1M84.8 463.8h1.5M104.3 463.8h1M109.3 463.8h1M111.8 463.8h2M131.8 463.8h1M142.8 463.8h1M160.3 463.8h3M186.3 463.8h2M214.3 463.8h1M216.8 463.8h2M224.8 463.8h1M234.8 463.8h2M236.8 463.8h2" stroke="#f4a090" stroke-width="6.6" fill="none"/>
<path d="M27.8 463.8h1M28.8 463.8h1M31.8 463.8h1.5M55.8 463.8h1M59.3 463.8h1M69.3 463.8h3M72.3 463.8h1.5M73.8 463.8h1M93.3 463.8h1.5M94.8 463.8h2M118.3 463.8h2M128.8 463.8h3M141.8 463.8h1M143.8 463.8h2M153.3 463.8h1.5M166.3 463.8h2M176.3 463.8h1M177.3 463.8h1M183.3 463.8h3M197.3 463.8h3M210.8 463.8h1.5M225.8 463.8h1M226.8 463.8h1M232.8 463.8h2" stroke="#f6c0d2" stroke-width="6.6" fill="none"/>
<path d="M29.8 463.8h2M49.3 463.8h2M58.3 463.8h1M60.3 463.8h1M74.8 463.8h1M78.3 463.8h2M87.3 463.8h2M89.3 463.8h1.5M120.3 463.8h1M127.8 463.8h1M146.8 463.8h3M154.8 463.8h1M174.3 463.8h2M188.3 463.8h2M190.3 463.8h3M193.3 463.8h3M196.3 463.8h1M200.3 463.8h1.5M218.8 463.8h2M245.3 463.8h2" stroke="#f8ec9c" stroke-width="6.6" fill="none"/>
<path d="M33.3 463.8h2M38.3 463.8h2M40.3 463.8h1M66.3 463.8h3M75.8 463.8h1.5M97.8 463.8h1.5M99.3 463.8h2M105.3 463.8h2M107.3 463.8h1M110.3 463.8h1.5M114.8 463.8h1.5M145.8 463.8h1M169.3 463.8h2M178.3 463.8h3M209.3 463.8h1.5" stroke="#98d6bc" stroke-width="6.6" fill="none"/>
<path d="M35.3 463.8h1M45.3 463.8h1M46.3 463.8h1.5M77.3 463.8h1M80.3 463.8h1.5M96.8 463.8h1M137.8 463.8h2M158.3 463.8h2M168.3 463.8h1M229.8 463.8h1M238.8 463.8h3" stroke="#d0bce2" stroke-width="6.6" fill="none"/>
<path d="M36.3 463.8h2M41.3 463.8h2M43.3 463.8h2M52.8 463.8h2M61.3 463.8h3M64.3 463.8h1M90.8 463.8h1M101.3 463.8h3M108.3 463.8h1M113.8 463.8h1M122.8 463.8h3M132.8 463.8h2M181.3 463.8h1M182.3 463.8h1M204.8 463.8h1M212.3 463.8h2M221.8 463.8h1M222.8 463.8h2" stroke="#bcdc80" stroke-width="6.6" fill="none"/>
<path d="M54.8 463.8h1M56.8 463.8h1.5M86.3 463.8h1M91.8 463.8h1.5M116.3 463.8h2M121.3 463.8h1.5M125.8 463.8h2M134.8 463.8h1M151.8 463.8h1.5M155.8 463.8h1.5M157.3 463.8h1M163.3 463.8h3M201.8 463.8h3M205.8 463.8h1.5M207.3 463.8h2M230.8 463.8h2M241.8 463.8h2M243.8 463.8h1.5M247.3 463.8h1M250.3 463.8h0.8999999999999773" stroke="#a0bee0" stroke-width="6.6" fill="none"/>
<path d="M81.8 463.8h3M135.8 463.8h2M139.8 463.8h2M149.8 463.8h1M150.8 463.8h1M171.3 463.8h3M215.3 463.8h1.5M220.8 463.8h1M227.8 463.8h2M248.3 463.8h2" stroke="#f8b880" stroke-width="6.6" fill="none"/>
<path d="M26.8 475.9h1M89.9 475.9h1M115 475.9h1M117 475.9h1M120 475.9h1M123 475.9h1M125 475.9h1M129 475.9h1M32.8 493.3h1M37.8 493.3h1M128 493.3h1M131 493.3h1M136 493.3h1M144 493.3h1M199.1 493.3h1M207.1 493.3h1M92.9 502h1M113 502h1M141 502h1M137 510.6h1M88.9 519.3h1M98.9 519.3h1M100.9 519.3h1M172.1 519.3h1M176.1 519.3h3M181.1 519.3h4M186.1 519.3h1M189.1 519.3h1M193.1 519.3h1M196.1 519.3h1M217.1 519.3h1M224.2 519.3h1M228.2 519.3h1M232.2 519.3h3M237.2 519.3h1M198.1 528h1M203.1 528h1M208.1 528h1M212.1 528h1M242.2 528h1M48.8 536.7h1M67.9 536.7h1M95.9 536.7h1" stroke="#dbd640" stroke-width="9.27" fill="none"/>
<path d="M27.8 475.9h1M35.8 493.3h2M39.8 493.3h1M53.8 493.3h1M125 493.3h1M127 493.3h1M142 493.3h1M49.8 502h1M142 510.6h1M102.9 519.3h1M198.1 519.3h1M202.1 519.3h1M207.1 519.3h1M218.1 519.3h1M240.2 519.3h1M245.2 519.3h1M249.2 519.3h1M34.8 536.7h1M40.8 536.7h1M42.8 536.7h1M45.8 536.7h2M56.9 536.7h1M61.9 536.7h1M71.9 536.7h1M76.9 536.7h2M87.9 536.7h2M93.9 536.7h1M100.9 536.7h1M102.9 536.7h1M107.9 536.7h1" stroke="#f3b330" stroke-width="9.27" fill="none"/>
<path d="M28.8 475.9h1M131 475.9h1M53.8 519.3h1M61.9 519.3h2M244.2 519.3h1M26.8 536.7h2M31.8 536.7h1M79.9 536.7h1M90.9 536.7h1" stroke="#f3752f" stroke-width="9.27" fill="none"/>
<path d="M29.8 475.9h1M33.8 475.9h1M36.8 475.9h1M44.8 475.9h1M47.8 475.9h2M52.8 475.9h1M57.9 475.9h3M65.9 475.9h3M69.9 475.9h1M77.9 475.9h1M82.9 475.9h2M85.9 475.9h1M94.9 475.9h1M97.9 475.9h1M101.9 475.9h3M105.9 475.9h1M109.9 475.9h1M127 475.9h1M133 475.9h1M140 475.9h1M145 475.9h1M151 475.9h1M168.1 475.9h1M174.1 475.9h1M178.1 475.9h1M180.1 475.9h1M182.1 475.9h1M184.1 475.9h1M187.1 475.9h1M194.1 475.9h1M196.1 475.9h2M199.1 475.9h1M211.1 475.9h1M214.1 475.9h1M219.1 475.9h1M223.2 475.9h1M225.2 475.9h1M230.2 475.9h1M237.2 475.9h1M239.2 475.9h1M241.2 475.9h2M244.2 475.9h2M180.1 484.6h1M232.2 484.6h1M44.8 493.3h2M47.8 493.3h2M59.9 493.3h1M72.9 493.3h2M76.9 493.3h1M80.9 493.3h1M86.9 493.3h1M92.9 493.3h1M96.9 493.3h2M100.9 493.3h1M114 493.3h2M119 493.3h3M123 493.3h2M170.1 493.3h3M179.1 493.3h1M183.1 493.3h1M187.1 493.3h3M205.1 493.3h1M212.1 493.3h2M216.1 493.3h1M218.1 493.3h1M220.1 493.3h2M224.2 493.3h3M233.2 493.3h1M236.2 493.3h1M241.2 493.3h2M245.2 493.3h2M250.2 493.3h1M34.8 502h1M41.8 502h1M43.8 502h1M57.9 502h1M66.9 502h1M69.9 502h4M79.9 502h1M83.9 502h1M96.9 502h1M98.9 502h1M100.9 502h1M106.9 502h1M109.9 502h1M116 502h1M118 502h1M121 502h1M130 502h1M134 502h1M149 502h1M155 502h2M164 502h3M173.1 502h1M176.1 502h1M184.1 502h2M187.1 502h3M192.1 502h1M199.1 502h1M203.1 502h1M209.1 502h1M212.1 502h1M233.2 502h1M239.2 502h1M249.2 502h2M26.8 510.6h1M45.8 510.6h2M59.9 510.6h1M61.9 510.6h1M68.9 510.6h1M75.9 510.6h3M86.9 510.6h1M93.9 510.6h1M97.9 510.6h1M106.9 510.6h2M111 510.6h1M115 510.6h1M120 510.6h1M122 510.6h1M126 510.6h1M130 510.6h1M147 510.6h1M149 510.6h1M157 510.6h1M163 510.6h1M167.1 510.6h1M172.1 510.6h1M176.1 510.6h1M186.1 510.6h1M189.1 510.6h1M195.1 510.6h1M203.1 510.6h1M220.1 510.6h1M224.2 510.6h1M227.2 510.6h3M241.2 510.6h1M249.2 510.6h1M28.8 519.3h2M31.8 519.3h1M38.8 519.3h1M41.8 519.3h1M64.9 519.3h1M69.9 519.3h1M72.9 519.3h1M75.9 519.3h1M77.9 519.3h1M26.8 528h2M29.8 528h2M40.8 528h1M44.8 528h1M46.8 528h1M51.8 528h1M54.9 528h1M58.9 528h2M61.9 528h1M63.9 528h1M66.9 528h1M71.9 528h2M74.9 528h1M77.9 528h1M79.9 528h2M85.9 528h2M93.9 528h2M96.9 528h1M99.9 528h1M102.9 528h2M106.9 528h1M136 528h1M141 528h1M186.1 528h1M199.1 528h1M206.1 528h2M215.1 528h1M224.2 528h1M232.2 528h1M237.2 528h1M239.2 528h1M244.2 528h1M249.2 528h1M228.2 536.7h1M245.2 536.7h1" stroke="#7dc47a" stroke-width="9.27" fill="none"/>
<path d="M30.8 475.9h1M34.8 475.9h1M39.8 475.9h1M46.8 475.9h1M49.8 475.9h3M53.8 475.9h2M68.9 475.9h1M70.9 475.9h2M74.9 475.9h3M78.9 475.9h2M84.9 475.9h1M96.9 475.9h1M106.9 475.9h1M108.9 475.9h1M134 475.9h1M136 475.9h1M139 475.9h1M141 475.9h2M144 475.9h1M146 475.9h2M155 475.9h2M160 475.9h1M162 475.9h3M166 475.9h2M170.1 475.9h3M177.1 475.9h1M183.1 475.9h1M189.1 475.9h1M191.1 475.9h2M195.1 475.9h1M201.1 475.9h3M216.1 475.9h2M221.1 475.9h2M224.2 475.9h1M227.2 475.9h1M235.2 475.9h1M249.2 475.9h1M30.8 484.6h1M42.8 484.6h1M52.8 484.6h1M55.9 484.6h1M82.9 484.6h1M106.9 484.6h1M112 484.6h1M115 484.6h1M130 484.6h1M135 484.6h1M154 484.6h1M163 484.6h1M168.1 484.6h1M176.1 484.6h1M181.1 484.6h1M186.1 484.6h1M202.1 484.6h1M208.1 484.6h1M213.1 484.6h1M237.2 484.6h1M242.2 484.6h1M248.2 484.6h1M26.8 493.3h1M29.8 493.3h1M41.8 493.3h1M56.9 493.3h2M60.9 493.3h1M71.9 493.3h1M74.9 493.3h1M79.9 493.3h1M87.9 493.3h1M89.9 493.3h2M94.9 493.3h1M102.9 493.3h2M109.9 493.3h1M117 493.3h1M164 493.3h1M168.1 493.3h2M177.1 493.3h2M180.1 493.3h1M182.1 493.3h1M184.1 493.3h2M190.1 493.3h1M214.1 493.3h2M219.1 493.3h1M223.2 493.3h1M227.2 493.3h3M238.2 493.3h2M249.2 493.3h1M29.8 502h3M35.8 502h1M38.8 502h1M40.8 502h1M42.8 502h1M51.8 502h3M55.9 502h2M61.9 502h1M68.9 502h1M73.9 502h1M78.9 502h1M84.9 502h1M86.9 502h1M89.9 502h1M99.9 502h1M104.9 502h1M107.9 502h1M119 502h1M123 502h2M126 502h3M131 502h1M133 502h1M143 502h1M163 502h1M168.1 502h1M170.1 502h2M174.1 502h1M177.1 502h1M179.1 502h1M181.1 502h2M186.1 502h1M190.1 502h1M193.1 502h1M196.1 502h1M202.1 502h1M204.1 502h1M207.1 502h2M210.1 502h1M214.1 502h2M218.1 502h1M224.2 502h3M228.2 502h1M231.2 502h2M235.2 502h3M240.2 502h1M242.2 502h1M244.2 502h2M28.8 510.6h2M33.8 510.6h1M37.8 510.6h5M48.8 510.6h1M52.8 510.6h2M56.9 510.6h2M62.9 510.6h4M67.9 510.6h1M70.9 510.6h1M73.9 510.6h1M79.9 510.6h3M84.9 510.6h1M89.9 510.6h4M94.9 510.6h3M98.9 510.6h1M102.9 510.6h2M108.9 510.6h2M113 510.6h2M116 510.6h3M121 510.6h1M123 510.6h1M125 510.6h1M131 510.6h1M133 510.6h1M143 510.6h3M148 510.6h1M153 510.6h1M155 510.6h2M164 510.6h3M169.1 510.6h1M173.1 510.6h1M177.1 510.6h1M179.1 510.6h1M185.1 510.6h1M187.1 510.6h1M192.1 510.6h3M199.1 510.6h4M214.1 510.6h1M222.1 510.6h2M225.2 510.6h1M230.2 510.6h1M239.2 510.6h1M242.2 510.6h3M246.2 510.6h3M26.8 519.3h2M32.8 519.3h1M34.8 519.3h1M40.8 519.3h1M67.9 519.3h2M70.9 519.3h1M74.9 519.3h1M134 519.3h1M146 519.3h1M153 519.3h1M33.8 528h1M45.8 528h1M52.8 528h1M68.9 528h1M73.9 528h1M78.9 528h1M91.9 528h1M95.9 528h1M100.9 528h1M104.9 528h1M108.9 528h1M118 528h1M128 528h1M131 528h1M134 528h1M149 528h1M156 528h1M175.1 528h1M187.1 528h1M225.2 528h1M246.2 528h1M238.2 536.7h1M244.2 536.7h1M246.2 536.7h2" stroke="#67c093" stroke-width="9.27" fill="none"/>
<path d="M31.8 475.9h1M38.8 475.9h1M40.8 475.9h1M45.8 475.9h1M56.9 475.9h1M61.9 475.9h2M64.9 475.9h1M72.9 475.9h1M98.9 475.9h2M107.9 475.9h1M111 475.9h1M132 475.9h1M135 475.9h1M143 475.9h1M149 475.9h2M152 475.9h2M158 475.9h2M161 475.9h1M181.1 475.9h1M186.1 475.9h1M193.1 475.9h1M200.1 475.9h1M205.1 475.9h4M210.1 475.9h1M213.1 475.9h1M220.1 475.9h1M226.2 475.9h1M228.2 475.9h2M240.2 475.9h1M248.2 475.9h1M26.8 484.6h2M31.8 484.6h2M37.8 484.6h1M46.8 484.6h1M57.9 484.6h2M60.9 484.6h1M63.9 484.6h1M74.9 484.6h4M91.9 484.6h1M93.9 484.6h1M98.9 484.6h1M100.9 484.6h2M103.9 484.6h1M109.9 484.6h1M117 484.6h1M119 484.6h1M122 484.6h1M125 484.6h3M129 484.6h1M131 484.6h1M133 484.6h2M136 484.6h1M138 484.6h1M141 484.6h2M147 484.6h1M150 484.6h1M152 484.6h1M161 484.6h1M166 484.6h1M170.1 484.6h3M175.1 484.6h1M179.1 484.6h1M184.1 484.6h2M200.1 484.6h1M203.1 484.6h1M205.1 484.6h1M207.1 484.6h1M209.1 484.6h1M212.1 484.6h1M219.1 484.6h1M226.2 484.6h1M228.2 484.6h1M230.2 484.6h1M233.2 484.6h1M238.2 484.6h1M243.2 484.6h2M247.2 484.6h1M249.2 484.6h1M43.8 493.3h1M46.8 493.3h1M58.9 493.3h1M63.9 493.3h4M75.9 493.3h1M78.9 493.3h1M82.9 493.3h2M85.9 493.3h1M88.9 493.3h1M91.9 493.3h1M93.9 493.3h1M95.9 493.3h1M101.9 493.3h1M113 493.3h1M122 493.3h1M175.1 493.3h1M181.1 493.3h1M186.1 493.3h1M191.1 493.3h1M217.1 493.3h1M222.1 493.3h1M230.2 493.3h1M234.2 493.3h1M247.2 493.3h2M26.8 502h3M32.8 502h2M37.8 502h1M39.8 502h1M47.8 502h1M58.9 502h1M60.9 502h1M63.9 502h3M67.9 502h1M74.9 502h2M80.9 502h3M85.9 502h1M88.9 502h1M90.9 502h1M97.9 502h1M101.9 502h1M103.9 502h1M105.9 502h1M108.9 502h1M111 502h1M117 502h1M122 502h1M129 502h1M132 502h1M144 502h4M152 502h2M157 502h1M159 502h1M169.1 502h1M172.1 502h1M175.1 502h1M178.1 502h1M183.1 502h1M191.1 502h1M197.1 502h2M200.1 502h1M205.1 502h2M213.1 502h1M216.1 502h2M219.1 502h2M222.1 502h2M227.2 502h1M229.2 502h1M234.2 502h1M238.2 502h1M241.2 502h1M243.2 502h1M246.2 502h1M248.2 502h1M27.8 510.6h1M30.8 510.6h1M32.8 510.6h1M34.8 510.6h1M36.8 510.6h1M42.8 510.6h2M47.8 510.6h1M49.8 510.6h3M66.9 510.6h1M69.9 510.6h1M71.9 510.6h2M85.9 510.6h1M87.9 510.6h2M100.9 510.6h2M105.9 510.6h1M124 510.6h1M128 510.6h2M132 510.6h1M146 510.6h1M151 510.6h1M154 510.6h1M158 510.6h3M168.1 510.6h1M171.1 510.6h1M174.1 510.6h2M178.1 510.6h1M180.1 510.6h2M184.1 510.6h1M190.1 510.6h2M196.1 510.6h1M204.1 510.6h3M208.1 510.6h4M213.1 510.6h1M216.1 510.6h1M219.1 510.6h1M221.1 510.6h1M226.2 510.6h1M231.2 510.6h1M233.2 510.6h1M237.2 510.6h2M240.2 510.6h1M245.2 510.6h1M250.2 510.6h1M30.8 519.3h1M33.8 519.3h1M35.8 519.3h3M39.8 519.3h1M65.9 519.3h2M71.9 519.3h1M76.9 519.3h1M120 519.3h1M125 519.3h1M141 519.3h1M145 519.3h1M148 519.3h1M152 519.3h1M48.8 528h2M55.9 528h1M64.9 528h1M76.9 528h1M109.9 528h1M112 528h2M115 528h3M122 528h1M124 528h1M126 528h1M133 528h1M157 528h1M159 528h2M162 528h1M170.1 528h1M172.1 528h2M182.1 528h1M185.1 528h1M188.1 528h1M193.1 528h1M166 536.7h1M168.1 536.7h1M204.1 536.7h1M206.1 536.7h1M235.2 536.7h2M250.2 536.7h1" stroke="#55bca8" stroke-width="9.27" fill="none"/>
<path d="M32.8 475.9h1M35.8 475.9h1M37.8 475.9h1M41.8 475.9h3M60.9 475.9h1M86.9 475.9h1M93.9 475.9h1M138 475.9h1M148 475.9h1M154 475.9h1M165 475.9h1M198.1 475.9h1M209.1 475.9h1M212.1 475.9h1M215.1 475.9h1M218.1 475.9h1M231.2 475.9h3M236.2 475.9h1M238.2 475.9h1M27.8 493.3h2M42.8 493.3h1M49.8 493.3h2M61.9 493.3h1M81.9 493.3h1M105.9 493.3h1M107.9 493.3h1M112 493.3h1M116 493.3h1M118 493.3h1M166 493.3h1M173.1 493.3h1M176.1 493.3h1M193.1 493.3h1M196.1 493.3h1M200.1 493.3h1M203.1 493.3h1M237.2 493.3h1M244.2 493.3h1M62.9 502h1M120 502h1M194.1 502h2M211.1 502h1M247.2 502h1M35.8 510.6h1M44.8 510.6h1M74.9 510.6h1M78.9 510.6h1M83.9 510.6h1M99.9 510.6h1M104.9 510.6h1M188.1 510.6h1M198.1 510.6h1M215.1 510.6h1M217.1 510.6h2M79.9 519.3h1M89.9 519.3h1M91.9 519.3h1M28.8 528h1M31.8 528h1M36.8 528h1M38.8 528h1M41.8 528h2M47.8 528h1M53.8 528h1M60.9 528h1M62.9 528h1M65.9 528h1M67.9 528h1M69.9 528h2M75.9 528h1M81.9 528h1M87.9 528h2M92.9 528h1M97.9 528h1M200.1 528h3M204.1 528h2M213.1 528h1M216.1 528h1M230.2 528h2M233.2 528h3M241.2 528h1M243.2 528h1M245.2 528h1M250.2 528h1M36.8 536.7h1M240.2 536.7h2M249.2 536.7h1" stroke="#96ca65" stroke-width="9.27" fill="none"/>
<path d="M55.9 475.9h1M104.9 475.9h1M190.1 475.9h1M34.8 484.6h3M40.8 484.6h1M45.8 484.6h1M50.8 484.6h1M54.9 484.6h1M62.9 484.6h1M73.9 484.6h1M80.9 484.6h2M83.9 484.6h1M92.9 484.6h1M95.9 484.6h1M99.9 484.6h1M104.9 484.6h2M111 484.6h1M123 484.6h1M143 484.6h1M157 484.6h1M159 484.6h1M169.1 484.6h1M173.1 484.6h1M177.1 484.6h1M190.1 484.6h2M198.1 484.6h2M201.1 484.6h1M220.1 484.6h1M224.2 484.6h1M227.2 484.6h1M234.2 484.6h2M165 493.3h1M235.2 493.3h1M240.2 493.3h1M46.8 502h1M125 502h1M160 502h1M55.9 510.6h1M112 519.3h1M115 519.3h1M122 519.3h3M126 519.3h1M131 519.3h1M135 519.3h2M139 519.3h1M144 519.3h1M149 519.3h1M151 519.3h1M156 519.3h1M159 519.3h1M111 528h1M119 528h1M123 528h1M127 528h1M132 528h1M135 528h1M137 528h4M147 528h1M151 528h1M164 528h3M168.1 528h1M171.1 528h1M180.1 528h1M184.1 528h1M190.1 528h1M120 536.7h1M141 536.7h1M167.1 536.7h1M169.1 536.7h1M195.1 536.7h1M198.1 536.7h1M201.1 536.7h2M213.1 536.7h1M218.1 536.7h3M225.2 536.7h1M230.2 536.7h1M232.2 536.7h2" stroke="#3cb2c5" stroke-width="9.27" fill="none"/>
<path d="M63.9 475.9h1M73.9 475.9h1M81.9 475.9h1M95.9 475.9h1M100.9 475.9h1M137 475.9h1M157 475.9h1M169.1 475.9h1M173.1 475.9h1M175.1 475.9h2M185.1 475.9h1M188.1 475.9h1M204.1 475.9h1M243.2 475.9h1M246.2 475.9h2M250.2 475.9h1M28.8 484.6h1M33.8 484.6h1M38.8 484.6h2M41.8 484.6h1M43.8 484.6h2M48.8 484.6h1M51.8 484.6h1M53.8 484.6h1M56.9 484.6h1M59.9 484.6h1M61.9 484.6h1M64.9 484.6h4M69.9 484.6h4M78.9 484.6h2M84.9 484.6h1M86.9 484.6h2M89.9 484.6h2M97.9 484.6h1M102.9 484.6h1M107.9 484.6h2M113 484.6h2M116 484.6h1M118 484.6h1M120 484.6h1M124 484.6h1M128 484.6h1M132 484.6h1M139 484.6h2M144 484.6h3M148 484.6h2M151 484.6h1M153 484.6h1M156 484.6h1M158 484.6h1M160 484.6h1M162 484.6h1M167.1 484.6h1M174.1 484.6h1M178.1 484.6h1M182.1 484.6h2M187.1 484.6h3M192.1 484.6h1M197.1 484.6h1M204.1 484.6h1M206.1 484.6h1M210.1 484.6h2M214.1 484.6h5M221.1 484.6h1M225.2 484.6h1M229.2 484.6h1M231.2 484.6h1M236.2 484.6h1M239.2 484.6h1M241.2 484.6h1M245.2 484.6h2M250.2 484.6h1M62.9 493.3h1M77.9 493.3h1M84.9 493.3h1M98.9 493.3h2M104.9 493.3h1M106.9 493.3h1M167.1 493.3h1M174.1 493.3h1M231.2 493.3h1M36.8 502h1M44.8 502h2M48.8 502h1M54.9 502h1M59.9 502h1M76.9 502h2M87.9 502h1M102.9 502h1M137 502h2M148 502h1M150 502h2M154 502h1M158 502h1M180.1 502h1M201.1 502h1M221.1 502h1M230.2 502h1M31.8 510.6h1M54.9 510.6h1M58.9 510.6h1M60.9 510.6h1M82.9 510.6h1M112 510.6h1M119 510.6h1M127 510.6h1M150 510.6h1M152 510.6h1M161 510.6h2M170.1 510.6h1M182.1 510.6h2M207.1 510.6h1M232.2 510.6h1M234.2 510.6h3M42.8 519.3h2M73.9 519.3h1M78.9 519.3h1M109.9 519.3h1M113 519.3h1M116 519.3h3M121 519.3h1M128 519.3h3M137 519.3h2M143 519.3h1M150 519.3h1M162 519.3h3M50.8 528h1M107.9 528h1M120 528h1M125 528h1M129 528h1M143 528h1M146 528h1M148 528h1M153 528h3M158 528h1M161 528h1M163 528h1M167.1 528h1M176.1 528h1M178.1 528h2M189.1 528h1M191.1 528h1M164 536.7h1M203.1 536.7h1M207.1 536.7h1M215.1 536.7h1" stroke="#48b8b7" stroke-width="9.27" fill="none"/>
<path d="M80.9 475.9h1M116 475.9h1M124 475.9h1M130 475.9h1M179.1 475.9h1M234.2 475.9h1M30.8 493.3h1M54.9 493.3h2M108.9 493.3h1M126 493.3h1M130 493.3h1M139 493.3h1M154 493.3h1M192.1 493.3h1M194.1 493.3h2M197.1 493.3h1M202.1 493.3h1M204.1 493.3h1M206.1 493.3h1M208.1 493.3h4M232.2 493.3h1M212.1 510.6h1M46.8 519.3h1M55.9 519.3h2M80.9 519.3h1M83.9 519.3h1M87.9 519.3h1M90.9 519.3h1M93.9 519.3h1M95.9 519.3h2M99.9 519.3h1M191.1 519.3h1M197.1 519.3h1M206.1 519.3h1M220.1 519.3h1M32.8 528h1M34.8 528h2M37.8 528h1M39.8 528h1M43.8 528h1M56.9 528h2M82.9 528h1M89.9 528h2M98.9 528h1M101.9 528h1M105.9 528h1M209.1 528h2M214.1 528h1M217.1 528h1M219.1 528h2M222.1 528h1M226.2 528h2M229.2 528h1M236.2 528h1M238.2 528h1M240.2 528h1M247.2 528h2M52.8 536.7h1M237.2 536.7h1M239.2 536.7h1M242.2 536.7h2M248.2 536.7h1" stroke="#b1d153" stroke-width="9.27" fill="none"/>
<path d="M87.9 475.9h1M91.9 475.9h2M112 475.9h1M126 475.9h1M128 475.9h1M29.8 484.6h1M38.8 493.3h1M67.9 493.3h1M69.9 493.3h1M111 493.3h1M133 493.3h1M138 493.3h1M160 493.3h1M198.1 493.3h1M201.1 493.3h1M243.2 493.3h1M91.9 502h1M93.9 502h1M115 502h1M81.9 519.3h2M84.9 519.3h3M92.9 519.3h1M94.9 519.3h1M97.9 519.3h1M166 519.3h1M175.1 519.3h1M180.1 519.3h1M187.1 519.3h1M194.1 519.3h1M210.1 519.3h1M223.2 519.3h1M226.2 519.3h1M230.2 519.3h1M83.9 528h2M195.1 528h3M211.1 528h1M218.1 528h1M221.1 528h1M33.8 536.7h1M39.8 536.7h1M82.9 536.7h1M96.9 536.7h1" stroke="#c8d547" stroke-width="9.27" fill="none"/>
<path d="M88.9 475.9h1M90.9 475.9h1M113 475.9h1M121 475.9h1M40.8 493.3h1M70.9 493.3h1M140 493.3h2M143 493.3h1M50.8 502h1M94.9 502h2M112 502h1M114 502h1M136 502h1M142 502h1M161 502h1M140 510.6h1M47.8 519.3h1M52.8 519.3h1M106.9 519.3h1M165 519.3h1M167.1 519.3h1M169.1 519.3h1M171.1 519.3h1M185.1 519.3h1M188.1 519.3h1M190.1 519.3h1M192.1 519.3h1M199.1 519.3h2M205.1 519.3h1M219.1 519.3h1M221.1 519.3h1M227.2 519.3h1M231.2 519.3h1M223.2 528h1M228.2 528h1M28.8 536.7h2M37.8 536.7h1M43.8 536.7h1M59.9 536.7h1M74.9 536.7h1M83.9 536.7h1M103.9 536.7h2" stroke="#eed838" stroke-width="9.27" fill="none"/>
<path d="M114 475.9h1M119 475.9h1M122 475.9h1M51.8 493.3h1M149 493.3h5M157 493.3h1M139 502h1M138 510.6h1M197.1 510.6h1M44.8 519.3h1M48.8 519.3h1M58.9 519.3h2M101.9 519.3h1M107.9 519.3h2M174.1 519.3h1M211.1 519.3h1M215.1 519.3h2M222.1 519.3h1M235.2 519.3h1M238.2 519.3h1M248.2 519.3h1M49.8 536.7h1M51.8 536.7h1M54.9 536.7h1M58.9 536.7h1M64.9 536.7h2M70.9 536.7h1M78.9 536.7h1M80.9 536.7h1M86.9 536.7h1M89.9 536.7h1M91.9 536.7h1M94.9 536.7h1M106.9 536.7h1" stroke="#f6a02c" stroke-width="9.27" fill="none"/>
<path d="M118 475.9h1M31.8 493.3h1M33.8 493.3h2M52.8 493.3h1M129 493.3h1M134 493.3h2M137 493.3h1M147 493.3h1M155 493.3h2M158 493.3h2M161 493.3h2M135 502h1M140 502h1M45.8 519.3h1M50.8 519.3h2M57.9 519.3h1M104.9 519.3h2M168.1 519.3h1M170.1 519.3h1M179.1 519.3h1M195.1 519.3h1M201.1 519.3h1M203.1 519.3h2M212.1 519.3h3M225.2 519.3h1M236.2 519.3h1M239.2 519.3h1M35.8 536.7h1M41.8 536.7h1M73.9 536.7h1M105.9 536.7h1" stroke="#f1c534" stroke-width="9.27" fill="none"/>
<path d="M47.8 484.6h1M49.8 484.6h1M68.9 484.6h1M85.9 484.6h1M88.9 484.6h1M94.9 484.6h1M96.9 484.6h1M121 484.6h1M137 484.6h1M193.1 484.6h1M195.1 484.6h2M222.1 484.6h2M240.2 484.6h1M167.1 502h1M111 519.3h1M114 519.3h1M119 519.3h1M132 519.3h1M140 519.3h1M142 519.3h1M147 519.3h1M154 519.3h2M157 519.3h2M160 519.3h2M114 528h1M121 528h1M130 528h1M142 528h1M144 528h2M150 528h1M152 528h1M169.1 528h1M174.1 528h1M177.1 528h1M181.1 528h1M192.1 528h1M194.1 528h1M114 536.7h1M122 536.7h1M129 536.7h1M162 536.7h1M196.1 536.7h1M200.1 536.7h1M205.1 536.7h1M210.1 536.7h3M216.1 536.7h2M223.2 536.7h2M226.2 536.7h1M229.2 536.7h1" stroke="#32a6d3" stroke-width="9.27" fill="none"/>
<path d="M155 484.6h1M194.1 484.6h1M127 519.3h1M133 519.3h1M183.1 528h1M113 536.7h1M118 536.7h2M136 536.7h1M146 536.7h1M149 536.7h1M176.1 536.7h1M186.1 536.7h1M191.1 536.7h1M222.1 536.7h1M227.2 536.7h1M231.2 536.7h1M234.2 536.7h1" stroke="#328fce" stroke-width="9.27" fill="none"/>
<path d="M164 484.6h1M68.9 493.3h1M132 493.3h1M139 510.6h1M242.2 519.3h1M246.2 519.3h1M30.8 536.7h1M38.8 536.7h1M44.8 536.7h1M62.9 536.7h1M66.9 536.7h1M75.9 536.7h1M85.9 536.7h1M98.9 536.7h1M108.9 536.7h1" stroke="#f26030" stroke-width="9.27" fill="none"/>
<path d="M165 484.6h1M60.9 519.3h1M173.1 519.3h1M32.8 536.7h1M101.9 536.7h1M109.9 536.7h1" stroke="#ee4030" stroke-width="9.27" fill="none"/>
<path d="M145 493.3h2M148 493.3h1M163 493.3h1M162 502h1M134 510.6h1M136 510.6h1M49.8 519.3h1M54.9 519.3h1M208.1 519.3h2M229.2 519.3h1M241.2 519.3h1M243.2 519.3h1M247.2 519.3h1M250.2 519.3h1M50.8 536.7h1M53.8 536.7h1M55.9 536.7h1M60.9 536.7h1M63.9 536.7h1M68.9 536.7h2M72.9 536.7h1M81.9 536.7h1M84.9 536.7h1M92.9 536.7h1M97.9 536.7h1M99.9 536.7h1" stroke="#f58b2d" stroke-width="9.27" fill="none"/>
<path d="M135 510.6h1M141 510.6h1M63.9 519.3h1" stroke="#ec3030" stroke-width="9.27" fill="none"/>
<path d="M103.9 519.3h1M47.8 536.7h1M57.9 536.7h1" stroke="#f05030" stroke-width="9.27" fill="none"/>
<path d="M111 536.7h1M117 536.7h1M124 536.7h1M130 536.7h1M135 536.7h1M139 536.7h1M151 536.7h1M161 536.7h1M165 536.7h1M174.1 536.7h1M185.1 536.7h1M188.1 536.7h1M193.1 536.7h2M199.1 536.7h1M208.1 536.7h1M214.1 536.7h1" stroke="#3a6ebe" stroke-width="9.27" fill="none"/>
<path d="M112 536.7h1M132 536.7h1M152 536.7h1M155 536.7h1M158 536.7h1M160 536.7h1M171.1 536.7h1M175.1 536.7h1M192.1 536.7h1" stroke="#3a479c" stroke-width="9.27" fill="none"/>
<path d="M115 536.7h1M121 536.7h1M127 536.7h1M133 536.7h2M140 536.7h1M142 536.7h3M148 536.7h1M153 536.7h2M156 536.7h1M159 536.7h1M172.1 536.7h2M177.1 536.7h1M179.1 536.7h2M184.1 536.7h1M187.1 536.7h1M189.1 536.7h1M197.1 536.7h1M209.1 536.7h1M221.1 536.7h1" stroke="#3a5eb1" stroke-width="9.27" fill="none"/>
<path d="M116 536.7h1M125 536.7h1M145 536.7h1" stroke="#384094" stroke-width="9.27" fill="none"/>
<path d="M123 536.7h1M126 536.7h1M128 536.7h1M131 536.7h1M137 536.7h2M147 536.7h1M150 536.7h1M157 536.7h1M163 536.7h1M178.1 536.7h1M181.1 536.7h3M190.1 536.7h1" stroke="#3b4ea4" stroke-width="9.27" fill="none"/>
<path d="M170.1 536.7h1" stroke="#37398c" stroke-width="9.27" fill="none"/>
<path d="M21.8 475.9H14.3V484.6H21.8M14.3 480.3H12.3V493.3H21.8M21.8 502H16.4V510.6H21.8M12.3 486.8H11.6V506.3H16.4M21.8 519.3H15.8V528H21.8M15.8 523.6H14.3V536.7H21.8M11.6 496.5H5.5V530.2H14.3" stroke="#777" stroke-width="0.8" fill="none"/>
<text x="253.3" y="480.4" font-size="9.05" fill="#111"><tspan font-weight="bold">Stem</tspan><tspan fill="#222"> (</tspan><tspan font-style="italic" fill="#222">SMOC2, ALCAM, LGR5</tspan><tspan fill="#222">)</tspan></text>
<text x="253.3" y="488" font-size="9.05" fill="#111"><tspan font-weight="bold">Paneth</tspan><tspan fill="#222">(</tspan><tspan font-style="italic" fill="#222">DEFA5, SPINK4, FRZB</tspan><tspan fill="#222">)</tspan></text>
<text x="253.3" y="496.2" font-size="9.05" fill="#111"><tspan font-weight="bold">Tdiff</tspan><tspan fill="#222"> (</tspan><tspan font-style="italic" fill="#222">CA9, TFF3, FABP1</tspan><tspan fill="#222">)</tspan></text>
<text x="253.3" y="506.9" font-size="9.05" fill="#111"><tspan font-weight="bold">Fatty acid metabolism</tspan></text>
<text x="253.3" y="515.5" font-size="9.05" fill="#111"><tspan font-weight="bold">Immune response</tspan></text>
<text x="253.3" y="524" font-size="9.05" fill="#111"><tspan font-weight="bold">TA</tspan><tspan fill="#222"> (</tspan><tspan font-style="italic" fill="#222">CCND1, MYC, PA2G4</tspan><tspan fill="#222">)</tspan></text>
<text x="253.3" y="532.2" font-size="9.05" fill="#111"><tspan font-weight="bold">OXPHOS</tspan></text>
<text x="253.3" y="541.4" font-size="9.05" fill="#111"><tspan font-weight="bold">Cell cycle</tspan></text>
<text x="253.8" y="467.2" font-size="9.35" fill="#222"><tspan font-style="italic">LGR5</tspan><tspan font-size="6" dy="-3.6">+</tspan><tspan dy="3.6"> patient</tspan></text>
<rect x="321.5" y="449.5" width="5.3" height="5.3" fill="#7fcfb0" stroke="#aaa" stroke-width="0.4"/>
<text x="327.6" y="455.3" font-size="8.8" fill="#222">P1</text>
<rect x="343.5" y="449.5" width="5.3" height="5.3" fill="#c8aede" stroke="#aaa" stroke-width="0.4"/>
<text x="349.6" y="455.3" font-size="8.8" fill="#222">P4</text>
<rect x="364.7" y="449.5" width="5.3" height="5.3" fill="#80a8d8" stroke="#aaa" stroke-width="0.4"/>
<text x="370.8" y="455.3" font-size="8.8" fill="#222">P7</text>
<rect x="385.6" y="449.5" width="5.3" height="5.3" fill="#a8d060" stroke="#aaa" stroke-width="0.4"/>
<text x="391.7" y="455.3" font-size="8.8" fill="#222">P10</text>
<rect x="321.5" y="461.9" width="5.3" height="5.3" fill="#f8ec90" stroke="#aaa" stroke-width="0.4"/>
<text x="327.6" y="467.7" font-size="8.8" fill="#222">P3</text>
<rect x="343.5" y="461.9" width="5.3" height="5.3" fill="#f06048" stroke="#aaa" stroke-width="0.4"/>
<text x="349.6" y="467.7" font-size="8.8" fill="#222">P5</text>
<rect x="364.7" y="461.9" width="5.3" height="5.3" fill="#f8a050" stroke="#aaa" stroke-width="0.4"/>
<text x="370.8" y="467.7" font-size="8.8" fill="#222">P8</text>
<rect x="385.6" y="461.9" width="5.3" height="5.3" fill="#f8b0c8" stroke="#aaa" stroke-width="0.4"/>
<text x="391.7" y="467.7" font-size="8.8" fill="#222">P11</text>
<text x="391.3" y="479.7" font-size="9.15" fill="#222">Meta-signature</text>
<text x="391.3" y="488.2" font-size="9.15" fill="#222">score (log<tspan font-size="5.6" dy="2">10</tspan><tspan dy="-2">)</tspan></text>
<defs><linearGradient id="gd" x1="0" y1="0" x2="0" y2="1"><stop offset="0.035" stop-color="#ec3030"/><stop offset="0.141" stop-color="#f26030"/><stop offset="0.246" stop-color="#f6a02c"/><stop offset="0.352" stop-color="#eed838"/><stop offset="0.444" stop-color="#bcd44c"/><stop offset="0.514" stop-color="#86c670"/><stop offset="0.585" stop-color="#5abda2"/><stop offset="0.655" stop-color="#40b6c0"/><stop offset="0.718" stop-color="#2ea2d8"/><stop offset="0.775" stop-color="#3a6ebe"/><stop offset="0.845" stop-color="#3b4ea4"/><stop offset="0.951" stop-color="#37398c"/><stop offset="1.000" stop-color="#35358a"/></linearGradient></defs>
<rect x="391.2" y="490" width="7.6" height="46.5" fill="url(#gd)"/>
<text x="400.6" y="498.8" font-size="9" fill="#222">1.2</text>
<text x="400.6" y="511.7" font-size="9" fill="#222">0.8</text>
<text x="400.6" y="524.9" font-size="9" fill="#222">0.4</text>
<text x="400.6" y="537.6" font-size="9" fill="#222">0.0</text>
</svg>
</body></html>
